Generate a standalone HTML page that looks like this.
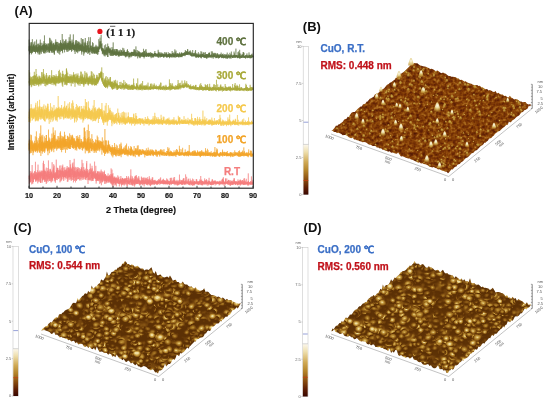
<!DOCTYPE html>
<html><head><meta charset="utf-8">
<style>
html,body{margin:0;padding:0;background:#fff;width:550px;height:405px;overflow:hidden}
svg{display:block}
text{font-family:"Liberation Sans",Arial,sans-serif}
.pl{font-size:13px;font-weight:bold;fill:#111}
.tl{font-size:7.3px;font-weight:bold;fill:#111;stroke:#111;stroke-width:0.15px}
.lab{font-size:10px;font-weight:bold;stroke-width:0.25px}
.ax{font-size:8.8px;font-weight:bold;fill:#111;stroke:#111;stroke-width:0.15px}
.cb{font-size:4px;fill:#666}
.at{font-size:4px;fill:#555}
.h0{fill:url(#bh0)}.h1{fill:url(#bh1)}.h2{fill:url(#bh2)}.h3{fill:url(#bh3)}.h4{fill:url(#bh4)}.h5{fill:url(#bh5)}.h6{fill:url(#bh6)}
.t1{font-size:10px;font-weight:bold;fill:#3b6fc6;stroke:#3b6fc6;stroke-width:0.25px}
.t2{font-size:10px;font-weight:bold;fill:#c0121a;stroke:#c0121a;stroke-width:0.25px}
</style></head>
<body>
<svg width="550" height="405" viewBox="0 0 550 405" xmlns="http://www.w3.org/2000/svg">
<defs>
<linearGradient id="cbg" x1="0" y1="0" x2="0" y2="1">
<stop offset="0" stop-color="#fcf8ee"/><stop offset="0.15" stop-color="#eedfae"/><stop offset="0.35" stop-color="#d0aa56"/><stop offset="0.52" stop-color="#b4842a"/>
<stop offset="0.7" stop-color="#8a4e10"/><stop offset="0.86" stop-color="#5e1e04"/><stop offset="1" stop-color="#380600"/>
</linearGradient>
<radialGradient id="pkg" cx="0.5" cy="0.4" r="0.6">
<stop offset="0" stop-color="#d2b454"/><stop offset="0.5" stop-color="#b89030" stop-opacity="0.75"/><stop offset="1" stop-color="#a06818" stop-opacity="0"/>
</radialGradient>
<linearGradient id="pkc" x1="0" y1="0" x2="0" y2="1">
<stop offset="0" stop-color="#f4e4b8"/><stop offset="0.6" stop-color="#dcb868" stop-opacity="0.6"/><stop offset="1" stop-color="#c09040" stop-opacity="0"/>
</linearGradient>
<radialGradient id="gm" cx="0.45" cy="0.4" r="0.55"><stop offset="0" stop-color="#e2bc66"/><stop offset="0.5" stop-color="#c89438"/><stop offset="0.85" stop-color="#a06a1c" stop-opacity="0.8"/><stop offset="1" stop-color="#8a5010" stop-opacity="0"/></radialGradient>
<radialGradient id="gl" cx="0.45" cy="0.4" r="0.55"><stop offset="0" stop-color="#f2dc9e"/><stop offset="0.5" stop-color="#d8ae52"/><stop offset="0.85" stop-color="#aa7424" stop-opacity="0.8"/><stop offset="1" stop-color="#8a5010" stop-opacity="0"/></radialGradient>
<radialGradient id="gd" cx="0.45" cy="0.4" r="0.55"><stop offset="0" stop-color="#c8963e"/><stop offset="0.5" stop-color="#a8701e"/><stop offset="0.85" stop-color="#8a5212" stop-opacity="0.8"/><stop offset="1" stop-color="#7a4008" stop-opacity="0"/></radialGradient>
<radialGradient id="gp" cx="0.45" cy="0.4" r="0.55"><stop offset="0" stop-color="#fffaee"/><stop offset="0.45" stop-color="#eedcaa"/><stop offset="0.85" stop-color="#b88a3a" stop-opacity="0.8"/><stop offset="1" stop-color="#8a5010" stop-opacity="0"/></radialGradient>
<radialGradient id="blob"><stop offset="0" stop-color="#fff" stop-opacity="0.42"/><stop offset="0.45" stop-color="#fff" stop-opacity="0.3"/><stop offset="1" stop-color="#fff" stop-opacity="0"/></radialGradient>
<radialGradient id="bh0"><stop offset="0" stop-color="rgb(89,89,89)"/><stop offset="0.55" stop-color="rgb(55,55,55)"/><stop offset="1" stop-color="rgb(22,22,22)"/></radialGradient>
<radialGradient id="bh1"><stop offset="0" stop-color="rgb(127,127,127)"/><stop offset="0.55" stop-color="rgb(78,78,78)"/><stop offset="1" stop-color="rgb(31,31,31)"/></radialGradient>
<radialGradient id="bh2"><stop offset="0" stop-color="rgb(158,158,158)"/><stop offset="0.55" stop-color="rgb(97,97,97)"/><stop offset="1" stop-color="rgb(39,39,39)"/></radialGradient>
<radialGradient id="bh3"><stop offset="0" stop-color="rgb(188,188,188)"/><stop offset="0.55" stop-color="rgb(116,116,116)"/><stop offset="1" stop-color="rgb(47,47,47)"/></radialGradient>
<radialGradient id="bh4"><stop offset="0" stop-color="rgb(216,216,216)"/><stop offset="0.55" stop-color="rgb(133,133,133)"/><stop offset="1" stop-color="rgb(54,54,54)"/></radialGradient>
<radialGradient id="bh5"><stop offset="0" stop-color="rgb(242,242,242)"/><stop offset="0.55" stop-color="rgb(150,150,150)"/><stop offset="1" stop-color="rgb(60,60,60)"/></radialGradient>
<radialGradient id="bh6"><stop offset="0" stop-color="#fff"/><stop offset="0.55" stop-color="rgb(190,190,190)"/><stop offset="1" stop-color="rgb(80,80,80)"/></radialGradient>
<radialGradient id="pk" cx="0.5" cy="0.35" r="0.75">
<stop offset="0" stop-color="#fbf8e8"/><stop offset="0.3" stop-color="#eadaa0"/><stop offset="0.65" stop-color="#c8a040" stop-opacity="0.75"/><stop offset="1" stop-color="#a87020" stop-opacity="0"/>
</radialGradient>
</defs>
<rect width="550" height="405" fill="#fff"/>
<text x="14.6" y="15.3" class="pl">(A)</text>
<g>
<g transform="translate(29,0) scale(0.056014,0.2)"><path fill="none" stroke="#5f7240" stroke-width="0.5" stroke-linejoin="bevel" vector-effect="non-scaling-stroke" d="M0,231l1,17 1,6 1,-56 1,35 1,25 1,-5 1,-8 1,9 1,-23 1,41 1,-34 1,7 1,18 1,-34 1,20 1,-12 1,8 1,6 1,-38 1,20 1,-5 1,14 1,-11 1,32 1,-25 1,27 1,-25 1,8 1,-3 1,0 1,-14 1,15 1,3 1,-1 1,4 1,-17 1,6 1,-4 1,-15 1,27 1,-39 1,34 1,28 1,-25 1,-1 1,12 1,2 1,6 1,-53 1,53 1,-23 1,-12 1,3 1,24 1,-9 1,11 1,-26 1,7 1,-11 1,-34 1,48 1,20 1,-6 1,-23 1,18 1,-15 1,8 1,9 1,-15 1,-6 1,18 1,-10 1,-15 1,25 1,-10 1,7 1,-16 1,20 1,-24 1,11 1,-18 1,36 1,-12 1,-14 1,-8 1,4 1,12 1,19 1,-47 1,27 1,18 1,-27 1,16 1,-15 1,14 1,3 1,12 1,-14 1,-10 1,15 1,-7 1,-4 1,-3 1,23 1,-53 1,40 1,9 1,-18 1,0 1,12 1,-7 1,2 1,-6 1,2 1,14 1,13 1,-40 1,34 1,-9 1,6 1,-13 1,-11 1,7 1,-9 1,-9 1,19 1,4 1,-6 1,6 1,-21 1,31 1,-28 1,16 1,8 1,-55 1,52 1,9 1,-2 1,-11 1,-10 1,14 1,-15 1,12 1,0 1,12 1,-10 1,-3 1,15 1,-18 1,-5 1,0 1,24 1,-18 1,-7 1,-16 1,11 1,16 1,3 1,13 1,-28 1,14 1,-7 1,-26 1,55 1,-42 1,-2 1,27 1,-6 1,10 1,-7 1,-4 1,-6 1,-7 1,16 1,-30 1,21 1,11 1,-23 1,24 1,-7 1,-2 1,-3 1,9 1,-12 1,2 1,28 1,-7 1,-6 1,5 1,-1 1,-33 1,47 1,-49 1,21 1,-15 1,20 1,-2 1,-2 1,-33 1,39 1,-6 1,-49 1,64 1,-20 1,-7 1,0 1,2 1,11 1,-12 1,-3 1,-3 1,23 1,-8 1,-10 1,2 1,-4 1,37 1,-22 1,-2 1,16 1,-26 1,-5 1,7 1,8 1,-5 1,-2 1,6 1,-7 1,-24 1,38 1,-12 1,0 1,0 1,8 1,-18 1,4 1,-8 1,3 1,18 1,-10 1,-5 1,-5 1,31 1,-20 1,8 1,-4 1,-10 1,16 1,-13 1,24 1,-9 1,-32 1,22 1,1 1,1 1,-14 1,-5 1,18 1,6 1,-19 1,37 1,-38 1,10 1,30 1,-43 1,-18 1,24 1,27 1,-23 1,17 1,-5 1,-24 1,22 1,-16 1,24 1,-75 1,24 1,45 1,-9 1,28 1,-6 1,-37 1,22 1,-5 1,29 1,-32 1,-1 1,-20 1,25 1,-9 1,14 1,-9 1,-4 1,28 1,-16 1,-15 1,-4 1,13 1,-11 1,-1 1,29 1,-15 1,-5 1,8 1,-8 1,8 1,21 1,-22 1,-20 1,6 1,21 1,-9 1,7 1,-25 1,15 1,6 1,5 1,-3 1,-7 1,19 1,-16 1,-24 1,9 1,15 1,3 1,-18 1,1 1,19 1,-1 1,1 1,4 1,-8 1,-10 1,25 1,-3 1,8 1,-15 1,-4 1,2 1,1 1,-26 1,20 1,-2 1,9 1,-11 1,2 1,-1 1,-20 1,29 1,-9 1,1 1,17 1,0 1,-17 1,24 1,-11 1,-10 1,-10 1,0 1,22 1,-35 1,44 1,-19 1,-6 1,24 1,-17 1,-18 1,7 1,-44 1,37 1,38 1,-22 1,-10 1,18 1,-3 1,-55 1,36 1,-12 1,35 1,-14 1,14 1,-11 1,-25 1,17 1,12 1,-12 1,14 1,-36 1,20 1,21 1,-34 1,36 1,-54 1,34 1,22 1,-21 1,19 1,-19 1,-3 1,22 1,1 1,-16 1,-25 1,49 1,-28 1,22 1,-51 1,24 1,13 1,-2 1,24 1,-44 1,14 1,10 1,2 1,-5 1,2 1,10 1,-19 1,0 1,5 1,10 1,-26 1,40 1,-27 1,-3 1,3 1,-9 1,2 1,7 1,-22 1,35 1,-14 1,1 1,9 1,-28 1,21 1,14 1,8 1,-42 1,5 1,9 1,23 1,9 1,-27 1,-16 1,20 1,8 1,1 1,-6 1,25 1,-30 1,35 1,-48 1,31 1,-4 1,-4 1,-19 1,8 1,-13 1,15 1,3 1,3 1,-22 1,6 1,-17 1,27 1,-14 1,26 1,-20 1,13 1,-11 1,4 1,-2 1,-12 1,25 1,-52 1,57 1,-45 1,23 1,12 1,5 1,-34 1,25 1,0 1,1 1,-8 1,-5 1,12 1,5 1,-3 1,-5 1,-9 1,19 1,-37 1,19 1,-20 1,13 1,18 1,16 1,-11 1,4 1,-17 1,-7 1,8 1,-1 1,31 1,-7 1,-8 1,-11 1,-15 1,12 1,-24 1,19 1,14 1,16 1,4 1,-27 1,3 1,3 1,-12 1,24 1,-10 1,-5 1,6 1,-13 1,3 1,18 1,-3 1,-10 1,-26 1,54 1,-24 1,-24 1,6 1,19 1,0 1,-3 1,11 1,-36 1,34 1,-17 1,-2 1,6 1,6 1,-3 1,-7 1,2 1,37 1,-29 1,-10 1,19 1,-4 1,-34 1,38 1,-31 1,12 1,26 1,-37 1,9 1,-4 1,-27 1,26 1,-17 1,32 1,-17 1,21 1,-20 1,-13 1,35 1,-11 1,7 1,-15 1,7 1,17 1,-35 1,16 1,-17 1,35 1,-14 1,-14 1,-8 1,21 1,1 1,-4 1,18 1,-28 1,21 1,9 1,-25 1,17 1,8 1,-84 1,58 1,-7 1,21 1,16 1,-39 1,17 1,30 1,-38 1,15 1,-3 1,-11 1,17 1,-6 1,-6 1,-2 1,-35 1,30 1,-1 1,3 1,10 1,1 1,-22 1,28 1,-26 1,-7 1,18 1,8 1,8 1,-26 1,10 1,16 1,-13 1,15 1,-6 1,-26 1,8 1,21 1,-40 1,39 1,-12 1,-9 1,38 1,-38 1,3 1,4 1,0 1,10 1,-1 1,-34 1,34 1,8 1,-2 1,-6 1,-24 1,28 1,-15 1,-7 1,13 1,7 1,-20 1,-1 1,15 1,-35 1,27 1,9 1,-41 1,54 1,-14 1,-24 1,12 1,25 1,1 1,0 1,-19 1,-8 1,19 1,-10 1,-1 1,-6 1,13 1,-15 1,-7 1,41 1,-24 1,16 1,-13 1,3 1,-3 1,24 1,-22 1,-1 1,-6 1,-4 1,21 1,-24 1,-9 1,21 1,3 1,-20 1,18 1,-4 1,-19 1,-7 1,30 1,-10 1,16 1,-26 1,30 1,-23 1,15 1,18 1,-24 1,-2 1,-3 1,-12 1,16 1,-16 1,-1 1,-3 1,31 1,-11 1,16 1,-21 1,-41 1,39 1,-3 1,3 1,-21 1,44 1,0 1,-20 1,7 1,18 1,-19 1,-25 1,16 1,24 1,-27 1,27 1,-20 1,13 1,-14 1,-56 1,23 1,13 1,33 1,-33 1,25 1,-27 1,33 1,11 1,-15 1,-4 1,7 1,2 1,5 1,-16 1,20 1,-27 1,11 1,8 1,-4 1,7 1,-4 1,-1 1,20 1,-23 1,-20 1,17 1,4 1,-9 1,0 1,2 1,-23 1,48 1,-57 1,24 1,11 1,-1 1,-1 1,14 1,-31 1,20 1,11 1,-23 1,22 1,-8 1,-20 1,8 1,22 1,-19 1,10 1,-2 1,-13 1,28 1,-6 1,-3 1,-7 1,-62 1,52 1,23 1,-36 1,37 1,-8 1,2 1,-6 1,-12 1,2 1,8 1,8 1,9 1,-11 1,3 1,-16 1,20 1,-4 1,15 1,-10 1,-11 1,-14 1,23 1,-20 1,15 1,8 1,-2 1,-23 1,1 1,26 1,-6 1,25 1,-50 1,-3 1,6 1,-16 1,24 1,10 1,0 1,-7 1,-12 1,19 1,-10 1,18 1,-16 1,-33 1,52 1,0 1,5 1,-31 1,23 1,5 1,-14 1,-39 1,35 1,8 1,-17 1,12 1,11 1,11 1,-5 1,-29 1,-9 1,40 1,-5 1,-16 1,-19 1,38 1,-24 1,-27 1,31 1,-8 1,-9 1,4 1,15 1,1 1,-19 1,46 1,-14 1,-7 1,1 1,-33 1,26 1,6 1,-5 1,2 1,3 1,12 1,-6 1,-19 1,20 1,-19 1,8 1,2 1,-23 1,16 1,-28 1,35 1,-34 1,13 1,7 1,28 1,-16 1,-11 1,15 1,-4 1,5 1,-32 1,21 1,-8 1,29 1,-8 1,-12 1,2 1,0 1,-5 1,-5 1,-4 1,29 1,-26 1,18 1,5 1,-4 1,-7 1,8 1,-23 1,4 1,21 1,-23 1,27 1,-24 1,-12 1,17 1,-2 1,20 1,-22 1,21 1,-8 1,1 1,0 1,4 1,-58 1,65 1,-34 1,11 1,0 1,18 1,-19 1,31 1,-33 1,44 1,-24 1,3 1,-6 1,6 1,-19 1,-8 1,27 1,-2 1,-13 1,-14 1,17 1,4 1,4 1,-52 1,50 1,11 1,-17 1,-4 1,-1 1,8 1,-31 1,45 1,-19 1,-42 1,49 1,-9 1,23 1,-11 1,-11 1,-8 1,14 1,-3 1,1 1,3 1,34 1,-45 1,13 1,7 1,5 1,-17 1,6 1,-7 1,28 1,-32 1,11 1,-33 1,38 1,-17 1,27 1,-25 1,5 1,-9 1,14 1,-11 1,-14 1,-1 1,20 1,16 1,0 1,-48 1,32 1,3 1,-54 1,60 1,11 1,0 1,-11 1,-22 1,9 1,-21 1,41 1,-13 1,16 1,-6 1,-11 1,10 1,-9 1,-17 1,23 1,-3 1,0 1,17 1,-30 1,-7 1,29 1,3 1,-6 1,-6 1,2 1,-1 1,-1 1,-5 1,18 1,-21 1,-9 1,16 1,-9 1,-23 1,38 1,-20 1,2 1,-28 1,29 1,6 1,1 1,-11 1,-1 1,40 1,-26 1,-3 1,11 1,-4 1,-7 1,1 1,1 1,-2 1,25 1,-23 1,9 1,0 1,-27 1,34 1,-10 1,-63 1,78 1,-6 1,-8 1,-11 1,-3 1,9 1,-3 1,16 1,-4 1,5 1,-10 1,-4 1,-1 1,0 1,1 1,6 1,-1 1,-43 1,68 1,-26 1,-9 1,5 1,14 1,-2 1,-8 1,10 1,-4 1,-22 1,-11 1,-36 1,63 1,-17 1,-2 1,11 1,6 1,0 1,-19 1,18 1,4 1,-4 1,-14 1,1 1,-2 1,23 1,-13 1,1 1,15 1,10 1,-3 1,-22 1,-2 1,5 1,5 1,2 1,-24 1,34 1,-4 1,-15 1,11 1,-13 1,7 1,17 1,-31 1,9 1,-7 1,9 1,7 1,-41 1,58 1,-30 1,18 1,-12 1,8 1,-6 1,-1 1,-3 1,3 1,-8 1,4 1,-26 1,30 1,-7 1,7 1,-6 1,21 1,-14 1,1 1,15 1,-25 1,13 1,-16 1,6 1,0 1,28 1,-27 1,16 1,-2 1,10 1,-18 1,-12 1,2 1,29 1,-9 1,9 1,-1 1,-11 1,-4 1,7 1,-21 1,11 1,3 1,9 1,-27 1,-2 1,33 1,-6 1,-11 1,-1 1,5 1,-17 1,8 1,20 1,0 1,7 1,-13 1,8 1,-28 1,0 1,-12 1,5 1,2 1,27 1,1 1,-23 1,-2 1,28 1,4 1,-28 1,16 1,13 1,-12 1,14 1,-16 1,1 1,-17 1,-8 1,12 1,0 1,22 1,-26 1,13 1,2 1,6 1,-5 1,21 1,-33 1,1 1,12 1,9 1,-27 1,8 1,8 1,-8 1,9 1,-21 1,40 1,-17 1,-3 1,-12 1,19 1,-21 1,7 1,4 1,-15 1,18 1,-3 1,10 1,-6 1,7 1,-64 1,52 1,-5 1,2 1,-8 1,5 1,-6 1,0 1,9 1,-10 1,-1 1,4 1,0 1,3 1,-34 1,30 1,-11 1,-1 1,0 1,23 1,-17 1,-3 1,-40 1,44 1,-10 1,8 1,13 1,-14 1,-11 1,16 1,2 1,-11 1,-16 1,10 1,11 1,-25 1,22 1,4 1,-8 1,-4 1,21 1,-9 1,-57 1,59 1,6 1,-8 1,-11 1,21 1,3 1,-7 1,0 1,16 1,-14 1,10 1,3 1,-13 1,12 1,0 1,-34 1,27 1,14 1,-4 1,-11 1,17 1,11 1,-27 1,11 1,12 1,-27 1,15 1,-1 1,-5 1,11 1,3 1,-8 1,-13 1,4 1,1 1,14 1,-8 1,6 1,12 1,-7 1,-14 1,6 1,-7 1,15 1,-16 1,4 1,-9 1,15 1,18 1,-23 1,0 1,-1 1,7 1,2 1,20 1,-11 1,-10 1,-33 1,44 1,-8 1,-12 1,10 1,-2 1,10 1,-6 1,-12 1,11 1,12 1,-12 1,-7 1,-1 1,28 1,-11 1,-21 1,14 1,7 1,-4 1,-13 1,4 1,-18 1,-18 1,23 1,22 1,-10 1,-10 1,27 1,-6 1,-15 1,-14 1,3 1,15 1,-11 1,12 1,9 1,9 1,-9 1,-5 1,0 1,-25 1,32 1,-12 1,0 1,-21 1,21 1,-13 1,12 1,20 1,-24 1,3 1,0 1,7 1,-13 1,2 1,-5 1,39 1,-32 1,-35 1,29 1,12 1,-4 1,-16 1,46 1,-32 1,0 1,8 1,-24 1,17 1,-10 1,5 1,2 1,-19 1,17 1,-5 1,-12 1,23 1,-5 1,16 1,-15 1,4 1,-2 1,-4 1,18 1,-11 1,-1 1,4 1,1 1,-16 1,21 1,-23 1,9 1,8 1,5 1,-19 1,20 1,-8 1,19 1,-33 1,-5 1,13 1,2 1,3 1,-4 1,10 1,-3 1,-10 1,31 1,-24 1,-13 1,14 1,4 1,-3 1,0 1,15 1,-17 1,1 1,0 1,2 1,-3 1,8 1,9 1,-9 1,0 1,-7 1,2 1,-9 1,30 1,-19 1,-6 1,9 1,-2 1,12 1,-6 1,-14 1,-19 1,17 1,11 1,-13 1,30 1,-12 1,-2 1,-22 1,24 1,-11 1,9 1,-16 1,28 1,-23 1,6 1,1 1,-13 1,-1 1,17 1,5 1,-6 1,-52 1,51 1,-5 1,16 1,-1 1,-12 1,16 1,-15 1,6 1,10 1,-6 1,-8 1,-19 1,22 1,-3 1,5 1,-12 1,14 1,-9 1,12 1,-15 1,13 1,-5 1,2 1,2 1,2 1,-14 1,-9 1,15 1,5 1,-25 1,30 1,-16 1,9 1,-1 1,-4 1,13 1,-20 1,2 1,4 1,6 1,-9 1,19 1,-11 1,-1 1,-3 1,11 1,3 1,-32 1,0 1,12 1,13 1,-2 1,-9 1,4 1,0 1,10 1,-14 1,11 1,-9 1,-5 1,-10 1,34 1,-14 1,-8 1,16 1,-29 1,26 1,-4 1,1 1,4 1,2 1,-23 1,-4 1,26 1,2 1,-11 1,2 1,-6 1,-8 1,10 1,9 1,-5 1,10 1,-14 1,9 1,-6 1,5 1,-9 1,5 1,0 1,3 1,14 1,-26 1,17 1,-13 1,7 1,-3 1,2 1,12 1,-14 1,16 1,-23 1,10 1,-18 1,8 1,12 1,-8 1,12 1,-13 1,8 1,0 1,13 1,-11 1,-8 1,-9 1,12 1,7 1,-1 1,-11 1,8 1,3 1,-7 1,3 1,-1 1,1 1,8 1,-28 1,0 1,28 1,-12 1,13 1,3 1,-16 1,-2 1,14 1,0 1,-5 1,3 1,-9 1,6 1,-6 1,9 1,-12 1,-1 1,9 1,-20 1,30 1,-25 1,11 1,-1 1,2 1,-15 1,21 1,-2 1,-1 1,2 1,6 1,-12 1,-3 1,12 1,-15 1,5 1,-4 1,4 1,-3 1,14 1,-3 1,-13 1,8 1,-7 1,-22 1,30 1,-9 1,8 1,-3 1,15 1,-14 1,-7 1,8 1,-7 1,10 1,2 1,-8 1,-5 1,4 1,12 1,-16 1,9 1,-5 1,-21 1,32 1,-19 1,24 1,-9 1,4 1,-10 1,-4 1,-10 1,14 1,9 1,-3 1,1 1,-10 1,3 1,13 1,-18 1,1 1,21 1,-7 1,2 1,-9 1,-6 1,7 1,3 1,7 1,4 1,-16 1,8 1,-10 1,2 1,1 1,-7 1,1 1,26 1,-25 1,20 1,-18 1,9 1,-14 1,25 1,-10 1,-14 1,10 1,5 1,-15 1,20 1,-12 1,2 1,-11 1,9 1,10 1,-8 1,-4 1,-4 1,3 1,12 1,-13 1,-2 1,16 1,-8 1,-20 1,32 1,-10 1,-9 1,-17 1,29 1,1 1,-7 1,6 1,-4 1,-13 1,16 1,-5 1,1 1,-3 1,9 1,-5 1,-16 1,14 1,15 1,-20 1,0 1,7 1,2 1,0 1,-6 1,2 1,0 1,7 1,-7 1,5 1,18 1,-19 1,-1 1,0 1,-8 1,0 1,2 1,18 1,-17 1,16 1,-15 1,-6 1,8 1,12 1,3 1,-14 1,0 1,-1 1,1 1,1 1,2 1,-6 1,1 1,3 1,-2 1,-4 1,14 1,-12 1,2 1,0 1,0 1,-3 1,4 1,16 1,-21 1,0 1,11 1,-16 1,0 1,4 1,-1 1,-4 1,16 1,-13 1,9 1,-4 1,8 1,-8 1,15 1,-24 1,22 1,-18 1,11 1,6 1,-4 1,-14 1,-1 1,5 1,0 1,11 1,-4 1,-13 1,14 1,-4 1,5 1,-6 1,-4 1,-2 1,10 1,-13 1,4 1,14 1,1 1,-3 1,-10 1,14 1,-21 1,2 1,9 1,5 1,-13 1,15 1,-7 1,0 1,-2 1,12 1,-14 1,-5 1,13 1,2 1,-3 1,-26 1,26 1,-26 1,17 1,12 1,-4 1,-21 1,20 1,-5 1,7 1,-2 1,5 1,-7 1,-7 1,3 1,9 1,6 1,-16 1,-7 1,27 1,-13 1,7 1,-3 1,-6 1,-1 1,-3 1,-2 1,-12 1,25 1,4 1,-12 1,6 1,4 1,-46 1,39 1,9 1,-5 1,-2 1,1 1,-14 1,21 1,-9 1,-1 1,9 1,1 1,-6 1,2 1,-7 1,0 1,7 1,2 1,-14 1,9 1,-4 1,-2 1,-18 1,15 1,1 1,8 1,1 1,3 1,-11 1,-1 1,5 1,21 1,-22 1,-4 1,-3 1,11 1,7 1,-10 1,0 1,-17 1,13 1,4 1,10 1,-17 1,6 1,3 1,8 1,-5 1,-10 1,-4 1,9 1,5 1,-21 1,23 1,-13 1,16 1,-13 1,14 1,-21 1,17 1,-4 1,14 1,-15 1,-14 1,18 1,-6 1,-2 1,14 1,-4 1,-3 1,-1 1,2 1,9 1,5 1,-19 1,-5 1,-4 1,4 1,8 1,-8 1,2 1,3 1,15 1,-13 1,3 1,-9 1,-6 1,18 1,-5 1,3 1,-5 1,8 1,-8 1,3 1,9 1,-2 1,-16 1,4 1,3 1,-3 1,3 1,6 1,-1 1,-12 1,13 1,-14 1,5 1,11 1,-19 1,3 1,6 1,-5 1,5 1,-10 1,13 1,-1 1,-6 1,-2 1,5 1,-9 1,6 1,16 1,-11 1,-6 1,15 1,-10 1,3 1,6 1,-10 1,-8 1,12 1,8 1,-6 1,0 1,-8 1,-25 1,41 1,-3 1,-8 1,8 1,-9 1,11 1,-17 1,9 1,-18 1,15 1,19 1,-22 1,14 1,-27 1,27 1,-12 1,0 1,-18 1,21 1,0 1,3 1,-8 1,9 1,4 1,-13 1,-1 1,11 1,-4 1,4 1,-11 1,3 1,6 1,-7 1,6 1,-2 1,-6 1,4 1,-4 1,-18 1,20 1,13 1,-10 1,3 1,-32 1,26 1,4 1,-11 1,2 1,2 1,14 1,-10 1,-5 1,4 1,8 1,-6 1,12 1,-26 1,14 1,4 1,4 1,-4 1,-5 1,9 1,0 1,-14 1,1 1,13 1,-1 1,-12 1,-2 1,9 1,4 1,-4 1,-5 1,7 1,-8 1,2 1,4 1,4 1,0 1,-5 1,1 1,9 1,-19 1,12 1,-10 1,14 1,-5 1,-3 1,11 1,-10 1,2 1,-7 1,9 1,-14 1,9 1,7 1,-16 1,8 1,4 1,1 1,-13 1,9 1,5 1,-8 1,-2 1,-2 1,16 1,1 1,0 1,-16 1,9 1,3 1,-4 1,-4 1,10 1,-3 1,3 1,-1 1,-7 1,5 1,-5 1,-5 1,9 1,-16 1,23 1,-4 1,-6 1,5 1,-5 1,3 1,-7 1,6 1,-7 1,2 1,20 1,-11 1,-8 1,8 1,-11 1,6 1,-4 1,-7 1,12 1,-9 1,14 1,-11 1,-3 1,10 1,0 1,6 1,-5 1,9 1,-5 1,-7 1,4 1,-3 1,11 1,-20 1,8 1,5 1,-10 1,11 1,-13 1,15 1,-5 1,-3 1,1 1,-6 1,11 1,-1 1,-10 1,8 1,-2 1,0 1,-6 1,16 1,-4 1,-9 1,4 1,10 1,-11 1,0 1,3 1,1 1,-4 1,1 1,5 1,-8 1,-2 1,4 1,-10 1,4 1,8 1,-14 1,14 1,-4 1,2 1,-8 1,-2 1,1 1,15 1,-27 1,17 1,8 1,1 1,-8 1,-6 1,5 1,3 1,-1 1,1 1,-9 1,6 1,-2 1,11 1,-10 1,-5 1,12 1,5 1,-2 1,-1 1,-1 1,-3 1,-4 1,-1 1,7 1,4 1,-1 1,-11 1,12 1,-7 1,4 1,1 1,-9 1,4 1,4 1,-8 1,2 1,5 1,-12 1,2 1,5 1,-4 1,3 1,11 1,-5 1,3 1,-10 1,9 1,-4 1,4 1,-7 1,5 1,1 1,7 1,-7 1,-7 1,-2 1,16 1,-13 1,-24 1,24 1,8 1,-13 1,3 1,17 1,-13 1,0 1,-3 1,-13 1,14 1,2 1,-7 1,3 1,6 1,10 1,-14 1,-9 1,9 1,2 1,-13 1,20 1,-7 1,1 1,-3 1,9 1,-11 1,2 1,3 1,1 1,-7 1,4 1,0 1,5 1,-6 1,0 1,13 1,-4 1,5 1,-2 1,-5 1,2 1,-14 1,2 1,5 1,6 1,-19 1,12 1,-4 1,14 1,-13 1,7 1,-1 1,-2 1,2 1,1 1,7 1,-13 1,3 1,-3 1,12 1,-3 1,-3 1,0 1,-15 1,16 1,3 1,-1 1,-4 1,5 1,-5 1,-12 1,18 1,-8 1,-5 1,10 1,-3 1,-1 1,1 1,4 1,-3 1,-6 1,0 1,10 1,-11 1,1 1,5 1,-2 1,4 1,-11 1,9 1,4 1,3 1,-8 1,3 1,1 1,8 1,-15 1,13 1,-13 1,6 1,4 1,-12 1,9 1,-11 1,12 1,-3 1,9 1,-8 1,1 1,-3 1,5 1,-21 1,6 1,11 1,3 1,0 1,-4 1,-6 1,-1 1,1 1,6 1,4 1,-6 1,8 1,-1 1,-6 1,-5 1,6 1,-2 1,0 1,6 1,-5 1,0 1,3 1,1 1,-18 1,22 1,-13 1,3 1,2 1,-3 1,5 1,-10 1,5 1,-6 1,17 1,-22 1,26 1,-16 1,14 1,-15 1,7 1,-3 1,0 1,1 1,9 1,-3 1,0 1,-9 1,6 1,3 1,-10 1,8 1,5 1,-5 1,-1 1,2 1,-7 1,10 1,4 1,-10 1,2 1,-7 1,3 1,0 1,-2 1,10 1,-7 1,1 1,-17 1,12 1,5 1,5 1,2 1,-14 1,9 1,5 1,-15 1,6 1,-5 1,8 1,1 1,-1 1,-6 1,8 1,-7 1,10 1,-6 1,-9 1,9 1,3 1,-15 1,25 1,-16 1,-6 1,15 1,-7 1,7 1,-4 1,-2 1,10 1,-11 1,-7 1,14 1,1 1,-16 1,1 1,15 1,-7 1,-3 1,1 1,3 1,-2 1,-4 1,8 1,-12 1,2 1,8 1,-11 1,10 1,0 1,2 1,0 1,-5 1,2 1,5 1,-3 1,7 1,-10 1,0 1,11 1,-7 1,-2 1,-7 1,9 1,-9 1,4 1,2 1,7 1,-29 1,25 1,-4 1,1 1,5 1,-4 1,3 1,0 1,-15 1,4 1,-4 1,0 1,10 1,1 1,6 1,6 1,-19 1,14 1,1 1,-4 1,-12 1,3 1,1 1,7 1,5 1,-22 1,12 1,3 1,2 1,-6 1,10 1,-4 1,4 1,-11 1,8 1,-9 1,10 1,-4 1,4 1,-1 1,0 1,-5 1,11 1,-17 1,15 1,-6 1,-3 1,-6 1,-23 1,28 1,-9 1,14 1,-10 1,4 1,-15 1,29 1,-10 1,2 1,-1 1,0 1,-2 1,-10 1,19 1,-5 1,-9 1,8 1,-9 1,0 1,-1 1,-17 1,17 1,1 1,6 1,-6 1,5 1,-4 1,14 1,-9 1,8 1,-9 1,6 1,-7 1,1 1,8 1,-1 1,-13 1,-5 1,13 1,-4 1,5 1,4 1,-2 1,-5 1,-9 1,16 1,-2 1,-6 1,3 1,0 1,-1 1,-6 1,8 1,-11 1,9 1,1 1,-5 1,1 1,-3 1,14 1,-9 1,10 1,-16 1,12 1,1 1,-2 1,0 1,-3 1,9 1,-15 1,-4 1,0 1,7 1,-1 1,1 1,0 1,3 1,-11 1,13 1,-9 1,6 1,3 1,6 1,-24 1,6 1,12 1,2 1,-4 1,-1 1,-8 1,2 1,8 1,-8 1,7 1,-5 1,1 1,2 1,5 1,-3 1,-2 1,2 1,6 1,-13 1,15 1,-3 1,-6 1,6 1,-5 1,-1 1,7 1,-3 1,-17 1,12 1,5 1,-13 1,7 1,-11 1,19 1,-6 1,2 1,-2 1,3 1,-18 1,19 1,-9 1,3 1,11 1,-14 1,5 1,4 1,-10 1,5 1,-1 1,2 1,4 1,-2 1,-1 1,-12 1,9 1,-5 1,4 1,0 1,4 1,-4 1,0 1,-3 1,-3 1,7 1,-9 1,5 1,-5 1,3 1,0 1,10 1,-1 1,-6 1,-3 1,8 1,-11 1,9 1,-5 1,8 1,-2 1,-5 1,2 1,-4 1,-7 1,11 1,3 1,-1 1,-6 1,-1 1,-5 1,14 1,-11 1,3 1,-1 1,-6 1,2 1,17 1,-11 1,-4 1,1 1,4 1,-1 1,-7 1,-13 1,26 1,-5 1,5 1,-20 1,6 1,5 1,5 1,2 1,0 1,-1 1,-10 1,10 1,-5 1,-1 1,0 1,5 1,3 1,-7 1,5 1,-13 1,7 1,-10 1,12 1,-11 1,14 1,-15 1,15 1,-13 1,6 1,9 1,-9 1,-1 1,7 1,0 1,-8 1,2 1,3 1,3 1,-25 1,28 1,-9 1,-1 1,5 1,-22 1,24 1,3 1,-4 1,-5 1,0 1,-5 1,5 1,1 1,6 1,-6 1,4 1,1 1,0 1,-12 1,0 1,5 1,1 1,2 1,2 1,7 1,-15 1,8 1,0 1,-11 1,9 1,1 1,2 1,-2 1,0 1,4 1,-6 1,-1 1,4 1,-5 1,-9 1,15 1,-3 1,6 1,-4 1,-5 1,12 1,-2 1,-1 1,-21 1,22 1,0 1,-3 1,-7 1,8 1,6 1,2 1,-3 1,0 1,-9 1,6 1,-10 1,2 1,5 1,-12 1,16 1,-5 1,9 1,-2 1,-4 1,-6 1,4 1,9 1,-7 1,9 1,-9 1,2 1,-1 1,-1 1,-4 1,12 1,0 1,-6 1,7 1,-5 1,-10 1,4 1,-1 1,2 1,-8 1,4 1,2 1,-20 1,26 1,5 1,-3 1,3 1,-8 1,3 1,2 1,-3 1,0 1,0 1,-2 1,4 1,-7 1,-5 1,15 1,-7 1,9 1,-4 1,1 1,0 1,-9 1,9 1,-9 1,4 1,-8 1,1 1,8 1,3 1,-5 1,1 1,8 1,-7 1,5 1,-1 1,-5 1,0 1,-9 1,12 1,1 1,-4 1,4 1,-10 1,3 1,-13 1,19 1,3 1,2 1,2 1,-8 1,-3 1,3 1,-26 1,37 1,-10 1,-6 1,6 1,-5 1,8 1,-5 1,3 1,9 1,2 1,-9 1,-4 1,5 1,0 1,-12 1,5 1,0 1,12 1,-3 1,2 1,-11 1,-8 1,12 1,3 1,6 1,-3 1,-7 1,5 1,4 1,-2 1,-5 1,6 1,-9 1,1 1,5 1,-1 1,-6 1,5 1,1 1,-12 1,14 1,-11 1,-2 1,7 1,2 1,6 1,-11 1,0 1,7 1,-20 1,29 1,-13 1,5 1,-3 1,4 1,-5 1,-1 1,0 1,3 1,2 1,-4 1,1 1,6 1,-7 1,-1 1,-3 1,9 1,0 1,0 1,3 1,-10 1,4 1,1 1,-1 1,-12 1,17 1,-8 1,5 1,0 1,-2 1,-7 1,5 1,-4 1,10 1,-9 1,1 1,10 1,-9 1,7 1,-9 1,13 1,-3 1,-9 1,-6 1,15 1,-29 1,18 1,13 1,-7 1,2 1,-4 1,14 1,-21 1,16 1,-10 1,0 1,-4 1,0 1,4 1,-1 1,-1 1,-16 1,20 1,1 1,3 1,-1 1,-4 1,0 1,4 1,1 1,-8 1,-3 1,11 1,-8 1,-4 1,12 1,-13 1,5 1,4 1,6 1,-6 1,-6 1,5 1,4 1,-16 1,15 1,-4 1,10 1,-5 1,1 1,-8 1,6 1,-2 1,7 1,-5 1,2 1,-23 1,9 1,12 1,6 1,-10 1,1 1,3 1,-16 1,20 1,-3 1,4 1,-11 1,5 1,9 1,-14 1,5 1,1 1,-1 1,6 1,-9 1,-2 1,13 1,-6 1,-5 1,4 1,-3 1,3 1,-1 1,7 1,-26 1,26 1,-4 1,-4 1,4 1,-3 1,5 1,-4 1,-8 1,7 1,-8 1,18 1,-2 1,-10 1,-3 1,12 1,-17 1,13 1,9 1,-11 1,2 1,3 1,-3 1,-6 1,4 1,13 1,-23 1,11 1,-1 1,1 1,-10 1,10 1,4 1,-16 1,8 1,3 1,-1 1,-1 1,0 1,9 1,-9 1,-1 1,3 1,-9 1,14 1,-10 1,10 1,0 1,-4 1,-8 1,14 1,-5 1,2 1,0 1,-6 1,1 1,-7 1,4 1,4 1,-1 1,-3 1,1 1,-11 1,17 1,-20 1,23 1,-23 1,23 1,-7 1,-15 1,19 1,-21 1,14 1,-3 1,6 1,4 1,-5 1,1 1,6 1,-5 1,1 1,-3 1,-3 1,-3 1,12 1,-5 1,0 1,4 1,-8 1,11 1,-8 1,-1 1,9 1,-6 1,4 1,-4 1,-3 1,1 1,-2 1,3 1,1 1,3 1,-7 1,-3 1,4 1,-21 1,25 1,5 1,-15 1,6 1,2 1,-5 1,3 1,2 1,1 1,4 1,-5 1,11 1,-5 1,-3 1,3 1,0 1,-2 1,-27 1,27 1,-5 1,1 1,2 1,-1 1,1 1,-4 1,5 1,2 1,0 1,-6 1,-13 1,17 1,-19 1,13 1,8 1,8 1,-18 1,8 1,-1 1,1 1,-12 1,9 1,2 1,0 1,-13 1,14 1,-2 1,-5 1,10 1,-13 1,9 1,-1 1,4 1,-4 1,-3 1,4 1,-4 1,-4 1,-1 1,6 1,2 1,3 1,-19 1,12 1,-13 1,17 1,2 1,4 1,-6 1,-5 1,1 1,-3 1,4 1,13 1,-4 1,-6 1,2 1,-2 1,-3 1,-1 1,-11 1,10 1,-5 1,11 1,0 1,-9 1,13 1,-2 1,0 1,-5 1,9 1,-10 1,7 1,5 1,-8 1,-3 1,0 1,9 1,-4 1,-3 1,10 1,-13 1,-7 1,11 1,-5 1,2 1,1 1,-15 1,10 1,-1 1,1 1,13 1,-12 1,1 1,8 1,-6 1,-10 1,3 1,6 1,5 1,5 1,-5 1,-3 1,-4 1,2 1,-5 1,15 1,-6 1,5 1,-7 1,13 1,-6 1,-7 1,-2 1,-3 1,2 1,6 1,-10 1,9 1,5 1,-4 1,-1 1,-4 1,11 1,-8 1,7 1,-4 1,5 1,-2 1,-9 1,6 1,-3 1,5 1,-16 1,11 1,-2 1,4 1,-8 1,8 1,-4 1,6 1,-5 1,0 1,2 1,-1 1,-10 1,14 1,-3 1,-1 1,2 1,-4 1,4 1,-8 1,2 1,5 1,-19 1,19 1,8 1,-2 1,-2 1,-7 1,-1 1,4 1,4 1,-7 1,3 1,0 1,9 1,-19 1,4 1,10 1,-2 1,-7 1,11 1,-11 1,-2 1,7 1,1 1,-1 1,4 1,-16 1,9 1,0 1,-5 1,7 1,9 1,-8 1,7 1,-10 1,5 1,0 1,-16 1,9 1,-1 1,8 1,-8 1,10 1,-4 1,-4 1,-1 1,15 1,-6 1,-4 1,8 1,-9 1,3 1,-3 1,4 1,0 1,3 1,0 1,-5 1,-2 1,2 1,3 1,-1 1,-6 1,1 1,3 1,6 1,-17 1,7 1,-8 1,17 1,-5 1,1 1,1 1,-8 1,-1 1,12 1,-4 1,4 1,-5 1,3 1,-1 1,-3 1,6 1,-6 1,-2 1,-4 1,8 1,10 1,-6 1,-12 1,1 1,-6 1,9 1,0 1,-1 1,-3 1,3 1,-5 1,6 1,7 1,-3 1,-3 1,8 1,-12 1,3 1,4 1,5 1,-9 1,14 1,-14 1,-17 1,6 1,13 1,5 1,-1 1,-7 1,4 1,-1 1,5 1,6 1,-7 1,-5 1,6 1,1 1,-9 1,8 1,-6 1,0 1,5 1,-12 1,1 1,10 1,-13 1,6 1,0 1,9 1,-8 1,8 1,-5 1,1 1,-4 1,8 1,0 1,-1 1,-5 1,2 1,-4 1,5 1,3 1,-6 1,-5 1,1 1,6 1,-1 1,-1 1,12 1,-2 1,-27 1,8 1,8 1,0 1,7 1,-4 1,-4 1,10 1,1 1,-9 1,-1 1,2 1,0 1,4 1,-8 1,-5 1,6 1,8 1,-14 1,9 1,12 1,-15 1,3 1,-8 1,6 1,3 1,-3 1,-22 1,3 1,18 1,3 1,1 1,-2 1,1 1,-1 1,5 1,-7 1,2 1,3 1,3 1,-6 1,1 1,3 1,-5 1,3 1,5 1,-8 1,9 1,-8 1,-3 1,10 1,-14 1,4 1,6 1,3 1,2 1,-8 1,7 1,-3 1,5 1,-11 1,3 1,1 1,-6 1,2 1,4 1,-4 1,0 1,-3 1,8 1,-5 1,5 1,-2 1,3 1,-3 1,-24 1,28 1,-7 1,-3 1,4 1,-3 1,11 1,-21 1,16 1,0 1,5 1,-1 1,-4 1,1 1,-2 1,-4 1,4 1,6 1,-13 1,9 1,1 1,-7 1,-1 1,6 1,3 1,-2 1,-2 1,-4 1,1 1,10 1,-5 1,-3 1,-21 1,-17 1,44 1,-7 1,5 1,-6 1,7 1,-10 1,4 1,-4 1,6 1,-1 1,-2 1,6 1,-2 1,1 1,-3 1,-3 1,-3 1,2 1,5 1,2 1,-5 1,7 1,-9 1,4 1,8 1,-3 1,5 1,-7 1,-5 1,11 1,-10 1,2 1,-3 1,2 1,4 1,-24 1,26 1,-2 1,0 1,-2 1,7 1,-9 1,3 1,1 1,-5 1,0 1,-1 1,5 1,-27 1,32 1,-6 1,2 1,-11 1,-2 1,12 1,-5 1,1 1,-4 1,15 1,-4 1,2 1,-21 1,22 1,-2 1,-22 1,17 1,-34 1,31 1,-3 1,8 1,-8 1,18 1,-10 1,-3 1,4 1,2 1,-7 1,7 1,-5 1,-1 1,6 1,-3 1,-2 1,-1 1,4 1,-18 1,18 1,-6 1,5 1,-4 1,1 1,2 1,-2 1,4 1,-1 1,2 1,-8 1,11 1,-14 1,8 1,6 1,-7 1,3 1,1 1,-6 1,4 1,2 1,1 1,0 1,-15 1,6 1,2 1,6 1,3 1,-8 1,4 1,-9 1,-5 1,5 1,8 1,-1 1,-1 1,-7 1,4 1,-1 1,-5 1,9 1,-2 1,-5 1,-16 1,23 1,6 1,-5 1,-22 1,19 1,-5 1,4 1,-2 1,8 1,-1 1,-2 1,4 1,-4 1,4 1,-23 1,26 1,-10 1,6 1,-2 1,-3 1,1 1,5 1,-4 1,-2 1,5 1,3 1,-3 1,-1 1,-1 1,1 1,0 1,0 1,2 1,-3 1,3 1,-8 1,1 1,1 1,1 1,10 1,-10 1,10 1,-16 1,4 1,8 1,-10 1,4 1,-1 1,-3 1,9 1,-2 1,4 1,-6 1,-1 1,-4 1,2 1,2 1,0 1,3 1,-4 1,-7 1,9 1,0 1,2 1,3 1,-1 1,-20 1,12 1,0 1,5 1,0 1,7 1,-2 1,-1 1,-8 1,-3 1,10 1,-3 1,4 1,-1 1,-9 1,9 1,-4 1,1 1,0 1,0 1,3 1,0 1,-1 1,-6 1,7 1,-2 1,-1 1,1 1,-7 1,4 1,5 1,3 1,-9 1,6 1,-2 1,-3 1,5 1,-25 1,21 1,-9 1,4 1,8 1,-8 1,5 1,-7 1,7 1,0 1,2 1,0 1,0 1,0 1,6 1,-15 1,10 1,2 1,-2 1,5 1,-10 1,6 1,1 1,-8 1,0 1,9 1,-5 1,-9 1,10 1,2 1,-5 1,-3 1,6 1,7 1,-1 1,-14 1,7 1,-1 1,0 1,-2 1,5 1,-14 1,14 1,-8 1,11 1,-5 1,-3 1,7 1,0 1,-8 1,-6 1,8 1,5 1,-12 1,11 1,-6 1,-12 1,15 1,-4 1,5 1,-2 1,1 1,1 1,-4 1,6 1,-3 1,-3 1,2 1,-2 1,6 1,-7 1,8"/>
<path fill="none" stroke="#a8a93a" stroke-width="0.5" stroke-linejoin="bevel" vector-effect="non-scaling-stroke" d="M0,350l1,36 1,30 1,1 1,-12 1,8 1,15 1,-7 1,-4 1,0 1,-18 1,8 1,-45 1,43 1,-1 1,-15 1,19 1,19 1,-22 1,-10 1,13 1,10 1,-7 1,-6 1,-12 1,21 1,0 1,10 1,1 1,-9 1,-26 1,-8 1,14 1,16 1,-12 1,23 1,-12 1,2 1,4 1,-5 1,-27 1,51 1,-11 1,1 1,-26 1,-12 1,4 1,5 1,21 1,0 1,7 1,7 1,-18 1,-2 1,-8 1,1 1,-10 1,19 1,-2 1,-8 1,-5 1,14 1,10 1,-14 1,-27 1,20 1,3 1,0 1,0 1,-4 1,12 1,10 1,-25 1,26 1,-20 1,0 1,-20 1,-3 1,35 1,-20 1,21 1,-8 1,2 1,12 1,-16 1,-27 1,9 1,30 1,11 1,-35 1,5 1,-8 1,-17 1,3 1,16 1,-35 1,50 1,-4 1,15 1,-27 1,2 1,8 1,6 1,-5 1,26 1,-29 1,14 1,-36 1,32 1,-8 1,0 1,-27 1,28 1,14 1,-19 1,3 1,18 1,-40 1,9 1,19 1,5 1,1 1,-10 1,-13 1,26 1,-5 1,-67 1,63 1,20 1,-30 1,-4 1,9 1,0 1,-9 1,7 1,-8 1,-23 1,49 1,-20 1,24 1,-32 1,5 1,23 1,-23 1,15 1,-4 1,-8 1,25 1,-17 1,-6 1,4 1,5 1,-21 1,8 1,-4 1,-10 1,35 1,5 1,-2 1,-37 1,28 1,-12 1,-3 1,19 1,-22 1,1 1,3 1,1 1,-3 1,22 1,-23 1,7 1,-2 1,32 1,-35 1,15 1,15 1,-34 1,4 1,-19 1,14 1,29 1,-20 1,18 1,-6 1,-6 1,3 1,-7 1,16 1,-27 1,6 1,21 1,-36 1,29 1,-30 1,19 1,-2 1,22 1,-31 1,26 1,-4 1,-10 1,4 1,8 1,-14 1,-10 1,20 1,-13 1,5 1,5 1,8 1,12 1,-17 1,-7 1,13 1,-6 1,-22 1,12 1,-7 1,14 1,14 1,-11 1,-15 1,20 1,-19 1,13 1,-16 1,-2 1,-12 1,-19 1,21 1,21 1,-10 1,-30 1,37 1,14 1,4 1,-13 1,3 1,-8 1,12 1,-9 1,16 1,-25 1,-8 1,24 1,-4 1,10 1,-2 1,-6 1,0 1,0 1,-8 1,-22 1,20 1,8 1,-31 1,27 1,-56 1,60 1,-8 1,10 1,-4 1,17 1,-46 1,29 1,3 1,-37 1,25 1,3 1,14 1,-4 1,11 1,-31 1,16 1,-1 1,-16 1,20 1,-3 1,1 1,-2 1,-4 1,-18 1,27 1,23 1,-19 1,-9 1,-7 1,11 1,3 1,-5 1,11 1,-20 1,22 1,-10 1,-8 1,3 1,7 1,5 1,-13 1,11 1,20 1,-45 1,-13 1,32 1,-12 1,12 1,-19 1,20 1,13 1,-3 1,-24 1,-28 1,50 1,10 1,-31 1,1 1,22 1,-16 1,-7 1,23 1,-41 1,21 1,19 1,-18 1,15 1,-22 1,22 1,-3 1,13 1,-21 1,-1 1,3 1,12 1,-20 1,7 1,23 1,-13 1,0 1,-14 1,15 1,-22 1,-4 1,-4 1,23 1,-1 1,-12 1,6 1,9 1,8 1,-31 1,33 1,-4 1,-18 1,3 1,10 1,-28 1,24 1,-13 1,-9 1,23 1,-32 1,32 1,3 1,9 1,-25 1,-1 1,10 1,-16 1,26 1,-16 1,11 1,-1 1,12 1,-43 1,12 1,20 1,3 1,-7 1,-9 1,16 1,-8 1,-8 1,-6 1,21 1,-16 1,17 1,10 1,-15 1,0 1,-1 1,14 1,0 1,-14 1,7 1,-12 1,-2 1,14 1,-11 1,-7 1,-7 1,28 1,-22 1,-16 1,-26 1,61 1,-33 1,32 1,-3 1,-18 1,1 1,10 1,24 1,-24 1,14 1,-1 1,-28 1,17 1,6 1,-11 1,6 1,-13 1,-4 1,5 1,18 1,-11 1,14 1,-27 1,11 1,8 1,-29 1,31 1,-14 1,2 1,4 1,-12 1,26 1,-4 1,7 1,-11 1,-12 1,17 1,-22 1,5 1,33 1,-11 1,-22 1,26 1,-44 1,34 1,-15 1,5 1,5 1,15 1,-24 1,19 1,-11 1,-20 1,-2 1,11 1,23 1,-33 1,41 1,-18 1,13 1,-13 1,-13 1,-5 1,0 1,0 1,7 1,4 1,7 1,7 1,-21 1,33 1,-43 1,20 1,30 1,-32 1,-10 1,5 1,-2 1,5 1,-25 1,15 1,8 1,22 1,-11 1,0 1,-8 1,15 1,-32 1,32 1,-22 1,4 1,1 1,17 1,-7 1,-8 1,6 1,-13 1,25 1,2 1,-3 1,-10 1,3 1,-21 1,11 1,2 1,1 1,8 1,-12 1,-3 1,22 1,-20 1,-1 1,-15 1,7 1,-5 1,23 1,-23 1,20 1,4 1,-9 1,6 1,15 1,-24 1,-11 1,13 1,-41 1,46 1,9 1,-33 1,19 1,21 1,-11 1,7 1,-7 1,-1 1,-9 1,6 1,-15 1,-38 1,54 1,11 1,-15 1,10 1,-40 1,30 1,17 1,-10 1,-24 1,19 1,-2 1,-10 1,-7 1,9 1,-1 1,19 1,-1 1,1 1,-9 1,-22 1,-15 1,42 1,-11 1,-3 1,2 1,10 1,-2 1,14 1,-9 1,-2 1,-10 1,-1 1,10 1,8 1,-4 1,-18 1,-4 1,24 1,-12 1,-1 1,-4 1,18 1,-1 1,-10 1,9 1,-20 1,13 1,-32 1,29 1,30 1,-19 1,11 1,-12 1,-4 1,0 1,-34 1,40 1,-56 1,48 1,32 1,-27 1,-18 1,24 1,-6 1,-8 1,-9 1,10 1,-3 1,5 1,4 1,-1 1,-14 1,16 1,-38 1,17 1,19 1,-4 1,5 1,-16 1,8 1,1 1,-12 1,20 1,-9 1,8 1,-16 1,-4 1,2 1,-11 1,16 1,13 1,11 1,-3 1,2 1,0 1,9 1,-21 1,8 1,-3 1,-36 1,30 1,-1 1,4 1,-10 1,-3 1,3 1,14 1,-13 1,21 1,-31 1,27 1,9 1,-52 1,31 1,-19 1,-10 1,13 1,15 1,2 1,-7 1,12 1,-3 1,17 1,-78 1,47 1,3 1,-52 1,53 1,32 1,-31 1,7 1,-19 1,-31 1,57 1,-27 1,-1 1,42 1,-19 1,-13 1,14 1,-13 1,-9 1,19 1,7 1,3 1,-32 1,9 1,-27 1,49 1,3 1,-19 1,-9 1,20 1,-12 1,10 1,7 1,-5 1,-18 1,-3 1,-6 1,29 1,4 1,-25 1,6 1,-11 1,15 1,-8 1,0 1,24 1,-6 1,-8 1,13 1,-20 1,12 1,-16 1,2 1,20 1,-25 1,-1 1,1 1,-1 1,15 1,0 1,-18 1,19 1,16 1,-28 1,-18 1,30 1,-9 1,-8 1,15 1,-2 1,16 1,-12 1,-14 1,4 1,8 1,-17 1,3 1,17 1,12 1,-32 1,1 1,10 1,5 1,-5 1,10 1,2 1,0 1,26 1,-58 1,15 1,-4 1,13 1,-6 1,5 1,3 1,-6 1,17 1,-27 1,10 1,7 1,15 1,-31 1,2 1,20 1,-5 1,-17 1,29 1,-10 1,-7 1,0 1,2 1,-2 1,8 1,0 1,-16 1,-6 1,34 1,-22 1,26 1,-18 1,-29 1,30 1,-13 1,-15 1,16 1,-15 1,22 1,4 1,7 1,-48 1,40 1,0 1,-8 1,-4 1,0 1,13 1,-11 1,6 1,-23 1,15 1,23 1,-27 1,17 1,-15 1,-9 1,-4 1,39 1,-11 1,-9 1,-10 1,15 1,12 1,-7 1,-15 1,46 1,-28 1,-35 1,33 1,1 1,3 1,-4 1,-20 1,13 1,-6 1,11 1,-2 1,8 1,-5 1,-6 1,20 1,-20 1,0 1,9 1,0 1,6 1,-44 1,27 1,18 1,-9 1,0 1,-19 1,0 1,7 1,11 1,7 1,1 1,-31 1,20 1,2 1,-6 1,0 1,-7 1,-15 1,1 1,40 1,-12 1,14 1,-25 1,-10 1,39 1,-44 1,6 1,17 1,17 1,-24 1,-2 1,7 1,-31 1,24 1,17 1,3 1,-11 1,2 1,25 1,-22 1,-8 1,16 1,2 1,-21 1,-3 1,11 1,13 1,1 1,4 1,-31 1,-10 1,34 1,-1 1,-8 1,6 1,-16 1,-3 1,10 1,6 1,2 1,-8 1,8 1,-8 1,6 1,-10 1,24 1,-32 1,15 1,19 1,6 1,-9 1,-22 1,-15 1,14 1,-2 1,9 1,-27 1,20 1,8 1,-2 1,14 1,-8 1,0 1,-12 1,7 1,-47 1,41 1,-13 1,19 1,-44 1,43 1,16 1,-23 1,6 1,-11 1,8 1,18 1,-29 1,31 1,-1 1,-9 1,-17 1,-11 1,18 1,20 1,-33 1,7 1,11 1,-28 1,43 1,-29 1,21 1,-6 1,-21 1,20 1,4 1,-18 1,-21 1,23 1,20 1,-22 1,3 1,9 1,3 1,-8 1,23 1,1 1,-31 1,33 1,-15 1,-3 1,7 1,-24 1,2 1,19 1,-20 1,45 1,-35 1,15 1,-21 1,34 1,-3 1,-37 1,17 1,1 1,16 1,-44 1,21 1,15 1,-13 1,-4 1,-9 1,20 1,-6 1,-14 1,-31 1,39 1,11 1,5 1,4 1,-8 1,-15 1,9 1,-2 1,15 1,-18 1,23 1,-16 1,8 1,-12 1,18 1,-20 1,24 1,-49 1,-8 1,46 1,-15 1,24 1,-32 1,18 1,7 1,-5 1,-10 1,2 1,3 1,-9 1,-11 1,12 1,15 1,-7 1,-39 1,33 1,10 1,-11 1,-6 1,3 1,15 1,-36 1,34 1,8 1,-15 1,3 1,-13 1,6 1,4 1,10 1,-10 1,-6 1,7 1,-8 1,32 1,-25 1,23 1,-33 1,5 1,27 1,-18 1,26 1,-14 1,6 1,-31 1,18 1,-5 1,20 1,-21 1,4 1,-8 1,-9 1,12 1,1 1,8 1,-14 1,-14 1,9 1,10 1,7 1,-8 1,12 1,-18 1,8 1,18 1,-21 1,-11 1,31 1,-14 1,-9 1,-2 1,18 1,-18 1,-15 1,34 1,-4 1,-10 1,2 1,10 1,-15 1,7 1,-15 1,1 1,30 1,-4 1,-17 1,4 1,13 1,6 1,-7 1,-10 1,7 1,10 1,2 1,-66 1,42 1,-20 1,-1 1,31 1,-9 1,13 1,2 1,9 1,-2 1,-22 1,0 1,18 1,-15 1,-43 1,46 1,-10 1,32 1,-39 1,34 1,-19 1,4 1,-28 1,25 1,4 1,-10 1,3 1,6 1,14 1,-11 1,-20 1,9 1,2 1,3 1,-9 1,4 1,25 1,-18 1,2 1,-8 1,-12 1,-20 1,35 1,16 1,-11 1,3 1,-12 1,-6 1,17 1,4 1,0 1,4 1,1 1,-2 1,0 1,-5 1,-8 1,-14 1,-16 1,49 1,-9 1,15 1,-12 1,-27 1,23 1,-11 1,8 1,-3 1,-14 1,33 1,-6 1,-22 1,9 1,-13 1,31 1,-9 1,-7 1,14 1,1 1,-4 1,5 1,-30 1,20 1,-1 1,1 1,-2 1,-20 1,4 1,27 1,-23 1,7 1,-22 1,30 1,-3 1,8 1,6 1,-23 1,1 1,7 1,-38 1,44 1,-23 1,-19 1,24 1,-5 1,16 1,-19 1,11 1,1 1,-20 1,30 1,-11 1,-16 1,13 1,20 1,-11 1,-14 1,14 1,6 1,-12 1,0 1,-13 1,19 1,-3 1,-9 1,-2 1,2 1,-1 1,13 1,-15 1,-6 1,12 1,-14 1,18 1,-10 1,8 1,-11 1,-11 1,-15 1,14 1,19 1,-16 1,12 1,-5 1,-21 1,11 1,2 1,14 1,1 1,-23 1,0 1,7 1,-12 1,20 1,5 1,-26 1,15 1,-13 1,17 1,0 1,-14 1,2 1,16 1,-17 1,12 1,-26 1,3 1,24 1,-7 1,-5 1,-7 1,12 1,-14 1,12 1,4 1,-4 1,-11 1,-9 1,21 1,-16 1,29 1,-28 1,2 1,18 1,-3 1,21 1,-18 1,-46 1,64 1,-41 1,47 1,-6 1,-10 1,6 1,-9 1,0 1,22 1,-13 1,3 1,-2 1,6 1,-14 1,15 1,1 1,13 1,-16 1,4 1,0 1,-6 1,14 1,-5 1,-45 1,37 1,10 1,3 1,2 1,3 1,-9 1,16 1,-17 1,16 1,-13 1,13 1,-9 1,-7 1,4 1,6 1,-17 1,-10 1,-1 1,28 1,-9 1,-3 1,6 1,16 1,-2 1,-26 1,30 1,-10 1,13 1,-14 1,-2 1,-20 1,33 1,-4 1,-34 1,41 1,-17 1,4 1,-17 1,8 1,-3 1,19 1,-2 1,-2 1,-38 1,53 1,-10 1,-13 1,21 1,0 1,-8 1,-28 1,12 1,13 1,-47 1,28 1,16 1,-11 1,12 1,0 1,9 1,-19 1,18 1,-30 1,-1 1,26 1,-1 1,-3 1,-7 1,9 1,-5 1,13 1,-8 1,1 1,-14 1,-6 1,16 1,19 1,-22 1,-7 1,-14 1,-13 1,26 1,-9 1,19 1,-1 1,15 1,-7 1,-5 1,-12 1,-5 1,7 1,11 1,-29 1,19 1,13 1,-6 1,-11 1,-1 1,8 1,-8 1,7 1,-5 1,-11 1,5 1,14 1,-6 1,-11 1,-10 1,32 1,1 1,-17 1,6 1,-3 1,3 1,10 1,-13 1,-1 1,4 1,-1 1,5 1,-8 1,-3 1,23 1,-45 1,37 1,12 1,-23 1,4 1,5 1,-11 1,1 1,-26 1,40 1,-18 1,15 1,-2 1,12 1,-13 1,12 1,-6 1,5 1,3 1,-23 1,19 1,-7 1,-12 1,27 1,-16 1,0 1,16 1,-27 1,28 1,-30 1,35 1,-22 1,12 1,-3 1,-11 1,14 1,-5 1,10 1,-4 1,-20 1,-7 1,41 1,-38 1,19 1,-5 1,-1 1,-2 1,25 1,-9 1,-17 1,15 1,-4 1,15 1,-17 1,-14 1,28 1,1 1,-6 1,-2 1,-22 1,1 1,11 1,4 1,-5 1,8 1,-14 1,4 1,-1 1,5 1,-12 1,30 1,-30 1,-13 1,30 1,-21 1,26 1,-1 1,1 1,-33 1,18 1,4 1,-1 1,3 1,3 1,-2 1,-4 1,14 1,1 1,-21 1,16 1,-1 1,9 1,-17 1,-6 1,9 1,1 1,-2 1,-29 1,30 1,-8 1,4 1,-14 1,19 1,-13 1,13 1,-9 1,10 1,-4 1,8 1,-15 1,11 1,8 1,-6 1,-12 1,9 1,-4 1,10 1,-15 1,6 1,-11 1,20 1,14 1,-27 1,15 1,-6 1,13 1,-42 1,23 1,4 1,3 1,4 1,-18 1,12 1,-3 1,22 1,-13 1,0 1,-5 1,13 1,-10 1,2 1,-10 1,15 1,-1 1,-15 1,2 1,9 1,-5 1,-5 1,8 1,4 1,-5 1,-3 1,6 1,-4 1,-1 1,5 1,8 1,0 1,-17 1,4 1,3 1,2 1,3 1,-7 1,1 1,3 1,-10 1,7 1,3 1,3 1,-3 1,-7 1,-5 1,3 1,-18 1,8 1,10 1,2 1,0 1,2 1,1 1,2 1,-7 1,-4 1,5 1,-3 1,17 1,0 1,-9 1,3 1,8 1,0 1,-8 1,3 1,3 1,-34 1,11 1,9 1,0 1,-1 1,3 1,4 1,-1 1,-7 1,6 1,-3 1,9 1,-4 1,-2 1,12 1,2 1,-19 1,0 1,3 1,8 1,-4 1,-2 1,-18 1,22 1,-8 1,6 1,-1 1,2 1,-14 1,13 1,1 1,7 1,-8 1,5 1,1 1,-24 1,4 1,10 1,5 1,-10 1,8 1,-1 1,3 1,-17 1,18 1,0 1,-12 1,8 1,5 1,11 1,-49 1,35 1,-6 1,9 1,-13 1,3 1,7 1,0 1,-3 1,0 1,-2 1,11 1,-6 1,-10 1,13 1,0 1,6 1,3 1,-12 1,9 1,-7 1,2 1,-7 1,3 1,-2 1,-24 1,24 1,-8 1,12 1,-18 1,17 1,-12 1,6 1,4 1,4 1,-9 1,6 1,7 1,-7 1,4 1,-4 1,8 1,-5 1,-3 1,0 1,-1 1,-14 1,8 1,-4 1,18 1,-27 1,14 1,5 1,-9 1,3 1,-5 1,19 1,3 1,-10 1,3 1,3 1,-8 1,2 1,-7 1,-5 1,8 1,12 1,-12 1,-4 1,11 1,5 1,-13 1,10 1,10 1,-16 1,3 1,-6 1,-4 1,0 1,3 1,-3 1,8 1,14 1,-15 1,3 1,4 1,-9 1,-2 1,3 1,-3 1,4 1,4 1,-5 1,-13 1,13 1,-5 1,6 1,4 1,8 1,-2 1,-16 1,10 1,-6 1,6 1,10 1,-7 1,-1 1,-6 1,-1 1,2 1,6 1,6 1,-6 1,-5 1,1 1,5 1,6 1,2 1,-18 1,-3 1,14 1,0 1,1 1,-1 1,-12 1,12 1,-12 1,14 1,-8 1,0 1,-13 1,22 1,-3 1,-1 1,-13 1,4 1,11 1,-7 1,2 1,-9 1,-4 1,18 1,-19 1,23 1,-5 1,-3 1,-5 1,2 1,12 1,-15 1,-11 1,17 1,-6 1,2 1,12 1,-23 1,17 1,-11 1,8 1,2 1,-1 1,-12 1,10 1,3 1,9 1,-17 1,-3 1,1 1,1 1,14 1,-3 1,-15 1,6 1,12 1,-53 1,48 1,-5 1,3 1,-4 1,-19 1,16 1,9 1,6 1,-10 1,4 1,-3 1,-7 1,1 1,10 1,-1 1,-11 1,-3 1,7 1,0 1,7 1,-5 1,1 1,6 1,-2 1,-6 1,10 1,-4 1,4 1,-11 1,5 1,-7 1,-1 1,1 1,7 1,3 1,-6 1,1 1,9 1,-8 1,-2 1,8 1,-8 1,6 1,-6 1,3 1,-2 1,-2 1,4 1,10 1,-6 1,-25 1,28 1,-18 1,-11 1,17 1,-2 1,4 1,2 1,-8 1,10 1,-11 1,13 1,0 1,9 1,-8 1,-6 1,-13 1,17 1,0 1,-10 1,-2 1,14 1,-2 1,-49 1,29 1,19 1,-3 1,1 1,4 1,-4 1,0 1,6 1,-16 1,13 1,0 1,5 1,-4 1,2 1,1 1,1 1,-11 1,3 1,1 1,12 1,-5 1,-3 1,0 1,-9 1,14 1,-9 1,5 1,-2 1,-7 1,12 1,-3 1,-4 1,-8 1,12 1,-17 1,6 1,-7 1,14 1,2 1,2 1,4 1,-14 1,-14 1,26 1,-8 1,3 1,4 1,4 1,-25 1,13 1,-8 1,13 1,-2 1,0 1,10 1,-16 1,-3 1,4 1,9 1,-13 1,3 1,9 1,-27 1,20 1,-2 1,9 1,-7 1,8 1,-8 1,5 1,-6 1,-6 1,-6 1,29 1,-10 1,-12 1,5 1,4 1,1 1,-4 1,10 1,-7 1,-3 1,4 1,5 1,-13 1,-27 1,41 1,-4 1,-1 1,10 1,-2 1,-16 1,-1 1,11 1,-1 1,-3 1,4 1,-7 1,8 1,-11 1,5 1,6 1,-17 1,13 1,1 1,4 1,-9 1,11 1,-15 1,13 1,-3 1,3 1,2 1,-4 1,5 1,-6 1,-1 1,5 1,2 1,-17 1,11 1,-13 1,12 1,0 1,-1 1,2 1,5 1,-2 1,-18 1,21 1,-11 1,-10 1,11 1,1 1,-5 1,14 1,-9 1,-4 1,11 1,-11 1,11 1,-11 1,9 1,-3 1,5 1,-9 1,-5 1,6 1,-6 1,16 1,-2 1,-17 1,9 1,5 1,3 1,-12 1,7 1,-7 1,5 1,6 1,-22 1,18 1,4 1,-13 1,4 1,13 1,-8 1,4 1,-1 1,4 1,-9 1,-1 1,-1 1,5 1,-6 1,1 1,1 1,1 1,-11 1,12 1,5 1,-14 1,-18 1,22 1,6 1,2 1,-1 1,-2 1,11 1,-7 1,-3 1,3 1,-2 1,-2 1,2 1,-3 1,-1 1,9 1,-15 1,6 1,-1 1,7 1,-9 1,7 1,0 1,2 1,1 1,-4 1,-4 1,3 1,-8 1,14 1,-10 1,3 1,-1 1,12 1,-12 1,1 1,8 1,-5 1,-5 1,7 1,-5 1,5 1,2 1,-17 1,6 1,-15 1,13 1,17 1,-6 1,0 1,-5 1,2 1,1 1,-25 1,22 1,-1 1,-9 1,17 1,-5 1,-6 1,9 1,-1 1,-4 1,1 1,1 1,-2 1,3 1,-5 1,8 1,-4 1,-22 1,27 1,1 1,0 1,-10 1,-1 1,4 1,-3 1,7 1,-7 1,2 1,4 1,-7 1,0 1,6 1,-14 1,14 1,0 1,-1 1,-5 1,2 1,4 1,-8 1,14 1,-7 1,1 1,-18 1,14 1,-6 1,1 1,2 1,11 1,-11 1,6 1,4 1,-7 1,4 1,-3 1,-1 1,7 1,-28 1,14 1,4 1,4 1,5 1,-7 1,-1 1,-4 1,-8 1,16 1,-3 1,0 1,0 1,-3 1,3 1,-1 1,-4 1,8 1,1 1,0 1,4 1,-8 1,7 1,-3 1,-3 1,-4 1,11 1,-13 1,11 1,-3 1,5 1,-9 1,-5 1,10 1,2 1,1 1,-4 1,-16 1,11 1,7 1,-7 1,5 1,1 1,2 1,-8 1,0 1,13 1,-7 1,3 1,-7 1,-4 1,5 1,3 1,2 1,1 1,-8 1,-4 1,0 1,3 1,3 1,1 1,6 1,-3 1,4 1,-14 1,5 1,-3 1,10 1,-6 1,3 1,2 1,-3 1,-5 1,1 1,-1 1,1 1,1 1,6 1,-13 1,21 1,-12 1,1 1,-3 1,1 1,0 1,-3 1,10 1,-11 1,6 1,-2 1,7 1,-8 1,-14 1,23 1,-11 1,-3 1,3 1,7 1,1 1,2 1,-9 1,5 1,-12 1,14 1,-14 1,20 1,-12 1,7 1,-8 1,5 1,-3 1,0 1,7 1,4 1,-13 1,3 1,-26 1,34 1,-2 1,-1 1,-30 1,27 1,-2 1,-1 1,3 1,0 1,-1 1,3 1,3 1,-4 1,-2 1,3 1,-8 1,6 1,7 1,-13 1,7 1,-2 1,4 1,1 1,-5 1,-5 1,-3 1,15 1,-9 1,3 1,4 1,4 1,-12 1,11 1,-1 1,-1 1,-6 1,1 1,3 1,-2 1,-1 1,4 1,-12 1,-3 1,4 1,7 1,-6 1,-6 1,8 1,-2 1,5 1,-7 1,12 1,-5 1,2 1,9 1,-9 1,-8 1,12 1,-5 1,-7 1,-6 1,12 1,-1 1,8 1,-10 1,6 1,0 1,-6 1,4 1,-1 1,0 1,1 1,4 1,-2 1,7 1,-10 1,-3 1,7 1,-12 1,17 1,3 1,-4 1,-4 1,-3 1,3 1,-6 1,5 1,-1 1,2 1,-8 1,7 1,-3 1,-16 1,14 1,-3 1,4 1,-10 1,9 1,10 1,2 1,-7 1,-3 1,-2 1,11 1,-8 1,4 1,-11 1,2 1,12 1,-3 1,-5 1,-6 1,9 1,1 1,2 1,-11 1,1 1,5 1,0 1,-1 1,-2 1,-2 1,5 1,-5 1,3 1,5 1,-7 1,3 1,10 1,-15 1,3 1,4 1,5 1,-2 1,2 1,-2 1,-7 1,0 1,3 1,1 1,4 1,-7 1,4 1,2 1,-11 1,3 1,4 1,-2 1,0 1,-9 1,4 1,7 1,-10 1,15 1,-9 1,-40 1,48 1,-6 1,6 1,-8 1,-1 1,5 1,3 1,-9 1,-19 1,35 1,-9 1,10 1,-11 1,0 1,2 1,4 1,-6 1,-1 1,-3 1,2 1,4 1,4 1,-5 1,-17 1,15 1,-24 1,11 1,1 1,3 1,10 1,-2 1,-16 1,17 1,1 1,0 1,4 1,-1 1,-13 1,11 1,8 1,-12 1,4 1,-4 1,-5 1,13 1,-2 1,-14 1,9 1,4 1,0 1,-9 1,9 1,-2 1,-12 1,10 1,-22 1,28 1,-6 1,7 1,-10 1,6 1,2 1,-10 1,6 1,-7 1,0 1,4 1,0 1,3 1,2 1,-2 1,-4 1,5 1,-5 1,4 1,5 1,-6 1,-9 1,-1 1,15 1,-1 1,-3 1,-1 1,3 1,0 1,-6 1,9 1,3 1,-1 1,-8 1,3 1,-4 1,0 1,6 1,-7 1,9 1,0 1,1 1,-5 1,-12 1,11 1,0 1,-2 1,1 1,9 1,-7 1,3 1,-2 1,-6 1,0 1,2 1,5 1,-19 1,10 1,5 1,1 1,-3 1,0 1,2 1,-1 1,-1 1,-5 1,7 1,4 1,-2 1,-6 1,-5 1,13 1,-4 1,7 1,-8 1,-1 1,-3 1,-4 1,4 1,12 1,-18 1,17 1,-3 1,-14 1,7 1,8 1,1 1,-3 1,-1 1,3 1,-23 1,9 1,5 1,-4 1,6 1,9 1,-12 1,-4 1,-30 1,27 1,10 1,-5 1,13 1,-5 1,7 1,-11 1,5 1,-7 1,7 1,2 1,-8 1,3 1,0 1,8 1,-8 1,-22 1,21 1,-20 1,19 1,-12 1,7 1,5 1,2 1,4 1,-3 1,-1 1,1 1,-10 1,3 1,0 1,6 1,-6 1,8 1,-7 1,3 1,5 1,6 1,-15 1,-18 1,21 1,4 1,-7 1,0 1,-5 1,8 1,-3 1,0 1,-4 1,8 1,-10 1,6 1,2 1,-1 1,2 1,6 1,1 1,-8 1,-4 1,-1 1,0 1,1 1,7 1,-1 1,-7 1,1 1,3 1,-9 1,0 1,-21 1,28 1,5 1,-1 1,-2 1,-6 1,5 1,-5 1,1 1,10 1,-8 1,-6 1,11 1,2 1,0 1,-2 1,-2 1,-13 1,15 1,-7 1,2 1,5 1,-19 1,16 1,5 1,2 1,-10 1,-1 1,13 1,-6 1,-4 1,-4 1,1 1,11 1,-11 1,3 1,-5 1,9 1,-4 1,7 1,-5 1,-2 1,-4 1,-1 1,2 1,5 1,-3 1,1 1,-29 1,32 1,3 1,-6 1,2 1,-10 1,-10 1,12 1,5 1,-6 1,-7 1,15 1,-3 1,-1 1,-2 1,6 1,-2 1,-1 1,-5 1,-1 1,10 1,-7 1,-2 1,2 1,-3 1,0 1,7 1,-10 1,13 1,-11 1,-2 1,-1 1,10 1,9 1,-5 1,-27 1,21 1,6 1,-2 1,-1 1,1 1,-15 1,19 1,3 1,-8 1,6 1,-2 1,-9 1,2 1,8 1,-4 1,5 1,-4 1,-1 1,-3 1,-5 1,-1 1,7 1,2 1,-2 1,5 1,-3 1,-2 1,1 1,0 1,2 1,2 1,-13 1,8 1,3 1,2 1,3 1,-11 1,3 1,4 1,-4 1,5 1,8 1,-3 1,0 1,-8 1,-5 1,4 1,7 1,7 1,-4 1,-3 1,-5 1,6 1,-5 1,-3 1,2 1,0 1,11 1,-10 1,8 1,-13 1,9 1,-4 1,6 1,8 1,-14 1,3 1,3 1,-2 1,-5 1,-10 1,22 1,-6 1,-4 1,3 1,-2 1,8 1,-9 1,7 1,-1 1,-7 1,8 1,2 1,4 1,-5 1,-3 1,2 1,-7 1,9 1,0 1,-9 1,-3 1,2 1,5 1,-1 1,8 1,-4 1,-3 1,5 1,-2 1,-4 1,-1 1,3 1,-9 1,14 1,2 1,-7 1,4 1,-5 1,0 1,-2 1,-7 1,16 1,-5 1,-5 1,-1 1,6 1,1 1,1 1,-6 1,-9 1,6 1,10 1,-3 1,7 1,-8 1,3 1,-3 1,-5 1,12 1,-12 1,11 1,-3 1,-10 1,7 1,2 1,-7 1,11 1,-11 1,1 1,7 1,-5 1,7 1,-7 1,1 1,10 1,-9 1,-4 1,6 1,1 1,0 1,-1 1,8 1,-11 1,4 1,-16 1,11 1,9 1,-1 1,-8 1,11 1,-22 1,11 1,-13 1,16 1,2 1,2 1,-10 1,1 1,4 1,8 1,-7 1,2 1,-2 1,3 1,-5 1,5 1,0 1,2 1,-4 1,10 1,-8 1,0 1,-2 1,-2 1,10 1,-8 1,-5 1,4 1,7 1,-9 1,12 1,-9 1,3 1,-6 1,2 1,6 1,-2 1,-6 1,-2 1,8 1,-9 1,10 1,-3 1,0 1,0 1,-3 1,3 1,4 1,-2 1,1 1,-3 1,1 1,-4 1,-1 1,13 1,-6 1,3 1,-7 1,10 1,1 1,-11 1,6 1,-12 1,6 1,2 1,2 1,2 1,-5 1,-13 1,14 1,7 1,-14 1,5 1,3 1,0 1,-22 1,17 1,7 1,-1 1,-12 1,8 1,4 1,-2 1,-1 1,-9 1,4 1,4 1,8 1,-9 1,3 1,-27 1,27 1,6 1,-7 1,1 1,5 1,-9 1,4 1,-3 1,7 1,-5 1,6 1,-23 1,15 1,9 1,0 1,-6 1,-10 1,15 1,-16 1,10 1,3 1,-2 1,2 1,3 1,-2 1,-10 1,9 1,-6 1,-1 1,6 1,-9 1,0 1,14 1,5 1,-22 1,1 1,14 1,-2 1,-9 1,14 1,-5 1,-10 1,6 1,3 1,1 1,2 1,-3 1,7 1,-11 1,1 1,7 1,-2 1,6 1,-14 1,-3 1,7 1,7 1,-9 1,-1 1,8 1,-3 1,1 1,-6 1,-3 1,14 1,-9 1,8 1,-13 1,5 1,-4 1,1 1,-1 1,9 1,-3 1,3 1,0 1,-9 1,5 1,-21 1,30 1,-4 1,-5 1,-6 1,13 1,-9 1,-14 1,10 1,15 1,-22 1,13 1,6 1,-12 1,14 1,-9 1,11 1,-6 1,-5 1,-4 1,12 1,-10 1,3 1,7 1,-9 1,7 1,2 1,-4 1,-9 1,-10 1,21 1,-4 1,-3 1,1 1,2 1,7 1,-23 1,22 1,-9 1,9 1,-15 1,12 1,-5 1,-21 1,19 1,1 1,9 1,-16 1,11 1,1 1,5 1,-6 1,-6 1,7 1,-2 1,4 1,-9 1,1 1,-1 1,-1 1,14 1,-7 1,6 1,1 1,-8 1,12 1,-11 1,2 1,-5 1,-7 1,9 1,4 1,6 1,-6 1,-8 1,-1 1,2 1,13 1,-11 1,-23 1,22 1,5 1,-9 1,12 1,1 1,-9 1,9 1,-9 1,11 1,-10 1,9 1,-7 1,-10 1,10 1,1 1,-5 1,7 1,-8 1,-1 1,7 1,2 1,-8 1,7 1,5 1,-6 1,-3 1,8 1,2 1,-8 1,2 1,-3 1,4 1,3 1,-9 1,12 1,-8 1,-2 1,4 1,-2 1,0 1,-11 1,20 1,-7 1,-2 1,2 1,-3 1,0 1,0 1,-3 1,4 1,4 1,-3 1,1 1,-11 1,0 1,12 1,0 1,-12 1,17 1,-8 1,2 1,3 1,-12 1,7 1,-10 1,11 1,6 1,-7 1,-3 1,-1 1,-19 1,23 1,-11 1,15 1,-6 1,0 1,2 1,-2 1,8 1,-13 1,-1 1,10 1,-8 1,1 1,7 1,-25 1,19 1,7 1,-6 1,-2 1,11 1,-11 1,5 1,3 1,-8 1,7 1,-6 1,4 1,0 1,5 1,-9 1,9 1,-9 1,-6 1,6 1,14 1,-30 1,20 1,-4 1,3 1,-4 1,7 1,1 1,-8 1,1 1,7 1,-5 1,4 1,-7 1,17 1,-23 1,-35 1,47 1,2 1,-8 1,4 1,1 1,-2 1,5 1,-10 1,12 1,-12 1,0 1,11 1,-5 1,-2 1,6 1,-2 1,2 1,-9 1,8 1,2 1,-3 1,-24 1,27 1,0 1,-9 1,-1 1,3 1,4 1,-3 1,-1 1,-3 1,7 1,-4 1,2 1,8 1,-9 1,13 1,-21 1,13 1,-5 1,5 1,-12 1,8 1,6 1,-1 1,0 1,0 1,-7 1,3 1,6 1,-14 1,14 1,0 1,-7 1,2 1,1 1,-5 1,-1 1,3 1,8 1,-16 1,12 1,7 1,-9 1,-1 1,-4 1,-13 1,10 1,10 1,-7 1,7 1,-6 1,4 1,3 1,-21 1,20 1,-26 1,20 1,1 1,9 1,-14 1,10 1,-14 1,9 1,-3 1,3 1,0 1,-5 1,12 1,-6 1,-7 1,15 1,-3 1,-2 1,0 1,-4 1,1 1,-10 1,12 1,0 1,0 1,-10 1,6 1,1 1,15 1,-7 1,-2 1,-6 1,5 1,-5 1,-8 1,13 1,-7 1,2 1,5 1,-3 1,-13 1,7 1,-2 1,17 1,-9 1,-3 1,6 1,-2 1,-4 1,11 1,2 1,-7 1,-7 1,8 1,-1 1,1 1,3 1,-4 1,2 1,-2 1,-5 1,-2 1,-1 1,4 1,-4 1,6 1,6 1,-8 1,4 1,-4 1,-1 1,3 1,0 1,-7 1,5 1,-1 1,4 1,-3 1,-24 1,23 1,-5 1,5 1,3 1,-5 1,6 1,6 1,-8 1,0 1,-15 1,17 1,3 1,-2 1,-3 1,10 1,-5 1,-4 1,-7 1,7 1,1 1,-6 1,6 1,3 1,5 1,-16 1,-2 1,10 1,5 1,-15 1,8 1,-9 1,9 1,-1 1,-2 1,7 1,2 1,-8 1,3 1,-3 1,7 1,4 1,-9 1,0 1,4 1,-11 1,4 1,6 1,-11 1,8 1,4 1,-9 1,6 1,-6 1,7 1,-4 1,6 1,-6 1,4 1,-9 1,8 1,-3 1,-10 1,17 1,-3 1,-5 1,11 1,-2 1,-4 1,-12 1,4 1,9 1,0 1,-5 1,2 1,-12 1,15 1,-6 1,-1 1,9 1,3 1,2 1,-14 1,0 1,2 1,5 1,3 1,-4 1,-11 1,-2 1,10 1,-8 1,3 1,11 1,-18 1,17 1,-11 1,19 1,-10 1,-4 1,2 1,0 1,-6 1,6 1,1 1,5 1,-8 1,0 1,-2 1,1 1,-1 1,6 1,1 1,-7 1,11 1,-2 1,-4 1,-2 1,1 1,-1 1,-6 1,10 1,-4 1,5 1,2 1,-6 1,1 1,2 1,-2 1,0 1,0 1,5 1,-14 1,-17 1,32 1,-7 1,2 1,0 1,1 1,1 1,-5 1,5 1,-11 1,10 1,-3 1,-5 1,10 1,0 1,-11 1,6 1,-2 1,-3 1,-1 1,3 1,6 1,-1 1,-3 1,2 1,2 1,-1 1,-4 1,9 1,-1 1,-1 1,-9 1,5 1,-4 1,-1 1,-17 1,26 1,2 1,0 1,-2 1,-11 1,10 1,-4 1,1 1,-7 1,-24 1,28 1,-2 1,3 1,0 1,5 1,-19 1,12 1,11 1,-7 1,-2 1,-3 1,-8 1,11 1,7 1,-12 1,7 1,-8 1,13 1,1 1,-9 1,-14 1,17 1,4 1,-5 1,-6 1,11 1,-6 1,9 1,1 1,-14 1,11 1,-7 1,2 1,5 1,-27 1,23 1,-6 1,12 1,1 1,1 1,-4 1,-21 1,19 1,-7 1,0 1,4 1,1 1,0 1,-15 1,13 1,-11 1,-2 1,17 1,-7 1,0 1,6 1,-1 1,-6 1,9 1,-10 1,5 1,2 1,1 1,-1 1,1 1,5 1,-10 1,8 1,-9 1,2 1,-2 1,-2 1,13 1,-6 1,3 1,-6 1,-3 1,11 1,-30 1,22 1,-1 1,2 1,7 1,2 1,-12 1,5 1,1 1,1 1,-10 1,9 1,1 1,-5 1,5 1,4 1,-7 1,2 1,3 1,-5 1,0 1,2 1,-12 1,2 1,11 1,-2 1,0 1,0 1,5 1,-1 1,-2 1,-1 1,-4 1,-2 1,8 1,-11 1,4 1,-8 1,9 1,5 1,-4 1,-3 1,0 1,1 1,10 1,-3 1,-5 1,6 1,-2 1,-2 1,-3 1,7 1,-3 1,-3 1,1 1,-2 1,-3 1,2 1,6 1,-3 1,7 1,-7 1,-3 1,2 1,2 1,-2 1,0 1,1 1,-1 1,8 1,-4 1,-3 1,0 1,-1 1,6 1,-3 1,-5 1,2 1,-3 1,7 1,-2 1,9 1,-9 1,-2 1,1 1,-5 1,5 1,-3 1,-1 1,8 1,-6 1,2 1,3 1,-8 1,4 1,5 1,-4 1,3 1,1 1,3 1,-3 1,-5 1,5 1,-8 1,6 1,-7 1,3 1,2 1,-5 1,-3 1,8 1,-3 1,-24 1,24 1,3 1,6 1,-5 1,-14 1,10 1,11 1,-5 1,-3 1,-21 1,8 1,21 1,-7 1,4 1,2 1,-17 1,13 1,-2 1,-1 1,-1 1,5 1,0 1,-3 1,3 1,-7 1,1 1,4 1,8 1,-15 1,-6 1,12 1,-2 1,4 1,-10 1,8 1,2 1,-1 1,-4 1,2 1,-1 1,-1 1,2 1,8 1,-4 1,-9 1,12 1,-8 1,7 1,-5 1,-2 1,-5 1,5 1,3 1,5 1,-5 1,2 1,-5 1,7 1,-7 1,2 1,0 1,-2 1,6 1,-3 1,-6 1,5 1,-7 1,11 1,-3 1,2 1,-2 1,1 1,-1 1,-2 1,0 1,6 1,-28 1,26 1,2 1,-13 1,-5 1,13 1,4 1,-3 1,3 1,1 1,-13 1,6 1,-1 1,3 1,1 1,0 1,-1 1,-1 1,3 1,5 1,-11 1,7 1,2 1,-6 1,4 1,-5 1,0 1,2 1,-12 1,16 1,-7 1,-8 1,12 1,0 1,0 1,-3 1,-7 1,9 1,-8 1,8 1,-1 1,5 1,-1 1,-5 1,1 1,0 1,-2 1,-3 1,9 1,0 1,-8 1,-8"/>
<path fill="none" stroke="#f5c94e" stroke-width="0.5" stroke-linejoin="bevel" vector-effect="non-scaling-stroke" d="M0,585l1,25 1,-20 1,-32 1,7 1,24 1,-15 1,20 1,-50 1,65 1,-4 1,-53 1,18 1,-5 1,4 1,22 1,-24 1,-6 1,26 1,10 1,-28 1,12 1,-28 1,39 1,21 1,-40 1,2 1,-32 1,24 1,-25 1,47 1,16 1,-6 1,-30 1,15 1,-19 1,-6 1,21 1,-4 1,-55 1,59 1,3 1,-20 1,19 1,7 1,-49 1,19 1,7 1,-11 1,22 1,-16 1,5 1,-20 1,16 1,-14 1,16 1,-9 1,-4 1,40 1,-18 1,-25 1,54 1,-17 1,-11 1,-18 1,24 1,2 1,9 1,-38 1,10 1,-24 1,44 1,-37 1,19 1,17 1,-7 1,-3 1,9 1,-37 1,30 1,20 1,-2 1,-44 1,41 1,-9 1,-23 1,-6 1,20 1,25 1,-15 1,-24 1,18 1,13 1,-16 1,-7 1,16 1,-43 1,42 1,-30 1,22 1,-28 1,27 1,-11 1,7 1,19 1,-36 1,2 1,26 1,8 1,-13 1,-9 1,20 1,-18 1,41 1,-18 1,15 1,-47 1,-33 1,44 1,-16 1,12 1,25 1,-33 1,-42 1,84 1,-20 1,3 1,-8 1,-10 1,4 1,10 1,-14 1,11 1,-9 1,6 1,28 1,-16 1,-32 1,19 1,33 1,0 1,-50 1,27 1,-7 1,-39 1,44 1,28 1,-45 1,7 1,21 1,-24 1,-48 1,-11 1,43 1,6 1,-4 1,23 1,12 1,14 1,-40 1,17 1,0 1,-34 1,28 1,6 1,-20 1,49 1,-31 1,-3 1,0 1,1 1,8 1,18 1,-43 1,17 1,-40 1,11 1,31 1,-37 1,40 1,16 1,-45 1,12 1,12 1,-9 1,7 1,-10 1,-29 1,45 1,-78 1,36 1,26 1,12 1,11 1,-23 1,21 1,4 1,-24 1,22 1,-15 1,-15 1,17 1,23 1,-15 1,-7 1,14 1,-2 1,-9 1,-33 1,-9 1,12 1,54 1,-16 1,-37 1,38 1,-36 1,26 1,12 1,-17 1,15 1,1 1,-42 1,26 1,9 1,-16 1,-14 1,46 1,-59 1,26 1,-6 1,14 1,20 1,-53 1,42 1,-26 1,15 1,3 1,1 1,-16 1,-8 1,35 1,12 1,-14 1,-23 1,14 1,-9 1,-14 1,6 1,8 1,13 1,-23 1,37 1,-18 1,-40 1,56 1,-13 1,-1 1,3 1,0 1,7 1,18 1,-20 1,16 1,-10 1,-21 1,3 1,-6 1,-41 1,43 1,24 1,-27 1,7 1,12 1,-7 1,-19 1,-4 1,5 1,-1 1,50 1,-51 1,-6 1,58 1,-62 1,6 1,29 1,-8 1,5 1,20 1,12 1,-34 1,3 1,-11 1,-4 1,2 1,10 1,-11 1,-14 1,-18 1,-3 1,36 1,1 1,-15 1,4 1,17 1,-22 1,35 1,-24 1,7 1,22 1,-5 1,-44 1,33 1,18 1,-37 1,8 1,29 1,-42 1,48 1,-49 1,10 1,2 1,2 1,20 1,-6 1,-43 1,23 1,-13 1,16 1,28 1,-53 1,58 1,-26 1,-13 1,29 1,-1 1,-63 1,42 1,-40 1,36 1,-24 1,22 1,35 1,-28 1,14 1,7 1,-10 1,-11 1,-1 1,0 1,14 1,-11 1,4 1,31 1,-20 1,-31 1,19 1,0 1,-3 1,-5 1,7 1,54 1,0 1,-21 1,-43 1,17 1,15 1,-23 1,16 1,8 1,7 1,-18 1,-17 1,6 1,-2 1,8 1,-4 1,9 1,-2 1,-9 1,27 1,-29 1,15 1,-2 1,-17 1,-44 1,57 1,-13 1,-12 1,63 1,-52 1,5 1,1 1,4 1,14 1,-1 1,-22 1,-2 1,22 1,-14 1,21 1,-14 1,11 1,-31 1,45 1,-31 1,-13 1,2 1,2 1,17 1,-41 1,21 1,-2 1,37 1,-36 1,19 1,2 1,-7 1,-6 1,12 1,-25 1,0 1,-8 1,16 1,0 1,51 1,-52 1,34 1,1 1,-17 1,-7 1,4 1,-11 1,12 1,-3 1,-5 1,2 1,19 1,-13 1,-3 1,33 1,-30 1,10 1,-24 1,-3 1,24 1,8 1,-62 1,57 1,2 1,-12 1,10 1,-27 1,23 1,-24 1,13 1,-2 1,8 1,-24 1,26 1,-8 1,-11 1,5 1,17 1,-19 1,19 1,-18 1,-7 1,8 1,34 1,-2 1,-21 1,0 1,4 1,-29 1,55 1,-47 1,-4 1,17 1,-13 1,20 1,6 1,-16 1,8 1,-12 1,-18 1,7 1,52 1,-34 1,-31 1,15 1,5 1,25 1,-35 1,46 1,7 1,-20 1,-18 1,28 1,-26 1,-7 1,-13 1,39 1,-27 1,19 1,33 1,-59 1,13 1,-8 1,-2 1,29 1,-37 1,30 1,-3 1,15 1,-45 1,9 1,35 1,-45 1,32 1,15 1,-42 1,-65 1,103 1,-34 1,17 1,15 1,-43 1,30 1,0 1,-10 1,24 1,-28 1,15 1,4 1,-26 1,6 1,-19 1,25 1,10 1,4 1,-13 1,2 1,0 1,23 1,-37 1,40 1,-11 1,-32 1,33 1,2 1,-18 1,35 1,-41 1,-17 1,33 1,5 1,-11 1,13 1,-20 1,18 1,-10 1,2 1,-16 1,14 1,-23 1,2 1,20 1,16 1,-41 1,31 1,23 1,-18 1,1 1,-12 1,-28 1,24 1,8 1,-19 1,20 1,-14 1,25 1,-12 1,-45 1,50 1,-9 1,9 1,-24 1,5 1,12 1,3 1,-24 1,37 1,-18 1,13 1,-19 1,1 1,12 1,-30 1,15 1,16 1,7 1,-16 1,11 1,-20 1,19 1,-20 1,19 1,-22 1,20 1,12 1,-14 1,-27 1,49 1,-34 1,-24 1,46 1,-22 1,21 1,-7 1,26 1,-5 1,-52 1,34 1,-24 1,16 1,-2 1,0 1,-16 1,7 1,25 1,0 1,11 1,-27 1,-11 1,15 1,-40 1,34 1,-15 1,-42 1,41 1,1 1,23 1,-31 1,11 1,17 1,-6 1,24 1,-18 1,21 1,-9 1,-30 1,-4 1,45 1,-46 1,6 1,-14 1,28 1,16 1,3 1,-44 1,5 1,25 1,-6 1,-15 1,21 1,16 1,-28 1,10 1,-3 1,-36 1,45 1,-34 1,3 1,-14 1,39 1,12 1,-6 1,19 1,-24 1,-16 1,20 1,-2 1,0 1,14 1,-31 1,1 1,12 1,-11 1,0 1,33 1,1 1,-28 1,-3 1,8 1,-23 1,47 1,-20 1,-53 1,41 1,13 1,-6 1,28 1,-42 1,36 1,-19 1,-7 1,-21 1,25 1,-4 1,16 1,-17 1,-2 1,24 1,-11 1,-11 1,11 1,5 1,-11 1,-22 1,49 1,-25 1,-34 1,48 1,7 1,-4 1,-74 1,25 1,18 1,14 1,0 1,-1 1,-20 1,10 1,5 1,20 1,-20 1,-20 1,27 1,-16 1,29 1,-11 1,3 1,-5 1,-12 1,-1 1,7 1,19 1,17 1,-15 1,-32 1,13 1,8 1,-5 1,1 1,-16 1,-9 1,12 1,8 1,6 1,-22 1,-31 1,22 1,49 1,-29 1,-8 1,22 1,-5 1,-16 1,43 1,-40 1,20 1,-16 1,22 1,0 1,-23 1,-10 1,39 1,-23 1,19 1,-81 1,56 1,21 1,-17 1,32 1,-25 1,2 1,-58 1,75 1,-39 1,22 1,-3 1,-2 1,-13 1,-23 1,28 1,27 1,-17 1,-5 1,3 1,17 1,-16 1,-3 1,13 1,9 1,-11 1,-3 1,-29 1,1 1,26 1,-18 1,8 1,13 1,7 1,33 1,-59 1,18 1,34 1,-49 1,21 1,-26 1,36 1,-30 1,21 1,3 1,-20 1,-15 1,9 1,16 1,6 1,4 1,-27 1,36 1,-14 1,-8 1,-9 1,-6 1,-19 1,4 1,8 1,46 1,-33 1,-9 1,29 1,-27 1,49 1,9 1,-35 1,-56 1,72 1,-19 1,6 1,-4 1,-15 1,21 1,2 1,-8 1,-9 1,-1 1,17 1,5 1,-20 1,-15 1,-8 1,12 1,18 1,28 1,-25 1,-49 1,29 1,15 1,-28 1,-4 1,20 1,3 1,2 1,9 1,-15 1,7 1,-11 1,30 1,-47 1,38 1,-37 1,6 1,23 1,2 1,4 1,-18 1,14 1,-13 1,15 1,18 1,-54 1,29 1,-8 1,-13 1,20 1,3 1,-36 1,2 1,35 1,-20 1,43 1,-28 1,25 1,-25 1,-12 1,23 1,-10 1,-30 1,-3 1,45 1,-8 1,5 1,4 1,20 1,-27 1,-1 1,17 1,3 1,-13 1,-10 1,-3 1,-2 1,-1 1,24 1,-21 1,17 1,-22 1,28 1,-16 1,23 1,-13 1,-3 1,-16 1,2 1,3 1,-21 1,15 1,20 1,-50 1,30 1,37 1,-25 1,-27 1,23 1,5 1,-7 1,10 1,-19 1,12 1,0 1,-24 1,18 1,-9 1,-3 1,12 1,3 1,2 1,-16 1,42 1,-53 1,72 1,-45 1,24 1,-30 1,17 1,-5 1,-8 1,-14 1,12 1,-15 1,46 1,-38 1,43 1,-31 1,-25 1,59 1,-13 1,-24 1,-3 1,-34 1,60 1,-38 1,13 1,-13 1,34 1,-23 1,2 1,-4 1,27 1,-39 1,20 1,12 1,3 1,2 1,-25 1,14 1,4 1,7 1,11 1,-9 1,-32 1,21 1,-20 1,39 1,-100 1,76 1,5 1,-19 1,27 1,1 1,-8 1,-3 1,-42 1,35 1,14 1,-4 1,-44 1,50 1,5 1,-37 1,7 1,15 1,-62 1,44 1,-5 1,41 1,-19 1,-11 1,-8 1,27 1,-68 1,54 1,3 1,-4 1,12 1,11 1,-37 1,5 1,22 1,-20 1,13 1,17 1,-8 1,9 1,2 1,-1 1,-38 1,45 1,-33 1,0 1,19 1,-22 1,14 1,-9 1,24 1,-7 1,8 1,-25 1,-59 1,85 1,-11 1,-20 1,-4 1,-22 1,57 1,-37 1,22 1,0 1,-12 1,5 1,-4 1,20 1,9 1,-1 1,-47 1,7 1,12 1,13 1,5 1,-43 1,34 1,11 1,-12 1,-3 1,-25 1,50 1,-15 1,-13 1,-2 1,20 1,7 1,-22 1,-17 1,28 1,-19 1,9 1,-2 1,-13 1,37 1,-39 1,40 1,-34 1,10 1,3 1,7 1,-21 1,42 1,-29 1,27 1,-11 1,-13 1,-24 1,31 1,0 1,-31 1,18 1,17 1,6 1,-18 1,-1 1,-10 1,-6 1,32 1,-41 1,23 1,23 1,-6 1,-38 1,-9 1,35 1,-9 1,-5 1,-5 1,16 1,8 1,-23 1,48 1,-42 1,12 1,-8 1,1 1,-8 1,3 1,7 1,-44 1,46 1,2 1,1 1,-1 1,29 1,-28 1,-2 1,-9 1,30 1,-7 1,-27 1,-1 1,0 1,30 1,-11 1,7 1,-87 1,76 1,1 1,15 1,-27 1,-25 1,32 1,20 1,11 1,-57 1,38 1,5 1,-9 1,-10 1,14 1,-8 1,23 1,-54 1,59 1,-27 1,-8 1,24 1,-15 1,12 1,-4 1,-49 1,37 1,32 1,-44 1,22 1,11 1,-7 1,8 1,-39 1,32 1,5 1,-40 1,31 1,-13 1,-3 1,21 1,-7 1,14 1,-13 1,-31 1,17 1,13 1,6 1,-19 1,16 1,-17 1,20 1,-30 1,25 1,-41 1,36 1,2 1,-14 1,3 1,18 1,-19 1,-6 1,-15 1,38 1,-36 1,-1 1,28 1,-12 1,-19 1,35 1,-10 1,24 1,-18 1,-13 1,-2 1,14 1,39 1,-34 1,-19 1,5 1,1 1,-16 1,-9 1,40 1,-7 1,-10 1,15 1,-44 1,56 1,-22 1,-30 1,14 1,18 1,-11 1,18 1,-32 1,47 1,-26 1,18 1,-22 1,0 1,-1 1,13 1,-5 1,-22 1,4 1,15 1,-23 1,22 1,-23 1,29 1,-6 1,1 1,-11 1,19 1,-19 1,24 1,-35 1,20 1,-10 1,27 1,-12 1,2 1,-17 1,9 1,-13 1,3 1,31 1,-34 1,21 1,9 1,-3 1,14 1,-45 1,38 1,10 1,-54 1,31 1,-20 1,-39 1,72 1,-21 1,16 1,-10 1,-14 1,10 1,8 1,23 1,-19 1,5 1,-26 1,54 1,-27 1,7 1,9 1,-10 1,-25 1,7 1,32 1,-53 1,46 1,6 1,-24 1,1 1,15 1,-1 1,-4 1,-2 1,-6 1,24 1,17 1,-32 1,-12 1,35 1,-30 1,22 1,-36 1,22 1,-42 1,18 1,1 1,16 1,12 1,6 1,-22 1,-18 1,-9 1,36 1,-8 1,-6 1,24 1,-2 1,11 1,-1 1,1 1,-29 1,-1 1,-3 1,-50 1,57 1,-17 1,19 1,8 1,16 1,-25 1,0 1,-1 1,23 1,-41 1,33 1,-27 1,14 1,18 1,-18 1,4 1,-76 1,42 1,54 1,-22 1,6 1,-19 1,15 1,2 1,5 1,-19 1,1 1,17 1,-7 1,4 1,-8 1,11 1,-8 1,-24 1,15 1,20 1,28 1,-45 1,-16 1,35 1,3 1,-22 1,-7 1,13 1,21 1,-44 1,37 1,-11 1,-1 1,-2 1,11 1,4 1,-32 1,14 1,-22 1,-38 1,75 1,-1 1,-12 1,-26 1,13 1,6 1,11 1,-5 1,-1 1,10 1,-11 1,-2 1,-23 1,28 1,-9 1,-5 1,6 1,6 1,-38 1,32 1,-3 1,-10 1,31 1,-18 1,-25 1,45 1,-9 1,-52 1,54 1,-1 1,-5 1,11 1,-18 1,15 1,-45 1,40 1,-4 1,4 1,-3 1,-11 1,17 1,-7 1,8 1,-21 1,28 1,-26 1,0 1,9 1,15 1,-6 1,-2 1,6 1,-12 1,-21 1,37 1,-8 1,-15 1,36 1,-57 1,18 1,10 1,46 1,-32 1,-16 1,-8 1,3 1,17 1,12 1,-2 1,-6 1,2 1,-2 1,-3 1,10 1,-13 1,11 1,-37 1,8 1,26 1,-7 1,-33 1,56 1,5 1,-26 1,3 1,-13 1,-12 1,19 1,-8 1,10 1,-3 1,-2 1,5 1,18 1,-31 1,14 1,14 1,-9 1,-4 1,-4 1,-8 1,3 1,19 1,-15 1,22 1,-4 1,-6 1,6 1,-36 1,46 1,-26 1,13 1,-6 1,-1 1,-8 1,0 1,-1 1,21 1,-11 1,6 1,-11 1,3 1,1 1,-29 1,27 1,-14 1,-1 1,22 1,-23 1,-11 1,22 1,22 1,-23 1,4 1,0 1,5 1,-17 1,13 1,0 1,20 1,-17 1,-7 1,-26 1,19 1,-20 1,17 1,9 1,6 1,-10 1,6 1,2 1,4 1,22 1,-29 1,10 1,-5 1,-9 1,4 1,6 1,0 1,2 1,-2 1,8 1,-13 1,-4 1,10 1,7 1,-64 1,60 1,-13 1,7 1,0 1,3 1,4 1,2 1,-10 1,6 1,2 1,-3 1,-12 1,23 1,-48 1,32 1,17 1,-23 1,-26 1,26 1,-10 1,20 1,-6 1,-18 1,34 1,4 1,-11 1,2 1,4 1,-6 1,-11 1,14 1,-4 1,22 1,-29 1,17 1,1 1,-18 1,5 1,16 1,2 1,-13 1,-1 1,-15 1,24 1,-5 1,-22 1,0 1,6 1,4 1,-4 1,-3 1,2 1,12 1,3 1,-13 1,13 1,-17 1,-23 1,36 1,-7 1,-2 1,5 1,11 1,3 1,-11 1,-1 1,13 1,-9 1,-7 1,-3 1,2 1,1 1,1 1,-21 1,19 1,27 1,-22 1,-9 1,15 1,-47 1,30 1,7 1,-8 1,22 1,-9 1,8 1,-16 1,1 1,4 1,10 1,-10 1,13 1,-19 1,-4 1,12 1,-22 1,34 1,-11 1,-6 1,13 1,-10 1,11 1,-52 1,45 1,8 1,-24 1,33 1,-23 1,-1 1,3 1,12 1,-1 1,-20 1,-1 1,20 1,-26 1,23 1,-1 1,-43 1,41 1,-9 1,20 1,-12 1,12 1,8 1,-10 1,4 1,-21 1,-2 1,17 1,-17 1,19 1,-11 1,20 1,-15 1,0 1,18 1,-11 1,-2 1,3 1,-16 1,-6 1,28 1,-22 1,5 1,-40 1,47 1,-23 1,16 1,3 1,7 1,-5 1,-7 1,-9 1,5 1,13 1,4 1,-10 1,11 1,-10 1,-3 1,5 1,-4 1,0 1,-1 1,17 1,-19 1,4 1,11 1,-17 1,5 1,8 1,-11 1,4 1,-5 1,-5 1,3 1,-9 1,22 1,-8 1,-3 1,-16 1,15 1,1 1,-16 1,27 1,-48 1,32 1,6 1,1 1,-21 1,20 1,12 1,-14 1,11 1,-10 1,-6 1,17 1,-3 1,-5 1,6 1,-8 1,-5 1,18 1,-9 1,-18 1,19 1,-4 1,6 1,-3 1,11 1,-10 1,-17 1,33 1,-13 1,1 1,9 1,-19 1,5 1,-8 1,20 1,-3 1,1 1,-24 1,-3 1,21 1,-21 1,24 1,-6 1,0 1,-12 1,22 1,-12 1,-2 1,3 1,-5 1,-6 1,7 1,-13 1,13 1,-1 1,7 1,7 1,-8 1,-13 1,35 1,-42 1,25 1,1 1,-9 1,-2 1,-4 1,3 1,4 1,13 1,-17 1,6 1,13 1,-18 1,12 1,-8 1,11 1,-20 1,4 1,19 1,-15 1,2 1,3 1,3 1,-21 1,3 1,-7 1,18 1,-18 1,25 1,-17 1,2 1,12 1,11 1,-11 1,-7 1,16 1,-45 1,28 1,-4 1,-28 1,43 1,-14 1,10 1,-11 1,13 1,-18 1,15 1,5 1,-20 1,10 1,-3 1,6 1,8 1,-12 1,-6 1,35 1,-29 1,4 1,4 1,7 1,-16 1,9 1,-2 1,6 1,-13 1,1 1,-3 1,15 1,-7 1,13 1,-20 1,24 1,-24 1,5 1,7 1,-45 1,47 1,6 1,-40 1,17 1,11 1,-2 1,5 1,2 1,-20 1,21 1,-2 1,-10 1,10 1,3 1,-33 1,21 1,2 1,6 1,11 1,-21 1,-1 1,4 1,9 1,2 1,9 1,-25 1,4 1,5 1,9 1,-17 1,10 1,-1 1,-7 1,-5 1,17 1,2 1,-12 1,12 1,-1 1,-3 1,-10 1,-2 1,3 1,2 1,14 1,-1 1,-3 1,-3 1,7 1,-7 1,4 1,-17 1,-5 1,15 1,-2 1,-5 1,-5 1,7 1,11 1,8 1,-17 1,-8 1,8 1,-14 1,14 1,-2 1,1 1,-1 1,0 1,12 1,-9 1,-13 1,22 1,0 1,3 1,-8 1,-15 1,20 1,-21 1,14 1,5 1,3 1,10 1,-14 1,2 1,-17 1,8 1,-2 1,-3 1,-6 1,25 1,1 1,-9 1,-6 1,2 1,8 1,-6 1,-10 1,8 1,-5 1,7 1,-1 1,6 1,-20 1,11 1,5 1,-3 1,-2 1,10 1,-4 1,-1 1,-7 1,0 1,-3 1,19 1,1 1,-3 1,-11 1,-12 1,25 1,-7 1,-4 1,-2 1,10 1,-12 1,4 1,-14 1,17 1,-7 1,8 1,4 1,4 1,-13 1,4 1,5 1,-14 1,5 1,-2 1,-3 1,17 1,-13 1,1 1,6 1,-4 1,-5 1,25 1,-11 1,-11 1,7 1,-17 1,2 1,18 1,-1 1,-4 1,-3 1,4 1,-5 1,7 1,2 1,-11 1,10 1,-6 1,-1 1,-2 1,7 1,-6 1,4 1,-2 1,-24 1,14 1,18 1,-11 1,8 1,-7 1,7 1,-6 1,4 1,0 1,4 1,-19 1,24 1,-24 1,19 1,-16 1,6 1,0 1,-1 1,13 1,-9 1,8 1,-7 1,3 1,-8 1,6 1,-3 1,-13 1,19 1,2 1,-22 1,17 1,2 1,6 1,-13 1,12 1,-4 1,7 1,-12 1,-7 1,10 1,-2 1,-28 1,21 1,9 1,-2 1,0 1,7 1,-10 1,-12 1,5 1,10 1,1 1,-3 1,-7 1,2 1,-11 1,9 1,13 1,0 1,-8 1,9 1,0 1,2 1,-3 1,14 1,-22 1,5 1,-1 1,-15 1,6 1,9 1,13 1,-8 1,-5 1,0 1,-3 1,-1 1,-1 1,16 1,-12 1,2 1,-11 1,0 1,4 1,8 1,1 1,-7 1,-7 1,11 1,-9 1,3 1,7 1,8 1,-13 1,-3 1,12 1,-5 1,9 1,-12 1,12 1,-16 1,2 1,9 1,-3 1,0 1,8 1,-23 1,5 1,8 1,-7 1,7 1,-6 1,13 1,-15 1,12 1,-8 1,6 1,7 1,-13 1,-1 1,5 1,-9 1,24 1,-18 1,3 1,-6 1,-4 1,16 1,-7 1,-3 1,16 1,-9 1,4 1,-23 1,29 1,-14 1,3 1,-1 1,-5 1,-24 1,33 1,-8 1,9 1,-1 1,-13 1,11 1,-11 1,10 1,-1 1,10 1,-7 1,2 1,4 1,-12 1,2 1,10 1,-27 1,4 1,13 1,10 1,5 1,-23 1,8 1,-12 1,19 1,-9 1,4 1,-4 1,2 1,-45 1,51 1,-8 1,12 1,-39 1,40 1,-5 1,-6 1,-4 1,-4 1,6 1,6 1,3 1,-3 1,0 1,-12 1,3 1,5 1,1 1,2 1,1 1,-1 1,-1 1,7 1,-3 1,-11 1,-7 1,18 1,-18 1,-10 1,16 1,-6 1,11 1,3 1,3 1,-8 1,10 1,-11 1,-7 1,4 1,4 1,12 1,-10 1,6 1,7 1,-20 1,-6 1,13 1,4 1,3 1,-13 1,10 1,-8 1,8 1,-12 1,4 1,11 1,-6 1,2 1,-25 1,34 1,-13 1,-3 1,8 1,5 1,-10 1,2 1,-8 1,6 1,8 1,-21 1,30 1,-6 1,-16 1,7 1,5 1,-3 1,4 1,-5 1,-15 1,9 1,10 1,-3 1,-12 1,20 1,-6 1,-5 1,0 1,11 1,-4 1,-14 1,0 1,15 1,-12 1,13 1,-9 1,14 1,-13 1,0 1,-2 1,2 1,-2 1,5 1,0 1,-10 1,6 1,7 1,-20 1,21 1,0 1,-9 1,3 1,-36 1,27 1,9 1,7 1,-8 1,-1 1,2 1,-2 1,-2 1,-15 1,17 1,12 1,-6 1,-10 1,18 1,-13 1,0 1,2 1,7 1,-12 1,16 1,-3 1,-19 1,11 1,5 1,8 1,-9 1,-9 1,-5 1,-1 1,22 1,-21 1,12 1,-1 1,4 1,-8 1,-3 1,1 1,-23 1,24 1,-4 1,14 1,-3 1,-21 1,6 1,17 1,-14 1,-3 1,-1 1,5 1,5 1,6 1,-30 1,26 1,-4 1,6 1,2 1,0 1,4 1,-7 1,-1 1,-6 1,12 1,-8 1,7 1,-7 1,6 1,-7 1,-4 1,5 1,-2 1,2 1,0 1,10 1,-10 1,1 1,1 1,4 1,-10 1,9 1,-4 1,13 1,-13 1,0 1,-7 1,13 1,-9 1,-2 1,-3 1,-2 1,13 1,-18 1,10 1,14 1,-11 1,0 1,6 1,11 1,-8 1,2 1,-20 1,5 1,7 1,-3 1,2 1,-1 1,-5 1,11 1,-12 1,10 1,-5 1,-8 1,10 1,4 1,-3 1,9 1,-27 1,13 1,13 1,-13 1,-10 1,13 1,4 1,-2 1,-1 1,-8 1,20 1,-1 1,-15 1,-11 1,17 1,-3 1,8 1,-10 1,3 1,2 1,4 1,-7 1,7 1,11 1,-17 1,-21 1,28 1,-5 1,4 1,-11 1,10 1,-5 1,-9 1,18 1,-10 1,14 1,-9 1,-14 1,10 1,-1 1,2 1,4 1,-1 1,3 1,-9 1,9 1,-3 1,-7 1,9 1,8 1,-14 1,12 1,-11 1,8 1,-2 1,-13 1,4 1,11 1,-11 1,-1 1,-8 1,23 1,-12 1,4 1,-10 1,11 1,4 1,1 1,-6 1,-4 1,0 1,-2 1,-5 1,-1 1,10 1,9 1,-7 1,2 1,-5 1,-5 1,15 1,-13 1,14 1,-13 1,-12 1,18 1,-8 1,16 1,-11 1,-2 1,6 1,4 1,-18 1,14 1,-7 1,5 1,-4 1,-2 1,4 1,3 1,-7 1,3 1,-3 1,-1 1,-8 1,7 1,14 1,-3 1,7 1,-16 1,8 1,-4 1,4 1,-29 1,33 1,1 1,-22 1,21 1,4 1,-19 1,10 1,-8 1,5 1,5 1,-12 1,6 1,3 1,10 1,-17 1,0 1,10 1,-1 1,-2 1,6 1,-8 1,-6 1,-1 1,11 1,-2 1,-6 1,5 1,3 1,0 1,-12 1,3 1,-3 1,10 1,6 1,-7 1,-3 1,-2 1,3 1,8 1,-20 1,18 1,-7 1,-3 1,11 1,-4 1,-2 1,12 1,-13 1,3 1,-10 1,14 1,-8 1,0 1,-3 1,16 1,-9 1,12 1,-9 1,-5 1,-4 1,3 1,11 1,-6 1,-5 1,1 1,1 1,5 1,-8 1,8 1,-3 1,-3 1,8 1,-7 1,5 1,-6 1,4 1,-9 1,-5 1,-22 1,33 1,-11 1,7 1,4 1,-24 1,26 1,-13 1,10 1,6 1,-4 1,4 1,-11 1,4 1,-1 1,3 1,-7 1,8 1,1 1,7 1,2 1,-34 1,20 1,-14 1,-10 1,29 1,8 1,-33 1,25 1,1 1,-1 1,-2 1,-3 1,2 1,-4 1,-4 1,14 1,-9 1,-3 1,10 1,-6 1,-5 1,1 1,8 1,-5 1,-3 1,5 1,10 1,-5 1,-6 1,1 1,3 1,-5 1,1 1,8 1,-9 1,0 1,-3 1,-5 1,7 1,0 1,-10 1,10 1,11 1,-6 1,-1 1,-14 1,21 1,-2 1,-13 1,15 1,-10 1,5 1,2 1,-12 1,3 1,14 1,-6 1,-2 1,6 1,-8 1,-6 1,16 1,-5 1,-11 1,15 1,-13 1,0 1,11 1,-12 1,7 1,5 1,-6 1,5 1,-14 1,14 1,2 1,-1 1,-16 1,6 1,1 1,-2 1,-25 1,27 1,7 1,0 1,-14 1,15 1,-14 1,10 1,-1 1,-8 1,3 1,11 1,2 1,-11 1,4 1,-3 1,-2 1,-3 1,13 1,3 1,-13 1,12 1,-15 1,-1 1,16 1,-1 1,-10 1,7 1,-8 1,8 1,-17 1,13 1,2 1,-1 1,-18 1,19 1,-5 1,8 1,-1 1,-2 1,6 1,-8 1,6 1,-8 1,3 1,6 1,0 1,-2 1,3 1,-8 1,-3 1,3 1,3 1,2 1,-5 1,-11 1,12 1,-10 1,7 1,9 1,-3 1,-2 1,0 1,-5 1,2 1,3 1,4 1,-12 1,12 1,-1 1,-27 1,28 1,-8 1,4 1,5 1,-5 1,-2 1,7 1,-4 1,1 1,4 1,-7 1,-7 1,8 1,0 1,-3 1,16 1,-6 1,-4 1,-11 1,4 1,-11 1,13 1,-6 1,4 1,7 1,-16 1,15 1,-7 1,0 1,7 1,-4 1,0 1,2 1,-9 1,-8 1,20 1,0 1,3 1,-3 1,-14 1,6 1,-8 1,3 1,9 1,0 1,0 1,-13 1,12 1,-1 1,0 1,5 1,-7 1,9 1,5 1,-7 1,-6 1,7 1,2 1,-7 1,4 1,0 1,-2 1,-5 1,11 1,-50 1,52 1,-7 1,-5 1,6 1,-2 1,3 1,0 1,-1 1,-25 1,20 1,5 1,8 1,-21 1,12 1,-5 1,10 1,-2 1,-5 1,-8 1,19 1,-6 1,-2 1,-1 1,-6 1,3 1,7 1,-13 1,9 1,-5 1,3 1,-5 1,10 1,7 1,-20 1,3 1,11 1,-7 1,4 1,5 1,-13 1,6 1,17 1,-13 1,6 1,-6 1,-6 1,4 1,-6 1,-3 1,2 1,8 1,-4 1,-3 1,8 1,-7 1,12 1,-5 1,-26 1,27 1,-5 1,2 1,7 1,-5 1,-27 1,23 1,-6 1,-1 1,12 1,2 1,-3 1,-26 1,25 1,-11 1,5 1,16 1,-16 1,-14 1,20 1,5 1,-13 1,-3 1,11 1,-4 1,-6 1,9 1,3 1,-4 1,0 1,7 1,0 1,-9 1,-1 1,6 1,-8 1,4 1,-2 1,5 1,-11 1,-3 1,21 1,-18 1,16 1,-3 1,10 1,-44 1,28 1,11 1,-15 1,8 1,-8 1,6 1,-5 1,-4 1,6 1,-17 1,19 1,-3 1,0 1,-1 1,6 1,-9 1,9 1,7 1,-11 1,7 1,-14 1,15 1,1 1,-8 1,-4 1,2 1,2 1,2 1,-1 1,3 1,-9 1,18 1,-14 1,-10 1,15 1,-1 1,-18 1,12 1,-23 1,27 1,0 1,5 1,7 1,-18 1,-6 1,13 1,9 1,1 1,-12 1,2 1,-1 1,-1 1,9 1,-10 1,-15 1,13 1,7 1,-1 1,-4 1,6 1,-2 1,1 1,-6 1,3 1,-3 1,1 1,-5 1,13 1,-7 1,9 1,-2 1,-8 1,-5 1,7 1,-6 1,4 1,16 1,-14 1,7 1,3 1,-7 1,-2 1,-18 1,25 1,-2 1,-1 1,-11 1,6 1,-2 1,0 1,-2 1,7 1,-19 1,25 1,-16 1,9 1,-62 1,59 1,2 1,-4 1,1 1,3 1,-3 1,4 1,6 1,-19 1,1 1,1 1,8 1,-14 1,18 1,2 1,-7 1,9 1,1 1,-9 1,4 1,-11 1,23 1,-21 1,16 1,-6 1,-7 1,6 1,3 1,-17 1,13 1,-2 1,-5 1,3 1,-28 1,29 1,-15 1,19 1,-2 1,7 1,-12 1,18 1,-25 1,19 1,1 1,-8 1,-2 1,3 1,-16 1,15 1,-3 1,12 1,-6 1,-9 1,10 1,-3 1,4 1,-5 1,7 1,-2 1,-5 1,0 1,0 1,-1 1,5 1,-4 1,-6 1,3 1,-20 1,26 1,-2 1,3 1,-6 1,-1 1,7 1,-8 1,-5 1,3 1,5 1,9 1,-4 1,-9 1,8 1,-3 1,4 1,-1 1,1 1,2 1,-11 1,8 1,-3 1,-1 1,-3 1,2 1,-3 1,-4 1,13 1,-5 1,1 1,-11 1,16 1,-9 1,0 1,-3 1,18 1,-19 1,12 1,-16 1,7 1,-7 1,11 1,11 1,-28 1,11 1,11 1,-6 1,4 1,-7 1,13 1,-21 1,13 1,1 1,-2 1,-1 1,-7 1,2 1,-3 1,9 1,0 1,1 1,-2 1,-11 1,4 1,15 1,-22 1,16 1,4 1,0 1,3 1,1 1,-18 1,8 1,8 1,-13 1,10 1,-5 1,10 1,-5 1,-3 1,-1 1,9 1,-7 1,-7 1,1 1,12 1,-8 1,-2 1,7 1,-2 1,-28 1,41 1,-15 1,-15 1,1 1,16 1,1 1,-7 1,16 1,-17 1,7 1,3 1,-3 1,-3 1,6 1,-2 1,-13 1,21 1,-22 1,10 1,7 1,-14 1,9 1,-8 1,10 1,-3 1,-3 1,6 1,7 1,-12 1,3 1,-3 1,7 1,6 1,-14 1,2 1,4 1,-10 1,6 1,3 1,-7 1,10 1,-4 1,8 1,-6 1,0 1,-27 1,27 1,0 1,6 1,-6 1,-9 1,11 1,-1 1,-3 1,-5 1,8 1,-2 1,-4 1,3 1,5 1,-2 1,-8 1,9 1,3 1,-7 1,-7 1,8 1,-13 1,5 1,8 1,-2 1,4 1,-5 1,6 1,-5 1,10 1,-14 1,0 1,11 1,-17 1,17 1,4 1,-6 1,-15 1,10 1,-1 1,3 1,-4 1,1 1,-11 1,5 1,8 1,-4 1,-5 1,11 1,3 1,-2 1,-18 1,15 1,-1 1,3 1,-9 1,1 1,5 1,-3 1,0 1,-5 1,-2 1,16 1,-5 1,-2 1,4 1,-7 1,-1 1,1 1,15 1,-1 1,-4 1,-6 1,0 1,7 1,-7 1,2 1,8 1,-12 1,-1 1,-15 1,9 1,3 1,11 1,-24 1,17 1,4 1,-4 1,-12 1,18 1,-9 1,2 1,2 1,-4 1,-5 1,16 1,-8 1,3 1,-41 1,37 1,-8 1,7 1,10 1,-12 1,8 1,1 1,2 1,-4 1,13 1,-11 1,-28 1,22 1,10 1,-3 1,-3 1,-1 1,-10 1,14 1,-5 1,11 1,-11 1,4 1,2 1,-6 1,17 1,-15 1,5 1,-5 1,-1 1,-3 1,7 1,-3 1,4 1,1 1,2 1,-8 1,-2 1,-6 1,18 1,-11 1,5 1,-7 1,7 1,3 1,-4 1,-1 1,-4 1,-14 1,17 1,-8 1,10 1,-8 1,-3 1,23 1,-8 1,-10 1,1 1,-11 1,16 1,11 1,-8 1,-4 1,-3 1,8 1,-11 1,-2 1,8 1,-1 1,-2 1,-3 1,10 1,-4 1,5 1,-9 1,-3 1,7 1,-1 1,1 1,10 1,-11 1,-2 1,2 1,-8 1,13 1,-4 1,6 1,-11 1,-1 1,8 1,1 1,-7 1,2 1,-11 1,11 1,6 1,0 1,-6 1,-5 1,4 1,8 1,-6 1,5 1,4 1,-3 1,-9 1,7 1,-1 1,1 1,-5 1,-5 1,14 1,-6 1,-2 1,0 1,16 1,-18 1,8 1,-6 1,-9 1,12 1,3 1,-6 1,7 1,-4 1,2 1,-15 1,9 1,5 1,-7 1,7 1,-5 1,-3 1,3 1,3 1,2 1,6 1,-14 1,0 1,2 1,4 1,-30 1,36 1,-7 1,-17 1,20 1,-4 1,-6 1,4 1,14 1,-17 1,6 1,8 1,-15 1,6 1,-1 1,5 1,-8 1,3 1,4 1,4 1,-12 1,-2 1,-10 1,20 1,-22 1,22 1,6 1,-11 1,-1 1,7 1,-1 1,1 1,-46 1,43 1,-4 1,-12 1,16 1,0 1,4 1,-8 1,-1 1,5 1,-2 1,-6 1,17 1,-4 1,-12 1,-2 1,5 1,5 1,-5 1,4 1,8 1,7 1,-15 1,-6 1,-3 1,13 1,3 1,-7 1,-5 1,4 1,2 1,-2 1,-1 1,-2 1,3 1,0 1,3 1,3 1,-2 1,3 1,-3 1,-8 1,-3 1,14 1,-1 1,-8 1,-6 1,9 1,2 1,0 1,-8 1,15 1,-8 1,-7 1,9 1,1 1,-1 1,-14 1,10 1,-5 1,-2 1,6 1,-15 1,14 1,-7 1,13 1,1 1,-3 1,3 1,-1 1,-5 1,-5 1,2 1,2 1,-11 1,-3 1,23 1,-13 1,-4 1,17 1,-6 1,-3 1,7 1,-8 1,8 1,-13 1,9 1,0 1,3 1,6 1,-18 1,7 1,-2 1,7 1,7 1,-9 1,-2 1,7 1,-3 1,2 1,-3 1,-24 1,24 1,0 1,-3 1,-13 1,6 1,-10 1,18 1,-4 1,2 1,10 1,-6 1,-5 1,-5 1,15 1,2 1,-13 1,10 1,-7 1,6 1,-6 1,0 1,-1 1,-3 1,9 1,-9 1,4 1,4 1,-4 1,3 1,-6 1,8 1,-4 1,-3 1,7 1,-1 1,0 1,-44 1,50 1,-9 1,-2 1,9 1,-9 1,-4 1,2 1,0 1,7 1,-6 1,14 1,-10 1,-2 1,-7 1,-9 1,0 1,12 1,-1 1,9 1,-1 1,-1 1,2 1,-5 1,3 1,11 1,-13 1,-1 1,-1 1,4 1,3 1,-1 1,-3 1,2 1,-1 1,-6 1,5 1,-7 1,3 1,6 1,-4 1,-1 1,4 1,-2 1,-2 1,5 1,0 1,4 1,-4 1,3 1,-1 1,-13 1,11 1,-2 1,6 1,-4 1,-1 1,-2 1,5 1,-1 1,-6 1,8 1,-9 1,7 1,-6 1,4 1,3 1,0 1,2 1,1 1,-14 1,8 1,3 1,-3 1,-7 1,2 1,6 1,-8 1,1 1,6 1,3 1,-1 1,-12 1,-4 1,7 1,16 1,-14 1,-4 1,13 1,-20 1,-4 1,17 1,7 1,-10 1,7 1,0 1,-1 1,4 1,-12 1,16 1,-1 1,-12 1,-1 1,11 1,4 1,-8 1,0 1,-5 1,1 1,0 1,5 1,-7 1,6 1,-25 1,25 1,-4 1,1 1,1 1,-2 1,-3 1,6 1,-5 1,12 1,2 1,-7 1,-1 1,-2 1,-2 1,4 1,-2 1,-4 1,8 1,-3 1,6 1,-3 1,-7 1,6 1,-6 1,-1 1,10 1,0 1,-12 1,11 1,-7 1,-11 1,9 1,12 1,2 1,-11 1,-1 1,-3 1,3 1,-2 1,5 1,4 1,-6 1,8 1,-13 1,12 1,-8 1,6 1,-4 1,1 1,-5 1,1 1,8 1,-1 1,-5 1,8 1,-3 1,-8 1,-3 1,3 1,8 1,-7 1,11 1,-4 1,4 1,-2 1,-5 1,2 1,-1 1,-13 1,6 1,9 1,-11 1,12 1,2 1,-3 1,-5 1,9 1,-13 1,7 1,-8 1,6 1,0 1,1 1,-3 1,-25 1,-2 1,34 1,-8 1,6 1,-6 1,14 1,-16 1,11 1,-2 1,1 1,-4 1,-10 1,2 1,5 1,7 1,-9 1,2 1,5 1,1 1,-4 1,-4 1,-3 1,9 1,-6 1,8 1,-2 1,-2 1,6 1,-7 1,5 1,-6 1,7 1,-6 1,1 1,-5 1,8 1,-4 1,6 1,-7 1,1 1,2 1,-2 1,5 1,-1 1,-5 1,5 1,-1 1,4 1,-7 1,2 1,-2 1,3 1,-12 1,9 1,-3 1,6 1,1 1,3 1,-6 1,-13 1,17 1,-8 1,-1 1,4 1,-3 1,7 1,1 1,-5 1,3 1,-5 1,1 1,2 1,-5 1,7 1,-3 1,0 1,-5 1,1 1,2 1,9"/>
<path fill="none" stroke="#f2a52b" stroke-width="0.5" stroke-linejoin="bevel" vector-effect="non-scaling-stroke" d="M0,755l1,-38 1,31 1,-30 1,-15 1,9 1,14 1,-29 1,3 1,33 1,-21 1,4 1,12 1,21 1,-25 1,45 1,-32 1,-5 1,12 1,-9 1,-15 1,0 1,20 1,22 1,-21 1,4 1,-44 1,3 1,32 1,29 1,-3 1,-27 1,-62 1,63 1,-11 1,12 1,-28 1,5 1,32 1,-13 1,21 1,-36 1,-7 1,29 1,-64 1,70 1,2 1,16 1,-28 1,10 1,1 1,-43 1,37 1,-28 1,28 1,-9 1,9 1,-38 1,43 1,-5 1,11 1,-27 1,3 1,28 1,-23 1,-4 1,1 1,22 1,-41 1,20 1,-9 1,54 1,-23 1,-16 1,2 1,-7 1,-3 1,-2 1,37 1,-33 1,0 1,10 1,18 1,-16 1,-25 1,19 1,-1 1,-22 1,10 1,17 1,-13 1,26 1,-13 1,-21 1,14 1,-13 1,4 1,23 1,-14 1,-30 1,10 1,31 1,-28 1,13 1,23 1,-21 1,-1 1,-2 1,23 1,-33 1,-4 1,22 1,24 1,-79 1,74 1,-1 1,-38 1,19 1,-2 1,2 1,8 1,14 1,-11 1,7 1,-29 1,24 1,-30 1,11 1,-14 1,39 1,-26 1,19 1,-91 1,82 1,10 1,-12 1,2 1,-52 1,48 1,-5 1,-8 1,30 1,-16 1,1 1,4 1,-25 1,-6 1,4 1,50 1,-33 1,16 1,-45 1,6 1,29 1,-11 1,27 1,-23 1,4 1,19 1,8 1,-20 1,-13 1,3 1,23 1,-36 1,1 1,1 1,31 1,-9 1,-22 1,3 1,11 1,-8 1,-9 1,4 1,-30 1,14 1,22 1,1 1,-6 1,13 1,6 1,-39 1,34 1,-10 1,-9 1,28 1,-8 1,1 1,-37 1,61 1,-21 1,-59 1,82 1,-44 1,37 1,-90 1,56 1,-2 1,-5 1,2 1,21 1,-8 1,-25 1,-1 1,3 1,-23 1,10 1,34 1,23 1,-125 1,141 1,12 1,-30 1,-8 1,-21 1,29 1,-21 1,-1 1,-19 1,46 1,-9 1,-69 1,53 1,-19 1,36 1,-30 1,14 1,10 1,-12 1,-17 1,13 1,-15 1,45 1,-29 1,-23 1,-20 1,85 1,-26 1,-39 1,44 1,-10 1,-14 1,2 1,33 1,-54 1,-30 1,57 1,-5 1,12 1,-2 1,-3 1,-15 1,17 1,-13 1,36 1,-45 1,7 1,3 1,-8 1,23 1,-2 1,-13 1,33 1,-34 1,16 1,-6 1,3 1,-25 1,1 1,33 1,-40 1,45 1,6 1,-73 1,54 1,-2 1,21 1,10 1,-21 1,1 1,6 1,-36 1,14 1,16 1,-22 1,35 1,-43 1,12 1,5 1,-7 1,-13 1,12 1,12 1,-19 1,22 1,-23 1,-5 1,-21 1,17 1,13 1,-16 1,17 1,20 1,-22 1,23 1,-3 1,-11 1,-53 1,67 1,-37 1,5 1,-35 1,57 1,-14 1,1 1,12 1,-10 1,3 1,3 1,-14 1,18 1,-21 1,27 1,-32 1,28 1,-13 1,33 1,-45 1,41 1,-26 1,-19 1,48 1,-6 1,11 1,-34 1,22 1,10 1,-21 1,42 1,-48 1,20 1,-30 1,3 1,6 1,-7 1,17 1,0 1,-89 1,87 1,-20 1,-12 1,17 1,23 1,-3 1,-39 1,20 1,1 1,29 1,-26 1,-9 1,12 1,-40 1,41 1,14 1,-17 1,-28 1,68 1,-53 1,12 1,0 1,15 1,-15 1,0 1,12 1,-28 1,30 1,-28 1,23 1,10 1,-9 1,5 1,-19 1,-7 1,29 1,-19 1,-13 1,7 1,-3 1,23 1,-2 1,14 1,-42 1,19 1,-2 1,-32 1,29 1,14 1,-33 1,3 1,52 1,-54 1,46 1,-19 1,2 1,-16 1,-7 1,30 1,16 1,-88 1,77 1,-19 1,12 1,-16 1,-8 1,-22 1,6 1,-7 1,30 1,-15 1,-7 1,13 1,19 1,8 1,2 1,-16 1,11 1,-31 1,44 1,-23 1,-15 1,-74 1,69 1,12 1,18 1,-24 1,26 1,-12 1,-41 1,20 1,3 1,-45 1,89 1,9 1,-34 1,0 1,-16 1,1 1,-30 1,33 1,9 1,13 1,-10 1,-52 1,53 1,-11 1,11 1,16 1,-68 1,50 1,12 1,-40 1,46 1,-20 1,3 1,-17 1,20 1,4 1,-82 1,61 1,-4 1,17 1,2 1,9 1,-9 1,-12 1,7 1,-14 1,29 1,-31 1,2 1,15 1,-31 1,37 1,14 1,-11 1,1 1,-28 1,17 1,-1 1,-17 1,10 1,22 1,16 1,-36 1,12 1,1 1,-13 1,-15 1,14 1,2 1,5 1,-27 1,8 1,-4 1,28 1,4 1,-30 1,25 1,-21 1,40 1,-22 1,13 1,-36 1,36 1,-12 1,-45 1,9 1,46 1,-1 1,-17 1,20 1,1 1,2 1,-33 1,27 1,-9 1,-13 1,13 1,-11 1,27 1,-20 1,8 1,4 1,-52 1,53 1,-30 1,40 1,-55 1,52 1,-16 1,-8 1,-16 1,24 1,-6 1,-5 1,0 1,-3 1,0 1,13 1,11 1,-18 1,4 1,-15 1,31 1,-73 1,36 1,7 1,12 1,21 1,-47 1,43 1,-79 1,51 1,2 1,39 1,-39 1,-1 1,-2 1,-6 1,33 1,2 1,-31 1,44 1,-12 1,-59 1,21 1,16 1,0 1,8 1,-8 1,17 1,29 1,-53 1,4 1,29 1,9 1,-59 1,21 1,-17 1,32 1,-4 1,-15 1,17 1,15 1,-59 1,14 1,13 1,12 1,7 1,-3 1,26 1,-28 1,-13 1,-1 1,-21 1,31 1,11 1,-27 1,33 1,-36 1,10 1,-10 1,49 1,-22 1,-1 1,-10 1,-12 1,4 1,-14 1,-6 1,54 1,-55 1,43 1,1 1,-32 1,-18 1,49 1,0 1,-28 1,34 1,-3 1,-22 1,22 1,-73 1,88 1,-15 1,-7 1,-1 1,-16 1,5 1,22 1,-45 1,-16 1,59 1,-23 1,-16 1,34 1,-13 1,12 1,-2 1,-27 1,66 1,-56 1,-13 1,37 1,-1 1,-9 1,3 1,7 1,-4 1,-20 1,16 1,4 1,0 1,-7 1,-16 1,24 1,4 1,-29 1,-9 1,32 1,19 1,-17 1,-15 1,2 1,4 1,-4 1,14 1,-4 1,-17 1,41 1,-13 1,-43 1,25 1,1 1,-41 1,12 1,47 1,-18 1,8 1,-4 1,-2 1,-9 1,-33 1,12 1,16 1,26 1,0 1,8 1,-24 1,-11 1,-20 1,50 1,-8 1,-1 1,-15 1,27 1,-48 1,8 1,30 1,-9 1,22 1,-16 1,-18 1,-1 1,-23 1,55 1,-17 1,8 1,-30 1,3 1,25 1,-17 1,8 1,25 1,-78 1,60 1,-12 1,-8 1,17 1,1 1,20 1,-12 1,-38 1,22 1,-9 1,37 1,-25 1,-19 1,15 1,12 1,7 1,-11 1,-7 1,-16 1,14 1,3 1,-43 1,48 1,-21 1,34 1,-27 1,-27 1,19 1,13 1,11 1,-2 1,-16 1,14 1,-33 1,28 1,10 1,-6 1,-11 1,-5 1,18 1,-6 1,-28 1,13 1,11 1,-34 1,37 1,23 1,-39 1,40 1,-65 1,48 1,-11 1,5 1,-25 1,50 1,-31 1,6 1,-33 1,35 1,-9 1,22 1,-6 1,-13 1,-15 1,44 1,-27 1,3 1,19 1,8 1,-51 1,9 1,12 1,-5 1,23 1,-6 1,5 1,-39 1,36 1,1 1,-5 1,-11 1,28 1,-24 1,-20 1,-5 1,32 1,-8 1,-1 1,-14 1,25 1,12 1,-10 1,-22 1,14 1,5 1,-18 1,-4 1,1 1,47 1,-7 1,-24 1,5 1,15 1,-1 1,-5 1,-26 1,0 1,13 1,14 1,-3 1,-12 1,-11 1,39 1,-40 1,16 1,1 1,5 1,15 1,-53 1,-12 1,50 1,9 1,-2 1,-4 1,-12 1,-2 1,34 1,-43 1,-14 1,22 1,3 1,-15 1,-2 1,5 1,-15 1,8 1,-13 1,43 1,-35 1,13 1,26 1,-8 1,-50 1,53 1,-15 1,11 1,-27 1,31 1,-10 1,-10 1,-9 1,-5 1,0 1,22 1,0 1,-14 1,33 1,-7 1,-34 1,45 1,-34 1,-12 1,-10 1,52 1,-43 1,17 1,15 1,-2 1,20 1,-20 1,7 1,-2 1,-1 1,0 1,-7 1,-9 1,34 1,-21 1,2 1,-53 1,55 1,-15 1,15 1,-9 1,22 1,-49 1,52 1,-18 1,-20 1,25 1,-14 1,11 1,-10 1,6 1,-3 1,-5 1,-3 1,19 1,3 1,-21 1,3 1,7 1,3 1,0 1,-4 1,8 1,-18 1,19 1,-39 1,19 1,4 1,-3 1,25 1,-36 1,16 1,2 1,10 1,-23 1,-3 1,8 1,8 1,7 1,21 1,-9 1,-5 1,-7 1,9 1,-5 1,-20 1,7 1,33 1,-33 1,-5 1,-5 1,3 1,8 1,8 1,-5 1,-7 1,0 1,-2 1,-7 1,22 1,13 1,-30 1,22 1,3 1,-30 1,33 1,-2 1,-13 1,-12 1,22 1,-3 1,-17 1,-27 1,2 1,-52 1,86 1,-39 1,33 1,-8 1,15 1,5 1,4 1,-97 1,100 1,-3 1,-54 1,45 1,-13 1,15 1,-22 1,5 1,35 1,-31 1,-58 1,98 1,12 1,-58 1,11 1,-29 1,11 1,41 1,-23 1,0 1,0 1,24 1,-38 1,8 1,8 1,-7 1,16 1,19 1,-32 1,11 1,20 1,-21 1,-17 1,27 1,1 1,13 1,-26 1,18 1,3 1,-50 1,28 1,31 1,-42 1,33 1,-24 1,-19 1,-54 1,65 1,-9 1,48 1,-63 1,50 1,-19 1,20 1,-38 1,27 1,-19 1,26 1,11 1,-14 1,-8 1,13 1,-4 1,-19 1,-23 1,26 1,-97 1,91 1,52 1,-31 1,-17 1,15 1,20 1,-26 1,-42 1,16 1,48 1,1 1,-2 1,-11 1,-5 1,2 1,-79 1,79 1,3 1,-24 1,48 1,-22 1,5 1,-25 1,11 1,-6 1,-11 1,8 1,44 1,-70 1,47 1,-8 1,-1 1,-15 1,21 1,-20 1,19 1,-27 1,9 1,6 1,13 1,-24 1,-23 1,46 1,5 1,-10 1,-32 1,29 1,-17 1,25 1,-14 1,10 1,21 1,-12 1,-7 1,-8 1,-5 1,-10 1,20 1,21 1,-16 1,-19 1,28 1,-76 1,49 1,27 1,-5 1,15 1,-41 1,22 1,-2 1,-5 1,-23 1,-3 1,-10 1,23 1,17 1,-16 1,26 1,-8 1,-8 1,4 1,-10 1,26 1,-9 1,-6 1,-2 1,0 1,3 1,-8 1,-14 1,-9 1,8 1,27 1,-17 1,-4 1,36 1,-18 1,-6 1,2 1,16 1,-25 1,20 1,22 1,-20 1,-2 1,-29 1,7 1,-5 1,13 1,19 1,-34 1,23 1,17 1,-6 1,-1 1,-38 1,14 1,14 1,16 1,-25 1,34 1,-41 1,8 1,25 1,-38 1,31 1,-2 1,0 1,-8 1,-40 1,22 1,14 1,-4 1,-14 1,3 1,29 1,-18 1,-4 1,9 1,-34 1,45 1,4 1,15 1,-32 1,18 1,-21 1,-3 1,-5 1,18 1,-18 1,17 1,-19 1,3 1,25 1,-29 1,13 1,23 1,-16 1,-60 1,51 1,-23 1,42 1,-16 1,-28 1,30 1,-12 1,13 1,-35 1,53 1,-5 1,-62 1,51 1,-3 1,-22 1,-3 1,11 1,0 1,5 1,12 1,-18 1,2 1,-2 1,-12 1,22 1,23 1,-10 1,-31 1,20 1,-16 1,25 1,-39 1,43 1,-40 1,30 1,10 1,-17 1,19 1,-24 1,25 1,-30 1,7 1,8 1,25 1,-43 1,-2 1,28 1,-15 1,-12 1,7 1,15 1,-23 1,-2 1,19 1,2 1,-16 1,6 1,18 1,-35 1,6 1,3 1,23 1,12 1,-18 1,-2 1,5 1,-27 1,7 1,23 1,1 1,2 1,-1 1,-6 1,-23 1,29 1,-3 1,-24 1,-1 1,27 1,5 1,-20 1,6 1,45 1,-44 1,3 1,17 1,-41 1,32 1,7 1,3 1,-63 1,32 1,24 1,-9 1,-24 1,34 1,-16 1,16 1,-24 1,21 1,9 1,-18 1,24 1,-7 1,-16 1,-3 1,17 1,-23 1,27 1,-2 1,7 1,7 1,-15 1,-21 1,32 1,-56 1,16 1,30 1,-10 1,0 1,25 1,-16 1,4 1,-9 1,-3 1,-1 1,10 1,-5 1,1 1,-13 1,48 1,-20 1,-23 1,-9 1,29 1,-10 1,-102 1,108 1,-16 1,32 1,-22 1,-15 1,-6 1,43 1,-36 1,10 1,7 1,-14 1,-33 1,2 1,46 1,-3 1,-16 1,-31 1,66 1,-6 1,-18 1,9 1,-5 1,7 1,8 1,-20 1,13 1,-5 1,3 1,-5 1,-11 1,4 1,-38 1,1 1,40 1,15 1,1 1,-11 1,-26 1,6 1,0 1,21 1,7 1,-9 1,-13 1,1 1,32 1,-14 1,-11 1,17 1,-10 1,-22 1,23 1,0 1,13 1,-39 1,32 1,-1 1,-5 1,-4 1,0 1,-3 1,3 1,-45 1,42 1,-8 1,-29 1,33 1,0 1,-3 1,-12 1,22 1,20 1,-13 1,-18 1,-12 1,7 1,8 1,4 1,-12 1,0 1,19 1,-11 1,16 1,-25 1,-8 1,3 1,7 1,2 1,19 1,-13 1,14 1,-20 1,13 1,5 1,6 1,-2 1,-13 1,1 1,15 1,-3 1,5 1,-28 1,-1 1,20 1,-14 1,8 1,7 1,-5 1,6 1,18 1,-32 1,14 1,-9 1,4 1,-8 1,18 1,-9 1,24 1,-8 1,-29 1,25 1,-10 1,0 1,17 1,12 1,-45 1,8 1,2 1,16 1,-13 1,17 1,-41 1,20 1,21 1,4 1,-27 1,-3 1,11 1,0 1,-15 1,12 1,39 1,-19 1,-20 1,2 1,-1 1,14 1,14 1,-5 1,-11 1,-9 1,18 1,-2 1,-21 1,-11 1,19 1,6 1,-5 1,-5 1,-4 1,28 1,-19 1,-10 1,-8 1,24 1,-17 1,29 1,-34 1,7 1,-8 1,20 1,-44 1,25 1,23 1,6 1,-19 1,15 1,2 1,-31 1,29 1,10 1,-16 1,-24 1,20 1,-6 1,12 1,10 1,-9 1,1 1,18 1,-34 1,27 1,-27 1,6 1,15 1,6 1,-2 1,-2 1,-7 1,6 1,3 1,-13 1,-36 1,27 1,32 1,-23 1,-2 1,-6 1,11 1,-9 1,17 1,-5 1,-26 1,13 1,6 1,-5 1,4 1,6 1,-8 1,-8 1,14 1,-33 1,23 1,1 1,26 1,-18 1,-10 1,5 1,-4 1,1 1,1 1,12 1,-8 1,-6 1,20 1,-10 1,-2 1,2 1,-4 1,9 1,-15 1,0 1,11 1,-16 1,-6 1,16 1,24 1,-21 1,4 1,-16 1,7 1,27 1,-20 1,1 1,-10 1,17 1,-10 1,9 1,1 1,-47 1,30 1,7 1,1 1,-11 1,9 1,-14 1,33 1,-9 1,-21 1,31 1,-30 1,-6 1,5 1,27 1,-12 1,-7 1,-5 1,20 1,-16 1,10 1,-3 1,-1 1,8 1,-35 1,-12 1,39 1,-12 1,-35 1,52 1,21 1,-29 1,14 1,-17 1,12 1,6 1,-41 1,32 1,-5 1,7 1,-21 1,26 1,-9 1,-3 1,1 1,2 1,6 1,5 1,-19 1,18 1,-7 1,-11 1,4 1,-6 1,-2 1,9 1,6 1,-5 1,-12 1,19 1,0 1,0 1,-1 1,-21 1,20 1,-20 1,27 1,-16 1,-7 1,0 1,19 1,-14 1,6 1,-6 1,-5 1,4 1,12 1,-4 1,-6 1,6 1,-23 1,14 1,6 1,-18 1,20 1,-4 1,-2 1,9 1,5 1,-16 1,23 1,-19 1,11 1,-10 1,15 1,-14 1,4 1,8 1,4 1,-8 1,4 1,-20 1,-19 1,26 1,8 1,2 1,7 1,-11 1,5 1,-1 1,-11 1,-11 1,17 1,-18 1,30 1,-48 1,44 1,-10 1,-7 1,14 1,-8 1,-7 1,9 1,-9 1,3 1,14 1,-16 1,-34 1,44 1,11 1,-18 1,15 1,-8 1,-19 1,26 1,9 1,-20 1,2 1,-4 1,8 1,-1 1,3 1,2 1,-5 1,-13 1,22 1,-12 1,-11 1,20 1,1 1,-20 1,9 1,23 1,-31 1,7 1,2 1,16 1,-16 1,-1 1,4 1,-6 1,15 1,-40 1,36 1,2 1,-12 1,2 1,10 1,-10 1,1 1,-8 1,7 1,0 1,4 1,1 1,-6 1,10 1,-5 1,3 1,-3 1,-5 1,6 1,-3 1,-2 1,-9 1,-9 1,33 1,-8 1,8 1,-12 1,6 1,-9 1,-16 1,30 1,-5 1,8 1,-8 1,7 1,-30 1,12 1,-10 1,21 1,-39 1,16 1,32 1,-29 1,20 1,-1 1,0 1,-11 1,10 1,-29 1,20 1,-23 1,38 1,-10 1,-22 1,28 1,2 1,-13 1,19 1,-10 1,-2 1,-15 1,11 1,-15 1,21 1,-1 1,-4 1,-8 1,1 1,2 1,6 1,-1 1,6 1,0 1,5 1,-15 1,6 1,-15 1,10 1,2 1,16 1,-11 1,-8 1,8 1,16 1,-13 1,-2 1,11 1,-23 1,12 1,-12 1,22 1,-6 1,-5 1,9 1,-12 1,-7 1,2 1,14 1,0 1,-42 1,51 1,-7 1,0 1,-3 1,-3 1,-1 1,-7 1,3 1,-8 1,11 1,4 1,-9 1,-8 1,14 1,-3 1,-4 1,4 1,-2 1,-10 1,22 1,12 1,-20 1,-7 1,-14 1,18 1,-23 1,31 1,-21 1,18 1,-6 1,9 1,-10 1,-3 1,2 1,-2 1,4 1,-5 1,6 1,-2 1,1 1,-3 1,4 1,10 1,-25 1,17 1,8 1,-5 1,-15 1,-12 1,13 1,0 1,20 1,-13 1,-15 1,19 1,-9 1,-28 1,41 1,-3 1,2 1,4 1,-17 1,1 1,16 1,-6 1,-1 1,-1 1,4 1,3 1,-15 1,11 1,-36 1,-4 1,43 1,11 1,-19 1,1 1,-11 1,9 1,-2 1,11 1,5 1,-9 1,2 1,-9 1,20 1,-17 1,9 1,13 1,-38 1,19 1,-3 1,-10 1,24 1,-12 1,-7 1,-9 1,21 1,6 1,-8 1,-9 1,-1 1,1 1,18 1,-10 1,-17 1,2 1,6 1,3 1,9 1,1 1,-12 1,-9 1,18 1,4 1,-7 1,-4 1,-5 1,-6 1,16 1,-6 1,-12 1,27 1,-2 1,2 1,-12 1,5 1,-12 1,10 1,0 1,5 1,-14 1,14 1,4 1,-9 1,5 1,4 1,-5 1,-8 1,-6 1,-1 1,9 1,-6 1,-2 1,9 1,-7 1,1 1,-5 1,4 1,9 1,-3 1,-18 1,20 1,-11 1,15 1,-12 1,-2 1,5 1,6 1,2 1,-10 1,2 1,-11 1,17 1,-7 1,9 1,-3 1,-7 1,9 1,-4 1,-12 1,5 1,15 1,-4 1,-8 1,11 1,-13 1,15 1,-15 1,-2 1,5 1,6 1,3 1,4 1,-16 1,1 1,2 1,8 1,-4 1,23 1,-12 1,-7 1,-15 1,13 1,-5 1,7 1,-5 1,1 1,-13 1,10 1,13 1,-9 1,4 1,-2 1,-6 1,15 1,-19 1,17 1,-9 1,0 1,-7 1,17 1,-12 1,1 1,3 1,10 1,-14 1,-10 1,-11 1,15 1,6 1,-3 1,-1 1,9 1,12 1,-9 1,-2 1,-8 1,7 1,0 1,-3 1,2 1,-16 1,21 1,-13 1,19 1,-11 1,-15 1,19 1,-8 1,-1 1,6 1,6 1,-18 1,9 1,15 1,-17 1,-1 1,-9 1,-3 1,-12 1,3 1,18 1,18 1,-4 1,-1 1,-18 1,-4 1,22 1,-4 1,3 1,-1 1,2 1,3 1,0 1,-11 1,9 1,-14 1,7 1,-9 1,15 1,-5 1,-4 1,-1 1,5 1,10 1,0 1,-23 1,13 1,6 1,0 1,-19 1,-6 1,17 1,11 1,-11 1,-5 1,-1 1,14 1,5 1,-30 1,17 1,12 1,-12 1,1 1,6 1,3 1,-1 1,-1 1,-7 1,3 1,0 1,-13 1,9 1,0 1,4 1,-9 1,4 1,-7 1,2 1,11 1,-22 1,19 1,-10 1,7 1,-9 1,13 1,-3 1,3 1,-9 1,19 1,-6 1,4 1,-22 1,-1 1,-5 1,26 1,-9 1,0 1,-4 1,8 1,-9 1,-10 1,18 1,1 1,-5 1,10 1,0 1,-10 1,-5 1,18 1,-20 1,14 1,-16 1,26 1,-10 1,-10 1,4 1,5 1,-18 1,3 1,14 1,-4 1,4 1,-2 1,-2 1,7 1,2 1,-11 1,6 1,-4 1,-2 1,6 1,-8 1,7 1,-9 1,11 1,-2 1,4 1,-5 1,-8 1,9 1,5 1,-4 1,6 1,-15 1,5 1,-4 1,5 1,7 1,-10 1,3 1,-6 1,8 1,-10 1,0 1,-11 1,23 1,-19 1,17 1,12 1,-19 1,6 1,-17 1,17 1,-9 1,8 1,9 1,-6 1,3 1,-12 1,1 1,-1 1,5 1,19 1,-20 1,0 1,0 1,0 1,5 1,-5 1,-1 1,4 1,-7 1,1 1,6 1,5 1,10 1,-23 1,11 1,2 1,0 1,3 1,-14 1,-5 1,13 1,1 1,-8 1,7 1,-15 1,11 1,-6 1,3 1,8 1,-4 1,4 1,-1 1,3 1,-10 1,1 1,10 1,-1 1,-10 1,-6 1,13 1,0 1,0 1,-12 1,10 1,5 1,-5 1,-3 1,6 1,-10 1,18 1,-9 1,-9 1,23 1,-13 1,-8 1,-7 1,-4 1,17 1,-2 1,-2 1,-1 1,-3 1,1 1,-1 1,10 1,-6 1,4 1,-22 1,20 1,-15 1,17 1,1 1,-15 1,21 1,-9 1,0 1,-1 1,3 1,8 1,-4 1,2 1,-26 1,5 1,18 1,-5 1,7 1,-7 1,7 1,-9 1,3 1,-2 1,12 1,-4 1,-6 1,1 1,-10 1,20 1,-19 1,10 1,-6 1,9 1,3 1,-11 1,-3 1,3 1,-15 1,10 1,10 1,5 1,-10 1,4 1,-10 1,8 1,-4 1,5 1,-4 1,3 1,13 1,-10 1,1 1,-2 1,-2 1,-3 1,5 1,-5 1,9 1,-10 1,-16 1,23 1,-3 1,-2 1,4 1,1 1,-4 1,7 1,7 1,-5 1,-4 1,-5 1,0 1,-5 1,5 1,0 1,2 1,2 1,-1 1,10 1,-8 1,7 1,-12 1,-3 1,5 1,7 1,-4 1,-5 1,0 1,4 1,7 1,-6 1,-7 1,4 1,0 1,4 1,-1 1,-3 1,2 1,3 1,-4 1,-1 1,13 1,-8 1,-5 1,6 1,-8 1,11 1,3 1,-10 1,9 1,1 1,-23 1,6 1,-7 1,8 1,6 1,-3 1,-10 1,16 1,-4 1,-9 1,14 1,-7 1,-2 1,6 1,-1 1,-33 1,31 1,3 1,-1 1,0 1,-3 1,7 1,5 1,-1 1,-10 1,6 1,-27 1,16 1,3 1,5 1,4 1,-7 1,1 1,-10 1,11 1,-4 1,3 1,1 1,-30 1,42 1,-16 1,16 1,-10 1,-11 1,9 1,-1 1,0 1,-4 1,11 1,-14 1,1 1,3 1,2 1,5 1,-7 1,-3 1,17 1,-6 1,-8 1,6 1,5 1,-23 1,13 1,1 1,4 1,-7 1,8 1,-7 1,7 1,-13 1,22 1,-16 1,-4 1,-4 1,13 1,-5 1,2 1,-8 1,6 1,13 1,-21 1,10 1,2 1,10 1,-16 1,13 1,1 1,-8 1,1 1,7 1,-14 1,5 1,4 1,-9 1,8 1,-4 1,5 1,-4 1,0 1,11 1,-13 1,0 1,8 1,-13 1,6 1,14 1,-11 1,-3 1,-2 1,1 1,2 1,4 1,7 1,-8 1,-4 1,-3 1,6 1,-3 1,8 1,-4 1,-10 1,12 1,-2 1,-2 1,12 1,-15 1,8 1,-22 1,2 1,14 1,8 1,-11 1,0 1,2 1,1 1,-7 1,14 1,-6 1,-6 1,6 1,8 1,-2 1,-3 1,0 1,5 1,-15 1,17 1,-14 1,-4 1,7 1,8 1,-13 1,7 1,2 1,-3 1,-17 1,16 1,5 1,-1 1,-6 1,5 1,14 1,-11 1,-8 1,1 1,3 1,5 1,-16 1,8 1,2 1,3 1,-27 1,31 1,-14 1,4 1,9 1,-7 1,5 1,-6 1,-1 1,2 1,-6 1,9 1,-23 1,19 1,0 1,2 1,-18 1,11 1,5 1,-1 1,2 1,-9 1,6 1,-2 1,13 1,-3 1,-5 1,-7 1,7 1,6 1,-6 1,1 1,-9 1,11 1,-6 1,7 1,-5 1,2 1,8 1,-13 1,4 1,-6 1,7 1,1 1,-5 1,-2 1,16 1,-11 1,-11 1,16 1,1 1,-5 1,-40 1,47 1,2 1,-12 1,8 1,-4 1,9 1,-1 1,-13 1,1 1,4 1,-25 1,28 1,-5 1,-4 1,11 1,-2 1,-8 1,7 1,-9 1,9 1,-9 1,3 1,2 1,6 1,4 1,-14 1,11 1,-3 1,6 1,-5 1,-8 1,5 1,-9 1,14 1,0 1,1 1,-4 1,0 1,-7 1,7 1,-9 1,10 1,-2 1,-24 1,13 1,11 1,-9 1,13 1,-5 1,-3 1,4 1,0 1,-1 1,-6 1,4 1,-5 1,-5 1,-19 1,37 1,1 1,-3 1,-5 1,-4 1,7 1,3 1,-5 1,-4 1,-5 1,13 1,1 1,-5 1,-5 1,14 1,-3 1,1 1,0 1,-5 1,-7 1,3 1,3 1,5 1,-8 1,8 1,-9 1,7 1,-2 1,3 1,-13 1,7 1,-2 1,-1 1,15 1,-10 1,5 1,-12 1,3 1,2 1,3 1,1 1,5 1,-10 1,-8 1,10 1,-23 1,24 1,-3 1,9 1,-12 1,7 1,-7 1,10 1,-8 1,-5 1,9 1,-9 1,10 1,1 1,-3 1,-8 1,16 1,-18 1,7 1,-6 1,6 1,3 1,-9 1,9 1,0 1,2 1,9 1,-12 1,-6 1,8 1,0 1,4 1,-5 1,-4 1,12 1,-10 1,-12 1,14 1,1 1,1 1,2 1,-4 1,-2 1,9 1,-19 1,17 1,1 1,-12 1,2 1,-12 1,25 1,-15 1,4 1,3 1,-8 1,14 1,-16 1,10 1,-6 1,8 1,-3 1,12 1,-10 1,3 1,-9 1,6 1,-18 1,17 1,7 1,-8 1,-12 1,7 1,-40 1,27 1,23 1,-4 1,-1 1,2 1,-11 1,13 1,-6 1,6 1,-3 1,-3 1,0 1,-1 1,5 1,-1 1,4 1,-6 1,-1 1,10 1,-4 1,0 1,-6 1,2 1,1 1,-5 1,-3 1,8 1,-1 1,-11 1,12 1,9 1,-7 1,0 1,0 1,3 1,-4 1,3 1,-2 1,-1 1,2 1,-8 1,-3 1,7 1,1 1,-2 1,2 1,2 1,2 1,-1 1,-7 1,-8 1,19 1,-15 1,7 1,9 1,-5 1,-2 1,1 1,-10 1,-5 1,16 1,-9 1,-10 1,8 1,-4 1,11 1,-3 1,9 1,0 1,3 1,-3 1,-1 1,4 1,-14 1,4 1,5 1,-7 1,5 1,-2 1,3 1,-16 1,-1 1,18 1,-18 1,-4 1,13 1,13 1,-14 1,15 1,-9 1,5 1,-14 1,9 1,-9 1,18 1,-6 1,-6 1,-7 1,7 1,6 1,-5 1,-13 1,14 1,-17 1,23 1,-2 1,-1 1,2 1,-5 1,7 1,-1 1,-16 1,8 1,13 1,-14 1,-2 1,-4 1,11 1,-4 1,13 1,-16 1,5 1,4 1,-5 1,3 1,3 1,-5 1,3 1,-3 1,4 1,4 1,-8 1,10 1,-5 1,4 1,-9 1,1 1,-8 1,9 1,0 1,-2 1,-5 1,15 1,-4 1,-3 1,-4 1,-16 1,17 1,-11 1,15 1,5 1,-13 1,1 1,-1 1,-2 1,9 1,-6 1,5 1,1 1,1 1,0 1,-7 1,4 1,3 1,1 1,-11 1,11 1,5 1,-10 1,-3 1,1 1,-7 1,11 1,-8 1,-6 1,19 1,1 1,3 1,-15 1,-1 1,4 1,-5 1,15 1,-20 1,7 1,11 1,-15 1,7 1,11 1,-7 1,-1 1,-9 1,9 1,-4 1,0 1,9 1,10 1,-21 1,18 1,-20 1,-1 1,-5 1,19 1,-10 1,15 1,-3 1,-11 1,4 1,6 1,-21 1,16 1,-3 1,-6 1,8 1,-8 1,8 1,8 1,-12 1,11 1,-7 1,-8 1,-13 1,19 1,6 1,-18 1,22 1,-8 1,5 1,-1 1,-6 1,3 1,0 1,-7 1,3 1,10 1,-9 1,-2 1,6 1,-15 1,3 1,14 1,-14 1,5 1,12 1,-3 1,-3 1,-9 1,7 1,-3 1,8 1,-4 1,-10 1,6 1,9 1,2 1,-14 1,12 1,-8 1,5 1,-6 1,14 1,-4 1,-7 1,-12 1,18 1,-7 1,-7 1,12 1,-3 1,-3 1,5 1,4 1,-9 1,1 1,-5 1,6 1,-3 1,4 1,3 1,3 1,-8 1,-1 1,8 1,-6 1,1 1,-5 1,6 1,-3 1,-3 1,-25 1,40 1,-6 1,2 1,-15 1,-9 1,23 1,-11 1,-3 1,10 1,2 1,-7 1,9 1,4 1,-13 1,-13 1,15 1,-5 1,1 1,3 1,4 1,4 1,-5 1,5 1,3 1,-2 1,-6 1,-2 1,0 1,-1 1,10 1,-9 1,-8 1,14 1,-11 1,-20 1,26 1,10 1,-15 1,5 1,-4 1,13 1,-10 1,-3 1,12 1,-10 1,-17 1,13 1,16 1,-1 1,-2 1,-8 1,8 1,-1 1,-12 1,8 1,-3 1,-2 1,10 1,-6 1,5 1,-8 1,-6 1,7 1,-3 1,-4 1,5 1,-4 1,3 1,9 1,4 1,-1 1,-11 1,5 1,-6 1,7 1,-10 1,13 1,-8 1,2 1,8 1,-3 1,-6 1,13 1,-13 1,5 1,-2 1,1 1,4 1,-14 1,6 1,6 1,-4 1,5 1,-13 1,10 1,-8 1,17 1,-5 1,-1 1,-9 1,-5 1,-6 1,13 1,7 1,-2 1,4 1,-8 1,-3 1,2 1,-1 1,1 1,3 1,-2 1,3 1,-5 1,9 1,-2 1,-2 1,0 1,-6 1,6 1,5 1,3 1,-14 1,4 1,-3 1,2 1,14 1,-8 1,-12 1,4 1,0 1,-1 1,1 1,12 1,-8 1,-2 1,-8 1,15 1,3 1,-5 1,0 1,-5 1,1 1,-4 1,2 1,10 1,-4 1,3 1,-4 1,-15 1,4 1,14 1,-2 1,-14 1,5 1,19 1,-20 1,8 1,-12 1,4 1,14 1,-9 1,8 1,-6 1,-2 1,12 1,-47 1,36 1,-7 1,4 1,-2 1,10 1,-4 1,4 1,4 1,-12 1,3 1,-10 1,22 1,-11 1,5 1,-2 1,7 1,-11 1,10 1,-2 1,-7 1,0 1,0 1,-9 1,8 1,-1 1,2 1,6 1,-4 1,-1 1,-2 1,-20 1,31 1,-40 1,24 1,-2 1,6 1,5 1,-12 1,7 1,-2 1,-8 1,5 1,8 1,-7 1,2 1,-21 1,1 1,24 1,5 1,-9 1,2 1,6 1,-5 1,0 1,-2 1,10 1,-8 1,-2 1,1 1,6 1,-9 1,2 1,5 1,-2 1,4 1,0 1,-2 1,4 1,-3 1,-2 1,1 1,5 1,-8 1,6 1,-6 1,14 1,-14 1,4 1,-1 1,-4 1,1 1,-5 1,15 1,-5 1,1 1,0 1,7 1,-19 1,-2 1,12 1,1 1,-4 1,-1 1,-2 1,0 1,8 1,-3 1,-11 1,11 1,0 1,-13 1,7 1,4 1,0 1,5 1,-8 1,-9 1,9 1,11 1,-9 1,2 1,0 1,-9 1,7 1,-3 1,6 1,1 1,-3 1,-2 1,1 1,3 1,-3 1,6 1,-6 1,7 1,-5 1,3 1,-6 1,4 1,-11 1,9 1,-4 1,5 1,6 1,-7 1,-24 1,25 1,-15 1,25 1,-13 1,3 1,-14 1,11 1,-1 1,4 1,1 1,-11 1,6 1,-1 1,5 1,2 1,-14 1,8 1,4 1,-2 1,3 1,-1 1,-3 1,4 1,3 1,-5 1,7 1,-7 1,4 1,-3 1,6 1,-3 1,-5 1,3 1,6 1,-21 1,16 1,-8 1,-7 1,1 1,17 1,-8 1,-4 1,4 1,7 1,-5 1,-2 1,2 1,0 1,-2 1,7 1,-2 1,-13 1,6 1,4 1,-3 1,5 1,-4 1,7 1,-10 1,1 1,5 1,-10 1,11 1,-2 1,2 1,-6 1,11 1,-19 1,17 1,-4 1,-11 1,11 1,8 1,-13 1,4 1,-3 1,6 1,6 1,-7 1,7 1,-5 1,-6 1,5 1,-4 1,5 1,-21 1,13 1,11 1,-11 1,-3 1,14 1,-12 1,6 1,1 1,6 1,-8 1,-1 1,-2 1,-4 1,10 1,1 1,2 1,-9 1,3 1,5 1,1 1,-8 1,2 1,1 1,4 1,-10 1,6 1,-3 1,12 1,-12 1,3 1,-2 1,0 1,3 1,1 1,-5 1,0 1,-2 1,8 1,-4 1,0 1,5 1,-3 1,4 1,-2 1,-8 1,12 1,-5 1,-5 1,-7 1,16 1,-17 1,14 1,-6 1,3 1,-11 1,11 1,0 1,13 1,-13 1,-1 1,0 1,-9 1,13 1,-10 1,8 1,-8 1,3 1,-7 1,6 1,14 1,-5 1,2 1,-9 1,-5 1,6 1,-2 1,7 1,-2 1,-6 1,3 1,-4 1,0 1,7 1,2 1,-14 1,12 1,0 1,9 1,-15 1,6 1,-1 1,1 1,3 1,-6 1,5 1,-7 1,4 1,10 1,-10 1,2 1,-5 1,4 1,10 1,-8 1,-9 1,9 1,-1 1,-5 1,4 1,-2 1,-1 1,5 1,-2 1,3 1,1 1,-11 1,-7 1,8 1,4 1,-3 1,5 1,-1 1,-1 1,3 1,-6 1,5 1,7 1,-13 1,9 1,-6 1,-2 1,-17 1,18 1,9 1,-5 1,-3 1,4 1,-3 1,4 1,-9 1,10 1,-16 1,6 1,-2 1,0 1,7 1,3 1,-4 1,-1 1,6 1,-15 1,18 1,-9 1,0 1,5 1,-6 1,2 1,-4 1,5 1,-3 1,0 1,1 1,1 1,4 1,-3 1,-7 1,6 1,-2 1,2 1,-10 1,10 1,3 1,2 1,5 1,-7 1,-4 1,3 1,-11 1,0 1,12 1,1 1,-10 1,1 1,11 1,-8 1,9 1,-10 1,1 1,8 1,-9 1,4 1,6 1,3 1,-5 1,-9 1,11 1,-11 1,5 1,-2 1,10 1,-25 1,21 1,7 1,-9 1,-4 1,13 1,-7 1,3 1,-5 1,-4 1,-10 1,19 1,-8 1,2 1,2 1,-1 1,-3 1,-19 1,17 1,-10 1,6 1,6 1,2 1,12 1,-10 1,-1 1,2 1,-4 1,-3 1,14 1,-17 1,2 1,11 1,-10 1,11 1,-3 1,-15 1,17 1,-5 1,-2 1,-3 1,-6 1,1 1,13 1,-2 1,3 1,-6 1,1 1,7 1,-1 1,-2 1,4 1,-6 1,3 1,-17 1,4 1,9 1,-4 1,10 1,-21 1,14 1,7 1,-18 1,1 1,4 1,12 1,-11 1,3 1,-1 1,-17 1,20 1,3 1,1 1,0 1,-12 1,5 1,7 1,0 1,-4 1,-5 1,2 1,-11 1,20 1,-12 1,14 1,-13 1,5 1,-5 1,-1 1,6 1,1 1,-4 1,3 1,-36 1,33 1,4 1,1 1,7 1,-8 1,-5 1,3 1,3 1,-5 1,4 1,-2 1,-16 1,23 1,-10 1,4 1,3 1,-15 1,14 1,-1 1,-2 1,1 1,7 1,-1 1,-10 1,3 1,2 1,-3 1,1 1,5 1,-3 1,-4 1,-1 1,3 1,-4 1,11 1,-1 1,-12 1,12 1,-6 1,1 1,-5 1,7 1,2 1,-13 1,9 1,5 1,-4 1,1 1,-8 1,1 1,4 1,0 1,-11 1,6 1,12 1,-8 1,5 1,-10 1,14 1,-11 1,11 1,-8 1,11 1,-13 1,7 1,-2 1,0 1,1 1,-6 1,-5 1,13 1,-5 1,1 1,2 1,2 1,-3 1,0 1,-4 1,-11 1,26 1,-13 1,1 1,-5 1,3 1,3 1,-1 1,-27 1,24 1,10 1,-7 1,0 1,-5 1,-1 1,7 1,-5 1,-1 1,2 1,0 1,1 1,-1 1,4 1,-3 1,0 1,1 1,-1 1,0 1,-4 1,8 1,-10 1,10 1,-3 1,-3 1,-2 1,6 1,-10 1,-10 1,1 1,18 1,1 1,-2 1,11 1,-9 1,-10 1,6 1,7 1,-25 1,25 1,-9 1,2 1,-4 1,15 1,-11 1,2 1,-17 1,6 1,13 1,-3 1,10 1,-8 1,2 1,6 1,2 1,-9 1,0 1,-4 1,15 1,-5 1,0 1,-7 1,1 1,-3 1,4 1,-2 1,1 1,-1 1,-2 1,8 1,-7 1,0 1,0 1,-1 1,-7 1,13 1,-3"/>
<path fill="none" stroke="#f47d7d" stroke-width="0.5" stroke-linejoin="bevel" vector-effect="non-scaling-stroke" d="M0,896l1,0 1,-18 1,9 1,0 1,1 1,31 1,-36 1,0 1,-2 1,21 1,-21 1,5 1,-7 1,19 1,-25 1,40 1,-26 1,14 1,-9 1,20 1,-30 1,-27 1,38 1,7 1,-13 1,13 1,10 1,-43 1,40 1,-3 1,-24 1,6 1,-6 1,19 1,-21 1,18 1,11 1,-45 1,31 1,-7 1,-6 1,-5 1,10 1,-20 1,13 1,1 1,-3 1,-9 1,55 1,-14 1,-2 1,-29 1,-20 1,25 1,-2 1,-55 1,53 1,14 1,25 1,-26 1,-7 1,-8 1,-1 1,17 1,-5 1,-18 1,10 1,12 1,27 1,-29 1,7 1,-18 1,15 1,-25 1,42 1,-29 1,15 1,-5 1,19 1,-21 1,9 1,-32 1,7 1,-1 1,1 1,2 1,9 1,1 1,2 1,-14 1,-1 1,-5 1,-6 1,23 1,11 1,-6 1,-16 1,12 1,-30 1,41 1,-10 1,3 1,-2 1,7 1,-12 1,2 1,-9 1,7 1,8 1,9 1,-19 1,-15 1,-7 1,23 1,-72 1,85 1,15 1,-35 1,30 1,-1 1,-33 1,9 1,17 1,-23 1,-3 1,27 1,-20 1,-1 1,19 1,-21 1,14 1,19 1,-2 1,-44 1,39 1,-14 1,5 1,7 1,-15 1,7 1,-5 1,8 1,-29 1,30 1,-5 1,-20 1,-4 1,1 1,8 1,-23 1,32 1,-8 1,6 1,21 1,-32 1,3 1,44 1,-44 1,19 1,6 1,-75 1,59 1,21 1,-16 1,7 1,-10 1,25 1,-37 1,-13 1,13 1,11 1,-11 1,15 1,-12 1,17 1,-27 1,2 1,14 1,-15 1,7 1,3 1,-2 1,-16 1,37 1,7 1,-15 1,-13 1,-5 1,0 1,-7 1,31 1,16 1,-26 1,5 1,-36 1,31 1,-11 1,13 1,-13 1,1 1,-1 1,3 1,38 1,-19 1,-31 1,18 1,-2 1,34 1,-55 1,35 1,3 1,19 1,-7 1,-27 1,-20 1,8 1,5 1,7 1,-7 1,-10 1,29 1,-8 1,-7 1,-2 1,-6 1,-1 1,-15 1,25 1,-4 1,6 1,-3 1,10 1,-36 1,26 1,-21 1,33 1,23 1,-26 1,2 1,12 1,-1 1,-29 1,1 1,6 1,24 1,-36 1,9 1,-2 1,-18 1,31 1,-8 1,23 1,-87 1,69 1,3 1,7 1,-28 1,23 1,-84 1,57 1,33 1,-11 1,-17 1,-13 1,40 1,-34 1,35 1,-1 1,6 1,-50 1,-29 1,72 1,-38 1,44 1,-10 1,-6 1,-1 1,-23 1,21 1,0 1,8 1,23 1,-62 1,42 1,18 1,-37 1,-12 1,11 1,-6 1,-8 1,34 1,13 1,-13 1,-17 1,-1 1,-15 1,13 1,9 1,-6 1,22 1,-4 1,-7 1,-19 1,9 1,18 1,16 1,-34 1,46 1,-82 1,38 1,10 1,-14 1,10 1,1 1,-14 1,8 1,13 1,10 1,14 1,-30 1,-24 1,15 1,-18 1,26 1,-12 1,15 1,-9 1,4 1,-6 1,29 1,-50 1,10 1,34 1,-8 1,-5 1,2 1,-12 1,-35 1,53 1,-1 1,3 1,-43 1,39 1,-1 1,18 1,-27 1,-79 1,63 1,13 1,-18 1,31 1,-21 1,13 1,2 1,-17 1,18 1,12 1,-26 1,3 1,-4 1,18 1,1 1,-20 1,4 1,18 1,-12 1,25 1,-26 1,-9 1,-9 1,8 1,-16 1,30 1,21 1,-48 1,-5 1,-6 1,31 1,-32 1,32 1,18 1,-25 1,6 1,-7 1,21 1,17 1,-42 1,-13 1,12 1,23 1,0 1,-19 1,9 1,37 1,-3 1,-44 1,14 1,-6 1,-3 1,-8 1,25 1,7 1,3 1,-40 1,50 1,-42 1,-7 1,38 1,-3 1,-14 1,14 1,-3 1,-80 1,53 1,11 1,5 1,15 1,7 1,-24 1,-7 1,-3 1,26 1,-23 1,35 1,-23 1,-6 1,13 1,-10 1,-32 1,34 1,4 1,-13 1,4 1,3 1,-27 1,16 1,-31 1,25 1,25 1,0 1,-67 1,51 1,15 1,-12 1,13 1,0 1,-31 1,27 1,-17 1,-39 1,60 1,-20 1,10 1,7 1,10 1,-19 1,-10 1,4 1,26 1,-21 1,31 1,-3 1,-33 1,37 1,-36 1,3 1,5 1,-15 1,11 1,14 1,25 1,-21 1,-22 1,13 1,13 1,-28 1,-2 1,11 1,-16 1,18 1,-9 1,26 1,-21 1,-16 1,29 1,-14 1,-77 1,85 1,-29 1,-2 1,8 1,34 1,5 1,-28 1,12 1,-32 1,39 1,-15 1,10 1,-13 1,4 1,-38 1,45 1,-15 1,-7 1,40 1,-61 1,51 1,-10 1,-1 1,9 1,-20 1,-22 1,19 1,3 1,-29 1,42 1,0 1,-25 1,-6 1,24 1,-1 1,0 1,11 1,-8 1,17 1,-17 1,17 1,1 1,-44 1,27 1,3 1,2 1,-1 1,11 1,-5 1,-17 1,18 1,-17 1,9 1,-14 1,-12 1,3 1,16 1,13 1,-22 1,-37 1,33 1,2 1,-15 1,21 1,14 1,29 1,-42 1,9 1,-17 1,12 1,-10 1,-10 1,34 1,-32 1,26 1,-15 1,8 1,7 1,-34 1,59 1,-53 1,3 1,-30 1,12 1,22 1,7 1,1 1,4 1,-4 1,0 1,-1 1,35 1,-20 1,-26 1,12 1,17 1,8 1,-41 1,18 1,-32 1,24 1,35 1,-15 1,-16 1,-12 1,16 1,1 1,3 1,7 1,-9 1,-42 1,30 1,-8 1,1 1,30 1,-61 1,56 1,-3 1,-2 1,-3 1,-12 1,15 1,11 1,-29 1,37 1,-31 1,24 1,-18 1,30 1,-1 1,1 1,7 1,-36 1,-31 1,10 1,5 1,33 1,0 1,-30 1,26 1,-19 1,-1 1,12 1,-25 1,34 1,-3 1,-13 1,19 1,-8 1,7 1,-16 1,6 1,-39 1,26 1,10 1,17 1,9 1,-14 1,-17 1,5 1,-13 1,-11 1,39 1,-36 1,33 1,-20 1,6 1,19 1,-29 1,22 1,-23 1,13 1,-1 1,4 1,-22 1,5 1,20 1,-17 1,20 1,-1 1,-9 1,-6 1,-18 1,14 1,18 1,-6 1,19 1,-22 1,-31 1,38 1,-23 1,40 1,-38 1,-26 1,37 1,0 1,5 1,37 1,-40 1,-5 1,-2 1,-2 1,10 1,19 1,-13 1,2 1,-25 1,17 1,38 1,-58 1,-11 1,29 1,-15 1,-3 1,-12 1,33 1,-1 1,-4 1,18 1,3 1,-50 1,47 1,-36 1,28 1,-22 1,15 1,24 1,-24 1,31 1,-10 1,-7 1,-31 1,20 1,6 1,7 1,-15 1,-22 1,36 1,-38 1,12 1,-19 1,32 1,12 1,2 1,-85 1,30 1,44 1,-39 1,50 1,-8 1,21 1,-44 1,25 1,-4 1,-53 1,53 1,-30 1,11 1,24 1,-11 1,18 1,-21 1,28 1,-15 1,-2 1,11 1,17 1,-33 1,3 1,-3 1,5 1,-33 1,53 1,2 1,-4 1,-57 1,10 1,9 1,17 1,-9 1,-17 1,15 1,-16 1,4 1,24 1,-16 1,-42 1,41 1,2 1,19 1,6 1,-2 1,-19 1,-36 1,72 1,-26 1,-11 1,-16 1,-35 1,84 1,3 1,-15 1,-49 1,42 1,6 1,-6 1,35 1,-60 1,13 1,15 1,-6 1,16 1,-16 1,-10 1,-7 1,13 1,-4 1,20 1,-7 1,-85 1,95 1,-48 1,13 1,51 1,-45 1,15 1,7 1,-27 1,16 1,6 1,-13 1,15 1,6 1,-7 1,-44 1,34 1,11 1,19 1,-13 1,-4 1,-25 1,28 1,28 1,-38 1,-6 1,8 1,8 1,-17 1,9 1,-39 1,32 1,-7 1,4 1,-8 1,42 1,-25 1,11 1,-35 1,20 1,-3 1,37 1,-38 1,1 1,15 1,-10 1,-6 1,-19 1,-10 1,34 1,2 1,0 1,22 1,-26 1,4 1,-8 1,-20 1,9 1,7 1,8 1,27 1,-42 1,15 1,-25 1,39 1,-18 1,-31 1,42 1,-1 1,4 1,-3 1,-16 1,9 1,-12 1,12 1,9 1,1 1,-20 1,36 1,-34 1,-23 1,55 1,-6 1,6 1,-22 1,-3 1,-7 1,22 1,3 1,-1 1,1 1,-24 1,14 1,-9 1,5 1,29 1,-61 1,40 1,-12 1,5 1,0 1,-3 1,5 1,-4 1,-20 1,32 1,-1 1,-27 1,26 1,-8 1,6 1,-6 1,-16 1,22 1,-34 1,51 1,-36 1,1 1,22 1,-11 1,13 1,17 1,-18 1,-14 1,-13 1,14 1,-15 1,20 1,-42 1,19 1,-12 1,16 1,26 1,2 1,-44 1,51 1,-26 1,10 1,4 1,-82 1,76 1,8 1,-19 1,13 1,11 1,-16 1,-2 1,-4 1,-11 1,14 1,-16 1,20 1,-10 1,16 1,21 1,-22 1,-62 1,66 1,-8 1,-13 1,22 1,9 1,-8 1,-9 1,-16 1,10 1,14 1,-5 1,8 1,-20 1,-31 1,42 1,-7 1,1 1,26 1,-9 1,-21 1,-16 1,12 1,-8 1,-4 1,16 1,7 1,-11 1,12 1,9 1,-25 1,9 1,-9 1,-10 1,33 1,4 1,-3 1,-9 1,-14 1,34 1,-51 1,34 1,-22 1,-1 1,35 1,9 1,-31 1,-1 1,10 1,-7 1,29 1,-41 1,1 1,21 1,-17 1,2 1,2 1,5 1,19 1,-33 1,30 1,-28 1,-1 1,22 1,-63 1,62 1,9 1,-22 1,-61 1,73 1,-18 1,12 1,29 1,-47 1,3 1,30 1,-9 1,-7 1,8 1,-10 1,-12 1,20 1,8 1,-40 1,5 1,28 1,-12 1,20 1,-10 1,-6 1,5 1,45 1,-45 1,-14 1,-10 1,34 1,14 1,-21 1,0 1,-12 1,14 1,-8 1,10 1,0 1,-3 1,21 1,-32 1,4 1,-8 1,9 1,5 1,24 1,-43 1,14 1,5 1,-15 1,11 1,-28 1,40 1,1 1,1 1,13 1,-14 1,8 1,-7 1,-8 1,3 1,-25 1,13 1,-14 1,-39 1,49 1,-9 1,9 1,-3 1,-4 1,15 1,19 1,3 1,3 1,-3 1,-56 1,62 1,-57 1,9 1,9 1,6 1,-5 1,28 1,-19 1,32 1,-4 1,-50 1,18 1,20 1,-19 1,-18 1,24 1,-5 1,-3 1,18 1,-8 1,-50 1,3 1,43 1,1 1,-34 1,38 1,-20 1,20 1,-8 1,22 1,-33 1,40 1,-21 1,25 1,-22 1,-2 1,-17 1,41 1,-5 1,-16 1,-8 1,-2 1,2 1,7 1,-16 1,5 1,0 1,2 1,-17 1,38 1,-6 1,-2 1,-1 1,-25 1,19 1,-26 1,33 1,-19 1,-6 1,8 1,0 1,18 1,4 1,-11 1,-17 1,-2 1,-54 1,46 1,36 1,-19 1,4 1,7 1,-6 1,12 1,-13 1,1 1,2 1,4 1,-1 1,14 1,-17 1,17 1,-13 1,-16 1,-12 1,41 1,-26 1,10 1,-50 1,56 1,-21 1,41 1,-33 1,20 1,26 1,-16 1,-9 1,-27 1,0 1,40 1,-29 1,6 1,-8 1,-5 1,13 1,6 1,-2 1,6 1,-2 1,-5 1,16 1,-32 1,13 1,6 1,6 1,-27 1,32 1,-36 1,-5 1,42 1,-46 1,24 1,25 1,-8 1,-11 1,-4 1,9 1,-30 1,45 1,-28 1,-3 1,24 1,-5 1,-5 1,2 1,-5 1,-21 1,-7 1,40 1,-4 1,-9 1,22 1,-29 1,-5 1,23 1,-23 1,-1 1,12 1,-8 1,13 1,10 1,-23 1,-17 1,37 1,-18 1,12 1,13 1,-27 1,19 1,26 1,-38 1,-17 1,9 1,5 1,14 1,1 1,-12 1,-25 1,23 1,35 1,-48 1,24 1,3 1,5 1,-8 1,12 1,4 1,-11 1,1 1,-12 1,-8 1,-2 1,-16 1,-11 1,51 1,-36 1,24 1,-10 1,49 1,-34 1,-11 1,21 1,-4 1,-22 1,11 1,12 1,-43 1,13 1,17 1,24 1,-41 1,14 1,-2 1,21 1,-8 1,-6 1,-13 1,-12 1,34 1,15 1,-28 1,-7 1,28 1,-38 1,-9 1,40 1,-1 1,10 1,-25 1,-11 1,15 1,12 1,-8 1,2 1,-5 1,4 1,-12 1,20 1,-2 1,-1 1,-16 1,7 1,4 1,-30 1,29 1,-9 1,-20 1,44 1,-29 1,13 1,-4 1,-21 1,-11 1,66 1,-35 1,-8 1,25 1,-13 1,17 1,-32 1,3 1,17 1,-4 1,4 1,11 1,-7 1,-10 1,8 1,-8 1,-16 1,34 1,-34 1,6 1,19 1,8 1,-8 1,-16 1,40 1,-42 1,35 1,-35 1,17 1,5 1,-3 1,-9 1,12 1,-3 1,-18 1,33 1,-17 1,1 1,-15 1,19 1,11 1,-12 1,-3 1,-10 1,3 1,11 1,-16 1,23 1,-1 1,-28 1,24 1,-2 1,-16 1,-1 1,12 1,-8 1,-1 1,-1 1,17 1,-4 1,6 1,11 1,-15 1,-10 1,-23 1,39 1,-8 1,-2 1,9 1,-19 1,2 1,-6 1,21 1,-19 1,10 1,5 1,-15 1,-4 1,30 1,-21 1,19 1,-7 1,13 1,-10 1,-21 1,16 1,2 1,-16 1,5 1,12 1,-28 1,24 1,-19 1,27 1,1 1,-25 1,3 1,6 1,3 1,-7 1,20 1,-9 1,-17 1,19 1,-11 1,9 1,13 1,-24 1,6 1,1 1,4 1,17 1,0 1,-45 1,49 1,-4 1,-23 1,14 1,-64 1,64 1,-32 1,39 1,-34 1,0 1,24 1,10 1,-14 1,12 1,5 1,-11 1,15 1,-4 1,-24 1,-2 1,-42 1,53 1,21 1,3 1,-55 1,58 1,-51 1,7 1,5 1,-8 1,10 1,19 1,-4 1,-8 1,9 1,-12 1,-29 1,34 1,37 1,-50 1,14 1,-10 1,33 1,-34 1,15 1,11 1,-24 1,8 1,18 1,-27 1,24 1,1 1,-2 1,-6 1,-1 1,-18 1,7 1,-15 1,3 1,17 1,11 1,-27 1,29 1,-14 1,-11 1,18 1,2 1,-9 1,0 1,27 1,-31 1,-6 1,10 1,9 1,-6 1,12 1,-7 1,1 1,-14 1,24 1,-29 1,31 1,-31 1,4 1,7 1,23 1,-27 1,20 1,-13 1,-20 1,30 1,-12 1,-3 1,17 1,-6 1,-1 1,-2 1,25 1,-40 1,10 1,-3 1,1 1,-12 1,14 1,-2 1,3 1,-6 1,-5 1,15 1,-9 1,11 1,-3 1,11 1,-14 1,10 1,-9 1,9 1,-1 1,2 1,-20 1,11 1,-10 1,16 1,-34 1,27 1,-12 1,14 1,7 1,-5 1,5 1,6 1,-6 1,5 1,-26 1,5 1,-9 1,21 1,9 1,-1 1,-6 1,-13 1,6 1,-21 1,13 1,11 1,-5 1,5 1,11 1,-13 1,1 1,-3 1,29 1,-27 1,6 1,-4 1,12 1,-11 1,-4 1,12 1,3 1,-2 1,-2 1,-13 1,-7 1,7 1,-7 1,16 1,-5 1,-3 1,5 1,3 1,0 1,-18 1,9 1,15 1,-18 1,13 1,-13 1,-19 1,39 1,-14 1,11 1,-13 1,6 1,16 1,-11 1,-5 1,3 1,-14 1,19 1,7 1,9 1,-32 1,4 1,0 1,1 1,-10 1,9 1,10 1,-13 1,23 1,-36 1,11 1,9 1,-3 1,-15 1,31 1,-32 1,27 1,-14 1,-3 1,-4 1,21 1,3 1,-3 1,-4 1,-2 1,-10 1,23 1,-28 1,8 1,6 1,3 1,-4 1,7 1,-4 1,-5 1,-5 1,-5 1,13 1,11 1,-4 1,-25 1,18 1,-8 1,8 1,-13 1,31 1,-30 1,1 1,21 1,3 1,-18 1,-13 1,24 1,-18 1,8 1,-4 1,-4 1,11 1,-7 1,12 1,-9 1,7 1,0 1,-14 1,8 1,5 1,-1 1,-7 1,-10 1,16 1,-4 1,15 1,-5 1,-10 1,-14 1,22 1,11 1,-14 1,-5 1,-8 1,4 1,12 1,-17 1,-6 1,9 1,11 1,-10 1,-20 1,29 1,-5 1,10 1,15 1,-15 1,5 1,-6 1,-12 1,3 1,-2 1,12 1,-5 1,-1 1,4 1,-7 1,10 1,-15 1,32 1,-14 1,-3 1,0 1,1 1,1 1,-28 1,21 1,5 1,-6 1,2 1,-23 1,32 1,-6 1,-20 1,-13 1,28 1,12 1,-19 1,9 1,1 1,7 1,-8 1,6 1,-7 1,-3 1,3 1,1 1,-3 1,5 1,-8 1,18 1,-13 1,-5 1,9 1,-11 1,1 1,4 1,1 1,1 1,-6 1,20 1,-30 1,12 1,12 1,-30 1,17 1,-6 1,9 1,-5 1,6 1,1 1,-13 1,12 1,0 1,3 1,-16 1,11 1,-5 1,-55 1,78 1,-47 1,10 1,16 1,-5 1,9 1,-9 1,8 1,10 1,-7 1,10 1,-20 1,8 1,16 1,-26 1,7 1,14 1,-15 1,-1 1,4 1,-9 1,13 1,-19 1,35 1,-14 1,-15 1,14 1,-30 1,19 1,25 1,-32 1,14 1,4 1,-10 1,1 1,11 1,11 1,-15 1,9 1,10 1,-18 1,-4 1,11 1,-15 1,4 1,-2 1,2 1,7 1,-22 1,4 1,17 1,-2 1,9 1,-19 1,17 1,-3 1,-5 1,-8 1,3 1,2 1,2 1,-12 1,13 1,-11 1,25 1,-9 1,18 1,-50 1,16 1,19 1,-12 1,13 1,7 1,-30 1,14 1,-11 1,12 1,4 1,3 1,-3 1,-36 1,27 1,3 1,7 1,-3 1,-34 1,22 1,8 1,13 1,-11 1,-6 1,8 1,-28 1,27 1,8 1,-20 1,10 1,3 1,0 1,0 1,-37 1,36 1,6 1,-14 1,6 1,4 1,3 1,2 1,0 1,-22 1,16 1,6 1,-11 1,-5 1,16 1,-18 1,6 1,5 1,-3 1,-8 1,-13 1,31 1,-9 1,-4 1,-5 1,-1 1,-2 1,13 1,-17 1,4 1,11 1,5 1,7 1,-7 1,-16 1,11 1,-11 1,12 1,2 1,-12 1,-20 1,31 1,1 1,-24 1,30 1,-21 1,11 1,11 1,-6 1,-6 1,-1 1,0 1,7 1,10 1,3 1,-26 1,11 1,-3 1,-3 1,15 1,-15 1,9 1,-2 1,-6 1,21 1,-14 1,9 1,-13 1,-2 1,-1 1,-3 1,18 1,-5 1,1 1,-8 1,7 1,-4 1,3 1,-11 1,10 1,-12 1,17 1,2 1,-8 1,5 1,3 1,-4 1,-34 1,23 1,-3 1,6 1,-1 1,13 1,-6 1,-9 1,5 1,7 1,-31 1,27 1,-2 1,2 1,-11 1,11 1,-24 1,21 1,-11 1,6 1,-2 1,8 1,14 1,-18 1,-2 1,7 1,-14 1,8 1,16 1,-23 1,7 1,-3 1,0 1,3 1,10 1,-4 1,4 1,-5 1,-21 1,12 1,5 1,9 1,4 1,-16 1,8 1,2 1,-29 1,34 1,-7 1,8 1,11 1,-25 1,-16 1,8 1,20 1,-6 1,5 1,-14 1,1 1,12 1,0 1,-11 1,5 1,-7 1,3 1,-7 1,22 1,-7 1,0 1,-2 1,4 1,-2 1,-14 1,-1 1,8 1,1 1,8 1,-24 1,25 1,-6 1,0 1,-24 1,19 1,1 1,7 1,-1 1,-6 1,-18 1,29 1,-10 1,7 1,6 1,3 1,-15 1,8 1,0 1,-20 1,7 1,13 1,-2 1,-6 1,-2 1,2 1,-8 1,-6 1,28 1,-27 1,24 1,-15 1,8 1,2 1,-1 1,-9 1,-20 1,35 1,-12 1,18 1,-9 1,-5 1,4 1,-3 1,2 1,-10 1,7 1,-4 1,12 1,-8 1,-7 1,-8 1,20 1,-21 1,14 1,4 1,-12 1,8 1,0 1,10 1,-16 1,11 1,3 1,-12 1,-7 1,-19 1,28 1,2 1,-12 1,9 1,1 1,7 1,8 1,-32 1,20 1,0 1,-7 1,20 1,-15 1,7 1,12 1,-27 1,13 1,-15 1,15 1,3 1,-5 1,-2 1,20 1,-13 1,-5 1,-6 1,-1 1,1 1,2 1,1 1,2 1,-6 1,-12 1,23 1,6 1,-19 1,-2 1,9 1,3 1,5 1,-11 1,15 1,-10 1,1 1,-2 1,10 1,-7 1,2 1,-3 1,-8 1,9 1,-3 1,-25 1,29 1,-20 1,23 1,-3 1,5 1,-15 1,7 1,-26 1,36 1,-12 1,7 1,-1 1,-7 1,-3 1,1 1,-5 1,8 1,0 1,1 1,0 1,-9 1,11 1,2 1,7 1,-12 1,3 1,2 1,4 1,-18 1,14 1,-12 1,3 1,6 1,2 1,-6 1,-7 1,0 1,23 1,-3 1,-19 1,9 1,-1 1,4 1,-4 1,9 1,-5 1,0 1,0 1,-16 1,1 1,12 1,6 1,2 1,-8 1,0 1,0 1,1 1,5 1,-11 1,1 1,7 1,-3 1,-10 1,17 1,-4 1,-6 1,2 1,-5 1,8 1,-7 1,3 1,15 1,-15 1,-3 1,3 1,-1 1,5 1,-4 1,7 1,1 1,-8 1,10 1,-12 1,9 1,0 1,3 1,-13 1,5 1,2 1,-5 1,15 1,-16 1,-2 1,16 1,-21 1,10 1,7 1,-10 1,2 1,2 1,6 1,0 1,-9 1,-4 1,1 1,11 1,-9 1,3 1,5 1,5 1,-1 1,-3 1,-7 1,-9 1,-3 1,19 1,-7 1,-15 1,21 1,-2 1,-4 1,1 1,-5 1,3 1,4 1,-5 1,-6 1,5 1,5 1,-12 1,16 1,-10 1,10 1,8 1,-7 1,-3 1,-7 1,2 1,1 1,-18 1,10 1,15 1,-6 1,0 1,-1 1,4 1,-3 1,6 1,-30 1,20 1,5 1,2 1,5 1,-13 1,14 1,-7 1,6 1,-8 1,3 1,-11 1,5 1,3 1,-3 1,3 1,3 1,2 1,-9 1,8 1,-2 1,-1 1,-1 1,-5 1,9 1,-13 1,3 1,9 1,0 1,-12 1,12 1,-4 1,9 1,-11 1,2 1,-8 1,8 1,9 1,0 1,-22 1,16 1,4 1,-4 1,1 1,1 1,-1 1,-14 1,2 1,20 1,-7 1,0 1,4 1,-25 1,18 1,7 1,-5 1,4 1,-11 1,-1 1,12 1,-8 1,11 1,-3 1,-13 1,7 1,4 1,2 1,-17 1,11 1,9 1,-16 1,3 1,7 1,3 1,-4 1,-4 1,-10 1,10 1,6 1,-9 1,5 1,8 1,-16 1,14 1,-4 1,-7 1,10 1,-13 1,7 1,-6 1,14 1,-4 1,-4 1,12 1,-14 1,7 1,-3 1,3 1,-3 1,5 1,-10 1,6 1,-2 1,-3 1,6 1,2 1,-7 1,8 1,-26 1,15 1,9 1,3 1,-6 1,-5 1,3 1,1 1,-12 1,23 1,-18 1,16 1,-5 1,-19 1,16 1,3 1,-5 1,6 1,1 1,-4 1,2 1,1 1,-3 1,-15 1,19 1,-9 1,13 1,-11 1,-4 1,-2 1,10 1,3 1,-1 1,-5 1,-7 1,14 1,-1 1,0 1,0 1,-7 1,10 1,-5 1,0 1,-7 1,7 1,1 1,0 1,-10 1,14 1,-12 1,2 1,14 1,-19 1,9 1,0 1,6 1,5 1,-17 1,3 1,3 1,-4 1,10 1,-1 1,-30 1,19 1,10 1,-5 1,-3 1,-10 1,12 1,-9 1,6 1,5 1,4 1,-30 1,24 1,4 1,-1 1,6 1,-10 1,3 1,-7 1,3 1,1 1,3 1,0 1,8 1,-7 1,3 1,-2 1,-28 1,13 1,18 1,-2 1,-4 1,0 1,-8 1,5 1,-9 1,16 1,-6 1,-2 1,7 1,-1 1,1 1,2 1,-11 1,0 1,9 1,-8 1,4 1,6 1,-2 1,-13 1,14 1,-1 1,-3 1,-2 1,-11 1,17 1,-11 1,2 1,-16 1,-5 1,6 1,12 1,14 1,1 1,-7 1,-9 1,10 1,6 1,-20 1,13 1,0 1,-16 1,15 1,-4 1,7 1,-10 1,5 1,-26 1,33 1,0 1,0 1,-11 1,6 1,13 1,-19 1,13 1,-2 1,-1 1,-15 1,13 1,1 1,6 1,-14 1,6 1,5 1,0 1,2 1,-3 1,-10 1,1 1,9 1,-3 1,-2 1,1 1,-4 1,4 1,-1 1,0 1,-5 1,-1 1,9 1,-2 1,3 1,-2 1,-8 1,-3 1,4 1,18 1,-12 1,-3 1,-12 1,15 1,10 1,-13 1,8 1,-9 1,-3 1,6 1,15 1,-9 1,-8 1,1 1,-1 1,2 1,12 1,-7 1,-14 1,9 1,3 1,-7 1,3 1,9 1,-10 1,3 1,2 1,6 1,-3 1,7 1,-15 1,3 1,3 1,-2 1,-11 1,9 1,1 1,-1 1,-12 1,5 1,11 1,4 1,-11 1,7 1,-7 1,2 1,-39 1,36 1,14 1,-8 1,-4 1,5 1,-4 1,6 1,-4 1,3 1,-19 1,18 1,0 1,3 1,2 1,-9 1,7 1,-8 1,3 1,5 1,-6 1,2 1,0 1,1 1,-5 1,8 1,-11 1,-6 1,19 1,-7 1,-3 1,-9 1,18 1,-15 1,4 1,4 1,11 1,-22 1,12 1,6 1,-13 1,14 1,-17 1,10 1,0 1,2 1,-7 1,-1 1,-2 1,11 1,7 1,-19 1,-1 1,9 1,12 1,-26 1,17 1,4 1,-12 1,7 1,-4 1,-6 1,0 1,15 1,-6 1,5 1,-4 1,-8 1,6 1,-20 1,15 1,0 1,-16 1,20 1,-1 1,5 1,-6 1,8 1,-1 1,0 1,-1 1,9 1,-34 1,18 1,5 1,-8 1,15 1,-8 1,6 1,-3 1,7 1,-15 1,2 1,7 1,-4 1,-1 1,-8 1,6 1,7 1,-9 1,0 1,2 1,9 1,-6 1,5 1,-4 1,2 1,7 1,-11 1,-4 1,-36 1,45 1,-10 1,6 1,-12 1,16 1,-4 1,-5 1,11 1,3 1,-2 1,-8 1,0 1,3 1,-5 1,1 1,5 1,-1 1,-31 1,7 1,20 1,5 1,-8 1,3 1,-2 1,5 1,-4 1,12 1,-5 1,-1 1,-1 1,-7 1,10 1,-4 1,-2 1,0 1,-1 1,5 1,1 1,-7 1,-7 1,10 1,-2 1,9 1,-9 1,-14 1,20 1,-8 1,-1 1,-2 1,-13 1,20 1,-1 1,-1 1,12 1,-10 1,2 1,0 1,2 1,5 1,-7 1,9 1,-19 1,11 1,1 1,-10 1,15 1,-2 1,-2 1,-7 1,0 1,1 1,13 1,-10 1,2 1,0 1,-2 1,-5 1,1 1,16 1,-15 1,-19 1,21 1,2 1,1 1,-10 1,5 1,-5 1,-3 1,8 1,-4 1,5 1,9 1,-12 1,2 1,0 1,-10 1,8 1,9 1,-5 1,7 1,-5 1,2 1,3 1,-7 1,-6 1,11 1,-1 1,-1 1,9 1,-15 1,14 1,-15 1,-8 1,15 1,2 1,-2 1,3 1,-6 1,2 1,-9 1,12 1,-7 1,-6 1,-13 1,7 1,30 1,-15 1,3 1,-8 1,6 1,-6 1,7 1,5 1,-5 1,6 1,-11 1,4 1,1 1,7 1,-15 1,4 1,2 1,3 1,-21 1,25 1,-9 1,6 1,-6 1,-5 1,20 1,-15 1,8 1,-13 1,17 1,-5 1,-11 1,12 1,-14 1,10 1,-5 1,5 1,-2 1,-10 1,8 1,4 1,-6 1,12 1,-3 1,-5 1,4 1,-11 1,9 1,-7 1,6 1,-4 1,0 1,3 1,4 1,-4 1,-2 1,-5 1,2 1,4 1,-3 1,7 1,0 1,-2 1,2 1,-1 1,-21 1,14 1,-3 1,9 1,-2 1,-1 1,2 1,-18 1,-2 1,24 1,-16 1,10 1,10 1,-13 1,2 1,3 1,5 1,-3 1,-2 1,-7 1,-1 1,15 1,-12 1,8 1,-4 1,4 1,0 1,0 1,-11 1,8 1,0 1,3 1,-5 1,8 1,-5 1,-4 1,-3 1,15 1,-17 1,11 1,7 1,-13 1,8 1,-3 1,3 1,-10 1,4 1,-3 1,5 1,5 1,-6 1,-8 1,11 1,2 1,-15 1,10 1,0 1,-9 1,10 1,6 1,-9 1,3 1,1 1,-20 1,18 1,-7 1,9 1,7 1,-5 1,-2 1,-1 1,-4 1,3 1,-13 1,16 1,2 1,2 1,-9 1,1 1,-17 1,-17 1,29 1,0 1,5 1,-7 1,-8 1,24 1,-5 1,-4 1,-3 1,2 1,-5 1,7 1,-4 1,15 1,-7 1,-14 1,11 1,-18 1,21 1,-6 1,12 1,-18 1,9 1,-6 1,1 1,6 1,4 1,-16 1,5 1,7 1,-11 1,6 1,15 1,-6 1,-14 1,16 1,-13 1,5 1,-9 1,9 1,-1 1,10 1,-9 1,-4 1,1 1,5 1,-2 1,-4 1,8 1,-9 1,7 1,-1 1,4 1,-11 1,1 1,4 1,3 1,-8 1,-5 1,8 1,7 1,2 1,-10 1,7 1,0 1,0 1,5 1,-8 1,-3 1,-20 1,23 1,-2 1,-5 1,9 1,-1 1,-3 1,5 1,-3 1,-15 1,4 1,8 1,8 1,-17 1,13 1,-2 1,-6 1,-1 1,6 1,8 1,-6 1,3 1,-5 1,-8 1,19 1,-14 1,4 1,-1 1,-10 1,14 1,-7 1,11 1,-26 1,18 1,-1 1,-4 1,-2 1,8 1,4 1,-3 1,3 1,-18 1,3 1,9 1,-1 1,2 1,4 1,11 1,-19 1,-1 1,8 1,2 1,-3 1,4 1,-8 1,5 1,-4 1,8 1,0 1,-10 1,4 1,2 1,-2 1,-1 1,-1 1,15 1,-18 1,8 1,3 1,-5 1,-12 1,17 1,-14 1,7 1,10 1,0 1,-5 1,-1 1,-11 1,-17 1,15 1,16 1,0 1,2 1,-7 1,-10 1,10 1,-2 1,0 1,-4 1,5 1,3 1,-6 1,8 1,-11 1,3 1,6 1,-2 1,5 1,-12 1,16 1,-9 1,6 1,-2 1,6 1,-11 1,1 1,6 1,2 1,-7 1,-5 1,5 1,-6 1,3 1,3 1,-4 1,9 1,-5 1,9 1,-9 1,9 1,2 1,-14 1,-9 1,21 1,-2 1,-7 1,1 1,-6 1,6 1,3 1,-1 1,-3 1,-5 1,3 1,0 1,-19 1,14 1,-10 1,26 1,-4 1,-2 1,-5 1,-5 1,8 1,7 1,-2 1,-19 1,11 1,7 1,-2 1,-4 1,-5 1,3 1,-3 1,1 1,11 1,0 1,-3 1,3 1,-8 1,2 1,-10 1,16 1,-18 1,13 1,-2 1,-1 1,3 1,-7 1,-3 1,7 1,6 1,-2 1,-8 1,-7 1,7 1,-1 1,0 1,3 1,-4 1,8 1,-3 1,0 1,5 1,0 1,-10 1,-1 1,20 1,-4 1,-16 1,-5 1,14 1,3 1,-4 1,-4 1,5 1,-3 1,3 1,-11 1,5 1,7 1,-2 1,-4 1,5 1,-4 1,10 1,-3 1,-6 1,-3 1,2 1,-1 1,6 1,-6 1,11 1,-6 1,-1 1,-2 1,-1 1,-4 1,6 1,-7 1,10 1,1 1,-8 1,4 1,-3 1,8 1,-2 1,0 1,-8 1,-2 1,10 1,-2 1,3 1,-4 1,1 1,5 1,-2 1,-7 1,9 1,1 1,-13 1,1 1,4 1,1 1,4 1,-4 1,-3 1,1 1,6 1,-1 1,-1 1,-1 1,-8 1,12 1,-1 1,0 1,-6 1,15 1,-7 1,-1 1,-8 1,2 1,6 1,-2 1,7 1,-3 1,-17 1,9 1,-1 1,1 1,-2 1,-1 1,-3 1,-2 1,8 1,8 1,-8 1,1 1,-3 1,5 1,-3 1,7 1,-5 1,1 1,1 1,-10 1,10 1,-1 1,7 1,-13 1,6 1,1 1,-7 1,5 1,6 1,-20 1,14 1,-2 1,-2 1,2 1,3 1,1 1,-3 1,1 1,0 1,3 1,-5 1,1 1,2 1,-7 1,7 1,2 1,-22 1,11 1,11 1,-22 1,9 1,16 1,-22 1,12 1,0 1,3 1,-2 1,8 1,-28 1,32 1,-2 1,-12 1,-1 1,-2 1,8 1,1 1,-30 1,35 1,-20 1,15 1,0 1,-12 1,4 1,6 1,5 1,-5 1,-2 1,6 1,-5 1,-2 1,4 1,15 1,-14 1,4 1,-9 1,6 1,-2 1,6 1,-9 1,-4 1,-1 1,11 1,-5 1,6 1,-2 1,1 1,0 1,-2 1,-3 1,1 1,6 1,-3 1,-1 1,5 1,-29 1,29 1,2 1,-29 1,20 1,1 1,-1 1,1 1,-2 1,0 1,-4 1,0 1,6 1,1 1,-7 1,8 1,0 1,0 1,-5 1,6 1,-2 1,-3 1,-9 1,-12 1,8 1,13 1,1 1,6 1,-8 1,-4 1,5 1,5 1,-7 1,6 1,0 1,3 1,-13 1,8 1,-9 1,10 1,4 1,-6 1,4 1,6 1,-18 1,12 1,3 1,-6 1,-1 1,-13 1,9 1,0 1,7 1,-8 1,0 1,-5 1,-4 1,15 1,-2 1,-14 1,26 1,-25 1,17 1,3 1,-2 1,3 1,0 1,2 1,-6 1,0 1,-5 1,0 1,-6 1,9 1,7 1,1 1,-3 1,-3 1,3 1,1 1,-6 1,-3 1,7 1,-15 1,26 1,-15 1,2 1,-3 1,3 1,0 1,-2 1,2 1,10 1,-16 1,8 1,-2 1,-16 1,9 1,13 1,-2 1,3 1,-7 1,-4 1,3 1,-7 1,5 1,3 1,-12 1,4 1,-2 1,9 1,-5 1,6 1,5 1,2 1,-11 1,9 1,0 1,-3 1,1 1,3 1,-12 1,-4 1,15 1,-13 1,8 1,-9 1,3 1,3 1,2 1,9 1,-7 1,-16 1,16 1,1 1,-9 1,6 1,-2 1,10 1,-6 1,-6 1,4 1,-4 1,-2 1,1 1,0 1,0 1,5 1,-17 1,17 1,4 1,-8 1,8 1,-7 1,-22 1,30 1,-3 1,-26 1,18 1,-2 1,7 1,-1 1,-9 1,10 1,-3 1,1 1,7 1,-8 1,-2 1,3 1,4 1,6 1,-11 1,0 1,-3 1,7 1,3 1,-8 1,12 1,-8 1,2 1,5 1,0 1,-17 1,8 1,12 1,-15 1,8 1,-13 1,2 1,7 1,0 1,-3 1,5 1,-5 1,2 1,3 1,-3 1,2 1,4 1,-3 1,5 1,-6 1,1 1,-9 1,11 1,-9 1,8 1,-1 1,-3 1,8 1,0 1,-4 1,-3 1,3 1,9 1,-15 1,0 1,5 1,8 1,-7 1,-3 1,12 1,-29 1,14 1,2 1,-9 1,11 1,-1 1,3 1,-7 1,4 1,-9 1,7 1,3 1,-10 1,11 1,-2 1,11 1,-10 1,1 1,5 1,-8 1,3 1,4 1,-9 1,9 1,-2 1,-5 1,3 1,-1 1,3 1,-8 1,8 1,-14 1,15 1,-20 1,15 1,-2 1,12 1,-9 1,4 1,-12 1,21 1,-22 1,13 1,-21 1,23 1,-7 1,-12 1,19 1,-3 1,2 1,0 1,3 1,-9 1,6 1,-6 1,1 1,-3 1,-1 1,3 1,-10 1,12 1,-4 1,8 1,1 1,-4 1,4 1,-13 1,10 1,-12 1,6 1,2 1,-1 1,3 1,-16 1,8 1,15 1,-9 1,-2 1,1 1,0 1,-4 1,2 1,-11 1,21 1,-9 1,5 1,3 1,-12 1,10 1,-5 1,5 1,-3 1,0 1,1 1,1 1,-7 1,13 1,-3 1,5 1,-10 1,5 1,-4 1,-12 1,15 1,-26 1,18 1,6 1,-6 1,7 1,4 1,-7 1,8 1,-18 1,17 1,-8 1,8 1,-5 1,-3 1,-23 1,24 1,-2 1,8 1,-8 1,6 1,0 1,3 1,-5 1,-5 1,-3 1,9 1,-5 1,-10 1,20 1,0 1,-2 1,0 1,1 1,-13 1,10 1,-7 1,8 1,-3 1,0 1,1 1,-4 1,4 1,5 1,-5 1,1 1,-25 1,19 1,-2 1,10 1,-5 1,5 1,-8 1,3 1,4 1,-3 1,-1 1,-3 1,5 1,1 1,1 1,-11 1,10 1,0 1,4 1,-12 1,0 1,1 1,6 1,5 1,5 1,-13 1,6 1,-4 1,-10 1,13 1,-8 1,7 1,6 1,-14 1,6 1,-50 1,52 1,3 1,-1 1,-16 1,10 1,-2 1,15 1,-12 1,0 1,5 1,2 1,-4 1,-3 1,-1 1,5 1,2 1,-5 1,-4 1,-1 1,0 1,3 1,-2 1,5 1,-2 1,3 1,0 1,2 1,-9 1,-2 1,9 1,-1 1,4 1,0 1,-10 1,7 1,-6 1,11 1,-7 1,-2 1,3 1,0 1,1 1,-12 1,4 1,-6 1,12 1,0 1,-5 1,13 1,-8 1,-1 1,-6 1,5 1,-4 1,-1 1,-28 1,39 1,2 1,-6 1,3 1,-8 1,3 1,2 1,-3 1,2 1,-1 1,-2 1,5 1,-5 1,11 1,-2 1,-4 1,3 1,-4 1,3 1,-12 1,5 1,6 1,4 1,-3 1,1 1,-2 1,-20 1,15"/></g>
</g>
<rect x="29.2" y="23.4" width="224.1" height="164.8" fill="none" stroke="#262626" stroke-width="1.15"/>
<line x1="29.00" y1="188" x2="29.00" y2="185.8" stroke="#333" stroke-width="0.9"/><line x1="43.00" y1="188" x2="43.00" y2="186.5" stroke="#333" stroke-width="0.9"/><line x1="57.00" y1="188" x2="57.00" y2="185.8" stroke="#333" stroke-width="0.9"/><line x1="71.00" y1="188" x2="71.00" y2="186.5" stroke="#333" stroke-width="0.9"/><line x1="85.00" y1="188" x2="85.00" y2="185.8" stroke="#333" stroke-width="0.9"/><line x1="99.00" y1="188" x2="99.00" y2="186.5" stroke="#333" stroke-width="0.9"/><line x1="113.00" y1="188" x2="113.00" y2="185.8" stroke="#333" stroke-width="0.9"/><line x1="127.00" y1="188" x2="127.00" y2="186.5" stroke="#333" stroke-width="0.9"/><line x1="141.00" y1="188" x2="141.00" y2="185.8" stroke="#333" stroke-width="0.9"/><line x1="155.00" y1="188" x2="155.00" y2="186.5" stroke="#333" stroke-width="0.9"/><line x1="169.00" y1="188" x2="169.00" y2="185.8" stroke="#333" stroke-width="0.9"/><line x1="183.00" y1="188" x2="183.00" y2="186.5" stroke="#333" stroke-width="0.9"/><line x1="197.00" y1="188" x2="197.00" y2="185.8" stroke="#333" stroke-width="0.9"/><line x1="211.00" y1="188" x2="211.00" y2="186.5" stroke="#333" stroke-width="0.9"/><line x1="225.00" y1="188" x2="225.00" y2="185.8" stroke="#333" stroke-width="0.9"/><line x1="239.00" y1="188" x2="239.00" y2="186.5" stroke="#333" stroke-width="0.9"/><line x1="253.00" y1="188" x2="253.00" y2="185.8" stroke="#333" stroke-width="0.9"/>
<text x="29.00" y="198" text-anchor="middle" class="tl">10</text><text x="57.00" y="198" text-anchor="middle" class="tl">20</text><text x="85.00" y="198" text-anchor="middle" class="tl">30</text><text x="113.00" y="198" text-anchor="middle" class="tl">40</text><text x="141.00" y="198" text-anchor="middle" class="tl">50</text><text x="169.00" y="198" text-anchor="middle" class="tl">60</text><text x="197.00" y="198" text-anchor="middle" class="tl">70</text><text x="225.00" y="198" text-anchor="middle" class="tl">80</text><text x="253.00" y="198" text-anchor="middle" class="tl">90</text>
<text x="141" y="212.6" text-anchor="middle" class="ax" style="font-size:9.1px">2 Theta (degree)</text>
<text transform="translate(14,112) rotate(-90)" text-anchor="middle" class="ax">Intensity (arb.unit)</text>
<circle cx="99.9" cy="31.4" r="2.6" fill="#e8141c"/>
<text x="106.3" y="36" style="font-family:'Liberation Serif',serif;font-size:10.8px;font-weight:bold;fill:#111;stroke:#111;stroke-width:0.2">(1 1 1)</text>
<line x1="110" y1="26.3" x2="115.3" y2="26.3" stroke="#222" stroke-width="0.7"/>
<text x="246" y="44.8" text-anchor="end" class="lab" fill="#5f7240" stroke="#5f7240">400 ℃</text>
<text x="246" y="78.5" text-anchor="end" class="lab" fill="#a8a93a" stroke="#a8a93a">300 ℃</text>
<text x="246" y="112.3" text-anchor="end" class="lab" fill="#f5c94e" stroke="#f5c94e">200 ℃</text>
<text x="246" y="143.3" text-anchor="end" class="lab" fill="#f2a52b" stroke="#f2a52b">100 ℃</text>
<text x="240" y="174.6" text-anchor="end" class="lab" fill="#f47d7d" stroke="#f47d7d">R.T</text>
<!-- AFM -->
<clipPath id="clipB"><polygon points="331.3,130.8 332.5,130.3 333.6,129.1 334.8,127.5 336.0,125.4 337.2,126.0 338.3,124.6 339.5,124.2 340.7,123.3 341.8,122.5 343.0,121.5 344.2,119.6 345.4,119.0 346.5,118.7 347.7,116.7 348.9,117.0 350.0,115.1 351.2,112.9 352.4,112.3 353.6,112.1 354.7,112.0 355.9,110.7 357.1,109.4 358.3,108.3 359.4,107.4 360.6,106.4 361.8,106.5 362.9,104.4 364.1,104.0 365.3,103.7 366.5,101.8 367.6,101.4 368.8,100.0 370.0,98.5 371.1,98.3 372.3,97.4 373.5,97.0 374.7,94.8 375.8,93.9 377.0,93.8 378.2,92.9 379.3,92.1 380.5,91.0 381.7,89.9 382.9,89.1 384.0,88.4 385.2,86.9 386.4,85.6 387.5,84.5 388.7,84.0 389.9,82.7 391.1,82.2 392.2,81.4 393.4,80.4 394.6,79.7 395.8,77.8 396.9,77.7 398.1,76.3 399.3,75.3 400.4,73.8 401.6,73.5 402.8,72.6 404.0,71.8 405.1,70.7 406.3,69.4 407.5,68.2 408.6,67.2 409.8,66.0 411.0,64.7 412.2,65.1 413.3,63.7 414.5,63.1 415.9,63.3 417.3,63.2 418.8,64.6 420.2,65.4 421.6,65.8 423.0,66.3 424.5,66.6 425.9,66.8 427.3,67.4 428.7,68.1 430.2,68.9 431.6,68.7 433.0,69.3 434.4,70.2 435.8,71.3 437.3,70.4 438.7,71.3 440.1,72.5 441.5,73.3 443.0,72.5 444.4,73.2 445.8,73.8 447.2,74.9 448.7,75.9 450.1,75.9 451.5,76.8 452.9,76.7 454.3,76.9 455.8,77.3 457.2,78.2 458.6,78.5 460.0,80.0 461.5,79.8 462.9,80.4 464.3,81.6 465.7,81.2 467.2,82.5 468.6,83.0 470.0,83.5 471.4,83.8 472.9,84.7 474.3,85.0 475.7,85.2 477.1,85.0 478.5,85.9 480.0,85.8 481.4,87.4 482.8,87.5 484.2,88.5 485.7,89.3 487.1,89.0 488.5,90.4 489.9,90.0 491.4,90.8 492.8,91.7 494.2,91.9 495.6,90.9 497.0,93.5 498.5,92.7 499.9,94.1 501.3,94.6 502.7,94.4 504.2,96.0 505.6,95.8 507.0,97.0 508.4,97.6 509.9,95.7 511.3,97.6 512.7,98.3 514.1,99.4 515.5,98.9 517.0,99.5 518.4,99.9 519.8,101.5 521.2,101.6 522.7,102.3 524.1,102.1 525.5,102.0 526.9,103.7 528.4,104.6 529.8,104.2 531.2,104.8 530.0,106.4 528.9,105.5 527.7,108.5 526.5,109.3 525.3,110.1 524.2,110.3 523.0,112.0 521.8,112.3 520.7,113.2 519.5,115.0 518.3,116.0 517.1,116.5 516.0,117.5 514.8,118.8 513.6,119.7 512.5,120.3 511.3,121.7 510.1,122.4 508.9,121.5 507.8,124.8 506.6,124.7 505.4,125.8 504.2,127.1 503.1,127.8 501.9,128.7 500.7,130.1 499.6,131.0 498.4,131.2 497.2,132.3 496.0,133.1 494.9,134.0 493.7,135.7 492.5,136.4 491.4,138.1 490.2,138.3 489.0,138.8 487.8,140.7 486.7,141.4 485.5,142.7 484.3,142.7 483.2,144.6 482.0,145.6 480.8,146.1 479.6,147.3 478.5,148.6 477.3,149.7 476.1,150.4 475.0,150.7 473.8,152.6 472.6,153.0 471.4,153.6 470.3,154.8 469.1,155.9 467.9,157.2 466.7,157.8 465.6,158.2 464.4,159.5 463.2,161.0 462.1,161.7 460.9,162.4 459.7,163.9 458.5,164.3 457.4,164.8 456.2,166.7 455.0,166.7 453.9,167.9 452.7,169.4 451.5,169.2 450.3,170.8 449.2,172.3 448.0,173.3 446.6,171.8 445.2,171.7 443.7,171.0 442.3,170.7 440.9,169.9 439.5,169.3 438.0,169.5 436.6,168.3 435.2,168.1 433.8,167.1 432.3,167.6 430.9,167.0 429.5,166.7 428.1,165.4 426.7,164.7 425.2,164.3 423.8,164.0 422.4,163.3 421.0,163.4 419.5,162.3 418.1,162.7 416.7,161.8 415.3,161.3 413.8,160.5 412.4,159.7 411.0,159.5 409.6,158.5 408.2,158.6 406.7,158.1 405.3,157.5 403.9,156.7 402.5,156.3 401.0,156.4 399.6,154.8 398.2,152.5 396.8,153.7 395.3,153.5 393.9,153.0 392.5,152.4 391.1,152.7 389.6,151.2 388.2,151.7 386.8,151.0 385.4,150.4 384.0,150.0 382.5,149.8 381.1,148.2 379.7,148.6 378.3,147.5 376.8,147.5 375.4,146.0 374.0,146.0 372.6,145.9 371.1,145.0 369.7,144.7 368.3,144.2 366.9,142.9 365.5,142.3 364.0,142.0 362.6,142.2 361.2,141.5 359.8,141.3 358.3,140.6 356.9,140.2 355.5,139.5 354.1,139.4 352.6,137.6 351.2,138.2 349.8,137.8 348.4,136.9 347.0,135.6 345.5,135.1 344.1,135.0 342.7,135.3 341.3,134.1 339.8,133.3 338.4,132.7 337.0,133.0 335.6,131.9 334.1,131.9 332.7,131.0"/></clipPath>
<filter id="fB" x="0" y="0" width="1" height="1" color-interpolation-filters="sRGB">
<feTurbulence type="fractalNoise" baseFrequency="0.3" numOctaves="2" seed="5" result="t"/>
<feColorMatrix in="t" type="matrix" values="0 0 0 0 0  0 0 0 0 0  0 0 0 0 0  1.4 0 0 0 -0.2" result="h"/>
<feDiffuseLighting in="h" surfaceScale="1.5" diffuseConstant="1" lighting-color="#fff" result="lit"><feDistantLight azimuth="250" elevation="45"/></feDiffuseLighting>
<feColorMatrix in="t" type="matrix" values="1.4 0 0 0 -0.2  1.4 0 0 0 -0.2  1.4 0 0 0 -0.2  0 0 0 0 1" result="g"/>
<feComposite in="g" in2="lit" operator="arithmetic" k1="0" k2="0.6" k3="0.25" k4="-0.12" result="val"/>
<feComponentTransfer in="val"><feFuncR type="table" tableValues="0.30 0.39 0.48 0.57 0.67 0.80"/><feFuncG type="table" tableValues="0.09 0.14 0.21 0.30 0.43 0.60"/><feFuncB type="table" tableValues="0.02 0.02 0.02 0.05 0.13 0.3"/><feFuncA type="table" tableValues="1 1"/></feComponentTransfer>
</filter>
<g clip-path="url(#clipB)"><rect x="327.3" y="53.5" width="207.9" height="124.5" filter="url(#fB)"/>

<path d="M465.3,100.8 C466.0,99.8 466.3,98.6 466.8,98.6 C467.3,98.6 467.6,99.8 468.2,100.8Z" fill="url(#pkg)" opacity="0.9"/>
<path d="M395.7,146.0 C396.5,144.7 396.8,143.1 397.5,143.1 C398.1,143.1 398.5,144.7 399.3,146.0Z" fill="url(#pkg)" opacity="0.9"/>
<path d="M504.9,97.2 C505.7,96.0 506.1,94.4 506.7,94.4 C507.3,94.4 507.7,96.0 508.5,97.2Z" fill="url(#pkg)" opacity="0.9"/>
<path d="M412.5,104.7 C413.2,103.5 413.6,102.1 414.1,102.1 C414.7,102.1 415.0,103.5 415.8,104.7Z" fill="url(#pkg)" opacity="0.9"/>
<path d="M386.4,100.8 C387.4,99.2 387.8,97.3 388.6,97.3 C389.4,97.3 389.8,99.2 390.8,100.8Z" fill="url(#pkg)" opacity="0.9"/>
<path d="M515.0,102.9 C515.8,101.7 516.1,100.3 516.7,100.3 C517.2,100.3 517.6,101.7 518.3,102.9Z" fill="url(#pkg)" opacity="0.9"/>
<path d="M368.2,134.7 C368.9,133.4 369.3,131.9 369.9,131.9 C370.5,131.9 370.8,133.4 371.6,134.7Z" fill="url(#pkg)" opacity="0.9"/>
<path d="M442.7,149.8 C443.8,148.2 444.2,146.3 445.0,146.3 C445.8,146.3 446.3,148.2 447.3,149.8Z" fill="url(#pkg)" opacity="0.9"/>
<path d="M429.1,148.1 C430.0,146.7 430.4,145.0 431.1,145.0 C431.8,145.0 432.2,146.7 433.1,148.1Z" fill="url(#pkg)" opacity="0.9"/>
<path d="M503.2,102.9 C503.8,101.9 504.1,100.8 504.6,100.8 C505.0,100.8 505.3,101.9 505.9,102.9Z" fill="url(#pkg)" opacity="0.9"/>
<path d="M490.3,113.7 C491.0,112.6 491.3,111.4 491.8,111.4 C492.3,111.4 492.6,112.6 493.2,113.7Z" fill="url(#pkg)" opacity="0.9"/>
<path d="M443.7,78.9 C444.4,77.8 444.7,76.4 445.3,76.4 C445.9,76.4 446.2,77.8 446.9,78.9Z" fill="url(#pkg)" opacity="0.9"/>
<path d="M423.6,94.8 C424.2,93.9 424.5,92.7 424.9,92.7 C425.4,92.7 425.7,93.9 426.2,94.8Z" fill="url(#pkg)" opacity="0.9"/>
<path d="M415.6,127.7 C416.5,126.4 416.8,124.7 417.5,124.7 C418.1,124.7 418.5,126.4 419.3,127.7Z" fill="url(#pkg)" opacity="0.9"/>
<path d="M453.2,113.6 C454.0,112.4 454.4,110.9 455.0,110.9 C455.6,110.9 455.9,112.4 456.7,113.6Z" fill="url(#pkg)" opacity="0.9"/>
<path d="M502.0,112.4 C503.0,110.7 503.5,108.6 504.3,108.6 C505.2,108.6 505.6,110.7 506.7,112.4Z" fill="url(#pkg)" opacity="0.9"/>
<path d="M442.4,100.8 C443.1,99.6 443.5,98.1 444.1,98.1 C444.7,98.1 445.0,99.6 445.8,100.8Z" fill="url(#pkg)" opacity="0.9"/>
<path d="M415.7,99.0 C416.8,97.3 417.2,95.2 418.1,95.2 C418.9,95.2 419.4,97.3 420.5,99.0Z" fill="url(#pkg)" opacity="0.9"/>
<path d="M447.4,146.3 C448.1,145.3 448.4,144.0 448.9,144.0 C449.4,144.0 449.7,145.3 450.3,146.3Z" fill="url(#pkg)" opacity="0.9"/>
<path d="M477.7,116.3 C478.8,114.7 479.2,112.7 480.0,112.7 C480.8,112.7 481.3,114.7 482.3,116.3Z" fill="url(#pkg)" opacity="0.9"/>
<path d="M418.4,79.1 C419.1,77.9 419.5,76.4 420.1,76.4 C420.7,76.4 421.0,77.9 421.8,79.1Z" fill="url(#pkg)" opacity="0.9"/>
<path d="M389.3,119.8 C390.4,118.0 390.9,115.9 391.8,115.9 C392.6,115.9 393.1,118.0 394.2,119.8Z" fill="url(#pkg)" opacity="0.9"/>
<path d="M448.3,166.4 C449.0,165.3 449.3,164.0 449.8,164.0 C450.4,164.0 450.7,165.3 451.4,166.4Z" fill="url(#pkg)" opacity="0.9"/>
<path d="M417.0,159.7 C417.6,158.8 417.8,157.8 418.2,157.8 C418.6,157.8 418.9,158.8 419.4,159.7Z" fill="url(#pkg)" opacity="0.9"/>
<path d="M407.2,74.4 C407.9,73.2 408.2,71.9 408.8,71.9 C409.3,71.9 409.7,73.2 410.4,74.4Z" fill="url(#pkg)" opacity="0.9"/>
<path d="M432.9,91.1 C433.6,90.0 434.0,88.6 434.5,88.6 C435.1,88.6 435.4,90.0 436.1,91.1Z" fill="url(#pkg)" opacity="0.9"/>
<path d="M446.7,137.8 C447.4,136.7 447.7,135.3 448.2,135.3 C448.7,135.3 449.0,136.7 449.7,137.8Z" fill="url(#pkg)" opacity="0.9"/>
<path d="M389.2,136.5 C389.8,135.6 390.0,134.6 390.5,134.6 C390.9,134.6 391.2,135.6 391.7,136.5Z" fill="url(#pkg)" opacity="0.9"/>
<path d="M503.5,109.5 C504.3,108.2 504.6,106.7 505.2,106.7 C505.8,106.7 506.2,108.2 507.0,109.5Z" fill="url(#pkg)" opacity="0.9"/>
<path d="M481.7,102.1 C482.5,100.9 482.8,99.5 483.4,99.5 C484.0,99.5 484.3,100.9 485.1,102.1Z" fill="url(#pkg)" opacity="0.9"/>
<path d="M475.9,110.4 C476.5,109.5 476.7,108.5 477.2,108.5 C477.6,108.5 477.9,109.5 478.4,110.4Z" fill="url(#pkg)" opacity="0.9"/>
<path d="M407.8,86.3 C408.7,84.9 409.1,83.1 409.9,83.1 C410.6,83.1 411.0,84.9 411.9,86.3Z" fill="url(#pkg)" opacity="0.9"/>
<path d="M419.5,83.2 C420.5,81.6 420.9,79.7 421.7,79.7 C422.5,79.7 422.9,81.6 423.9,83.2Z" fill="url(#pkg)" opacity="0.9"/>
<path d="M397.2,122.5 C397.7,121.6 398.0,120.5 398.4,120.5 C398.9,120.5 399.2,121.6 399.7,122.5Z" fill="url(#pkg)" opacity="0.9"/>
<path d="M390.6,143.0 C391.4,141.6 391.8,140.0 392.4,140.0 C393.1,140.0 393.4,141.6 394.3,143.0Z" fill="url(#pkg)" opacity="0.9"/>
<path d="M451.4,118.5 C451.9,117.6 452.2,116.5 452.6,116.5 C453.0,116.5 453.3,117.6 453.8,118.5Z" fill="url(#pkg)" opacity="0.9"/>
<path d="M465.1,106.8 C465.7,105.8 466.0,104.7 466.4,104.7 C466.9,104.7 467.2,105.8 467.8,106.8Z" fill="url(#pkg)" opacity="0.9"/>
<path d="M467.5,101.1 C468.1,100.1 468.4,98.9 468.9,98.9 C469.4,98.9 469.7,100.1 470.3,101.1Z" fill="url(#pkg)" opacity="0.9"/>
<path d="M516.7,104.2 C517.6,102.7 518.0,100.9 518.8,100.9 C519.5,100.9 519.9,102.7 520.8,104.2Z" fill="url(#pkg)" opacity="0.9"/>
<path d="M453.7,150.1 C454.6,148.6 455.0,146.9 455.7,146.9 C456.4,146.9 456.8,148.6 457.7,150.1Z" fill="url(#pkg)" opacity="0.9"/>
<path d="M440.9,167.8 C441.9,166.2 442.3,164.3 443.1,164.3 C443.9,164.3 444.3,166.2 445.3,167.8Z" fill="url(#pkg)" opacity="0.9"/>
<path d="M423.6,87.1 C424.5,85.7 424.9,83.9 425.6,83.9 C426.3,83.9 426.7,85.7 427.6,87.1Z" fill="url(#pkg)" opacity="0.9"/>
<path d="M456.5,138.3 C457.2,137.1 457.6,135.6 458.2,135.6 C458.8,135.6 459.2,137.1 459.9,138.3Z" fill="url(#pkg)" opacity="0.9"/>
<path d="M443.7,165.9 C444.4,165.0 444.6,163.8 445.1,163.8 C445.6,163.8 445.8,165.0 446.4,165.9Z" fill="url(#pkg)" opacity="0.9"/>
<path d="M519.5,110.7 C520.1,109.8 520.3,108.6 520.8,108.6 C521.3,108.6 521.5,109.8 522.1,110.7Z" fill="url(#pkg)" opacity="0.9"/>
<path d="M464.7,154.8 C465.7,153.2 466.2,151.1 467.0,151.1 C467.8,151.1 468.3,153.2 469.3,154.8Z" fill="url(#pkg)" opacity="0.9"/>
<path d="M437.7,168.3 C438.2,167.5 438.5,166.5 438.9,166.5 C439.3,166.5 439.5,167.5 440.0,168.3Z" fill="url(#pkg)" opacity="0.9"/>
<path d="M444.7,82.1 C445.7,80.5 446.2,78.6 446.9,78.6 C447.7,78.6 448.1,80.5 449.1,82.1Z" fill="url(#pkg)" opacity="0.9"/>
<path d="M446.3,89.6 C447.0,88.5 447.3,87.2 447.8,87.2 C448.4,87.2 448.7,88.5 449.4,89.6Z" fill="url(#pkg)" opacity="0.9"/>
<path d="M385.3,133.3 C386.4,131.6 386.8,129.5 387.7,129.5 C388.5,129.5 389.0,131.6 390.1,133.3Z" fill="url(#pkg)" opacity="0.9"/>
<path d="M462.1,134.2 C462.7,133.1 463.0,131.9 463.6,131.9 C464.1,131.9 464.4,133.1 465.0,134.2Z" fill="url(#pkg)" opacity="0.9"/>
<path d="M475.6,145.6 C476.3,144.6 476.5,143.3 477.0,143.3 C477.5,143.3 477.8,144.6 478.5,145.6Z" fill="url(#pkg)" opacity="0.9"/>
<path d="M438.5,100.6 C439.5,99.1 439.9,97.2 440.7,97.2 C441.4,97.2 441.9,99.1 442.9,100.6Z" fill="url(#pkg)" opacity="0.9"/>
<path d="M420.7,71.8 C421.6,70.4 422.0,68.6 422.7,68.6 C423.4,68.6 423.8,70.4 424.8,71.8Z" fill="url(#pkg)" opacity="0.9"/>
<path d="M405.8,77.2 C406.9,75.5 407.4,73.4 408.3,73.4 C409.1,73.4 409.6,75.5 410.7,77.2Z" fill="url(#pkg)" opacity="0.9"/>
<path d="M428.1,166.4 C428.9,165.2 429.3,163.6 429.9,163.6 C430.5,163.6 430.9,165.2 431.6,166.4Z" fill="url(#pkg)" opacity="0.9"/>
<path d="M472.1,96.2 C472.9,94.9 473.3,93.3 473.9,93.3 C474.6,93.3 474.9,94.9 475.7,96.2Z" fill="url(#pkg)" opacity="0.9"/>
<path d="M415.6,71.3 C416.7,69.6 417.2,67.5 418.0,67.5 C418.8,67.5 419.3,69.6 420.4,71.3Z" fill="url(#pkg)" opacity="0.9"/>
<path d="M390.2,148.5 C391.2,146.9 391.7,145.0 392.5,145.0 C393.3,145.0 393.7,146.9 394.7,148.5Z" fill="url(#pkg)" opacity="0.9"/>
<path d="M497.5,97.0 C498.0,96.2 498.3,95.2 498.7,95.2 C499.1,95.2 499.3,96.2 499.8,97.0Z" fill="url(#pkg)" opacity="0.9"/>
<path d="M404.5,130.7 C405.0,129.8 405.3,128.7 405.7,128.7 C406.2,128.7 406.4,129.8 407.0,130.7Z" fill="url(#pkg)" opacity="0.9"/>
<path d="M444.3,139.5 C444.8,138.7 445.1,137.7 445.5,137.7 C445.9,137.7 446.1,138.7 446.7,139.5Z" fill="url(#pkg)" opacity="0.9"/>
<path d="M412.0,82.4 C412.9,81.0 413.3,79.3 414.0,79.3 C414.6,79.3 415.0,81.0 415.9,82.4Z" fill="url(#pkg)" opacity="0.9"/>
<path d="M413.0,93.3 C413.6,92.4 413.8,91.2 414.3,91.2 C414.8,91.2 415.0,92.4 415.6,93.3Z" fill="url(#pkg)" opacity="0.9"/>
<path d="M463.2,115.6 C463.7,114.8 464.0,113.8 464.4,113.8 C464.8,113.8 465.0,114.8 465.5,115.6Z" fill="url(#pkg)" opacity="0.9"/>
<path d="M449.3,103.8 C450.2,102.3 450.7,100.5 451.4,100.5 C452.2,100.5 452.6,102.3 453.6,103.8Z" fill="url(#pkg)" opacity="0.9"/>
<path d="M485.1,101.3 C486.1,99.8 486.5,97.9 487.3,97.9 C488.0,97.9 488.5,99.8 489.4,101.3Z" fill="url(#pkg)" opacity="0.9"/>
<path d="M472.2,142.5 C472.8,141.6 473.0,140.6 473.4,140.6 C473.8,140.6 474.1,141.6 474.6,142.5Z" fill="url(#pkg)" opacity="0.9"/>
<path d="M375.2,119.6 C375.7,118.8 375.9,117.7 376.4,117.7 C376.8,117.7 377.0,118.8 377.6,119.6Z" fill="url(#pkg)" opacity="0.9"/>
<path d="M385.6,100.8 C386.3,99.8 386.6,98.5 387.1,98.5 C387.6,98.5 387.9,99.8 388.6,100.8Z" fill="url(#pkg)" opacity="0.9"/>
<path d="M424.0,93.2 C425.1,91.6 425.5,89.6 426.3,89.6 C427.1,89.6 427.6,91.6 428.6,93.2Z" fill="url(#pkg)" opacity="0.9"/>
<path d="M460.7,142.9 C461.6,141.5 462.0,139.6 462.7,139.6 C463.5,139.6 463.9,141.5 464.8,142.9Z" fill="url(#pkg)" opacity="0.9"/>
<path d="M441.9,157.5 C442.5,156.5 442.8,155.2 443.3,155.2 C443.8,155.2 444.1,156.5 444.7,157.5Z" fill="url(#pkg)" opacity="0.9"/>
<path d="M427.6,141.0 C428.2,140.0 428.5,138.8 429.0,138.8 C429.5,138.8 429.8,140.0 430.4,141.0Z" fill="url(#pkg)" opacity="0.9"/>
<path d="M373.8,146.0 C374.6,144.8 374.9,143.3 375.5,143.3 C376.1,143.3 376.5,144.8 377.2,146.0Z" fill="url(#pkg)" opacity="0.9"/>
<path d="M355.7,116.9 C356.4,115.9 356.7,114.6 357.2,114.6 C357.7,114.6 358.0,115.9 358.6,116.9Z" fill="url(#pkg)" opacity="0.9"/>
<path d="M378.4,137.0 C379.2,135.7 379.6,134.2 380.2,134.2 C380.8,134.2 381.2,135.7 381.9,137.0Z" fill="url(#pkg)" opacity="0.9"/>
<path d="M437.4,137.7 C438.5,136.0 438.9,133.9 439.8,133.9 C440.6,133.9 441.1,136.0 442.1,137.7Z" fill="url(#pkg)" opacity="0.9"/>
<path d="M455.9,147.2 C456.4,146.4 456.7,145.3 457.1,145.3 C457.5,145.3 457.8,146.4 458.3,147.2Z" fill="url(#pkg)" opacity="0.9"/>
<path d="M439.3,147.8 C440.0,146.7 440.4,145.3 440.9,145.3 C441.5,145.3 441.8,146.7 442.5,147.8Z" fill="url(#pkg)" opacity="0.9"/>
<path d="M480.5,88.2 C481.2,87.1 481.5,85.8 482.0,85.8 C482.6,85.8 482.9,87.1 483.6,88.2Z" fill="url(#pkg)" opacity="0.9"/>
<path d="M436.1,108.7 C437.1,107.3 437.5,105.5 438.2,105.5 C438.9,105.5 439.3,107.3 440.2,108.7Z" fill="url(#pkg)" opacity="0.9"/>
<path d="M403.7,100.0 C404.6,98.7 404.9,97.1 405.6,97.1 C406.2,97.1 406.6,98.7 407.5,100.0Z" fill="url(#pkg)" opacity="0.9"/>
<path d="M416.4,151.7 C417.0,150.7 417.3,149.6 417.7,149.6 C418.2,149.6 418.4,150.7 419.0,151.7Z" fill="url(#pkg)" opacity="0.9"/>
<path d="M511.2,117.1 C512.2,115.5 512.7,113.6 513.5,113.6 C514.3,113.6 514.7,115.5 515.7,117.1Z" fill="url(#pkg)" opacity="0.9"/>
<path d="M518.6,105.9 C519.3,104.7 519.7,103.2 520.2,103.2 C520.8,103.2 521.2,104.7 521.9,105.9Z" fill="url(#pkg)" opacity="0.9"/>
<path d="M470.8,119.9 C471.6,118.6 472.0,116.9 472.7,116.9 C473.3,116.9 473.7,118.6 474.6,119.9Z" fill="url(#pkg)" opacity="0.9"/>
<path d="M434.9,138.7 C435.9,137.0 436.4,135.0 437.2,135.0 C438.0,135.0 438.4,137.0 439.4,138.7Z" fill="url(#pkg)" opacity="0.9"/>
<path d="M390.0,138.7 C390.5,137.9 390.7,136.9 391.1,136.9 C391.5,136.9 391.8,137.9 392.3,138.7Z" fill="url(#pkg)" opacity="0.9"/>
<path d="M422.8,142.9 C423.8,141.2 424.3,139.1 425.2,139.1 C426.0,139.1 426.5,141.2 427.6,142.9Z" fill="url(#pkg)" opacity="0.9"/>
<path d="M377.9,118.3 C379.0,116.5 379.5,114.4 380.4,114.4 C381.2,114.4 381.7,116.5 382.8,118.3Z" fill="url(#pkg)" opacity="0.9"/>
<path d="M466.5,90.9 C467.5,89.3 467.9,87.5 468.7,87.5 C469.4,87.5 469.9,89.3 470.9,90.9Z" fill="url(#pkg)" opacity="0.9"/>
<path d="M361.5,121.9 C362.2,120.7 362.6,119.3 363.2,119.3 C363.7,119.3 364.1,120.7 364.8,121.9Z" fill="url(#pkg)" opacity="0.9"/>
<path d="M460.1,146.2 C460.9,145.0 461.3,143.5 461.9,143.5 C462.5,143.5 462.9,145.0 463.7,146.2Z" fill="url(#pkg)" opacity="0.9"/>
<path d="M412.2,129.8 C413.2,128.3 413.7,126.4 414.4,126.4 C415.2,126.4 415.6,128.3 416.6,129.8Z" fill="url(#pkg)" opacity="0.9"/>
<path d="M354.3,118.5 C355.3,116.9 355.7,114.9 356.5,114.9 C357.3,114.9 357.7,116.9 358.7,118.5Z" fill="url(#pkg)" opacity="0.9"/>
<path d="M444.2,122.9 C444.9,121.7 445.2,120.3 445.8,120.3 C446.4,120.3 446.7,121.7 447.4,122.9Z" fill="url(#pkg)" opacity="0.9"/>
<path d="M382.0,106.0 C383.1,104.2 383.6,102.1 384.5,102.1 C385.4,102.1 385.8,104.2 386.9,106.0Z" fill="url(#pkg)" opacity="0.9"/>
<path d="M446.3,117.6 C447.4,115.8 447.9,113.7 448.7,113.7 C449.6,113.7 450.1,115.8 451.2,117.6Z" fill="url(#pkg)" opacity="0.9"/>
<path d="M515.4,101.2 C516.4,99.5 516.9,97.4 517.8,97.4 C518.6,97.4 519.1,99.5 520.2,101.2Z" fill="url(#pkg)" opacity="0.9"/>
<path d="M432.6,139.1 C433.5,137.7 433.9,136.0 434.6,136.0 C435.3,136.0 435.7,137.7 436.6,139.1Z" fill="url(#pkg)" opacity="0.9"/>
<path d="M438.1,91.2 C438.7,90.2 438.9,89.1 439.4,89.1 C439.9,89.1 440.1,90.2 440.7,91.2Z" fill="url(#pkg)" opacity="0.9"/>
<path d="M453.5,94.0 C454.3,92.7 454.6,91.2 455.2,91.2 C455.8,91.2 456.2,92.7 457.0,94.0Z" fill="url(#pkg)" opacity="0.9"/>
<path d="M408.1,150.4 C408.8,149.3 409.1,148.0 409.6,148.0 C410.1,148.0 410.5,149.3 411.1,150.4Z" fill="url(#pkg)" opacity="0.9"/>
<path d="M495.7,127.4 C496.5,126.2 496.8,124.8 497.3,124.8 C497.9,124.8 498.2,126.2 499.0,127.4Z" fill="url(#pkg)" opacity="0.9"/>
<path d="M453.9,100.8 C454.9,99.2 455.3,97.3 456.1,97.3 C456.9,97.3 457.3,99.2 458.3,100.8Z" fill="url(#pkg)" opacity="0.9"/>
<path d="M450.6,147.0 C451.2,146.0 451.5,144.7 452.0,144.7 C452.5,144.7 452.8,146.0 453.5,147.0Z" fill="url(#pkg)" opacity="0.9"/>
<path d="M447.8,122.8 C448.6,121.4 449.0,119.8 449.7,119.8 C450.3,119.8 450.7,121.4 451.6,122.8Z" fill="url(#pkg)" opacity="0.9"/>
<path d="M380.7,119.0 C381.7,117.4 382.1,115.6 382.9,115.6 C383.6,115.6 384.0,117.4 385.0,119.0Z" fill="url(#pkg)" opacity="0.9"/>
<path d="M434.9,95.2 C435.5,94.4 435.7,93.3 436.1,93.3 C436.6,93.3 436.8,94.4 437.3,95.2Z" fill="url(#pkg)" opacity="0.9"/>
<path d="M457.8,157.8 C458.6,156.5 459.0,155.0 459.6,155.0 C460.2,155.0 460.6,156.5 461.4,157.8Z" fill="url(#pkg)" opacity="0.9"/>
<path d="M458.4,153.4 C459.1,152.4 459.4,151.1 459.9,151.1 C460.4,151.1 460.7,152.4 461.3,153.4Z" fill="url(#pkg)" opacity="0.9"/>
<path d="M519.7,111.9 C520.6,110.6 520.9,109.0 521.6,109.0 C522.2,109.0 522.6,110.6 523.4,111.9Z" fill="url(#pkg)" opacity="0.9"/>
<path d="M387.3,93.0 C387.9,91.9 388.2,90.6 388.7,90.6 C389.2,90.6 389.5,91.9 390.2,93.0Z" fill="url(#pkg)" opacity="0.9"/>
<path d="M431.9,77.2 C432.7,75.8 433.1,74.1 433.8,74.1 C434.5,74.1 434.9,75.8 435.8,77.2Z" fill="url(#pkg)" opacity="0.9"/>
<path d="M386.7,146.1 C387.4,144.9 387.8,143.5 388.3,143.5 C388.9,143.5 389.2,144.9 390.0,146.1Z" fill="url(#pkg)" opacity="0.9"/>
<path d="M455.7,147.6 C456.4,146.5 456.8,145.2 457.3,145.2 C457.9,145.2 458.2,146.5 458.9,147.6Z" fill="url(#pkg)" opacity="0.9"/>
<path d="M421.2,140.1 C422.1,138.8 422.4,137.2 423.1,137.2 C423.8,137.2 424.1,138.8 425.0,140.1Z" fill="url(#pkg)" opacity="0.9"/>
<path d="M443.1,144.7 C443.9,143.4 444.2,141.9 444.9,141.9 C445.5,141.9 445.8,143.4 446.6,144.7Z" fill="url(#pkg)" opacity="0.9"/>
<path d="M427.3,131.3 C428.0,130.3 428.3,129.0 428.8,129.0 C429.3,129.0 429.6,130.3 430.2,131.3Z" fill="url(#pkg)" opacity="0.9"/>
<path d="M389.3,97.9 C390.4,96.2 390.9,94.1 391.7,94.1 C392.5,94.1 393.0,96.2 394.1,97.9Z" fill="url(#pkg)" opacity="0.9"/>
<path d="M403.1,73.4 C404.2,71.7 404.7,69.6 405.5,69.6 C406.4,69.6 406.8,71.7 407.9,73.4Z" fill="url(#pkg)" opacity="0.9"/>
<path d="M473.0,88.7 C474.0,87.3 474.4,85.5 475.1,85.5 C475.8,85.5 476.3,87.3 477.2,88.7Z" fill="url(#pkg)" opacity="0.9"/>
<path d="M431.7,123.1 C432.5,121.9 432.9,120.4 433.5,120.4 C434.1,120.4 434.5,121.9 435.3,123.1Z" fill="url(#pkg)" opacity="0.9"/>
<path d="M428.3,144.5 C429.2,143.1 429.7,141.2 430.4,141.2 C431.1,141.2 431.6,143.1 432.5,144.5Z" fill="url(#pkg)" opacity="0.9"/>
<path d="M442.3,106.5 C443.4,104.8 443.9,102.7 444.7,102.7 C445.6,102.7 446.0,104.8 447.1,106.5Z" fill="url(#pkg)" opacity="0.9"/>
<path d="M390.6,114.0 C391.3,112.9 391.6,111.6 392.1,111.6 C392.6,111.6 392.9,112.9 393.6,114.0Z" fill="url(#pkg)" opacity="0.9"/>
<path d="M387.2,91.4 C388.1,90.0 388.5,88.3 389.2,88.3 C389.9,88.3 390.3,90.0 391.2,91.4Z" fill="url(#pkg)" opacity="0.9"/>
<path d="M496.3,133.1 C497.0,131.9 497.4,130.5 497.9,130.5 C498.5,130.5 498.9,131.9 499.6,133.1Z" fill="url(#pkg)" opacity="0.9"/>
<path d="M436.2,168.8 C436.9,167.7 437.2,166.3 437.7,166.3 C438.3,166.3 438.6,167.7 439.3,168.8Z" fill="url(#pkg)" opacity="0.9"/>
<path d="M430.9,152.5 C431.6,151.3 431.9,149.9 432.5,149.9 C433.1,149.9 433.4,151.3 434.1,152.5Z" fill="url(#pkg)" opacity="0.9"/>
<path d="M457.6,144.1 C458.3,143.1 458.6,141.8 459.1,141.8 C459.6,141.8 459.9,143.1 460.5,144.1Z" fill="url(#pkg)" opacity="0.9"/>
<path d="M439.4,164.1 C440.4,162.5 440.9,160.5 441.7,160.5 C442.5,160.5 442.9,162.5 444.0,164.1Z" fill="url(#pkg)" opacity="0.9"/>
<path d="M383.6,130.8 C384.4,129.5 384.8,127.9 385.4,127.9 C386.0,127.9 386.4,129.5 387.2,130.8Z" fill="url(#pkg)" opacity="0.9"/>
<path d="M465.8,86.4 C466.8,84.9 467.2,83.1 468.0,83.1 C468.7,83.1 469.2,84.9 470.1,86.4Z" fill="url(#pkg)" opacity="0.9"/>
<path d="M430.0,113.0 C430.7,111.9 431.0,110.5 431.5,110.5 C432.1,110.5 432.4,111.9 433.1,113.0Z" fill="url(#pkg)" opacity="0.9"/>
<path d="M475.8,147.0 C476.8,145.4 477.3,143.4 478.1,143.4 C478.9,143.4 479.4,145.4 480.4,147.0Z" fill="url(#pkg)" opacity="0.9"/>
<path d="M482.5,97.1 C483.2,95.9 483.5,94.5 484.1,94.5 C484.7,94.5 485.0,95.9 485.7,97.1Z" fill="url(#pkg)" opacity="0.9"/>
<path d="M408.4,124.1 C409.4,122.5 409.9,120.6 410.7,120.6 C411.4,120.6 411.9,122.5 412.9,124.1Z" fill="url(#pkg)" opacity="0.9"/>
<path d="M509.4,115.9 C510.2,114.7 510.5,113.2 511.1,113.2 C511.7,113.2 512.1,114.7 512.9,115.9Z" fill="url(#pkg)" opacity="0.9"/>
<path d="M487.0,117.1 C487.8,115.8 488.2,114.2 488.8,114.2 C489.4,114.2 489.8,115.8 490.6,117.1Z" fill="url(#pkg)" opacity="0.9"/>
<path d="M370.4,123.1 C371.4,121.6 371.8,119.8 372.5,119.8 C373.2,119.8 373.6,121.6 374.6,123.1Z" fill="url(#pkg)" opacity="0.9"/>
<path d="M398.9,101.8 C399.9,100.3 400.3,98.4 401.1,98.4 C401.9,98.4 402.3,100.3 403.3,101.8Z" fill="url(#pkg)" opacity="0.9"/>
<path d="M456.9,117.8 C457.5,116.8 457.8,115.5 458.3,115.5 C458.9,115.5 459.2,116.8 459.8,117.8Z" fill="url(#pkg)" opacity="0.9"/>
<path d="M346.9,134.3 C347.5,133.4 347.7,132.4 348.1,132.4 C348.5,132.4 348.8,133.4 349.3,134.3Z" fill="url(#pkg)" opacity="0.9"/>
<path d="M403.0,103.4 C403.8,102.2 404.1,100.7 404.7,100.7 C405.3,100.7 405.7,102.2 406.4,103.4Z" fill="url(#pkg)" opacity="0.9"/>
<path d="M378.5,119.6 C379.3,118.3 379.7,116.8 380.3,116.8 C380.9,116.8 381.3,118.3 382.1,119.6Z" fill="url(#pkg)" opacity="0.9"/>
<path d="M477.9,120.9 C478.5,120.0 478.7,119.0 479.1,119.0 C479.5,119.0 479.8,120.0 480.3,120.9Z" fill="url(#pkg)" opacity="0.9"/>
<path d="M400.7,139.3 C401.7,137.7 402.2,135.7 403.0,135.7 C403.8,135.7 404.2,137.7 405.2,139.3Z" fill="url(#pkg)" opacity="0.9"/>
<path d="M478.6,131.4 C479.6,129.9 480.0,128.0 480.7,128.0 C481.5,128.0 481.9,129.9 482.8,131.4Z" fill="url(#pkg)" opacity="0.9"/>
<path d="M477.9,105.1 C478.6,104.1 478.9,102.8 479.4,102.8 C479.9,102.8 480.2,104.1 480.9,105.1Z" fill="url(#pkg)" opacity="0.9"/>
<path d="M417.7,90.5 C418.8,88.8 419.3,86.7 420.2,86.7 C421.0,86.7 421.5,88.8 422.6,90.5Z" fill="url(#pkg)" opacity="0.9"/>
<path d="M403.5,102.7 C404.3,101.3 404.7,99.7 405.4,99.7 C406.0,99.7 406.4,101.3 407.2,102.7Z" fill="url(#pkg)" opacity="0.9"/>
<path d="M436.0,96.4 C436.6,95.4 436.9,94.3 437.3,94.3 C437.8,94.3 438.0,95.4 438.6,96.4Z" fill="url(#pkg)" opacity="0.9"/>
<path d="M408.1,118.0 C409.2,116.3 409.7,114.2 410.6,114.2 C411.4,114.2 411.9,116.3 413.0,118.0Z" fill="url(#pkg)" opacity="0.9"/>
<path d="M467.8,112.2 C469.0,110.5 469.4,108.3 470.3,108.3 C471.2,108.3 471.7,110.5 472.8,112.2Z" fill="url(#pkg)" opacity="0.9"/>
<path d="M406.7,100.1 C407.3,99.2 407.5,98.1 408.0,98.1 C408.4,98.1 408.7,99.2 409.3,100.1Z" fill="url(#pkg)" opacity="0.9"/>
<path d="M405.9,91.1 C406.9,89.5 407.4,87.5 408.2,87.5 C409.0,87.5 409.4,89.5 410.4,91.1Z" fill="url(#pkg)" opacity="0.9"/>
<path d="M451.5,119.1 C452.5,117.5 453.0,115.6 453.7,115.6 C454.5,115.6 454.9,117.5 455.9,119.1Z" fill="url(#pkg)" opacity="0.9"/>
<path d="M517.7,109.2 C518.7,107.6 519.1,105.7 519.9,105.7 C520.7,105.7 521.1,107.6 522.1,109.2Z" fill="url(#pkg)" opacity="0.9"/>
<path d="M444.0,97.8 C444.7,96.7 445.0,95.5 445.5,95.5 C446.0,95.5 446.3,96.7 446.9,97.8Z" fill="url(#pkg)" opacity="0.9"/>
<path d="M457.6,150.9 C458.7,149.2 459.2,147.0 460.1,147.0 C460.9,147.0 461.4,149.2 462.5,150.9Z" fill="url(#pkg)" opacity="0.9"/>
<path d="M386.9,126.4 C387.6,125.2 387.9,123.9 388.5,123.9 C389.0,123.9 389.4,125.2 390.1,126.4Z" fill="url(#pkg)" opacity="0.9"/>
<path d="M403.1,138.5 C403.8,137.4 404.1,136.2 404.6,136.2 C405.1,136.2 405.4,137.4 406.1,138.5Z" fill="url(#pkg)" opacity="0.9"/>
<path d="M510.6,105.8 C511.2,104.8 511.5,103.6 512.0,103.6 C512.4,103.6 512.7,104.8 513.3,105.8Z" fill="url(#pkg)" opacity="0.9"/>
<path d="M415.5,121.7 C416.5,120.1 417.0,118.2 417.7,118.2 C418.5,118.2 419.0,120.1 420.0,121.7Z" fill="url(#pkg)" opacity="0.9"/>
<path d="M440.1,131.8 C441.1,130.3 441.6,128.4 442.3,128.4 C443.1,128.4 443.5,130.3 444.5,131.8Z" fill="url(#pkg)" opacity="0.9"/>
<path d="M417.1,143.0 C418.1,141.4 418.6,139.5 419.3,139.5 C420.1,139.5 420.5,141.4 421.5,143.0Z" fill="url(#pkg)" opacity="0.9"/>
<path d="M457.4,91.0 C458.3,89.5 458.7,87.8 459.4,87.8 C460.1,87.8 460.5,89.5 461.5,91.0Z" fill="url(#pkg)" opacity="0.9"/>
<path d="M410.0,86.5 C410.8,85.1 411.2,83.4 411.9,83.4 C412.6,83.4 412.9,85.1 413.8,86.5Z" fill="url(#pkg)" opacity="0.9"/>
<path d="M427.4,126.0 C428.3,124.5 428.7,122.8 429.4,122.8 C430.1,122.8 430.5,124.5 431.4,126.0Z" fill="url(#pkg)" opacity="0.9"/>
<path d="M378.2,99.9 C379.3,98.2 379.8,96.2 380.6,96.2 C381.4,96.2 381.9,98.2 383.0,99.9Z" fill="url(#pkg)" opacity="0.9"/>
<path d="M364.9,130.9 C365.7,129.7 366.0,128.2 366.6,128.2 C367.2,128.2 367.5,129.7 368.3,130.9Z" fill="url(#pkg)" opacity="0.9"/>
<path d="M421.5,128.0 C422.3,126.7 422.6,125.2 423.3,125.2 C423.9,125.2 424.2,126.7 425.0,128.0Z" fill="url(#pkg)" opacity="0.9"/>
<path d="M474.8,106.3 C475.3,105.4 475.6,104.4 476.0,104.4 C476.4,104.4 476.7,105.4 477.2,106.3Z" fill="url(#pkg)" opacity="0.9"/>
<path d="M426.2,105.6 C426.7,104.8 427.0,103.8 427.4,103.8 C427.8,103.8 428.0,104.8 428.5,105.6Z" fill="url(#pkg)" opacity="0.9"/>
<path d="M493.6,128.3 C494.4,127.0 494.8,125.4 495.4,125.4 C496.0,125.4 496.4,127.0 497.2,128.3Z" fill="url(#pkg)" opacity="0.9"/>
<path d="M394.6,140.5 C395.2,139.7 395.4,138.6 395.9,138.6 C396.3,138.6 396.5,139.7 397.1,140.5Z" fill="url(#pkg)" opacity="0.9"/>
<path d="M485.5,97.6 C486.4,96.1 486.9,94.1 487.6,94.1 C488.4,94.1 488.9,96.1 489.8,97.6Z" fill="url(#pkg)" opacity="0.9"/>
<path d="M335.2,129.8 C336.0,128.5 336.4,126.9 337.0,126.9 C337.7,126.9 338.0,128.5 338.9,129.8Z" fill="url(#pkg)" opacity="0.9"/>
<path d="M446.3,114.6 C447.4,113.0 447.8,111.0 448.6,111.0 C449.5,111.0 449.9,113.0 451.0,114.6Z" fill="url(#pkg)" opacity="0.9"/>
<path d="M516.8,102.4 C517.5,101.3 517.8,99.9 518.4,99.9 C518.9,99.9 519.3,101.3 520.0,102.4Z" fill="url(#pkg)" opacity="0.9"/>
<path d="M466.6,83.8 C467.5,82.4 467.9,80.6 468.6,80.6 C469.4,80.6 469.8,82.4 470.7,83.8Z" fill="url(#pkg)" opacity="0.9"/>
<path d="M411.7,72.1 C412.6,70.7 413.0,69.0 413.7,69.0 C414.4,69.0 414.8,70.7 415.6,72.1Z" fill="url(#pkg)" opacity="0.9"/>
<path d="M380.9,116.1 C381.8,114.7 382.2,113.1 382.8,113.1 C383.5,113.1 383.9,114.7 384.7,116.1Z" fill="url(#pkg)" opacity="0.9"/>
<path d="M439.5,131.3 C440.5,129.8 440.9,127.9 441.7,127.9 C442.4,127.9 442.8,129.8 443.8,131.3Z" fill="url(#pkg)" opacity="0.9"/>
<path d="M472.3,87.9 C473.3,86.2 473.8,84.3 474.6,84.3 C475.4,84.3 475.8,86.2 476.9,87.9Z" fill="url(#pkg)" opacity="0.9"/>
<path d="M355.1,130.9 C356.1,129.3 356.6,127.3 357.4,127.3 C358.2,127.3 358.6,129.3 359.7,130.9Z" fill="url(#pkg)" opacity="0.9"/>
<path d="M481.7,90.9 C482.5,89.7 482.8,88.2 483.4,88.2 C484.0,88.2 484.4,89.7 485.2,90.9Z" fill="url(#pkg)" opacity="0.9"/>
<path d="M353.1,136.6 C354.1,135.1 354.5,133.2 355.3,133.2 C356.1,133.2 356.5,135.1 357.5,136.6Z" fill="url(#pkg)" opacity="0.9"/>
<path d="M392.7,91.3 C393.6,89.9 394.0,88.3 394.6,88.3 C395.3,88.3 395.7,89.9 396.5,91.3Z" fill="url(#pkg)" opacity="0.9"/>
<path d="M494.7,98.7 C495.3,97.7 495.6,96.5 496.1,96.5 C496.6,96.5 496.9,97.7 497.6,98.7Z" fill="url(#pkg)" opacity="0.9"/>
<path d="M448.7,100.9 C449.4,99.9 449.7,98.7 450.1,98.7 C450.6,98.7 450.9,99.9 451.6,100.9Z" fill="url(#pkg)" opacity="0.9"/>
<path d="M351.1,126.0 C352.2,124.3 352.7,122.3 353.5,122.3 C354.4,122.3 354.8,124.3 355.9,126.0Z" fill="url(#pkg)" opacity="0.9"/>
<path d="M438.9,151.4 C439.5,150.6 439.7,149.6 440.1,149.6 C440.5,149.6 440.7,150.6 441.3,151.4Z" fill="url(#pkg)" opacity="0.9"/>
<path d="M431.1,136.7 C431.7,135.7 432.0,134.4 432.5,134.4 C433.0,134.4 433.3,135.7 434.0,136.7Z" fill="url(#pkg)" opacity="0.9"/>
<path d="M392.3,107.9 C393.0,106.7 393.3,105.4 393.9,105.4 C394.4,105.4 394.8,106.7 395.5,107.9Z" fill="url(#pkg)" opacity="0.9"/>
<path d="M485.8,133.0 C486.8,131.3 487.3,129.3 488.1,129.3 C488.9,129.3 489.4,131.3 490.4,133.0Z" fill="url(#pkg)" opacity="0.9"/>
<path d="M512.3,109.6 C513.1,108.3 513.5,106.7 514.1,106.7 C514.7,106.7 515.1,108.3 515.9,109.6Z" fill="url(#pkg)" opacity="0.9"/>
<path d="M442.7,120.0 C443.2,119.1 443.4,118.1 443.8,118.1 C444.2,118.1 444.5,119.1 445.0,120.0Z" fill="url(#pkg)" opacity="0.9"/>
<path d="M452.4,161.4 C453.3,160.1 453.7,158.5 454.3,158.5 C455.0,158.5 455.3,160.1 456.2,161.4Z" fill="url(#pkg)" opacity="0.9"/>
<path d="M474.5,107.0 C475.4,105.7 475.7,104.1 476.4,104.1 C477.0,104.1 477.4,105.7 478.2,107.0Z" fill="url(#pkg)" opacity="0.9"/>
<path d="M472.7,102.4 C473.6,101.0 474.0,99.3 474.7,99.3 C475.4,99.3 475.8,101.0 476.7,102.4Z" fill="url(#pkg)" opacity="0.9"/>
<path d="M478.9,101.8 C479.5,100.9 479.7,99.8 480.2,99.8 C480.6,99.8 480.9,100.9 481.4,101.8Z" fill="url(#pkg)" opacity="0.9"/>
<path d="M392.7,151.7 C393.3,150.8 393.6,149.6 394.0,149.6 C394.5,149.6 394.8,150.8 395.4,151.7Z" fill="url(#pkg)" opacity="0.9"/>
<path d="M405.1,73.8 C405.8,72.7 406.1,71.3 406.7,71.3 C407.3,71.3 407.6,72.7 408.3,73.8Z" fill="url(#pkg)" opacity="0.9"/>
<path d="M455.6,100.1 C456.5,98.7 456.9,96.9 457.6,96.9 C458.3,96.9 458.7,98.7 459.7,100.1Z" fill="url(#pkg)" opacity="0.9"/>
<path d="M478.1,137.6 C479.0,136.1 479.4,134.3 480.2,134.3 C480.9,134.3 481.3,136.1 482.2,137.6Z" fill="url(#pkg)" opacity="0.9"/>
<path d="M439.7,161.1 C440.5,159.8 440.9,158.3 441.5,158.3 C442.1,158.3 442.5,159.8 443.3,161.1Z" fill="url(#pkg)" opacity="0.9"/>
<path d="M386.4,97.4 C387.1,96.3 387.4,94.9 387.9,94.9 C388.5,94.9 388.8,96.3 389.5,97.4Z" fill="url(#pkg)" opacity="0.9"/>
<path d="M467.0,135.4 C467.6,134.4 467.9,133.2 468.4,133.2 C468.8,133.2 469.1,134.4 469.7,135.4Z" fill="url(#pkg)" opacity="0.9"/>
<path d="M467.5,139.7 C468.0,138.8 468.2,137.8 468.7,137.8 C469.1,137.8 469.3,138.8 469.8,139.7Z" fill="url(#pkg)" opacity="0.9"/>
<path d="M393.4,116.9 C393.9,116.0 394.1,115.0 394.5,115.0 C394.9,115.0 395.2,116.0 395.7,116.9Z" fill="url(#pkg)" opacity="0.9"/>
<path d="M370.7,117.3 C371.4,116.2 371.8,114.8 372.3,114.8 C372.9,114.8 373.2,116.2 373.9,117.3Z" fill="url(#pkg)" opacity="0.9"/>
<path d="M405.6,129.9 C406.3,128.7 406.6,127.4 407.1,127.4 C407.7,127.4 408.0,128.7 408.7,129.9Z" fill="url(#pkg)" opacity="0.9"/>
<path d="M412.4,127.2 C413.3,125.7 413.8,123.8 414.5,123.8 C415.3,123.8 415.7,125.7 416.6,127.2Z" fill="url(#pkg)" opacity="0.9"/>
<path d="M422.6,163.5 C423.2,162.5 423.4,161.4 423.9,161.4 C424.4,161.4 424.7,162.5 425.3,163.5Z" fill="url(#pkg)" opacity="0.9"/>
<path d="M370.9,111.8 C371.7,110.7 372.0,109.3 372.5,109.3 C373.1,109.3 373.4,110.7 374.2,111.8Z" fill="url(#pkg)" opacity="0.9"/>
<path d="M477.1,113.7 C478.2,112.1 478.6,110.1 479.4,110.1 C480.2,110.1 480.7,112.1 481.8,113.7Z" fill="url(#pkg)" opacity="0.9"/>
<path d="M458.1,120.0 C459.2,118.3 459.7,116.1 460.6,116.1 C461.4,116.1 461.9,118.3 463.0,120.0Z" fill="url(#pkg)" opacity="0.9"/>
<path d="M437.1,132.3 C437.8,131.2 438.1,129.9 438.6,129.9 C439.2,129.9 439.5,131.2 440.2,132.3Z" fill="url(#pkg)" opacity="0.9"/>
<path d="M411.9,68.8 C412.8,67.3 413.3,65.4 414.0,65.4 C414.8,65.4 415.2,67.3 416.2,68.8Z" fill="url(#pkg)" opacity="0.9"/>
<path d="M446.0,88.0 C446.9,86.5 447.4,84.6 448.1,84.6 C448.9,84.6 449.3,86.5 450.3,88.0Z" fill="url(#pkg)" opacity="0.9"/>
<path d="M462.8,86.3 C463.8,84.6 464.3,82.6 465.1,82.6 C465.9,82.6 466.4,84.6 467.4,86.3Z" fill="url(#pkg)" opacity="0.9"/>
<path d="M417.5,121.4 C418.1,120.5 418.4,119.3 418.9,119.3 C419.4,119.3 419.6,120.5 420.2,121.4Z" fill="url(#pkg)" opacity="0.9"/>
<path d="M371.5,111.6 C372.2,110.5 372.5,109.3 373.0,109.3 C373.5,109.3 373.8,110.5 374.4,111.6Z" fill="url(#pkg)" opacity="0.9"/>
<path d="M398.1,84.4 C399.2,82.7 399.7,80.6 400.5,80.6 C401.3,80.6 401.8,82.7 402.9,84.4Z" fill="url(#pkg)" opacity="0.9"/>
<path d="M484.7,99.0 C485.8,97.4 486.2,95.4 487.0,95.4 C487.8,95.4 488.3,97.4 489.3,99.0Z" fill="url(#pkg)" opacity="0.9"/>
<path d="M448.6,123.4 C449.3,122.3 449.6,120.9 450.2,120.9 C450.7,120.9 451.1,122.3 451.8,123.4Z" fill="url(#pkg)" opacity="0.9"/>
<path d="M414.4,130.7 C415.0,129.7 415.3,128.5 415.8,128.5 C416.3,128.5 416.5,129.7 417.2,130.7Z" fill="url(#pkg)" opacity="0.9"/>
<path d="M442.2,107.6 C443.1,106.2 443.4,104.6 444.1,104.6 C444.8,104.6 445.2,106.2 446.0,107.6Z" fill="url(#pkg)" opacity="0.9"/>
<path d="M444.2,140.0 C444.7,139.2 445.0,138.2 445.4,138.2 C445.8,138.2 446.0,139.2 446.5,140.0Z" fill="url(#pkg)" opacity="0.9"/>
<path d="M378.3,120.8 C379.2,119.5 379.6,117.9 380.2,117.9 C380.9,117.9 381.3,119.5 382.1,120.8Z" fill="url(#pkg)" opacity="0.9"/>
<path d="M430.0,103.3 C430.7,102.3 431.0,101.1 431.5,101.1 C432.0,101.1 432.3,102.3 432.9,103.3Z" fill="url(#pkg)" opacity="0.9"/>
<path d="M384.1,151.2 C385.0,149.8 385.4,148.0 386.1,148.0 C386.8,148.0 387.2,149.8 388.2,151.2Z" fill="url(#pkg)" opacity="0.9"/>
<path d="M501.4,109.9 C502.5,108.3 502.9,106.3 503.7,106.3 C504.5,106.3 505.0,108.3 506.0,109.9Z" fill="url(#pkg)" opacity="0.9"/>
<path d="M434.0,73.1 C434.8,71.8 435.2,70.1 435.8,70.1 C436.5,70.1 436.9,71.8 437.7,73.1Z" fill="url(#pkg)" opacity="0.9"/>
<path d="M359.3,133.2 C359.9,132.3 360.1,131.2 360.5,131.2 C361.0,131.2 361.2,132.3 361.8,133.2Z" fill="url(#pkg)" opacity="0.9"/>
<path d="M455.7,115.8 C456.7,114.3 457.2,112.4 457.9,112.4 C458.7,112.4 459.1,114.3 460.1,115.8Z" fill="url(#pkg)" opacity="0.9"/>
<path d="M450.0,124.2 C450.6,123.2 450.9,122.0 451.4,122.0 C451.8,122.0 452.1,123.2 452.7,124.2Z" fill="url(#pkg)" opacity="0.9"/>
<path d="M415.3,162.4 C416.2,161.0 416.6,159.3 417.4,159.3 C418.1,159.3 418.5,161.0 419.4,162.4Z" fill="url(#pkg)" opacity="0.9"/>
<path d="M361.5,127.7 C362.5,126.1 363.0,124.0 363.8,124.0 C364.6,124.0 365.1,126.1 366.2,127.7Z" fill="url(#pkg)" opacity="0.9"/>
<path d="M498.0,121.9 C498.6,120.9 498.9,119.6 499.4,119.6 C499.9,119.6 500.2,120.9 500.9,121.9Z" fill="url(#pkg)" opacity="0.9"/>
<path d="M413.6,127.9 C414.2,127.0 414.4,125.9 414.9,125.9 C415.3,125.9 415.6,127.0 416.2,127.9Z" fill="url(#pkg)" opacity="0.9"/>
<path d="M361.3,137.6 C362.4,135.9 362.9,133.8 363.8,133.8 C364.6,133.8 365.1,135.9 366.2,137.6Z" fill="url(#pkg)" opacity="0.9"/>
<path d="M389.6,115.2 C390.3,114.2 390.6,112.9 391.1,112.9 C391.6,112.9 391.9,114.2 392.6,115.2Z" fill="url(#pkg)" opacity="0.9"/>
<path d="M451.9,120.9 C452.9,119.4 453.3,117.5 454.1,117.5 C454.9,117.5 455.3,119.4 456.3,120.9Z" fill="url(#pkg)" opacity="0.9"/>
<path d="M347.7,118.1 C348.6,116.7 349.0,115.0 349.7,115.0 C350.3,115.0 350.7,116.7 351.6,118.1Z" fill="url(#pkg)" opacity="0.9"/>
<path d="M465.9,99.9 C466.5,99.1 466.7,98.0 467.2,98.0 C467.6,98.0 467.9,99.1 468.4,99.9Z" fill="url(#pkg)" opacity="0.9"/>
<path d="M406.4,119.8 C407.2,118.5 407.6,116.9 408.2,116.9 C408.8,116.9 409.2,118.5 410.0,119.8Z" fill="url(#pkg)" opacity="0.9"/>
<path d="M432.2,96.5 C432.7,95.6 433.0,94.5 433.4,94.5 C433.9,94.5 434.1,95.6 434.7,96.5Z" fill="url(#pkg)" opacity="0.9"/>
<path d="M363.2,112.8 C363.8,111.9 364.0,110.8 364.5,110.8 C364.9,110.8 365.2,111.9 365.7,112.8Z" fill="url(#pkg)" opacity="0.9"/>
<path d="M424.0,108.8 C424.5,108.0 424.8,106.9 425.2,106.9 C425.7,106.9 425.9,108.0 426.5,108.8Z" fill="url(#pkg)" opacity="0.9"/>
<path d="M429.3,113.3 C430.1,111.9 430.5,110.3 431.2,110.3 C431.8,110.3 432.2,111.9 433.1,113.3Z" fill="url(#pkg)" opacity="0.9"/>
<path d="M397.1,80.2 C398.0,78.7 398.4,76.9 399.2,76.9 C399.9,76.9 400.3,78.7 401.3,80.2Z" fill="url(#pkg)" opacity="0.9"/>
<path d="M403.1,112.1 C404.0,110.6 404.4,108.7 405.2,108.7 C405.9,108.7 406.3,110.6 407.3,112.1Z" fill="url(#pkg)" opacity="0.9"/>
<path d="M447.1,150.1 C448.1,148.6 448.5,146.7 449.2,146.7 C450.0,146.7 450.4,148.6 451.4,150.1Z" fill="url(#pkg)" opacity="0.9"/>
<path d="M457.8,84.7 C458.8,83.1 459.3,81.1 460.1,81.1 C460.9,81.1 461.4,83.1 462.4,84.7Z" fill="url(#pkg)" opacity="0.9"/>
<path d="M401.2,122.2 C402.0,121.0 402.4,119.4 403.0,119.4 C403.6,119.4 404.0,121.0 404.8,122.2Z" fill="url(#pkg)" opacity="0.9"/>
<path d="M453.5,162.5 C454.4,161.2 454.7,159.6 455.4,159.6 C456.0,159.6 456.4,161.2 457.3,162.5Z" fill="url(#pkg)" opacity="0.9"/>
<path d="M465.6,110.1 C466.1,109.2 466.4,108.1 466.8,108.1 C467.2,108.1 467.5,109.2 468.0,110.1Z" fill="url(#pkg)" opacity="0.9"/>
<path d="M437.1,126.3 C437.8,125.2 438.2,123.8 438.7,123.8 C439.3,123.8 439.6,125.2 440.3,126.3Z" fill="url(#pkg)" opacity="0.9"/>
<path d="M451.3,165.5 C452.2,164.1 452.7,162.2 453.4,162.2 C454.1,162.2 454.5,164.1 455.5,165.5Z" fill="url(#pkg)" opacity="0.9"/>
<path d="M432.2,75.7 C433.0,74.4 433.4,72.9 434.0,72.9 C434.7,72.9 435.0,74.4 435.8,75.7Z" fill="url(#pkg)" opacity="0.9"/>
<path d="M403.0,133.9 C403.9,132.6 404.2,130.9 404.9,130.9 C405.5,130.9 405.9,132.6 406.7,133.9Z" fill="url(#pkg)" opacity="0.9"/>
<path d="M436.1,163.3 C437.1,161.9 437.5,160.2 438.2,160.2 C438.9,160.2 439.3,161.9 440.2,163.3Z" fill="url(#pkg)" opacity="0.9"/>
<path d="M364.9,122.4 C365.9,120.8 366.3,118.8 367.1,118.8 C367.9,118.8 368.4,120.8 369.4,122.4Z" fill="url(#pkg)" opacity="0.9"/>
<path d="M399.4,84.8 C399.9,84.0 400.2,82.9 400.6,82.9 C401.0,82.9 401.3,84.0 401.8,84.8Z" fill="url(#pkg)" opacity="0.9"/>
<path d="M441.3,110.8 C441.9,109.8 442.2,108.6 442.6,108.6 C443.1,108.6 443.4,109.8 444.0,110.8Z" fill="url(#pkg)" opacity="0.9"/>
<path d="M441.5,150.6 C442.3,149.3 442.7,147.8 443.3,147.8 C443.9,147.8 444.3,149.3 445.1,150.6Z" fill="url(#pkg)" opacity="0.9"/>
<path d="M421.4,89.8 C422.1,88.7 422.4,87.5 422.9,87.5 C423.4,87.5 423.7,88.7 424.3,89.8Z" fill="url(#pkg)" opacity="0.9"/>
<path d="M360.6,141.8 C361.6,140.2 362.1,138.1 362.9,138.1 C363.7,138.1 364.2,140.2 365.2,141.8Z" fill="url(#pkg)" opacity="0.9"/>
<path d="M359.4,111.5 C360.3,110.1 360.7,108.4 361.4,108.4 C362.1,108.4 362.5,110.1 363.4,111.5Z" fill="url(#pkg)" opacity="0.9"/>
<path d="M418.1,105.0 C418.8,103.8 419.2,102.4 419.7,102.4 C420.3,102.4 420.6,103.8 421.4,105.0Z" fill="url(#pkg)" opacity="0.9"/>
<path d="M446.1,158.1 C446.6,157.3 446.8,156.2 447.2,156.2 C447.6,156.2 447.9,157.3 448.4,158.1Z" fill="url(#pkg)" opacity="0.9"/>
<path d="M384.6,100.1 C385.5,98.7 385.9,97.1 386.5,97.1 C387.2,97.1 387.6,98.7 388.5,100.1Z" fill="url(#pkg)" opacity="0.9"/>
<path d="M506.4,102.0 C507.1,100.8 507.5,99.4 508.0,99.4 C508.6,99.4 509.0,100.8 509.7,102.0Z" fill="url(#pkg)" opacity="0.9"/>
<path d="M459.5,139.0 C460.2,137.8 460.6,136.4 461.1,136.4 C461.7,136.4 462.0,137.8 462.8,139.0Z" fill="url(#pkg)" opacity="0.9"/>
<path d="M417.5,78.1 C418.2,76.9 418.5,75.6 419.1,75.6 C419.6,75.6 419.9,76.9 420.6,78.1Z" fill="url(#pkg)" opacity="0.9"/>
<path d="M447.3,123.8 C448.4,122.1 448.9,119.9 449.8,119.9 C450.7,119.9 451.2,122.1 452.3,123.8Z" fill="url(#pkg)" opacity="0.9"/>
<path d="M404.8,104.9 C405.8,103.3 406.3,101.4 407.0,101.4 C407.8,101.4 408.2,103.3 409.2,104.9Z" fill="url(#pkg)" opacity="0.9"/>
<path d="M420.2,83.6 C421.1,82.3 421.4,80.7 422.1,80.7 C422.7,80.7 423.1,82.3 424.0,83.6Z" fill="url(#pkg)" opacity="0.9"/>
<path d="M422.2,70.1 C423.0,68.9 423.3,67.4 423.9,67.4 C424.5,67.4 424.9,68.9 425.6,70.1Z" fill="url(#pkg)" opacity="0.9"/>
<path d="M449.6,98.4 C450.7,96.6 451.2,94.5 452.0,94.5 C452.9,94.5 453.4,96.6 454.5,98.4Z" fill="url(#pkg)" opacity="0.9"/>
<path d="M369.2,132.7 C370.1,131.2 370.5,129.3 371.3,129.3 C372.0,129.3 372.5,131.2 373.4,132.7Z" fill="url(#pkg)" opacity="0.9"/>
<path d="M445.5,129.9 C446.4,128.5 446.8,126.8 447.5,126.8 C448.2,126.8 448.6,128.5 449.5,129.9Z" fill="url(#pkg)" opacity="0.9"/>
<path d="M509.6,114.4 C510.5,113.0 510.9,111.4 511.5,111.4 C512.2,111.4 512.6,113.0 513.4,114.4Z" fill="url(#pkg)" opacity="0.9"/>
<path d="M511.1,108.0 C512.1,106.5 512.5,104.6 513.3,104.6 C514.0,104.6 514.5,106.5 515.5,108.0Z" fill="url(#pkg)" opacity="0.9"/>
<path d="M389.9,98.3 C390.8,97.0 391.2,95.3 391.9,95.3 C392.6,95.3 392.9,97.0 393.8,98.3Z" fill="url(#pkg)" opacity="0.9"/>
<path d="M474.9,133.8 C475.8,132.4 476.2,130.7 476.9,130.7 C477.6,130.7 477.9,132.4 478.8,133.8Z" fill="url(#pkg)" opacity="0.9"/>
<path d="M420.5,156.2 C421.1,155.3 421.3,154.3 421.7,154.3 C422.2,154.3 422.4,155.3 423.0,156.2Z" fill="url(#pkg)" opacity="0.9"/>
<path d="M342.3,125.5 C342.9,124.5 343.2,123.2 343.7,123.2 C344.3,123.2 344.6,124.5 345.2,125.5Z" fill="url(#pkg)" opacity="0.9"/>
<path d="M384.7,93.0 C385.5,91.6 385.9,90.0 386.6,90.0 C387.2,90.0 387.6,91.6 388.5,93.0Z" fill="url(#pkg)" opacity="0.9"/>
<path d="M383.3,150.2 C384.2,148.9 384.5,147.4 385.2,147.4 C385.8,147.4 386.2,148.9 387.0,150.2Z" fill="url(#pkg)" opacity="0.9"/>
<path d="M344.3,136.5 C345.3,135.0 345.7,133.1 346.5,133.1 C347.2,133.1 347.7,135.0 348.7,136.5Z" fill="url(#pkg)" opacity="0.9"/>
<path d="M441.6,165.3 C442.5,163.9 442.9,162.1 443.6,162.1 C444.3,162.1 444.7,163.9 445.6,165.3Z" fill="url(#pkg)" opacity="0.9"/>
<path d="M384.0,94.2 C384.9,92.8 385.3,91.1 386.0,91.1 C386.6,91.1 387.0,92.8 387.9,94.2Z" fill="url(#pkg)" opacity="0.9"/>
<path d="M480.2,89.1 C481.1,87.7 481.5,86.0 482.2,86.0 C482.9,86.0 483.2,87.7 484.1,89.1Z" fill="url(#pkg)" opacity="0.9"/>
<path d="M426.8,75.1 C427.5,74.0 427.8,72.7 428.3,72.7 C428.8,72.7 429.1,74.0 429.8,75.1Z" fill="url(#pkg)" opacity="0.9"/>
<path d="M428.0,125.0 C429.0,123.4 429.5,121.5 430.2,121.5 C431.0,121.5 431.5,123.4 432.4,125.0Z" fill="url(#pkg)" opacity="0.9"/>
</g>
<path d="M407.4,66.3 C409.0,62.6 409.7,58.0 411.0,58.0 C412.3,58.0 413.0,62.6 414.6,66.3Z" fill="url(#pk)"/>
<path d="M395.7,78.5 C397.2,75.1 397.8,71.0 399.0,71.0 C400.2,71.0 400.8,75.1 402.3,78.5Z" fill="url(#pk)"/>
<path d="M391.8,87.9 C392.9,85.2 393.5,81.9 394.4,81.9 C395.3,81.9 395.9,85.2 397.0,87.9Z" fill="url(#pk)"/>
<path d="M418.0,77.1 C419.4,74.1 420.0,70.4 421.0,70.4 C422.0,70.4 422.6,74.1 424.0,77.1Z" fill="url(#pk)"/>
<path d="M420.0,93.7 C421.4,90.7 422.0,87.0 423.0,87.0 C424.0,87.0 424.6,90.7 426.0,93.7Z" fill="url(#pk)"/>
<path d="M378.7,92.1 C379.7,89.7 380.2,86.8 381.0,86.8 C381.8,86.8 382.3,89.7 383.3,92.1Z" fill="url(#pk)"/>
<path d="M374.1,99.1 C375.2,96.4 375.8,93.1 376.7,93.1 C377.6,93.1 378.2,96.4 379.3,99.1Z" fill="url(#pk)"/>
<path d="M380.4,105.4 C381.5,102.7 382.1,99.4 383.0,99.4 C383.9,99.4 384.5,102.7 385.6,105.4Z" fill="url(#pk)"/>
<path d="M394.4,107.7 C395.4,105.3 395.9,102.4 396.7,102.4 C397.5,102.4 398.0,105.3 399.0,107.7Z" fill="url(#pk)"/>
<path d="M397.7,108.8 C398.7,106.4 399.2,103.5 400.0,103.5 C400.8,103.5 401.3,106.4 402.3,108.8Z" fill="url(#pk)"/>
<path d="M353.7,119.4 C355.1,116.4 355.7,112.7 356.7,112.7 C357.7,112.7 358.3,116.4 359.7,119.4Z" fill="url(#pk)"/>
<path d="M360.4,124.4 C361.5,121.7 362.1,118.4 363.0,118.4 C363.9,118.4 364.5,121.7 365.6,124.4Z" fill="url(#pk)"/>
<path d="M379.7,136.0 C381.2,132.6 381.8,128.5 383.0,128.5 C384.2,128.5 384.8,132.6 386.3,136.0Z" fill="url(#pk)"/>
<path d="M393.0,125.4 C394.1,122.7 394.7,119.4 395.6,119.4 C396.5,119.4 397.1,122.7 398.2,125.4Z" fill="url(#pk)"/>
<path d="M397.7,130.8 C399.2,127.4 399.8,123.3 401.0,123.3 C402.2,123.3 402.8,127.4 404.3,130.8Z" fill="url(#pk)"/>
<path d="M405.2,112.4 C406.3,109.7 406.9,106.4 407.8,106.4 C408.7,106.4 409.3,109.7 410.4,112.4Z" fill="url(#pk)"/>
<path d="M433.0,111.9 C434.9,107.5 435.8,102.2 437.3,102.2 C438.8,102.2 439.7,107.5 441.6,111.9Z" fill="url(#pk)"/>
<path d="M421.1,93.1 C422.2,90.4 422.8,87.1 423.7,87.1 C424.6,87.1 425.2,90.4 426.3,93.1Z" fill="url(#pk)"/>
<path d="M418.6,75.9 C419.7,73.2 420.3,69.9 421.2,69.9 C422.1,69.9 422.7,73.2 423.8,75.9Z" fill="url(#pk)"/>
<path d="M441.7,137.7 C443.1,134.7 443.7,130.9 444.7,130.9 C445.7,130.9 446.3,134.7 447.7,137.7Z" fill="url(#pk)"/>
<path d="M434.7,124.0 C435.8,121.3 436.4,118.0 437.3,118.0 C438.2,118.0 438.8,121.3 439.9,124.0Z" fill="url(#pk)"/>
<path d="M491.0,129.2 C492.4,126.2 493.0,122.4 494.0,122.4 C495.0,122.4 495.6,126.2 497.0,129.2Z" fill="url(#pk)"/>
<path d="M428.0,147.7 C429.4,144.7 430.0,140.9 431.0,140.9 C432.0,140.9 432.6,144.7 434.0,147.7Z" fill="url(#pk)"/>
<path d="M464.4,147.4 C465.5,144.7 466.1,141.4 467.0,141.4 C467.9,141.4 468.5,144.7 469.6,147.4Z" fill="url(#pk)"/>
<path d="M449.4,115.4 C450.5,112.7 451.1,109.4 452.0,109.4 C452.9,109.4 453.5,112.7 454.6,115.4Z" fill="url(#pk)"/>
<path d="M505.4,102.7 C506.4,100.3 506.9,97.4 507.7,97.4 C508.5,97.4 509.0,100.3 510.0,102.7Z" fill="url(#pk)"/>
<path d="M423.6,162.6 C425.1,159.2 425.7,155.1 426.9,155.1 C428.1,155.1 428.7,159.2 430.2,162.6Z" fill="url(#pk)"/>
<path d="M436.6,168.7 C438.0,165.7 438.6,161.9 439.6,161.9 C440.6,161.9 441.2,165.7 442.6,168.7Z" fill="url(#pk)"/>
<path d="M432.8,145.7 C434.2,142.7 434.8,138.9 435.8,138.9 C436.8,138.9 437.4,142.7 438.8,145.7Z" fill="url(#pk)"/>
<path d="M398.8,141.7 C399.9,139.0 400.5,135.7 401.4,135.7 C402.3,135.7 402.9,139.0 404.0,141.7Z" fill="url(#pk)"/>
<polyline points="331.0,134.0 448.7,176.5 532.2,108.5" fill="none" stroke="#9a9a9a" stroke-width="0.6"/>
<line x1="532.2" y1="108.5" x2="532.2" y2="84.3" stroke="#555" stroke-width="0.7"/>
<line x1="530.9" y1="108.5" x2="532.2" y2="108.5" stroke="#555" stroke-width="0.5"/>
<line x1="531.4" y1="105.5" x2="532.2" y2="105.5" stroke="#555" stroke-width="0.5"/>
<line x1="530.9" y1="102.5" x2="532.2" y2="102.5" stroke="#555" stroke-width="0.5"/>
<line x1="531.4" y1="99.4" x2="532.2" y2="99.4" stroke="#555" stroke-width="0.5"/>
<line x1="530.9" y1="96.4" x2="532.2" y2="96.4" stroke="#555" stroke-width="0.5"/>
<line x1="531.4" y1="93.4" x2="532.2" y2="93.4" stroke="#555" stroke-width="0.5"/>
<line x1="530.9" y1="90.3" x2="532.2" y2="90.3" stroke="#555" stroke-width="0.5"/>
<line x1="531.4" y1="87.3" x2="532.2" y2="87.3" stroke="#555" stroke-width="0.5"/>
<line x1="530.9" y1="84.3" x2="532.2" y2="84.3" stroke="#555" stroke-width="0.5"/>
<text class="at" x="540.2" y="83.0" text-anchor="middle">nm</text>
<text class="at" x="540.2" y="87.5" text-anchor="middle">10</text>
<text class="at" x="539.2" y="93.0" text-anchor="middle">7.5</text>
<text class="at" x="541.7" y="99.5" text-anchor="middle">5</text>
<text class="at" x="540.2" y="104.5" text-anchor="middle">2.5</text>
<text class="at" transform="translate(329.0,138.5) rotate(19.85401814034002)" text-anchor="middle">1000</text>
<text class="at" transform="translate(358.4,149.1) rotate(19.85401814034002)" text-anchor="middle">750</text>
<text class="at" transform="translate(387.9,159.8) rotate(19.85401814034002)" text-anchor="middle">500</text>
<text class="at" transform="translate(387.2,163.1) rotate(19.85401814034002)" text-anchor="middle">nm</text>
<text class="at" transform="translate(417.3,170.4) rotate(19.85401814034002)" text-anchor="middle">250</text>
<text class="at" transform="translate(445.2,180.7) rotate(0)" text-anchor="middle">0</text>
<text class="at" transform="translate(453.2,180.7) rotate(0)" text-anchor="middle">0</text>
<text class="at" transform="translate(478.2,160.6) rotate(-39.15838113318109)" text-anchor="middle">250</text>
<text class="at" transform="translate(499.1,143.6) rotate(-39.15838113318109)" text-anchor="middle">500</text>
<text class="at" transform="translate(502.1,145.6) rotate(-39.15838113318109)" text-anchor="middle">nm</text>
<text class="at" transform="translate(520.0,126.6) rotate(-39.15838113318109)" text-anchor="middle">750</text>
<text class="at" transform="translate(539.7,111.0) rotate(-39.15838113318109)" text-anchor="middle">1000</text>
<clipPath id="clipC"><polygon points="41.3,330.8 42.5,328.4 43.6,328.0 44.8,326.9 46.0,326.0 47.2,326.3 48.3,324.0 49.5,323.1 50.7,322.1 51.8,322.4 53.0,320.6 54.2,318.9 55.4,317.6 56.5,317.2 57.7,317.8 58.9,314.8 60.0,314.0 61.2,314.2 62.4,312.7 63.6,312.2 64.7,310.7 65.9,310.1 67.1,309.5 68.3,308.9 69.4,308.4 70.6,306.4 71.8,304.4 72.9,303.1 74.1,302.7 75.3,303.2 76.5,302.3 77.6,297.8 78.8,300.6 80.0,298.6 81.1,297.6 82.3,296.0 83.5,295.4 84.7,293.6 85.8,293.3 87.0,294.0 88.2,290.8 89.3,292.2 90.5,291.2 91.7,285.6 92.9,288.2 94.0,288.3 95.2,286.5 96.4,286.5 97.5,285.0 98.7,283.8 99.9,282.9 101.1,279.2 102.2,280.2 103.4,280.6 104.6,278.6 105.8,276.5 106.9,271.4 108.1,275.3 109.3,275.3 110.4,274.0 111.6,271.9 112.8,271.7 114.0,271.1 115.1,269.6 116.3,270.1 117.5,267.8 118.6,267.8 119.8,266.6 121.0,266.4 122.2,263.7 123.3,263.8 124.5,261.4 125.9,261.5 127.3,263.9 128.8,264.1 130.2,265.3 131.6,264.6 133.0,264.8 134.5,266.5 135.9,266.6 137.3,265.7 138.7,266.8 140.2,268.5 141.6,268.6 143.0,268.5 144.4,270.4 145.8,269.5 147.3,269.4 148.7,270.0 150.1,268.6 151.5,267.3 153.0,272.0 154.4,273.7 155.8,270.9 157.2,275.3 158.7,275.2 160.1,274.1 161.5,275.8 162.9,277.0 164.3,277.5 165.8,276.9 167.2,276.5 168.6,277.8 170.0,275.4 171.5,278.1 172.9,280.7 174.3,280.1 175.7,279.7 177.2,282.0 178.6,282.1 180.0,283.5 181.4,283.3 182.8,281.6 184.3,284.0 185.7,284.4 187.1,284.6 188.5,285.9 190.0,286.8 191.4,286.3 192.8,287.7 194.2,288.4 195.7,287.3 197.1,289.2 198.5,289.8 199.9,290.8 201.4,290.6 202.8,290.1 204.2,288.3 205.6,292.1 207.0,291.5 208.5,292.1 209.9,293.7 211.3,295.0 212.7,295.0 214.2,295.6 215.6,295.9 217.0,296.9 218.4,296.6 219.9,297.3 221.3,298.6 222.7,297.4 224.1,298.6 225.5,299.9 227.0,298.7 228.4,300.3 229.8,300.0 231.2,300.0 232.7,301.6 234.1,302.0 235.5,302.7 236.9,303.0 238.4,303.7 239.8,303.5 241.2,303.6 240.0,304.5 238.9,306.7 237.7,308.4 236.5,307.3 235.3,308.8 234.2,309.7 233.0,310.3 231.8,311.0 230.7,314.1 229.5,315.0 228.3,315.2 227.1,317.1 226.0,316.4 224.8,317.5 223.6,319.3 222.5,319.4 221.3,321.5 220.1,321.1 218.9,323.2 217.8,323.6 216.6,323.5 215.4,324.7 214.2,326.0 213.1,326.7 211.9,327.3 210.7,330.2 209.6,331.0 208.4,330.4 207.2,331.3 206.0,333.5 204.9,333.5 203.7,336.3 202.5,337.3 201.4,337.6 200.2,337.7 199.0,338.8 197.8,338.9 196.7,339.7 195.5,341.7 194.3,341.4 193.2,343.1 192.0,344.1 190.8,345.5 189.6,346.4 188.5,348.7 187.3,347.6 186.1,349.0 185.0,350.5 183.8,352.0 182.6,352.4 181.4,353.4 180.3,353.1 179.1,356.2 177.9,355.3 176.7,354.7 175.6,357.9 174.4,359.9 173.2,359.1 172.1,360.3 170.9,363.0 169.7,364.1 168.5,364.0 167.4,364.9 166.2,366.5 165.0,363.5 163.9,367.1 162.7,369.1 161.5,369.9 160.3,370.4 159.2,370.6 158.0,373.5 156.6,372.3 155.2,372.5 153.7,370.0 152.3,369.3 150.9,370.6 149.5,369.5 148.0,368.8 146.6,367.3 145.2,366.6 143.8,366.1 142.3,366.8 140.9,367.5 139.5,366.6 138.1,366.3 136.7,363.9 135.2,365.2 133.8,364.1 132.4,362.6 131.0,363.6 129.5,361.6 128.1,360.4 126.7,362.1 125.3,361.4 123.8,358.9 122.4,360.3 121.0,358.7 119.6,358.6 118.2,357.0 116.7,354.4 115.3,357.2 113.9,355.8 112.5,356.7 111.0,354.3 109.6,353.6 108.2,354.7 106.8,353.0 105.3,352.9 103.9,352.7 102.5,351.7 101.1,351.4 99.7,351.9 98.2,349.8 96.8,346.6 95.4,350.4 94.0,348.1 92.5,349.2 91.1,348.4 89.7,346.4 88.3,348.1 86.8,346.0 85.4,346.9 84.0,346.5 82.6,344.3 81.1,343.7 79.7,344.0 78.3,344.4 76.9,342.2 75.5,343.3 74.0,340.8 72.6,341.1 71.2,341.6 69.8,339.8 68.3,340.3 66.9,338.8 65.5,338.7 64.1,337.9 62.6,337.8 61.2,336.7 59.8,337.6 58.4,335.8 57.0,334.5 55.5,335.0 54.1,332.1 52.7,333.6 51.3,334.0 49.8,332.3 48.4,331.6 47.0,331.1 45.6,330.4 44.1,329.9 42.7,330.2"/></clipPath>
<filter id="fC" x="37.3" y="253.5" width="207.9" height="124.5" filterUnits="userSpaceOnUse" color-interpolation-filters="sRGB">
<feTurbulence type="fractalNoise" baseFrequency="0.14" numOctaves="2" seed="11" result="t"/>
<feComposite in="SourceGraphic" in2="t" operator="arithmetic" k1="0" k2="1" k3="0.7" k4="-0.350" result="hs"/>
<feColorMatrix in="hs" type="matrix" values="0 0 0 0 0  0 0 0 0 0  0 0 0 0 0  1 0 0 0 0" result="h"/>
<feDiffuseLighting in="h" surfaceScale="4" diffuseConstant="1" lighting-color="#fff" result="lit"><feDistantLight azimuth="255" elevation="40"/></feDiffuseLighting>
<feColorMatrix in="hs" type="matrix" values="1 0 0 0 0  1 0 0 0 0  1 0 0 0 0  0 0 0 0 1" result="g"/>
<feComposite in="g" in2="lit" operator="arithmetic" k1="0" k2="1.3" k3="0.3" k4="-0.2" result="val"/>
<feComponentTransfer in="val"><feFuncR type="table" tableValues="0.36 0.48 0.60 0.70 0.79 0.87 0.94"/><feFuncG type="table" tableValues="0.19 0.29 0.41 0.52 0.63 0.75 0.87"/><feFuncB type="table" tableValues="0.02 0.06 0.11 0.18 0.28 0.43 0.64"/><feFuncA type="table" tableValues="1 1"/></feComponentTransfer>
</filter>
<g clip-path="url(#clipC)"><g filter="url(#fC)" style="isolation:isolate"><rect x="37.3" y="253.5" width="207.9" height="124.5" fill="#333"/><g style="mix-blend-mode:lighten" transform="scale(1,0.85)"><circle cx="167.3" cy="374.8" r="3.4" class="h4"/><circle cx="155.7" cy="359.4" r="3.7" class="h3"/><circle cx="91.5" cy="391.6" r="4.4" class="h3"/><circle cx="86.5" cy="371.4" r="3.8" class="h3"/><circle cx="143.8" cy="327.6" r="3.7" class="h4"/><circle cx="131.6" cy="412.3" r="4.3" class="h4"/><circle cx="152.8" cy="423.3" r="3.7" class="h1"/><circle cx="106.7" cy="375.5" r="3.2" class="h3"/><circle cx="151.2" cy="388.0" r="3.0" class="h5"/><circle cx="109.6" cy="345.6" r="3.7" class="h1"/><circle cx="132.1" cy="365.3" r="3.8" class="h4"/><circle cx="127.0" cy="312.3" r="3.1" class="h1"/><circle cx="127.3" cy="344.0" r="4.4" class="h0"/><circle cx="160.6" cy="339.7" r="2.9" class="h0"/><circle cx="120.4" cy="352.1" r="4.1" class="h5"/><circle cx="139.0" cy="362.8" r="3.7" class="h0"/><circle cx="189.1" cy="335.1" r="4.4" class="h2"/><circle cx="102.2" cy="370.5" r="3.0" class="h1"/><circle cx="103.2" cy="350.7" r="4.4" class="h1"/><circle cx="114.2" cy="349.1" r="3.3" class="h1"/><circle cx="45.2" cy="383.7" r="4.2" class="h5"/><circle cx="151.6" cy="389.4" r="4.0" class="h0"/><circle cx="118.6" cy="398.3" r="3.1" class="h1"/><circle cx="86.3" cy="382.0" r="3.3" class="h1"/><circle cx="155.8" cy="377.8" r="2.9" class="h0"/><circle cx="233.2" cy="360.5" r="3.3" class="h2"/><circle cx="80.4" cy="374.3" r="3.0" class="h0"/><circle cx="227.1" cy="365.5" r="3.5" class="h1"/><circle cx="165.1" cy="360.6" r="3.9" class="h3"/><circle cx="178.5" cy="379.8" r="3.0" class="h4"/><circle cx="179.3" cy="370.6" r="3.1" class="h0"/><circle cx="148.1" cy="391.9" r="4.1" class="h1"/><circle cx="128.3" cy="349.1" r="3.8" class="h2"/><circle cx="100.9" cy="375.7" r="3.3" class="h0"/><circle cx="67.3" cy="375.8" r="3.7" class="h2"/><circle cx="150.6" cy="389.4" r="3.5" class="h1"/><circle cx="130.3" cy="335.2" r="2.9" class="h2"/><circle cx="191.5" cy="342.1" r="3.7" class="h5"/><circle cx="111.4" cy="378.2" r="4.3" class="h0"/><circle cx="97.8" cy="398.6" r="3.0" class="h3"/><circle cx="126.6" cy="374.6" r="4.1" class="h0"/><circle cx="103.2" cy="403.7" r="3.2" class="h0"/><circle cx="173.6" cy="342.7" r="3.0" class="h2"/><circle cx="169.2" cy="383.6" r="2.9" class="h1"/><circle cx="204.1" cy="345.7" r="4.0" class="h4"/><circle cx="156.2" cy="402.4" r="4.1" class="h5"/><circle cx="113.6" cy="413.3" r="3.4" class="h1"/><circle cx="148.9" cy="394.2" r="3.9" class="h5"/><circle cx="133.8" cy="413.7" r="3.5" class="h3"/><circle cx="98.0" cy="350.6" r="3.0" class="h4"/><circle cx="136.9" cy="340.5" r="3.4" class="h5"/><circle cx="181.2" cy="375.5" r="3.0" class="h4"/><circle cx="168.7" cy="340.4" r="3.8" class="h3"/><circle cx="138.6" cy="377.9" r="3.6" class="h0"/><circle cx="158.3" cy="343.9" r="3.7" class="h3"/><circle cx="232.2" cy="365.5" r="4.0" class="h5"/><circle cx="38.1" cy="391.9" r="3.1" class="h4"/><circle cx="84.0" cy="395.6" r="4.3" class="h3"/><circle cx="106.0" cy="396.8" r="3.6" class="h4"/><circle cx="206.3" cy="350.8" r="3.0" class="h5"/><circle cx="156.7" cy="401.6" r="3.4" class="h2"/><circle cx="162.3" cy="348.4" r="3.3" class="h2"/><circle cx="130.6" cy="378.6" r="3.8" class="h3"/><circle cx="116.5" cy="321.0" r="3.8" class="h3"/><circle cx="97.8" cy="356.9" r="4.2" class="h4"/><circle cx="106.2" cy="392.1" r="4.3" class="h5"/><circle cx="184.7" cy="373.6" r="3.5" class="h1"/><circle cx="132.2" cy="330.9" r="4.1" class="h5"/><circle cx="132.0" cy="387.7" r="3.9" class="h1"/><circle cx="110.2" cy="390.0" r="4.1" class="h2"/><circle cx="98.0" cy="357.1" r="3.5" class="h1"/><circle cx="98.8" cy="348.8" r="3.2" class="h5"/><circle cx="164.0" cy="430.6" r="4.3" class="h4"/><circle cx="95.5" cy="365.9" r="3.2" class="h3"/><circle cx="167.1" cy="346.3" r="3.6" class="h3"/><circle cx="167.1" cy="420.9" r="3.0" class="h5"/><circle cx="151.6" cy="396.6" r="3.2" class="h3"/><circle cx="130.5" cy="398.8" r="3.7" class="h5"/><circle cx="173.9" cy="352.3" r="3.5" class="h5"/><circle cx="129.0" cy="327.0" r="4.3" class="h3"/><circle cx="102.2" cy="327.0" r="4.4" class="h1"/><circle cx="153.2" cy="415.0" r="4.4" class="h5"/><circle cx="157.1" cy="337.9" r="4.0" class="h2"/><circle cx="239.1" cy="360.9" r="3.5" class="h3"/><circle cx="173.4" cy="339.4" r="3.5" class="h5"/><circle cx="85.6" cy="381.5" r="3.4" class="h5"/><circle cx="113.5" cy="368.8" r="3.2" class="h1"/><circle cx="98.1" cy="396.0" r="3.3" class="h0"/><circle cx="167.5" cy="332.0" r="3.5" class="h1"/><circle cx="188.8" cy="402.2" r="3.2" class="h3"/><circle cx="178.2" cy="351.0" r="3.3" class="h0"/><circle cx="141.4" cy="371.6" r="3.8" class="h4"/><circle cx="109.6" cy="399.9" r="3.2" class="h0"/><circle cx="201.9" cy="382.4" r="4.3" class="h0"/><circle cx="123.9" cy="360.3" r="3.7" class="h1"/><circle cx="157.4" cy="369.0" r="3.5" class="h0"/><circle cx="99.3" cy="389.4" r="2.9" class="h4"/><circle cx="66.7" cy="394.5" r="4.4" class="h3"/><circle cx="177.3" cy="407.5" r="3.6" class="h2"/><circle cx="183.9" cy="417.7" r="4.1" class="h1"/><circle cx="129.2" cy="429.1" r="2.9" class="h5"/><circle cx="120.1" cy="314.6" r="4.4" class="h2"/><circle cx="138.1" cy="397.4" r="3.1" class="h2"/><circle cx="119.3" cy="407.6" r="3.2" class="h0"/><circle cx="201.0" cy="355.3" r="3.8" class="h2"/><circle cx="174.6" cy="397.5" r="3.4" class="h5"/><circle cx="130.5" cy="333.4" r="3.6" class="h1"/><circle cx="173.5" cy="342.9" r="4.0" class="h5"/><circle cx="170.9" cy="358.5" r="4.0" class="h5"/><circle cx="145.0" cy="424.6" r="3.7" class="h0"/><circle cx="162.6" cy="352.1" r="3.1" class="h3"/><circle cx="163.3" cy="403.5" r="3.7" class="h4"/><circle cx="153.1" cy="348.8" r="4.2" class="h0"/><circle cx="118.0" cy="313.5" r="3.7" class="h3"/><circle cx="122.2" cy="338.3" r="3.5" class="h2"/><circle cx="131.3" cy="357.3" r="3.3" class="h1"/><circle cx="57.6" cy="393.6" r="3.4" class="h2"/><circle cx="114.2" cy="374.3" r="4.1" class="h4"/><circle cx="201.1" cy="341.4" r="4.1" class="h2"/><circle cx="166.5" cy="352.3" r="4.4" class="h5"/><circle cx="78.1" cy="351.7" r="4.0" class="h5"/><circle cx="88.5" cy="351.9" r="2.9" class="h1"/><circle cx="59.3" cy="395.0" r="4.0" class="h3"/><circle cx="198.3" cy="392.3" r="3.4" class="h0"/><circle cx="88.2" cy="365.4" r="3.2" class="h2"/><circle cx="100.0" cy="416.3" r="4.3" class="h5"/><circle cx="244.9" cy="359.0" r="3.2" class="h4"/><circle cx="133.5" cy="419.5" r="3.5" class="h3"/><circle cx="151.0" cy="334.9" r="2.8" class="h4"/><circle cx="119.2" cy="313.5" r="3.5" class="h5"/><circle cx="85.8" cy="374.2" r="4.3" class="h3"/><circle cx="214.4" cy="358.6" r="3.3" class="h1"/><circle cx="153.4" cy="377.7" r="4.3" class="h5"/><circle cx="140.4" cy="354.4" r="3.0" class="h1"/><circle cx="135.3" cy="339.5" r="3.8" class="h2"/><circle cx="164.1" cy="416.3" r="4.3" class="h3"/><circle cx="156.4" cy="330.4" r="4.0" class="h5"/><circle cx="179.2" cy="357.3" r="3.3" class="h4"/><circle cx="136.5" cy="419.9" r="3.8" class="h0"/><circle cx="176.1" cy="421.2" r="4.2" class="h5"/><circle cx="147.7" cy="385.4" r="3.4" class="h1"/><circle cx="175.2" cy="334.2" r="4.0" class="h2"/><circle cx="124.1" cy="333.2" r="3.8" class="h1"/><circle cx="136.1" cy="343.2" r="3.6" class="h5"/><circle cx="73.6" cy="392.7" r="4.2" class="h1"/><circle cx="108.3" cy="364.2" r="3.3" class="h0"/><circle cx="119.4" cy="405.1" r="4.0" class="h2"/><circle cx="201.2" cy="342.4" r="3.1" class="h3"/><circle cx="106.9" cy="402.3" r="3.3" class="h1"/><circle cx="145.4" cy="415.6" r="4.1" class="h3"/><circle cx="167.3" cy="389.2" r="4.2" class="h3"/><circle cx="241.9" cy="361.1" r="3.5" class="h2"/><circle cx="221.6" cy="376.2" r="3.6" class="h4"/><circle cx="219.0" cy="352.0" r="4.2" class="h3"/><circle cx="189.1" cy="407.5" r="2.8" class="h1"/><circle cx="91.0" cy="402.9" r="3.7" class="h0"/><circle cx="76.9" cy="371.4" r="3.3" class="h1"/><circle cx="103.2" cy="406.0" r="4.0" class="h5"/><circle cx="214.1" cy="380.1" r="2.8" class="h1"/><circle cx="134.0" cy="332.6" r="4.1" class="h5"/><circle cx="126.7" cy="420.6" r="3.4" class="h1"/><circle cx="137.8" cy="426.4" r="3.5" class="h0"/><circle cx="200.2" cy="360.4" r="3.5" class="h2"/><circle cx="170.2" cy="412.3" r="3.6" class="h0"/><circle cx="62.2" cy="365.4" r="4.3" class="h1"/><circle cx="173.9" cy="380.8" r="3.0" class="h4"/><circle cx="147.0" cy="322.0" r="3.0" class="h3"/><circle cx="146.0" cy="348.7" r="3.0" class="h3"/><circle cx="96.4" cy="350.3" r="3.2" class="h2"/><circle cx="171.0" cy="432.1" r="3.2" class="h4"/><circle cx="91.3" cy="367.0" r="3.2" class="h5"/><circle cx="127.8" cy="366.7" r="4.2" class="h3"/><circle cx="157.5" cy="421.5" r="3.2" class="h2"/><circle cx="96.8" cy="413.1" r="4.0" class="h3"/><circle cx="171.4" cy="396.1" r="3.0" class="h4"/><circle cx="49.0" cy="388.9" r="3.7" class="h4"/><circle cx="176.3" cy="330.4" r="3.2" class="h2"/><circle cx="152.3" cy="333.9" r="3.9" class="h1"/><circle cx="47.2" cy="380.2" r="4.3" class="h3"/><circle cx="93.6" cy="406.5" r="3.2" class="h3"/><circle cx="112.5" cy="319.9" r="4.3" class="h1"/><circle cx="145.5" cy="421.2" r="3.2" class="h3"/><circle cx="171.8" cy="365.8" r="3.8" class="h3"/><circle cx="172.8" cy="419.1" r="3.9" class="h0"/><circle cx="153.7" cy="425.3" r="3.5" class="h1"/><circle cx="220.1" cy="383.4" r="3.5" class="h3"/><circle cx="166.8" cy="384.1" r="3.0" class="h5"/><circle cx="172.2" cy="366.8" r="3.5" class="h1"/><circle cx="72.5" cy="399.9" r="4.0" class="h3"/><circle cx="206.8" cy="349.0" r="4.1" class="h1"/><circle cx="113.3" cy="417.7" r="3.9" class="h5"/><circle cx="147.0" cy="336.0" r="3.7" class="h5"/><circle cx="196.3" cy="370.6" r="3.3" class="h0"/><circle cx="57.7" cy="385.8" r="3.3" class="h2"/><circle cx="158.4" cy="395.4" r="4.2" class="h5"/><circle cx="218.5" cy="372.5" r="3.5" class="h3"/><circle cx="91.5" cy="355.0" r="3.6" class="h2"/><circle cx="140.4" cy="315.5" r="4.1" class="h0"/><circle cx="82.3" cy="407.6" r="3.2" class="h3"/><circle cx="157.1" cy="440.2" r="3.9" class="h3"/><circle cx="238.9" cy="359.9" r="3.8" class="h3"/><circle cx="121.2" cy="425.4" r="3.2" class="h4"/><circle cx="160.6" cy="432.3" r="3.1" class="h0"/><circle cx="178.5" cy="407.1" r="3.8" class="h3"/><circle cx="230.2" cy="371.8" r="2.8" class="h1"/><circle cx="133.0" cy="315.6" r="4.0" class="h4"/><circle cx="190.6" cy="397.2" r="2.9" class="h2"/><circle cx="112.2" cy="331.3" r="4.2" class="h1"/><circle cx="165.2" cy="343.9" r="3.1" class="h2"/><circle cx="130.6" cy="371.6" r="2.8" class="h2"/><circle cx="65.7" cy="390.9" r="3.8" class="h2"/><circle cx="214.4" cy="389.7" r="3.1" class="h2"/><circle cx="108.7" cy="338.5" r="4.1" class="h4"/><circle cx="183.7" cy="337.1" r="4.2" class="h0"/><circle cx="92.9" cy="355.1" r="4.2" class="h3"/><circle cx="68.7" cy="362.3" r="3.3" class="h3"/><circle cx="163.4" cy="326.0" r="4.1" class="h3"/><circle cx="219.0" cy="350.9" r="3.5" class="h5"/><circle cx="199.3" cy="394.3" r="4.1" class="h1"/><circle cx="178.8" cy="403.7" r="4.3" class="h1"/><circle cx="108.1" cy="373.6" r="3.6" class="h0"/><circle cx="148.9" cy="407.6" r="3.6" class="h5"/><circle cx="218.7" cy="360.7" r="4.0" class="h0"/><circle cx="183.3" cy="407.1" r="4.0" class="h1"/><circle cx="195.4" cy="375.2" r="2.9" class="h3"/><circle cx="189.5" cy="377.0" r="4.2" class="h1"/><circle cx="183.0" cy="370.0" r="4.2" class="h4"/><circle cx="144.3" cy="335.4" r="4.3" class="h5"/><circle cx="89.1" cy="359.8" r="3.7" class="h5"/><circle cx="143.3" cy="436.2" r="2.9" class="h3"/><circle cx="156.4" cy="409.0" r="3.5" class="h4"/><circle cx="197.4" cy="399.9" r="2.9" class="h0"/><circle cx="199.4" cy="388.9" r="3.2" class="h3"/><circle cx="115.5" cy="319.0" r="3.0" class="h0"/><circle cx="111.4" cy="355.5" r="2.9" class="h3"/><circle cx="172.5" cy="370.1" r="3.4" class="h4"/><circle cx="138.5" cy="340.5" r="4.4" class="h1"/><circle cx="162.2" cy="425.9" r="4.0" class="h3"/><circle cx="88.9" cy="379.7" r="2.8" class="h3"/><circle cx="74.1" cy="379.6" r="3.4" class="h5"/><circle cx="160.3" cy="344.7" r="2.9" class="h5"/><circle cx="140.2" cy="328.0" r="4.1" class="h0"/><circle cx="191.3" cy="395.4" r="2.8" class="h0"/><circle cx="81.6" cy="394.5" r="3.3" class="h3"/><circle cx="176.9" cy="379.4" r="4.0" class="h1"/><circle cx="156.7" cy="375.2" r="4.0" class="h3"/><circle cx="178.8" cy="370.4" r="3.3" class="h4"/><circle cx="187.4" cy="378.3" r="4.0" class="h1"/><circle cx="76.1" cy="406.3" r="4.0" class="h2"/><circle cx="133.0" cy="426.2" r="3.0" class="h1"/><circle cx="62.4" cy="385.0" r="4.1" class="h0"/><circle cx="121.5" cy="360.6" r="3.7" class="h0"/><circle cx="166.6" cy="381.3" r="3.0" class="h4"/><circle cx="156.7" cy="407.9" r="3.0" class="h0"/><circle cx="81.9" cy="395.6" r="4.0" class="h2"/><circle cx="143.9" cy="386.8" r="3.7" class="h1"/><circle cx="193.2" cy="398.7" r="3.0" class="h0"/><circle cx="96.4" cy="384.9" r="4.1" class="h4"/><circle cx="90.1" cy="378.3" r="3.5" class="h0"/><circle cx="165.4" cy="398.7" r="2.8" class="h4"/><circle cx="45.9" cy="381.5" r="4.4" class="h1"/><circle cx="158.6" cy="358.0" r="3.6" class="h2"/><circle cx="118.1" cy="339.2" r="3.1" class="h5"/><circle cx="94.4" cy="338.1" r="4.1" class="h2"/><circle cx="81.3" cy="404.1" r="3.4" class="h1"/><circle cx="120.0" cy="346.0" r="3.8" class="h0"/><circle cx="147.5" cy="387.3" r="3.8" class="h1"/><circle cx="89.7" cy="404.0" r="4.2" class="h2"/><circle cx="155.7" cy="339.3" r="4.2" class="h2"/><circle cx="162.4" cy="381.5" r="4.1" class="h2"/><circle cx="157.7" cy="443.0" r="4.2" class="h4"/><circle cx="123.4" cy="342.3" r="3.2" class="h1"/><circle cx="108.4" cy="406.0" r="2.8" class="h0"/><circle cx="135.0" cy="322.2" r="2.8" class="h2"/><circle cx="131.9" cy="317.9" r="3.2" class="h2"/><circle cx="100.9" cy="334.0" r="3.6" class="h3"/><circle cx="198.0" cy="375.1" r="3.9" class="h4"/><circle cx="173.9" cy="355.8" r="3.4" class="h2"/><circle cx="129.5" cy="415.2" r="4.2" class="h1"/><circle cx="74.0" cy="379.8" r="3.3" class="h3"/><circle cx="87.3" cy="353.6" r="3.6" class="h0"/><circle cx="102.7" cy="395.6" r="4.0" class="h3"/><circle cx="90.2" cy="413.6" r="4.0" class="h2"/><circle cx="158.7" cy="377.4" r="4.3" class="h0"/><circle cx="178.7" cy="409.0" r="3.7" class="h3"/><circle cx="127.3" cy="393.6" r="3.5" class="h0"/><circle cx="162.4" cy="333.7" r="3.7" class="h3"/><circle cx="119.6" cy="385.2" r="4.3" class="h5"/><circle cx="79.0" cy="403.7" r="3.2" class="h1"/><circle cx="157.8" cy="347.9" r="3.9" class="h4"/><circle cx="160.6" cy="425.4" r="4.2" class="h4"/><circle cx="171.4" cy="334.4" r="3.3" class="h1"/><circle cx="138.2" cy="391.1" r="3.0" class="h0"/><circle cx="47.1" cy="390.0" r="3.5" class="h3"/><circle cx="148.4" cy="338.5" r="3.6" class="h5"/><circle cx="145.5" cy="329.0" r="4.1" class="h2"/><circle cx="117.0" cy="410.0" r="3.7" class="h0"/><circle cx="83.8" cy="365.3" r="2.9" class="h0"/><circle cx="91.0" cy="348.3" r="4.1" class="h3"/><circle cx="151.4" cy="423.1" r="3.5" class="h1"/><circle cx="148.4" cy="344.5" r="3.7" class="h4"/><circle cx="60.8" cy="379.9" r="3.2" class="h3"/><circle cx="197.2" cy="354.8" r="4.3" class="h1"/><circle cx="210.2" cy="363.6" r="3.8" class="h5"/><circle cx="51.4" cy="384.5" r="2.9" class="h2"/><circle cx="133.9" cy="414.5" r="3.2" class="h4"/><circle cx="127.0" cy="327.0" r="4.0" class="h5"/><circle cx="153.5" cy="381.0" r="3.5" class="h4"/><circle cx="96.2" cy="355.2" r="3.7" class="h4"/><circle cx="126.3" cy="317.6" r="3.9" class="h3"/><circle cx="139.0" cy="404.9" r="3.6" class="h5"/><circle cx="117.8" cy="345.5" r="3.7" class="h3"/><circle cx="178.6" cy="386.3" r="3.9" class="h3"/><circle cx="116.0" cy="425.0" r="2.9" class="h5"/><circle cx="122.2" cy="374.5" r="3.8" class="h2"/><circle cx="92.9" cy="407.7" r="4.1" class="h2"/><circle cx="179.8" cy="338.3" r="4.3" class="h5"/><circle cx="120.4" cy="420.4" r="3.4" class="h5"/><circle cx="118.7" cy="397.4" r="2.9" class="h2"/><circle cx="147.3" cy="416.8" r="2.8" class="h4"/><circle cx="184.2" cy="372.0" r="3.0" class="h5"/><circle cx="120.8" cy="348.2" r="4.2" class="h1"/><circle cx="153.2" cy="419.2" r="3.3" class="h0"/><circle cx="133.2" cy="404.1" r="3.4" class="h3"/><circle cx="165.8" cy="368.7" r="4.0" class="h3"/><circle cx="58.4" cy="372.9" r="3.7" class="h3"/><circle cx="159.4" cy="323.5" r="3.2" class="h5"/><circle cx="128.4" cy="336.6" r="3.9" class="h5"/><circle cx="217.1" cy="387.0" r="4.3" class="h5"/><circle cx="128.3" cy="363.5" r="3.0" class="h5"/><circle cx="138.9" cy="327.2" r="3.1" class="h3"/><circle cx="130.7" cy="332.0" r="3.0" class="h1"/><circle cx="124.0" cy="408.7" r="4.2" class="h0"/><circle cx="195.0" cy="341.9" r="3.9" class="h0"/><circle cx="170.7" cy="358.2" r="3.5" class="h0"/><circle cx="201.6" cy="354.8" r="3.2" class="h0"/><circle cx="166.1" cy="344.8" r="3.2" class="h3"/><circle cx="89.7" cy="396.2" r="4.2" class="h1"/><circle cx="174.0" cy="368.4" r="4.0" class="h1"/><circle cx="184.8" cy="336.4" r="2.8" class="h5"/><circle cx="80.8" cy="388.4" r="3.7" class="h0"/><circle cx="225.6" cy="351.9" r="4.3" class="h4"/><circle cx="137.3" cy="373.4" r="3.6" class="h4"/><circle cx="155.7" cy="355.6" r="2.9" class="h0"/><circle cx="83.3" cy="394.0" r="3.0" class="h3"/><circle cx="100.5" cy="404.3" r="3.8" class="h1"/><circle cx="204.6" cy="341.4" r="3.9" class="h0"/><circle cx="132.6" cy="319.9" r="3.0" class="h0"/><circle cx="102.0" cy="362.8" r="4.1" class="h3"/><circle cx="70.2" cy="361.2" r="4.3" class="h2"/><circle cx="124.0" cy="344.7" r="3.3" class="h5"/><circle cx="121.3" cy="368.6" r="4.2" class="h0"/><circle cx="135.1" cy="326.1" r="3.0" class="h3"/><circle cx="173.1" cy="332.4" r="3.4" class="h1"/><circle cx="79.8" cy="405.6" r="3.2" class="h1"/><circle cx="162.5" cy="392.9" r="4.3" class="h3"/><circle cx="95.8" cy="338.5" r="3.4" class="h2"/><circle cx="87.6" cy="396.7" r="3.0" class="h3"/><circle cx="97.0" cy="347.8" r="4.4" class="h0"/><circle cx="202.4" cy="380.9" r="3.3" class="h0"/><circle cx="70.3" cy="383.0" r="4.4" class="h0"/><circle cx="180.6" cy="421.5" r="3.0" class="h3"/><circle cx="110.7" cy="412.6" r="3.6" class="h1"/><circle cx="215.0" cy="381.7" r="2.8" class="h3"/><circle cx="40.6" cy="392.4" r="3.7" class="h5"/><circle cx="182.4" cy="345.9" r="3.1" class="h3"/><circle cx="177.3" cy="345.6" r="3.9" class="h2"/><circle cx="50.5" cy="387.2" r="4.3" class="h2"/><circle cx="55.3" cy="394.8" r="4.1" class="h0"/><circle cx="148.6" cy="359.2" r="3.2" class="h3"/><circle cx="106.3" cy="387.2" r="3.1" class="h3"/><circle cx="116.8" cy="377.9" r="3.7" class="h4"/><circle cx="184.5" cy="359.4" r="3.9" class="h0"/><circle cx="98.3" cy="343.8" r="3.1" class="h1"/><circle cx="161.8" cy="337.9" r="2.9" class="h3"/><circle cx="105.0" cy="360.3" r="3.6" class="h2"/><circle cx="149.5" cy="324.7" r="3.7" class="h5"/><circle cx="191.7" cy="376.2" r="3.4" class="h0"/><circle cx="197.1" cy="367.3" r="3.3" class="h3"/><circle cx="120.4" cy="420.4" r="3.1" class="h5"/><circle cx="93.9" cy="337.7" r="3.0" class="h0"/><circle cx="101.4" cy="412.2" r="4.4" class="h2"/><circle cx="239.0" cy="356.5" r="3.4" class="h0"/><circle cx="140.5" cy="313.6" r="4.0" class="h1"/><circle cx="52.1" cy="397.5" r="4.1" class="h5"/><circle cx="149.3" cy="344.3" r="4.1" class="h1"/><circle cx="176.9" cy="346.1" r="3.5" class="h3"/><circle cx="158.0" cy="379.1" r="3.2" class="h2"/><circle cx="186.8" cy="373.0" r="3.1" class="h1"/><circle cx="148.1" cy="371.5" r="3.7" class="h3"/><circle cx="159.8" cy="389.5" r="3.6" class="h4"/><circle cx="107.8" cy="330.7" r="2.9" class="h5"/><circle cx="114.7" cy="317.9" r="3.0" class="h5"/><circle cx="165.0" cy="406.2" r="3.5" class="h0"/><circle cx="152.3" cy="379.5" r="4.0" class="h1"/><circle cx="161.4" cy="404.8" r="3.0" class="h2"/><circle cx="214.1" cy="351.6" r="4.2" class="h5"/><circle cx="149.6" cy="361.1" r="3.7" class="h0"/><circle cx="224.3" cy="350.6" r="3.8" class="h2"/><circle cx="125.9" cy="365.3" r="4.2" class="h5"/><circle cx="112.4" cy="354.1" r="3.8" class="h0"/><circle cx="193.8" cy="366.5" r="3.8" class="h1"/><circle cx="83.3" cy="380.9" r="3.7" class="h3"/><circle cx="188.0" cy="366.2" r="2.9" class="h1"/><circle cx="173.7" cy="365.9" r="3.9" class="h2"/><circle cx="133.9" cy="413.6" r="3.2" class="h4"/><circle cx="189.0" cy="359.6" r="3.2" class="h3"/><circle cx="113.2" cy="336.6" r="4.1" class="h2"/><circle cx="113.6" cy="323.1" r="3.3" class="h4"/><circle cx="164.9" cy="336.4" r="3.4" class="h2"/><circle cx="222.2" cy="349.0" r="3.9" class="h1"/><circle cx="168.5" cy="379.4" r="2.8" class="h4"/><circle cx="113.9" cy="381.7" r="3.1" class="h4"/><circle cx="74.3" cy="384.4" r="2.9" class="h4"/><circle cx="115.3" cy="372.6" r="4.3" class="h1"/><circle cx="148.2" cy="410.8" r="4.1" class="h0"/><circle cx="138.7" cy="358.4" r="3.8" class="h2"/><circle cx="191.3" cy="389.6" r="3.7" class="h4"/><circle cx="116.9" cy="374.8" r="4.2" class="h5"/><circle cx="141.4" cy="393.6" r="4.1" class="h1"/><circle cx="96.7" cy="392.5" r="3.5" class="h5"/><circle cx="63.4" cy="394.4" r="3.3" class="h3"/><circle cx="113.2" cy="327.7" r="3.3" class="h1"/><circle cx="190.7" cy="390.8" r="4.2" class="h4"/><circle cx="104.3" cy="412.6" r="3.6" class="h2"/><circle cx="120.8" cy="370.0" r="4.2" class="h2"/><circle cx="198.5" cy="367.2" r="3.1" class="h2"/><circle cx="148.3" cy="412.4" r="4.3" class="h4"/><circle cx="158.6" cy="338.6" r="3.6" class="h4"/><circle cx="185.1" cy="361.5" r="3.2" class="h2"/><circle cx="132.2" cy="417.1" r="3.2" class="h1"/><circle cx="110.1" cy="320.6" r="3.6" class="h2"/><circle cx="113.4" cy="347.9" r="3.2" class="h5"/><circle cx="99.8" cy="390.0" r="3.2" class="h1"/><circle cx="155.3" cy="434.0" r="3.6" class="h2"/><circle cx="185.2" cy="336.6" r="2.8" class="h3"/><circle cx="138.9" cy="427.5" r="2.9" class="h5"/><circle cx="150.4" cy="373.3" r="3.3" class="h2"/><circle cx="231.8" cy="370.6" r="3.7" class="h0"/><circle cx="149.6" cy="330.9" r="3.5" class="h5"/><circle cx="118.2" cy="313.0" r="3.2" class="h3"/><circle cx="125.0" cy="340.5" r="3.9" class="h0"/><circle cx="162.6" cy="416.9" r="3.1" class="h1"/><circle cx="73.2" cy="395.1" r="4.1" class="h5"/><circle cx="113.6" cy="347.2" r="3.3" class="h0"/><circle cx="156.9" cy="342.1" r="3.2" class="h4"/><circle cx="69.6" cy="362.6" r="2.9" class="h3"/><circle cx="85.1" cy="383.1" r="3.1" class="h1"/><circle cx="133.6" cy="350.1" r="2.9" class="h5"/><circle cx="119.7" cy="332.0" r="3.9" class="h4"/><circle cx="136.0" cy="380.0" r="2.9" class="h2"/><circle cx="135.2" cy="404.7" r="3.1" class="h5"/><circle cx="204.1" cy="388.4" r="4.1" class="h1"/><circle cx="117.4" cy="318.7" r="3.9" class="h4"/><circle cx="141.1" cy="373.0" r="3.6" class="h4"/><circle cx="76.0" cy="399.7" r="3.1" class="h5"/><circle cx="157.8" cy="394.7" r="3.4" class="h4"/><circle cx="105.4" cy="412.3" r="3.4" class="h5"/><circle cx="176.6" cy="331.3" r="3.0" class="h1"/><circle cx="143.0" cy="420.6" r="4.3" class="h4"/><circle cx="75.4" cy="399.3" r="4.3" class="h0"/><circle cx="119.5" cy="398.2" r="2.9" class="h5"/><circle cx="194.9" cy="399.1" r="4.4" class="h0"/><circle cx="169.5" cy="394.5" r="3.4" class="h3"/><circle cx="111.2" cy="419.3" r="3.4" class="h1"/><circle cx="77.0" cy="387.8" r="3.3" class="h3"/><circle cx="137.2" cy="342.7" r="3.0" class="h5"/><circle cx="71.7" cy="379.7" r="3.6" class="h5"/><circle cx="101.6" cy="382.8" r="2.9" class="h5"/><circle cx="225.9" cy="351.2" r="4.3" class="h0"/><circle cx="116.1" cy="402.4" r="3.5" class="h1"/><circle cx="149.6" cy="359.7" r="3.5" class="h3"/><circle cx="205.5" cy="358.2" r="4.0" class="h2"/><circle cx="212.0" cy="385.3" r="2.9" class="h3"/><circle cx="239.8" cy="364.7" r="3.1" class="h5"/><circle cx="196.0" cy="399.6" r="4.1" class="h1"/><circle cx="206.9" cy="359.5" r="3.4" class="h4"/><circle cx="136.8" cy="388.9" r="3.5" class="h5"/><circle cx="179.2" cy="411.1" r="4.2" class="h3"/><circle cx="84.7" cy="400.9" r="4.2" class="h4"/><circle cx="129.5" cy="315.2" r="3.3" class="h5"/><circle cx="42.8" cy="387.0" r="4.2" class="h5"/><circle cx="76.9" cy="384.3" r="3.6" class="h2"/><circle cx="137.0" cy="326.1" r="2.9" class="h3"/><circle cx="138.3" cy="315.1" r="3.5" class="h3"/><circle cx="75.5" cy="368.9" r="3.4" class="h0"/><circle cx="178.9" cy="405.2" r="3.4" class="h3"/><circle cx="112.7" cy="373.5" r="4.2" class="h2"/><circle cx="193.3" cy="390.1" r="3.0" class="h1"/><circle cx="153.7" cy="336.1" r="3.9" class="h4"/><circle cx="129.0" cy="395.8" r="3.7" class="h0"/><circle cx="157.8" cy="397.8" r="3.9" class="h5"/><circle cx="95.9" cy="382.4" r="3.9" class="h3"/><circle cx="151.0" cy="402.6" r="3.1" class="h5"/><circle cx="155.1" cy="412.0" r="4.0" class="h2"/><circle cx="123.8" cy="306.3" r="4.4" class="h4"/><circle cx="91.3" cy="371.7" r="4.3" class="h4"/><circle cx="96.4" cy="402.5" r="4.2" class="h1"/><circle cx="167.2" cy="333.3" r="4.4" class="h2"/><circle cx="85.0" cy="402.8" r="4.1" class="h3"/><circle cx="160.4" cy="438.5" r="4.1" class="h3"/><circle cx="123.0" cy="384.4" r="3.7" class="h1"/><circle cx="157.0" cy="332.2" r="2.9" class="h2"/><circle cx="202.7" cy="345.1" r="3.7" class="h3"/><circle cx="105.5" cy="397.7" r="3.3" class="h3"/><circle cx="113.8" cy="317.4" r="4.1" class="h4"/><circle cx="165.9" cy="346.0" r="3.2" class="h5"/><circle cx="191.6" cy="370.2" r="3.3" class="h1"/><circle cx="133.9" cy="417.6" r="2.9" class="h2"/><circle cx="161.3" cy="352.2" r="3.7" class="h4"/><circle cx="174.2" cy="338.0" r="4.3" class="h2"/><circle cx="107.0" cy="380.2" r="4.1" class="h2"/><circle cx="115.4" cy="368.5" r="2.9" class="h0"/><circle cx="223.2" cy="357.8" r="4.4" class="h1"/><circle cx="117.5" cy="354.6" r="3.7" class="h0"/><circle cx="164.7" cy="336.4" r="3.2" class="h5"/><circle cx="103.4" cy="394.9" r="3.0" class="h0"/><circle cx="170.5" cy="394.1" r="4.1" class="h4"/><circle cx="178.9" cy="352.9" r="3.5" class="h5"/><circle cx="141.4" cy="409.6" r="4.0" class="h1"/><circle cx="154.5" cy="414.1" r="3.9" class="h3"/><circle cx="148.8" cy="430.9" r="3.1" class="h3"/><circle cx="144.1" cy="336.4" r="3.2" class="h4"/><circle cx="170.7" cy="349.0" r="4.0" class="h1"/><circle cx="79.7" cy="360.4" r="4.3" class="h3"/><circle cx="71.5" cy="390.2" r="3.5" class="h2"/><circle cx="199.3" cy="342.9" r="4.2" class="h4"/><circle cx="67.0" cy="388.6" r="3.3" class="h5"/><circle cx="161.8" cy="388.6" r="4.2" class="h3"/><circle cx="214.1" cy="388.6" r="3.4" class="h3"/><circle cx="161.3" cy="346.6" r="3.5" class="h0"/><circle cx="123.7" cy="333.8" r="3.6" class="h2"/><circle cx="92.9" cy="358.6" r="3.9" class="h4"/><circle cx="171.1" cy="424.4" r="3.7" class="h4"/><circle cx="102.7" cy="374.5" r="3.7" class="h1"/><circle cx="47.1" cy="383.8" r="4.1" class="h4"/><circle cx="85.4" cy="408.2" r="3.6" class="h2"/><circle cx="155.1" cy="329.1" r="4.1" class="h2"/><circle cx="167.2" cy="347.8" r="4.2" class="h3"/><circle cx="86.5" cy="367.4" r="3.8" class="h1"/><circle cx="215.4" cy="375.6" r="3.9" class="h0"/><circle cx="150.1" cy="398.1" r="2.8" class="h2"/><circle cx="95.9" cy="360.4" r="3.4" class="h2"/><circle cx="195.1" cy="365.7" r="3.2" class="h5"/><circle cx="139.7" cy="410.3" r="4.0" class="h3"/><circle cx="64.4" cy="393.8" r="3.6" class="h0"/><circle cx="183.9" cy="345.0" r="3.3" class="h1"/><circle cx="130.4" cy="341.9" r="3.3" class="h1"/><circle cx="173.6" cy="377.8" r="3.5" class="h3"/><circle cx="217.2" cy="355.6" r="3.3" class="h2"/><circle cx="188.4" cy="345.8" r="3.2" class="h4"/><circle cx="170.3" cy="399.5" r="3.9" class="h0"/><circle cx="184.3" cy="413.4" r="3.8" class="h2"/><circle cx="187.6" cy="407.4" r="3.5" class="h2"/><circle cx="149.7" cy="407.9" r="4.2" class="h1"/><circle cx="199.0" cy="357.6" r="2.8" class="h1"/><circle cx="135.9" cy="371.3" r="4.2" class="h5"/><circle cx="147.6" cy="411.3" r="3.5" class="h2"/><circle cx="135.9" cy="415.6" r="3.0" class="h2"/><circle cx="82.5" cy="381.1" r="3.3" class="h0"/><circle cx="110.8" cy="410.2" r="3.3" class="h2"/><circle cx="166.8" cy="373.4" r="4.1" class="h1"/><circle cx="157.0" cy="406.8" r="3.9" class="h3"/><circle cx="150.4" cy="357.8" r="3.5" class="h2"/><circle cx="146.4" cy="430.7" r="4.3" class="h2"/><circle cx="121.4" cy="417.3" r="3.4" class="h2"/><circle cx="120.8" cy="319.7" r="3.3" class="h2"/><circle cx="159.8" cy="416.3" r="2.8" class="h5"/><circle cx="63.9" cy="394.7" r="4.3" class="h4"/><circle cx="148.1" cy="427.0" r="3.6" class="h1"/><circle cx="65.3" cy="372.0" r="3.2" class="h0"/><circle cx="206.6" cy="346.3" r="4.2" class="h2"/><circle cx="143.5" cy="349.9" r="3.9" class="h2"/><circle cx="139.5" cy="351.6" r="3.5" class="h5"/><circle cx="200.7" cy="402.5" r="4.0" class="h2"/><circle cx="209.9" cy="377.7" r="3.1" class="h0"/><circle cx="143.4" cy="418.4" r="3.8" class="h0"/><circle cx="144.2" cy="367.4" r="4.1" class="h5"/><circle cx="58.0" cy="388.0" r="3.1" class="h0"/><circle cx="214.7" cy="366.1" r="3.7" class="h5"/><circle cx="173.0" cy="385.7" r="4.2" class="h3"/><circle cx="95.6" cy="364.0" r="3.8" class="h5"/><circle cx="162.7" cy="416.9" r="4.3" class="h3"/><circle cx="126.8" cy="341.3" r="4.3" class="h5"/><circle cx="228.7" cy="366.2" r="3.0" class="h4"/><circle cx="97.8" cy="401.4" r="2.9" class="h5"/><circle cx="169.4" cy="383.6" r="3.7" class="h2"/><circle cx="181.6" cy="361.6" r="3.6" class="h1"/><circle cx="57.4" cy="391.2" r="3.8" class="h2"/><circle cx="113.3" cy="322.8" r="2.8" class="h1"/><circle cx="153.6" cy="351.2" r="3.1" class="h5"/><circle cx="105.7" cy="380.7" r="2.9" class="h0"/><circle cx="192.0" cy="336.2" r="4.3" class="h4"/><circle cx="149.6" cy="331.1" r="2.9" class="h4"/><circle cx="160.9" cy="360.3" r="4.1" class="h0"/><circle cx="166.0" cy="373.9" r="4.0" class="h5"/><circle cx="161.8" cy="425.6" r="4.1" class="h3"/><circle cx="173.1" cy="342.5" r="4.2" class="h4"/><circle cx="134.9" cy="315.5" r="3.6" class="h5"/><circle cx="169.3" cy="326.4" r="3.4" class="h0"/><circle cx="200.6" cy="397.4" r="3.3" class="h5"/><circle cx="130.7" cy="345.5" r="2.9" class="h5"/><circle cx="110.2" cy="354.9" r="3.3" class="h5"/><circle cx="140.9" cy="355.4" r="4.0" class="h0"/><circle cx="150.0" cy="428.8" r="4.1" class="h0"/><circle cx="158.4" cy="399.3" r="3.4" class="h2"/><circle cx="202.6" cy="384.0" r="3.7" class="h2"/><circle cx="154.8" cy="336.5" r="3.9" class="h4"/><circle cx="220.4" cy="353.2" r="3.9" class="h4"/><circle cx="191.1" cy="380.6" r="4.2" class="h4"/><circle cx="113.5" cy="392.8" r="3.3" class="h5"/><circle cx="83.5" cy="396.4" r="3.5" class="h5"/><circle cx="175.4" cy="358.8" r="3.0" class="h4"/><circle cx="173.1" cy="393.6" r="3.2" class="h2"/><circle cx="180.3" cy="408.6" r="3.0" class="h0"/><circle cx="176.1" cy="362.9" r="3.9" class="h2"/><circle cx="162.9" cy="391.5" r="3.9" class="h0"/><circle cx="199.7" cy="371.5" r="3.2" class="h4"/><circle cx="191.1" cy="361.1" r="4.3" class="h4"/><circle cx="122.7" cy="309.2" r="3.5" class="h5"/><circle cx="112.0" cy="409.1" r="3.4" class="h5"/><circle cx="103.8" cy="389.1" r="3.1" class="h0"/><circle cx="156.2" cy="337.0" r="3.6" class="h2"/><circle cx="70.5" cy="368.6" r="4.3" class="h1"/><circle cx="226.3" cy="367.7" r="4.1" class="h0"/><circle cx="115.1" cy="314.4" r="4.2" class="h5"/><circle cx="139.9" cy="322.4" r="3.9" class="h2"/><circle cx="147.8" cy="431.6" r="3.8" class="h1"/><circle cx="137.8" cy="365.5" r="4.2" class="h3"/><circle cx="142.1" cy="420.4" r="4.3" class="h3"/><circle cx="94.8" cy="405.8" r="3.1" class="h4"/><circle cx="119.2" cy="311.2" r="4.0" class="h5"/><circle cx="155.0" cy="332.6" r="3.0" class="h1"/><circle cx="134.7" cy="343.3" r="2.9" class="h4"/><circle cx="179.6" cy="382.4" r="4.2" class="h5"/><circle cx="167.8" cy="402.6" r="4.2" class="h3"/><circle cx="152.8" cy="435.1" r="3.9" class="h0"/><circle cx="232.6" cy="358.5" r="3.9" class="h1"/><circle cx="142.7" cy="340.7" r="3.9" class="h1"/><circle cx="84.5" cy="402.1" r="3.5" class="h1"/><circle cx="96.5" cy="373.6" r="3.5" class="h5"/><circle cx="160.1" cy="411.3" r="3.1" class="h4"/><circle cx="169.3" cy="369.7" r="3.5" class="h4"/><circle cx="146.4" cy="327.2" r="3.7" class="h4"/><circle cx="153.6" cy="406.4" r="2.9" class="h4"/><circle cx="123.3" cy="371.2" r="4.0" class="h4"/><circle cx="159.4" cy="347.1" r="3.3" class="h0"/><circle cx="99.1" cy="394.7" r="3.7" class="h3"/><circle cx="152.6" cy="363.6" r="3.7" class="h0"/><circle cx="111.0" cy="357.1" r="3.6" class="h1"/><circle cx="99.8" cy="368.1" r="2.9" class="h5"/><circle cx="65.6" cy="379.2" r="3.8" class="h0"/><circle cx="191.3" cy="361.2" r="3.6" class="h5"/><circle cx="123.8" cy="409.9" r="3.3" class="h4"/><circle cx="150.5" cy="436.6" r="2.9" class="h4"/><circle cx="153.5" cy="364.7" r="3.5" class="h3"/><circle cx="158.0" cy="396.3" r="3.6" class="h5"/><circle cx="164.7" cy="421.6" r="3.5" class="h4"/><circle cx="90.3" cy="407.0" r="4.2" class="h3"/><circle cx="106.8" cy="387.5" r="3.2" class="h4"/><circle cx="116.3" cy="388.3" r="3.6" class="h3"/><circle cx="175.8" cy="351.7" r="4.0" class="h3"/><circle cx="60.9" cy="387.5" r="3.8" class="h3"/><circle cx="61.9" cy="365.5" r="3.1" class="h2"/><circle cx="121.1" cy="400.4" r="4.3" class="h4"/><circle cx="95.4" cy="334.4" r="4.2" class="h5"/><circle cx="159.1" cy="326.6" r="3.1" class="h0"/><circle cx="83.6" cy="369.7" r="3.8" class="h0"/><circle cx="141.0" cy="425.1" r="2.9" class="h5"/><circle cx="234.2" cy="354.2" r="4.0" class="h0"/><circle cx="59.3" cy="384.0" r="3.5" class="h4"/><circle cx="180.0" cy="370.0" r="3.1" class="h3"/><circle cx="210.3" cy="368.4" r="3.4" class="h4"/><circle cx="71.8" cy="373.3" r="3.1" class="h2"/><circle cx="143.9" cy="364.5" r="4.3" class="h0"/><circle cx="145.6" cy="333.8" r="3.0" class="h2"/><circle cx="124.1" cy="345.5" r="3.9" class="h3"/><circle cx="88.3" cy="394.6" r="2.9" class="h3"/><circle cx="172.5" cy="373.0" r="3.7" class="h3"/><circle cx="233.1" cy="356.1" r="3.4" class="h3"/><circle cx="81.2" cy="387.5" r="3.1" class="h4"/><circle cx="110.8" cy="399.2" r="3.1" class="h5"/><circle cx="159.1" cy="385.3" r="4.0" class="h5"/><circle cx="158.5" cy="331.0" r="3.2" class="h5"/><circle cx="151.1" cy="320.8" r="4.0" class="h2"/><circle cx="190.5" cy="398.9" r="3.6" class="h4"/><circle cx="107.5" cy="357.6" r="3.7" class="h4"/><circle cx="91.5" cy="396.0" r="3.3" class="h3"/><circle cx="49.4" cy="391.0" r="3.0" class="h2"/><circle cx="148.4" cy="431.6" r="3.2" class="h0"/><circle cx="165.1" cy="419.1" r="3.7" class="h5"/><circle cx="149.1" cy="351.5" r="3.9" class="h5"/><circle cx="134.9" cy="324.8" r="3.9" class="h5"/><circle cx="211.7" cy="368.2" r="4.2" class="h0"/><circle cx="178.0" cy="360.1" r="3.0" class="h1"/><circle cx="95.8" cy="353.9" r="3.4" class="h5"/><circle cx="198.7" cy="340.5" r="4.3" class="h5"/><circle cx="196.7" cy="365.0" r="2.8" class="h1"/><circle cx="187.1" cy="391.6" r="3.6" class="h2"/><circle cx="137.7" cy="381.8" r="2.8" class="h1"/><circle cx="134.1" cy="322.6" r="3.2" class="h2"/><circle cx="158.4" cy="358.6" r="2.8" class="h5"/><circle cx="49.9" cy="389.0" r="3.8" class="h1"/><circle cx="119.7" cy="328.5" r="3.3" class="h2"/><circle cx="161.2" cy="367.5" r="3.7" class="h4"/><circle cx="57.2" cy="373.0" r="4.0" class="h2"/><circle cx="205.5" cy="345.0" r="2.8" class="h0"/><circle cx="125.7" cy="328.5" r="3.9" class="h1"/><circle cx="160.9" cy="414.1" r="4.2" class="h3"/><circle cx="72.7" cy="373.4" r="3.9" class="h0"/><circle cx="124.8" cy="414.7" r="3.0" class="h3"/><circle cx="99.9" cy="407.0" r="2.8" class="h4"/><circle cx="65.3" cy="386.6" r="4.2" class="h4"/><circle cx="193.6" cy="398.4" r="3.9" class="h1"/><circle cx="65.8" cy="377.4" r="3.2" class="h3"/><circle cx="111.3" cy="400.8" r="3.1" class="h0"/><circle cx="136.0" cy="349.8" r="4.3" class="h3"/><circle cx="201.1" cy="395.1" r="2.9" class="h1"/><circle cx="137.9" cy="332.8" r="3.0" class="h4"/><circle cx="89.2" cy="394.2" r="3.9" class="h1"/><circle cx="121.0" cy="403.0" r="4.3" class="h2"/><circle cx="227.3" cy="355.9" r="3.4" class="h4"/><circle cx="138.6" cy="361.6" r="2.9" class="h1"/><circle cx="212.5" cy="372.0" r="3.6" class="h5"/><circle cx="203.8" cy="376.0" r="4.2" class="h2"/><circle cx="128.8" cy="373.9" r="4.0" class="h4"/><circle cx="131.9" cy="322.7" r="4.3" class="h0"/><circle cx="103.1" cy="419.1" r="4.2" class="h5"/><circle cx="62.0" cy="401.6" r="3.6" class="h2"/><circle cx="133.8" cy="402.4" r="3.0" class="h5"/><circle cx="135.1" cy="391.0" r="3.1" class="h1"/><circle cx="194.1" cy="384.3" r="3.5" class="h1"/><circle cx="92.5" cy="363.5" r="2.9" class="h5"/><circle cx="150.3" cy="402.5" r="3.5" class="h4"/><circle cx="128.9" cy="389.7" r="4.3" class="h3"/><circle cx="228.0" cy="355.1" r="3.5" class="h2"/><circle cx="107.2" cy="336.2" r="3.6" class="h1"/><circle cx="161.3" cy="433.3" r="4.3" class="h3"/><circle cx="106.7" cy="398.2" r="3.2" class="h3"/><circle cx="181.0" cy="337.8" r="3.9" class="h1"/><circle cx="177.4" cy="345.2" r="3.6" class="h4"/><circle cx="161.1" cy="327.2" r="4.0" class="h1"/><circle cx="182.7" cy="338.3" r="3.1" class="h3"/><circle cx="176.0" cy="412.6" r="3.5" class="h5"/><circle cx="67.7" cy="399.6" r="3.2" class="h0"/><circle cx="76.4" cy="368.7" r="3.5" class="h5"/><circle cx="68.5" cy="379.8" r="3.3" class="h2"/><circle cx="154.6" cy="416.3" r="3.5" class="h3"/><circle cx="126.4" cy="385.7" r="3.9" class="h0"/><circle cx="94.4" cy="375.4" r="2.9" class="h5"/><circle cx="93.2" cy="340.5" r="3.2" class="h0"/><circle cx="196.9" cy="407.3" r="3.7" class="h1"/><circle cx="154.2" cy="336.2" r="3.1" class="h2"/><circle cx="183.9" cy="337.8" r="3.4" class="h1"/><circle cx="174.9" cy="396.3" r="3.9" class="h2"/><circle cx="203.9" cy="378.8" r="3.5" class="h0"/><circle cx="164.9" cy="418.8" r="3.3" class="h0"/><circle cx="236.6" cy="357.8" r="3.6" class="h4"/><circle cx="181.4" cy="382.8" r="3.2" class="h1"/><circle cx="154.0" cy="339.9" r="3.0" class="h5"/><circle cx="65.9" cy="399.9" r="3.3" class="h4"/><circle cx="150.5" cy="363.2" r="4.3" class="h0"/><circle cx="214.5" cy="356.8" r="3.8" class="h1"/><circle cx="146.3" cy="350.7" r="3.4" class="h5"/><circle cx="153.3" cy="390.8" r="3.7" class="h2"/><circle cx="121.5" cy="415.8" r="2.9" class="h3"/><circle cx="133.9" cy="432.1" r="3.5" class="h0"/><circle cx="91.8" cy="363.6" r="3.0" class="h1"/><circle cx="102.7" cy="339.6" r="4.2" class="h4"/><circle cx="179.1" cy="404.6" r="4.1" class="h4"/><circle cx="65.0" cy="374.1" r="3.5" class="h2"/><circle cx="191.5" cy="339.9" r="4.1" class="h3"/><circle cx="132.7" cy="314.0" r="3.5" class="h5"/><circle cx="125.9" cy="316.4" r="3.5" class="h4"/><circle cx="177.2" cy="370.7" r="3.3" class="h5"/><circle cx="65.4" cy="385.6" r="4.0" class="h1"/><circle cx="169.5" cy="365.7" r="4.3" class="h4"/><circle cx="122.5" cy="331.5" r="4.2" class="h0"/><circle cx="169.2" cy="341.8" r="4.2" class="h2"/><circle cx="212.6" cy="353.2" r="4.0" class="h5"/><circle cx="77.7" cy="384.2" r="3.6" class="h0"/><circle cx="132.9" cy="311.7" r="3.2" class="h3"/><circle cx="147.3" cy="424.5" r="2.8" class="h2"/><circle cx="174.2" cy="429.2" r="2.8" class="h1"/><circle cx="181.3" cy="336.2" r="3.9" class="h4"/><circle cx="111.6" cy="341.8" r="3.6" class="h2"/><circle cx="210.3" cy="393.0" r="3.1" class="h4"/><circle cx="226.5" cy="367.7" r="3.6" class="h4"/><circle cx="194.3" cy="400.4" r="3.3" class="h2"/><circle cx="137.3" cy="314.4" r="4.1" class="h1"/><circle cx="212.7" cy="387.5" r="3.4" class="h5"/><circle cx="87.3" cy="399.7" r="3.3" class="h3"/><circle cx="111.7" cy="330.0" r="3.0" class="h4"/><circle cx="159.4" cy="359.1" r="3.3" class="h2"/><circle cx="154.9" cy="416.0" r="4.4" class="h1"/><circle cx="101.2" cy="348.2" r="3.3" class="h5"/><circle cx="98.5" cy="372.0" r="3.9" class="h2"/><circle cx="196.2" cy="400.1" r="3.4" class="h5"/><circle cx="208.0" cy="352.7" r="3.9" class="h1"/><circle cx="55.3" cy="373.9" r="2.9" class="h5"/><circle cx="169.8" cy="411.2" r="3.8" class="h3"/><circle cx="136.8" cy="387.0" r="3.1" class="h2"/><circle cx="112.5" cy="407.1" r="3.3" class="h1"/><circle cx="111.9" cy="378.8" r="4.4" class="h0"/><circle cx="207.2" cy="385.5" r="3.7" class="h3"/><circle cx="230.9" cy="370.5" r="4.1" class="h5"/><circle cx="162.2" cy="357.4" r="3.4" class="h1"/><circle cx="164.5" cy="366.6" r="3.1" class="h2"/><circle cx="106.8" cy="373.2" r="3.8" class="h5"/><circle cx="166.3" cy="337.5" r="3.4" class="h0"/><circle cx="160.5" cy="396.9" r="4.1" class="h5"/><circle cx="134.5" cy="401.5" r="3.1" class="h1"/><circle cx="168.3" cy="368.3" r="4.2" class="h4"/><circle cx="126.0" cy="334.3" r="2.8" class="h1"/><circle cx="102.5" cy="379.9" r="3.1" class="h4"/><circle cx="148.9" cy="396.3" r="4.4" class="h0"/><circle cx="132.7" cy="397.7" r="3.4" class="h1"/><circle cx="194.0" cy="383.7" r="3.0" class="h2"/><circle cx="147.7" cy="411.1" r="3.0" class="h4"/><circle cx="125.4" cy="375.7" r="4.2" class="h4"/><circle cx="70.8" cy="365.0" r="3.2" class="h5"/><circle cx="187.0" cy="372.4" r="3.4" class="h0"/><circle cx="109.0" cy="362.8" r="3.1" class="h5"/><circle cx="97.2" cy="337.9" r="3.6" class="h4"/><circle cx="77.7" cy="393.9" r="3.5" class="h4"/><circle cx="153.2" cy="349.8" r="2.9" class="h3"/><circle cx="151.8" cy="355.2" r="3.0" class="h3"/><circle cx="168.7" cy="370.9" r="3.9" class="h1"/><circle cx="120.7" cy="362.6" r="3.1" class="h0"/><circle cx="142.7" cy="316.7" r="2.8" class="h1"/><circle cx="162.8" cy="408.2" r="3.3" class="h0"/><circle cx="113.5" cy="379.0" r="3.5" class="h4"/><circle cx="98.8" cy="366.3" r="4.1" class="h3"/><circle cx="74.1" cy="394.1" r="2.9" class="h0"/><circle cx="193.2" cy="385.8" r="4.4" class="h2"/><circle cx="71.0" cy="382.2" r="3.9" class="h4"/><circle cx="106.8" cy="392.5" r="3.4" class="h4"/><circle cx="187.1" cy="402.3" r="3.0" class="h1"/><circle cx="100.3" cy="362.2" r="4.1" class="h3"/><circle cx="137.1" cy="395.4" r="3.0" class="h5"/><circle cx="107.5" cy="326.2" r="3.7" class="h2"/><circle cx="127.9" cy="364.4" r="3.5" class="h2"/><circle cx="84.5" cy="344.0" r="3.6" class="h3"/><circle cx="166.4" cy="330.5" r="3.7" class="h1"/><circle cx="137.5" cy="395.8" r="3.3" class="h4"/><circle cx="201.7" cy="386.5" r="3.8" class="h5"/><circle cx="141.6" cy="389.7" r="3.0" class="h2"/><circle cx="140.3" cy="357.8" r="3.5" class="h2"/><circle cx="53.1" cy="381.9" r="4.3" class="h4"/><circle cx="163.1" cy="429.3" r="3.3" class="h3"/><circle cx="92.3" cy="342.2" r="4.0" class="h6"/><circle cx="111.4" cy="366.2" r="3.6" class="h6"/><circle cx="110.2" cy="375.2" r="3.2" class="h6"/><circle cx="157.2" cy="351.2" r="4.3" class="h6"/><circle cx="152.0" cy="394.7" r="3.6" class="h6"/><circle cx="88.5" cy="373.5" r="3.2" class="h6"/><circle cx="55.4" cy="382.7" r="3.2" class="h6"/><circle cx="137.0" cy="416.4" r="4.0" class="h6"/><circle cx="125.0" cy="419.6" r="3.2" class="h6"/><circle cx="165.7" cy="413.1" r="3.2" class="h6"/><circle cx="211.6" cy="385.9" r="3.2" class="h6"/><circle cx="180.0" cy="354.7" r="2.9" class="h6"/><circle cx="150.0" cy="354.7" r="3.6" class="h6"/></g></g>

</g>
<polyline points="41.0,334.0 158.7,376.5 242.2,308.5" fill="none" stroke="#9a9a9a" stroke-width="0.6"/>
<line x1="242.2" y1="308.5" x2="242.2" y2="284.3" stroke="#555" stroke-width="0.7"/>
<line x1="240.9" y1="308.5" x2="242.2" y2="308.5" stroke="#555" stroke-width="0.5"/>
<line x1="241.4" y1="305.5" x2="242.2" y2="305.5" stroke="#555" stroke-width="0.5"/>
<line x1="240.9" y1="302.4" x2="242.2" y2="302.4" stroke="#555" stroke-width="0.5"/>
<line x1="241.4" y1="299.4" x2="242.2" y2="299.4" stroke="#555" stroke-width="0.5"/>
<line x1="240.9" y1="296.4" x2="242.2" y2="296.4" stroke="#555" stroke-width="0.5"/>
<line x1="241.4" y1="293.4" x2="242.2" y2="293.4" stroke="#555" stroke-width="0.5"/>
<line x1="240.9" y1="290.4" x2="242.2" y2="290.4" stroke="#555" stroke-width="0.5"/>
<line x1="241.4" y1="287.3" x2="242.2" y2="287.3" stroke="#555" stroke-width="0.5"/>
<line x1="240.9" y1="284.3" x2="242.2" y2="284.3" stroke="#555" stroke-width="0.5"/>
<text class="at" x="250.2" y="283.0" text-anchor="middle">nm</text>
<text class="at" x="250.2" y="287.5" text-anchor="middle">10</text>
<text class="at" x="249.2" y="293.0" text-anchor="middle">7.5</text>
<text class="at" x="251.7" y="299.5" text-anchor="middle">5</text>
<text class="at" x="250.2" y="304.5" text-anchor="middle">2.5</text>
<text class="at" transform="translate(39.0,338.5) rotate(19.85401814034002)" text-anchor="middle">1000</text>
<text class="at" transform="translate(68.4,349.1) rotate(19.85401814034002)" text-anchor="middle">750</text>
<text class="at" transform="translate(97.8,359.8) rotate(19.85401814034002)" text-anchor="middle">500</text>
<text class="at" transform="translate(97.2,363.1) rotate(19.85401814034002)" text-anchor="middle">nm</text>
<text class="at" transform="translate(127.3,370.4) rotate(19.85401814034002)" text-anchor="middle">250</text>
<text class="at" transform="translate(155.2,380.7) rotate(0)" text-anchor="middle">0</text>
<text class="at" transform="translate(163.2,380.7) rotate(0)" text-anchor="middle">0</text>
<text class="at" transform="translate(188.2,360.6) rotate(-39.15838113318111)" text-anchor="middle">250</text>
<text class="at" transform="translate(209.1,343.6) rotate(-39.15838113318111)" text-anchor="middle">500</text>
<text class="at" transform="translate(212.1,345.6) rotate(-39.15838113318111)" text-anchor="middle">nm</text>
<text class="at" transform="translate(230.0,326.6) rotate(-39.15838113318111)" text-anchor="middle">750</text>
<text class="at" transform="translate(249.7,311.0) rotate(-39.15838113318111)" text-anchor="middle">1000</text>
<clipPath id="clipD"><polygon points="331.3,331.3 332.5,328.5 333.6,329.3 334.8,327.4 336.0,325.8 337.2,325.7 338.3,324.6 339.5,322.9 340.7,323.1 341.8,321.1 343.0,321.9 344.2,320.2 345.4,317.7 346.5,317.8 347.7,318.0 348.9,316.2 350.0,314.5 351.2,314.7 352.4,313.5 353.6,311.4 354.7,310.2 355.9,309.6 357.1,309.3 358.3,307.2 359.4,306.3 360.6,306.3 361.8,304.8 362.9,303.4 364.1,303.2 365.3,302.1 366.5,302.3 367.6,299.9 368.8,298.5 370.0,297.7 371.1,296.4 372.3,296.4 373.5,295.0 374.7,295.9 375.8,294.9 377.0,293.6 378.2,292.9 379.3,291.0 380.5,288.8 381.7,289.8 382.9,284.5 384.0,287.4 385.2,285.7 386.4,285.1 387.5,285.0 388.7,284.2 389.9,282.2 391.1,279.3 392.2,281.2 393.4,279.7 394.6,277.4 395.8,277.9 396.9,276.6 398.1,275.5 399.3,274.5 400.4,272.5 401.6,272.1 402.8,270.9 404.0,270.9 405.1,270.5 406.3,269.4 407.5,267.7 408.6,267.1 409.8,265.5 411.0,265.9 412.2,264.4 413.3,263.6 414.5,261.1 415.9,263.6 417.3,263.7 418.8,263.7 420.2,265.2 421.6,264.4 423.0,264.0 424.5,265.7 425.9,267.5 427.3,267.7 428.7,266.2 430.2,267.3 431.6,267.5 433.0,268.5 434.4,270.1 435.8,270.5 437.3,269.8 438.7,270.3 440.1,272.4 441.5,271.1 443.0,269.8 444.4,272.4 445.8,273.4 447.2,273.1 448.7,274.5 450.1,274.7 451.5,275.2 452.9,275.5 454.3,277.9 455.8,276.3 457.2,277.4 458.6,278.6 460.0,279.9 461.5,278.3 462.9,280.8 464.3,279.3 465.7,281.5 467.2,281.0 468.6,281.9 470.0,278.2 471.4,283.1 472.9,283.3 474.3,283.0 475.7,284.4 477.1,284.7 478.5,284.5 480.0,285.7 481.4,287.3 482.8,286.5 484.2,287.7 485.7,287.7 487.1,288.2 488.5,288.6 489.9,290.1 491.4,289.1 492.8,287.8 494.2,290.0 495.6,292.4 497.0,292.0 498.5,291.9 499.9,292.3 501.3,293.0 502.7,293.3 504.2,294.6 505.6,296.2 507.0,294.8 508.4,297.7 509.9,297.4 511.3,298.4 512.7,296.8 514.1,298.8 515.5,298.1 517.0,300.7 518.4,299.1 519.8,300.1 521.2,300.7 522.7,301.5 524.1,302.9 525.5,303.9 526.9,302.2 528.4,304.8 529.8,304.6 531.2,304.6 530.0,306.3 528.9,307.5 527.7,307.7 526.5,309.5 525.3,308.7 524.2,309.3 523.0,311.4 521.8,313.3 520.7,313.2 519.5,314.7 518.3,316.1 517.1,316.4 516.0,316.3 514.8,316.8 513.6,319.3 512.5,320.7 511.3,320.4 510.1,322.2 508.9,321.8 507.8,321.2 506.6,324.5 505.4,325.1 504.2,327.5 503.1,326.2 501.9,328.4 500.7,329.1 499.6,330.2 498.4,331.2 497.2,333.0 496.0,334.1 494.9,333.5 493.7,336.0 492.5,335.0 491.4,335.8 490.2,338.3 489.0,337.9 487.8,339.4 486.7,340.7 485.5,341.7 484.3,343.8 483.2,343.1 482.0,344.0 480.8,345.9 479.6,346.9 478.5,346.6 477.3,349.2 476.1,349.7 475.0,349.1 473.8,352.1 472.6,352.3 471.4,353.6 470.3,353.7 469.1,355.8 467.9,357.0 466.7,358.1 465.6,358.4 464.4,359.1 463.2,361.1 462.1,360.0 460.9,362.1 459.7,362.2 458.5,364.1 457.4,365.0 456.2,365.5 455.0,365.6 453.9,368.8 452.7,369.8 451.5,368.7 450.3,370.3 449.2,370.6 448.0,372.9 446.6,373.1 445.2,370.0 443.7,370.8 442.3,368.9 440.9,369.3 439.5,368.9 438.0,365.2 436.6,367.2 435.2,368.3 433.8,368.2 432.3,367.3 430.9,365.2 429.5,366.0 428.1,363.9 426.7,364.6 425.2,365.1 423.8,364.7 422.4,364.1 421.0,361.9 419.5,362.3 418.1,361.8 416.7,360.2 415.3,359.9 413.8,359.4 412.4,356.4 411.0,358.0 409.6,358.8 408.2,356.9 406.7,357.3 405.3,357.7 403.9,357.0 402.5,356.2 401.0,355.0 399.6,355.9 398.2,355.1 396.8,350.2 395.3,350.0 393.9,352.7 392.5,351.2 391.1,352.9 389.6,348.5 388.2,351.1 386.8,350.0 385.4,349.2 384.0,349.1 382.5,347.7 381.1,348.0 379.7,347.1 378.3,347.2 376.8,347.0 375.4,347.0 374.0,344.5 372.6,344.4 371.1,345.6 369.7,344.0 368.3,344.4 366.9,343.8 365.5,341.8 364.0,341.4 362.6,341.3 361.2,341.4 359.8,341.1 358.3,339.4 356.9,338.0 355.5,338.9 354.1,339.2 352.6,337.3 351.2,337.3 349.8,335.8 348.4,336.6 347.0,336.5 345.5,336.3 344.1,335.4 342.7,333.0 341.3,333.7 339.8,334.0 338.4,333.0 337.0,332.2 335.6,332.0 334.1,329.2 332.7,331.0"/></clipPath>
<filter id="fD" x="327.3" y="253.5" width="207.9" height="124.5" filterUnits="userSpaceOnUse" color-interpolation-filters="sRGB">
<feTurbulence type="fractalNoise" baseFrequency="0.14" numOctaves="2" seed="21" result="t"/>
<feComposite in="SourceGraphic" in2="t" operator="arithmetic" k1="0" k2="1" k3="0.7" k4="-0.350" result="hs"/>
<feColorMatrix in="hs" type="matrix" values="0 0 0 0 0  0 0 0 0 0  0 0 0 0 0  1 0 0 0 0" result="h"/>
<feDiffuseLighting in="h" surfaceScale="4" diffuseConstant="1" lighting-color="#fff" result="lit"><feDistantLight azimuth="255" elevation="40"/></feDiffuseLighting>
<feColorMatrix in="hs" type="matrix" values="1 0 0 0 0  1 0 0 0 0  1 0 0 0 0  0 0 0 0 1" result="g"/>
<feComposite in="g" in2="lit" operator="arithmetic" k1="0" k2="1.3" k3="0.3" k4="-0.18" result="val"/>
<feComponentTransfer in="val"><feFuncR type="table" tableValues="0.36 0.48 0.60 0.70 0.79 0.87 0.94"/><feFuncG type="table" tableValues="0.19 0.29 0.41 0.52 0.63 0.75 0.87"/><feFuncB type="table" tableValues="0.02 0.06 0.11 0.18 0.28 0.43 0.64"/><feFuncA type="table" tableValues="1 1"/></feComponentTransfer>
</filter>
<g clip-path="url(#clipD)"><g filter="url(#fD)" style="isolation:isolate"><rect x="327.3" y="253.5" width="207.9" height="124.5" fill="#333"/><g style="mix-blend-mode:lighten" transform="scale(1,0.85)"><circle cx="435.6" cy="368.5" r="2.9" class="h2"/><circle cx="411.0" cy="336.2" r="3.9" class="h1"/><circle cx="440.3" cy="332.8" r="3.0" class="h0"/><circle cx="430.4" cy="354.0" r="4.3" class="h0"/><circle cx="400.3" cy="406.3" r="3.8" class="h0"/><circle cx="454.9" cy="406.9" r="3.0" class="h0"/><circle cx="416.8" cy="328.5" r="4.3" class="h5"/><circle cx="524.6" cy="370.8" r="3.3" class="h1"/><circle cx="345.0" cy="380.8" r="3.5" class="h5"/><circle cx="371.9" cy="377.4" r="4.2" class="h1"/><circle cx="411.2" cy="314.6" r="3.5" class="h0"/><circle cx="472.0" cy="337.9" r="3.1" class="h4"/><circle cx="401.7" cy="361.3" r="3.6" class="h5"/><circle cx="370.9" cy="399.5" r="3.6" class="h1"/><circle cx="504.5" cy="361.4" r="3.5" class="h0"/><circle cx="473.1" cy="415.1" r="3.0" class="h5"/><circle cx="511.7" cy="355.4" r="3.8" class="h4"/><circle cx="430.6" cy="371.8" r="2.9" class="h5"/><circle cx="452.6" cy="332.1" r="3.0" class="h2"/><circle cx="373.1" cy="350.6" r="3.8" class="h0"/><circle cx="468.7" cy="344.6" r="3.9" class="h3"/><circle cx="444.5" cy="379.9" r="2.9" class="h3"/><circle cx="394.1" cy="341.4" r="3.1" class="h2"/><circle cx="458.3" cy="374.4" r="3.2" class="h2"/><circle cx="370.8" cy="393.1" r="3.9" class="h2"/><circle cx="365.5" cy="374.9" r="3.0" class="h4"/><circle cx="427.1" cy="398.2" r="4.2" class="h4"/><circle cx="461.1" cy="371.1" r="4.3" class="h1"/><circle cx="497.0" cy="350.1" r="3.7" class="h3"/><circle cx="431.0" cy="345.4" r="3.3" class="h0"/><circle cx="417.1" cy="415.8" r="3.8" class="h4"/><circle cx="448.6" cy="435.0" r="3.4" class="h2"/><circle cx="454.8" cy="398.3" r="3.5" class="h1"/><circle cx="365.6" cy="368.9" r="4.2" class="h2"/><circle cx="447.5" cy="405.3" r="3.9" class="h5"/><circle cx="428.8" cy="428.5" r="3.1" class="h4"/><circle cx="468.3" cy="417.8" r="4.0" class="h5"/><circle cx="440.1" cy="430.5" r="4.3" class="h3"/><circle cx="454.7" cy="417.1" r="3.9" class="h3"/><circle cx="468.9" cy="401.6" r="4.0" class="h0"/><circle cx="426.0" cy="430.8" r="4.2" class="h1"/><circle cx="384.7" cy="360.4" r="3.2" class="h0"/><circle cx="422.3" cy="409.1" r="3.8" class="h2"/><circle cx="479.7" cy="408.1" r="3.3" class="h4"/><circle cx="454.2" cy="366.3" r="4.3" class="h4"/><circle cx="405.8" cy="388.9" r="4.0" class="h3"/><circle cx="410.5" cy="418.6" r="3.3" class="h0"/><circle cx="420.2" cy="384.8" r="3.1" class="h1"/><circle cx="449.0" cy="363.1" r="3.3" class="h2"/><circle cx="342.9" cy="391.4" r="3.9" class="h5"/><circle cx="461.3" cy="357.0" r="4.3" class="h2"/><circle cx="483.5" cy="379.3" r="3.6" class="h3"/><circle cx="475.0" cy="333.5" r="3.4" class="h5"/><circle cx="440.4" cy="361.8" r="2.9" class="h2"/><circle cx="409.3" cy="422.2" r="3.4" class="h4"/><circle cx="445.7" cy="372.4" r="3.8" class="h2"/><circle cx="357.3" cy="364.3" r="4.0" class="h1"/><circle cx="475.5" cy="388.6" r="3.7" class="h2"/><circle cx="495.7" cy="343.4" r="2.8" class="h0"/><circle cx="354.5" cy="378.1" r="2.8" class="h0"/><circle cx="460.7" cy="430.5" r="3.6" class="h3"/><circle cx="405.7" cy="395.1" r="3.3" class="h5"/><circle cx="404.6" cy="387.2" r="3.6" class="h2"/><circle cx="412.5" cy="321.1" r="4.4" class="h2"/><circle cx="403.2" cy="412.7" r="4.3" class="h2"/><circle cx="395.0" cy="389.5" r="4.3" class="h2"/><circle cx="437.4" cy="402.1" r="3.4" class="h5"/><circle cx="431.7" cy="354.1" r="4.3" class="h2"/><circle cx="405.4" cy="321.3" r="4.2" class="h4"/><circle cx="523.6" cy="368.5" r="4.0" class="h1"/><circle cx="378.0" cy="358.6" r="4.0" class="h4"/><circle cx="399.9" cy="329.2" r="3.5" class="h3"/><circle cx="383.2" cy="373.1" r="3.0" class="h1"/><circle cx="415.3" cy="307.1" r="3.0" class="h2"/><circle cx="393.8" cy="383.4" r="3.5" class="h5"/><circle cx="451.6" cy="422.1" r="4.4" class="h2"/><circle cx="460.5" cy="328.4" r="3.3" class="h4"/><circle cx="442.4" cy="421.6" r="4.0" class="h0"/><circle cx="453.4" cy="419.1" r="3.3" class="h2"/><circle cx="508.2" cy="364.4" r="3.6" class="h3"/><circle cx="466.2" cy="352.8" r="3.0" class="h0"/><circle cx="452.8" cy="416.9" r="3.8" class="h5"/><circle cx="473.0" cy="374.8" r="2.9" class="h2"/><circle cx="362.1" cy="393.8" r="3.6" class="h0"/><circle cx="467.3" cy="381.1" r="4.2" class="h4"/><circle cx="392.1" cy="403.9" r="4.3" class="h2"/><circle cx="495.0" cy="343.4" r="4.3" class="h0"/><circle cx="442.9" cy="381.6" r="4.0" class="h0"/><circle cx="389.0" cy="337.4" r="3.8" class="h0"/><circle cx="401.3" cy="339.4" r="2.9" class="h2"/><circle cx="369.5" cy="406.5" r="3.3" class="h2"/><circle cx="462.2" cy="365.7" r="3.9" class="h1"/><circle cx="442.6" cy="348.7" r="3.9" class="h1"/><circle cx="507.4" cy="349.8" r="3.6" class="h3"/><circle cx="499.2" cy="389.0" r="3.4" class="h2"/><circle cx="434.2" cy="398.9" r="4.3" class="h2"/><circle cx="428.1" cy="358.4" r="4.2" class="h1"/><circle cx="471.6" cy="366.0" r="4.0" class="h4"/><circle cx="436.1" cy="385.3" r="4.2" class="h5"/><circle cx="368.8" cy="371.2" r="3.2" class="h0"/><circle cx="492.5" cy="397.5" r="4.2" class="h5"/><circle cx="429.3" cy="328.2" r="4.2" class="h3"/><circle cx="408.2" cy="332.5" r="3.7" class="h0"/><circle cx="431.8" cy="346.5" r="3.1" class="h1"/><circle cx="447.4" cy="377.9" r="3.6" class="h4"/><circle cx="475.1" cy="388.8" r="3.9" class="h1"/><circle cx="431.2" cy="397.0" r="4.0" class="h3"/><circle cx="479.8" cy="401.0" r="3.1" class="h2"/><circle cx="417.5" cy="382.1" r="4.3" class="h3"/><circle cx="437.6" cy="435.9" r="3.0" class="h1"/><circle cx="427.1" cy="343.7" r="3.8" class="h5"/><circle cx="450.7" cy="341.5" r="3.1" class="h2"/><circle cx="455.6" cy="401.0" r="3.9" class="h2"/><circle cx="395.6" cy="397.2" r="3.2" class="h4"/><circle cx="364.3" cy="395.8" r="3.5" class="h1"/><circle cx="457.6" cy="330.3" r="4.3" class="h3"/><circle cx="491.4" cy="364.8" r="3.3" class="h1"/><circle cx="333.6" cy="392.0" r="2.9" class="h4"/><circle cx="428.7" cy="346.1" r="2.9" class="h1"/><circle cx="473.7" cy="350.7" r="3.7" class="h2"/><circle cx="363.3" cy="396.6" r="3.6" class="h5"/><circle cx="482.9" cy="382.4" r="3.1" class="h4"/><circle cx="338.8" cy="390.8" r="3.2" class="h2"/><circle cx="398.5" cy="346.2" r="3.3" class="h3"/><circle cx="469.8" cy="387.8" r="4.0" class="h2"/><circle cx="474.0" cy="345.9" r="2.8" class="h1"/><circle cx="492.9" cy="390.2" r="4.4" class="h3"/><circle cx="446.2" cy="358.9" r="3.8" class="h1"/><circle cx="478.4" cy="350.5" r="3.1" class="h2"/><circle cx="460.9" cy="337.1" r="4.3" class="h4"/><circle cx="411.8" cy="384.1" r="4.2" class="h1"/><circle cx="500.7" cy="355.2" r="4.3" class="h5"/><circle cx="417.0" cy="386.1" r="2.9" class="h0"/><circle cx="416.1" cy="340.9" r="3.8" class="h2"/><circle cx="501.9" cy="382.1" r="3.2" class="h4"/><circle cx="434.6" cy="371.9" r="4.3" class="h2"/><circle cx="432.3" cy="396.8" r="3.2" class="h2"/><circle cx="376.3" cy="356.6" r="4.2" class="h3"/><circle cx="488.3" cy="392.0" r="3.7" class="h0"/><circle cx="438.4" cy="383.3" r="3.8" class="h1"/><circle cx="509.8" cy="377.4" r="3.0" class="h4"/><circle cx="496.6" cy="344.8" r="3.8" class="h1"/><circle cx="453.5" cy="411.7" r="3.2" class="h4"/><circle cx="473.5" cy="399.3" r="4.1" class="h5"/><circle cx="473.6" cy="358.8" r="3.7" class="h4"/><circle cx="479.9" cy="404.4" r="4.0" class="h4"/><circle cx="447.7" cy="438.3" r="3.2" class="h0"/><circle cx="436.4" cy="382.7" r="4.3" class="h2"/><circle cx="375.9" cy="375.1" r="2.9" class="h0"/><circle cx="403.5" cy="418.0" r="4.3" class="h1"/><circle cx="426.8" cy="423.9" r="4.1" class="h3"/><circle cx="408.2" cy="400.1" r="3.1" class="h0"/><circle cx="469.2" cy="344.2" r="2.9" class="h2"/><circle cx="469.6" cy="335.6" r="3.4" class="h1"/><circle cx="480.7" cy="391.1" r="3.5" class="h3"/><circle cx="395.9" cy="356.6" r="2.9" class="h4"/><circle cx="478.0" cy="334.2" r="2.9" class="h0"/><circle cx="478.4" cy="342.2" r="3.7" class="h0"/><circle cx="472.4" cy="414.9" r="4.4" class="h5"/><circle cx="450.5" cy="403.4" r="4.1" class="h1"/><circle cx="357.2" cy="366.3" r="4.3" class="h1"/><circle cx="418.6" cy="384.6" r="4.3" class="h4"/><circle cx="366.3" cy="385.0" r="2.9" class="h3"/><circle cx="449.8" cy="428.4" r="4.0" class="h4"/><circle cx="438.1" cy="414.2" r="3.6" class="h1"/><circle cx="415.6" cy="313.7" r="3.0" class="h3"/><circle cx="405.8" cy="339.2" r="3.6" class="h0"/><circle cx="413.4" cy="417.0" r="3.5" class="h4"/><circle cx="473.4" cy="416.8" r="3.1" class="h5"/><circle cx="371.8" cy="360.8" r="4.4" class="h5"/><circle cx="443.5" cy="425.3" r="2.9" class="h4"/><circle cx="481.6" cy="358.4" r="3.1" class="h2"/><circle cx="417.9" cy="375.1" r="3.3" class="h4"/><circle cx="428.6" cy="384.2" r="4.0" class="h4"/><circle cx="415.3" cy="355.6" r="4.1" class="h3"/><circle cx="329.4" cy="392.5" r="4.1" class="h2"/><circle cx="488.8" cy="373.5" r="2.8" class="h2"/><circle cx="492.0" cy="393.8" r="3.5" class="h1"/><circle cx="530.9" cy="360.2" r="3.2" class="h3"/><circle cx="501.5" cy="361.9" r="4.3" class="h4"/><circle cx="424.3" cy="425.0" r="3.3" class="h5"/><circle cx="452.2" cy="378.3" r="4.4" class="h1"/><circle cx="365.9" cy="392.9" r="2.8" class="h1"/><circle cx="490.1" cy="386.1" r="3.2" class="h1"/><circle cx="453.8" cy="366.4" r="3.3" class="h2"/><circle cx="463.4" cy="378.8" r="2.9" class="h0"/><circle cx="400.2" cy="405.2" r="3.5" class="h2"/><circle cx="429.2" cy="394.9" r="4.0" class="h4"/><circle cx="414.1" cy="349.1" r="3.3" class="h5"/><circle cx="449.5" cy="370.3" r="4.2" class="h3"/><circle cx="512.3" cy="350.9" r="3.2" class="h3"/><circle cx="421.1" cy="413.8" r="2.8" class="h5"/><circle cx="394.8" cy="365.2" r="3.8" class="h5"/><circle cx="510.2" cy="357.3" r="4.2" class="h5"/><circle cx="519.7" cy="353.7" r="4.0" class="h1"/><circle cx="436.0" cy="383.3" r="3.9" class="h0"/><circle cx="442.5" cy="327.8" r="3.3" class="h4"/><circle cx="427.5" cy="322.1" r="4.2" class="h2"/><circle cx="462.1" cy="422.7" r="3.3" class="h4"/><circle cx="444.3" cy="427.9" r="3.5" class="h5"/><circle cx="405.4" cy="323.6" r="4.1" class="h1"/><circle cx="463.1" cy="398.1" r="3.4" class="h5"/><circle cx="444.1" cy="389.9" r="4.3" class="h3"/><circle cx="468.0" cy="332.5" r="3.2" class="h2"/><circle cx="372.6" cy="401.8" r="4.3" class="h1"/><circle cx="459.0" cy="338.9" r="4.3" class="h3"/><circle cx="362.1" cy="391.3" r="4.2" class="h2"/><circle cx="456.7" cy="357.9" r="2.8" class="h5"/><circle cx="393.1" cy="410.1" r="3.0" class="h1"/><circle cx="442.4" cy="370.6" r="3.5" class="h0"/><circle cx="421.2" cy="421.8" r="3.2" class="h4"/><circle cx="457.8" cy="350.8" r="3.1" class="h1"/><circle cx="467.6" cy="408.9" r="3.1" class="h3"/><circle cx="420.9" cy="430.9" r="3.5" class="h1"/><circle cx="408.2" cy="361.2" r="3.4" class="h2"/><circle cx="429.0" cy="317.4" r="3.7" class="h0"/><circle cx="523.2" cy="358.7" r="3.8" class="h4"/><circle cx="403.5" cy="388.0" r="4.1" class="h5"/><circle cx="389.3" cy="385.9" r="3.6" class="h0"/><circle cx="523.1" cy="365.4" r="4.0" class="h2"/><circle cx="458.1" cy="417.0" r="3.2" class="h0"/><circle cx="401.2" cy="420.4" r="3.0" class="h2"/><circle cx="365.0" cy="396.1" r="3.2" class="h5"/><circle cx="400.4" cy="369.7" r="3.7" class="h0"/><circle cx="450.4" cy="408.9" r="3.4" class="h5"/><circle cx="372.9" cy="348.3" r="3.0" class="h5"/><circle cx="405.1" cy="316.4" r="3.9" class="h2"/><circle cx="509.8" cy="352.8" r="3.7" class="h2"/><circle cx="381.8" cy="415.0" r="4.3" class="h1"/><circle cx="377.8" cy="358.6" r="3.2" class="h4"/><circle cx="469.2" cy="415.4" r="3.0" class="h2"/><circle cx="374.3" cy="396.0" r="2.9" class="h5"/><circle cx="383.7" cy="362.7" r="3.2" class="h0"/><circle cx="448.3" cy="425.6" r="2.9" class="h4"/><circle cx="477.8" cy="375.0" r="4.2" class="h2"/><circle cx="436.6" cy="404.0" r="3.1" class="h0"/><circle cx="447.2" cy="339.0" r="4.1" class="h0"/><circle cx="395.5" cy="365.6" r="3.1" class="h5"/><circle cx="427.1" cy="331.2" r="3.0" class="h0"/><circle cx="483.2" cy="404.8" r="3.8" class="h5"/><circle cx="508.1" cy="380.8" r="4.1" class="h3"/><circle cx="401.3" cy="327.4" r="3.9" class="h4"/><circle cx="371.2" cy="405.2" r="3.4" class="h2"/><circle cx="421.2" cy="360.7" r="3.4" class="h3"/><circle cx="493.9" cy="348.4" r="2.8" class="h3"/><circle cx="427.7" cy="431.8" r="3.5" class="h3"/><circle cx="485.4" cy="375.6" r="3.4" class="h2"/><circle cx="373.5" cy="350.2" r="4.1" class="h2"/><circle cx="490.3" cy="374.1" r="3.6" class="h1"/><circle cx="375.4" cy="391.2" r="3.3" class="h1"/><circle cx="366.1" cy="352.7" r="4.1" class="h2"/><circle cx="480.1" cy="389.0" r="4.1" class="h1"/><circle cx="457.8" cy="434.8" r="3.4" class="h5"/><circle cx="405.1" cy="337.3" r="2.8" class="h0"/><circle cx="479.6" cy="344.7" r="3.5" class="h5"/><circle cx="408.0" cy="334.0" r="4.0" class="h4"/><circle cx="478.6" cy="344.2" r="3.7" class="h5"/><circle cx="399.8" cy="322.1" r="3.4" class="h3"/><circle cx="454.4" cy="385.9" r="3.0" class="h4"/><circle cx="498.3" cy="384.8" r="3.0" class="h2"/><circle cx="471.8" cy="342.9" r="2.8" class="h5"/><circle cx="479.0" cy="384.1" r="4.0" class="h0"/><circle cx="415.0" cy="360.3" r="3.0" class="h3"/><circle cx="468.7" cy="348.1" r="3.7" class="h0"/><circle cx="327.7" cy="391.5" r="4.0" class="h5"/><circle cx="372.5" cy="379.4" r="4.3" class="h2"/><circle cx="396.8" cy="404.6" r="3.1" class="h1"/><circle cx="482.7" cy="402.4" r="3.5" class="h0"/><circle cx="356.9" cy="370.6" r="4.1" class="h3"/><circle cx="405.5" cy="390.9" r="4.3" class="h5"/><circle cx="389.3" cy="384.8" r="3.0" class="h0"/><circle cx="475.1" cy="391.4" r="4.1" class="h2"/><circle cx="425.9" cy="349.9" r="3.1" class="h2"/><circle cx="389.9" cy="381.8" r="4.0" class="h2"/><circle cx="396.7" cy="359.6" r="3.4" class="h3"/><circle cx="384.4" cy="373.6" r="3.9" class="h5"/><circle cx="426.4" cy="344.5" r="4.4" class="h4"/><circle cx="393.6" cy="417.6" r="4.1" class="h2"/><circle cx="425.4" cy="359.1" r="3.1" class="h5"/><circle cx="474.5" cy="333.1" r="4.3" class="h4"/><circle cx="411.0" cy="406.6" r="3.3" class="h2"/><circle cx="503.0" cy="357.8" r="4.2" class="h3"/><circle cx="461.8" cy="393.5" r="3.7" class="h4"/><circle cx="427.3" cy="388.6" r="3.7" class="h1"/><circle cx="338.0" cy="385.0" r="3.9" class="h5"/><circle cx="438.2" cy="320.6" r="2.8" class="h2"/><circle cx="515.8" cy="369.1" r="2.8" class="h5"/><circle cx="433.4" cy="410.2" r="3.9" class="h5"/><circle cx="446.9" cy="435.1" r="3.3" class="h2"/><circle cx="444.1" cy="426.3" r="3.0" class="h0"/><circle cx="410.7" cy="324.9" r="3.1" class="h5"/><circle cx="370.0" cy="354.0" r="3.0" class="h5"/><circle cx="363.8" cy="385.1" r="3.7" class="h5"/><circle cx="443.5" cy="335.8" r="3.8" class="h1"/><circle cx="349.5" cy="368.7" r="3.8" class="h5"/><circle cx="345.7" cy="387.1" r="3.4" class="h1"/><circle cx="443.5" cy="383.8" r="3.2" class="h4"/><circle cx="440.4" cy="332.4" r="2.9" class="h0"/><circle cx="341.9" cy="387.4" r="3.7" class="h5"/><circle cx="389.9" cy="381.4" r="3.5" class="h0"/><circle cx="452.8" cy="342.7" r="3.3" class="h2"/><circle cx="442.2" cy="413.7" r="3.0" class="h0"/><circle cx="412.2" cy="310.7" r="3.9" class="h1"/><circle cx="410.0" cy="324.9" r="2.9" class="h3"/><circle cx="484.5" cy="357.3" r="3.5" class="h3"/><circle cx="449.8" cy="438.9" r="3.2" class="h1"/><circle cx="457.1" cy="369.8" r="3.1" class="h3"/><circle cx="461.3" cy="329.3" r="4.4" class="h1"/><circle cx="413.0" cy="323.8" r="3.4" class="h5"/><circle cx="384.1" cy="409.5" r="4.0" class="h1"/><circle cx="433.8" cy="407.0" r="2.9" class="h5"/><circle cx="457.8" cy="431.7" r="4.4" class="h4"/><circle cx="414.6" cy="400.5" r="4.0" class="h3"/><circle cx="419.6" cy="361.1" r="3.1" class="h4"/><circle cx="415.4" cy="405.4" r="3.4" class="h3"/><circle cx="482.3" cy="376.6" r="4.3" class="h4"/><circle cx="474.4" cy="381.2" r="3.9" class="h3"/><circle cx="352.2" cy="372.5" r="4.0" class="h0"/><circle cx="466.5" cy="424.7" r="4.4" class="h5"/><circle cx="393.0" cy="353.9" r="3.2" class="h4"/><circle cx="449.0" cy="400.4" r="3.4" class="h2"/><circle cx="431.7" cy="339.4" r="3.8" class="h3"/><circle cx="381.9" cy="345.7" r="3.5" class="h3"/><circle cx="448.7" cy="436.4" r="4.0" class="h5"/><circle cx="446.1" cy="381.2" r="3.0" class="h2"/><circle cx="460.5" cy="371.6" r="4.3" class="h5"/><circle cx="373.9" cy="364.5" r="2.9" class="h0"/><circle cx="482.5" cy="411.5" r="4.1" class="h1"/><circle cx="479.6" cy="390.8" r="4.1" class="h4"/><circle cx="352.8" cy="377.6" r="3.0" class="h1"/><circle cx="341.5" cy="392.1" r="2.9" class="h3"/><circle cx="419.6" cy="394.4" r="4.4" class="h0"/><circle cx="485.7" cy="344.8" r="4.0" class="h3"/><circle cx="476.4" cy="407.9" r="3.2" class="h5"/><circle cx="420.3" cy="313.4" r="3.2" class="h1"/><circle cx="487.1" cy="360.4" r="2.9" class="h5"/><circle cx="445.4" cy="432.2" r="4.1" class="h5"/><circle cx="447.9" cy="436.4" r="3.1" class="h0"/><circle cx="396.6" cy="400.1" r="3.0" class="h4"/><circle cx="383.5" cy="344.9" r="4.0" class="h2"/><circle cx="437.0" cy="369.3" r="3.2" class="h0"/><circle cx="485.0" cy="344.9" r="3.6" class="h2"/><circle cx="482.0" cy="409.2" r="3.8" class="h0"/><circle cx="411.6" cy="325.7" r="4.1" class="h4"/><circle cx="397.8" cy="341.3" r="3.5" class="h5"/><circle cx="364.3" cy="390.6" r="4.3" class="h1"/><circle cx="492.2" cy="372.0" r="3.1" class="h4"/><circle cx="403.2" cy="361.8" r="2.8" class="h4"/><circle cx="468.8" cy="410.1" r="3.9" class="h4"/><circle cx="416.5" cy="336.9" r="3.9" class="h0"/><circle cx="435.0" cy="389.9" r="3.8" class="h4"/><circle cx="496.9" cy="367.6" r="3.5" class="h5"/><circle cx="460.4" cy="338.4" r="3.2" class="h5"/><circle cx="391.4" cy="364.4" r="3.2" class="h3"/><circle cx="513.9" cy="360.8" r="3.4" class="h2"/><circle cx="501.6" cy="358.9" r="4.0" class="h4"/><circle cx="409.1" cy="348.6" r="3.2" class="h4"/><circle cx="334.0" cy="392.3" r="4.3" class="h2"/><circle cx="425.8" cy="373.5" r="3.8" class="h4"/><circle cx="469.7" cy="364.1" r="2.9" class="h0"/><circle cx="471.2" cy="391.0" r="3.6" class="h0"/><circle cx="350.4" cy="376.5" r="3.1" class="h1"/><circle cx="478.2" cy="380.0" r="4.3" class="h2"/><circle cx="482.3" cy="375.3" r="3.5" class="h1"/><circle cx="429.2" cy="414.4" r="4.0" class="h3"/><circle cx="450.2" cy="362.8" r="3.2" class="h1"/><circle cx="455.5" cy="432.0" r="4.2" class="h0"/><circle cx="465.3" cy="395.8" r="4.1" class="h5"/><circle cx="490.3" cy="340.8" r="3.9" class="h2"/><circle cx="399.7" cy="413.1" r="3.6" class="h0"/><circle cx="382.6" cy="355.9" r="4.1" class="h1"/><circle cx="374.3" cy="404.1" r="3.3" class="h0"/><circle cx="373.0" cy="409.6" r="3.3" class="h1"/><circle cx="393.5" cy="405.1" r="3.5" class="h4"/><circle cx="340.4" cy="379.7" r="3.5" class="h4"/><circle cx="403.9" cy="409.7" r="4.0" class="h0"/><circle cx="501.7" cy="364.9" r="4.0" class="h3"/><circle cx="442.9" cy="426.8" r="2.9" class="h3"/><circle cx="452.5" cy="326.2" r="3.5" class="h2"/><circle cx="406.6" cy="357.5" r="4.0" class="h3"/><circle cx="399.1" cy="417.4" r="3.4" class="h1"/><circle cx="343.2" cy="394.0" r="3.9" class="h2"/><circle cx="352.3" cy="367.3" r="3.8" class="h4"/><circle cx="365.0" cy="398.8" r="4.3" class="h4"/><circle cx="475.5" cy="361.8" r="3.9" class="h5"/><circle cx="345.5" cy="383.8" r="4.2" class="h4"/><circle cx="416.4" cy="354.5" r="3.9" class="h0"/><circle cx="383.7" cy="345.3" r="3.6" class="h3"/><circle cx="401.4" cy="368.5" r="3.7" class="h0"/><circle cx="390.8" cy="394.0" r="3.6" class="h0"/><circle cx="385.2" cy="363.7" r="3.5" class="h0"/><circle cx="405.9" cy="355.3" r="3.8" class="h0"/><circle cx="494.8" cy="386.5" r="3.7" class="h2"/><circle cx="492.2" cy="398.6" r="3.6" class="h5"/><circle cx="473.8" cy="410.4" r="4.1" class="h5"/><circle cx="372.7" cy="375.7" r="3.6" class="h1"/><circle cx="389.8" cy="392.6" r="2.9" class="h1"/><circle cx="506.9" cy="371.5" r="4.1" class="h0"/><circle cx="453.7" cy="376.5" r="3.5" class="h4"/><circle cx="455.7" cy="339.5" r="3.2" class="h4"/><circle cx="450.5" cy="349.4" r="3.7" class="h3"/><circle cx="450.0" cy="398.1" r="3.5" class="h4"/><circle cx="366.5" cy="361.3" r="4.3" class="h4"/><circle cx="515.3" cy="366.5" r="4.0" class="h0"/><circle cx="419.7" cy="328.0" r="4.4" class="h3"/><circle cx="356.6" cy="384.7" r="3.2" class="h1"/><circle cx="363.6" cy="398.0" r="3.1" class="h5"/><circle cx="505.6" cy="346.5" r="2.8" class="h2"/><circle cx="517.2" cy="363.3" r="4.4" class="h0"/><circle cx="392.2" cy="392.5" r="3.3" class="h3"/><circle cx="380.0" cy="382.1" r="3.5" class="h4"/><circle cx="380.0" cy="361.0" r="2.8" class="h0"/><circle cx="492.5" cy="374.8" r="3.2" class="h5"/><circle cx="515.4" cy="375.6" r="3.3" class="h4"/><circle cx="463.9" cy="362.4" r="4.2" class="h1"/><circle cx="392.7" cy="370.6" r="2.9" class="h2"/><circle cx="491.2" cy="379.8" r="3.7" class="h1"/><circle cx="447.2" cy="438.9" r="4.3" class="h3"/><circle cx="406.4" cy="364.1" r="3.5" class="h4"/><circle cx="422.3" cy="362.5" r="3.3" class="h1"/><circle cx="353.5" cy="402.3" r="3.3" class="h0"/><circle cx="336.0" cy="389.4" r="4.2" class="h3"/><circle cx="334.5" cy="383.6" r="3.4" class="h5"/><circle cx="456.5" cy="379.3" r="3.5" class="h4"/><circle cx="377.7" cy="408.2" r="4.0" class="h0"/><circle cx="473.0" cy="420.1" r="3.5" class="h5"/><circle cx="420.4" cy="343.6" r="4.0" class="h5"/><circle cx="432.8" cy="324.5" r="3.8" class="h1"/><circle cx="378.3" cy="369.8" r="3.5" class="h3"/><circle cx="498.7" cy="366.1" r="3.0" class="h4"/><circle cx="392.6" cy="340.0" r="3.9" class="h2"/><circle cx="461.0" cy="349.3" r="4.0" class="h0"/><circle cx="479.9" cy="390.4" r="3.5" class="h1"/><circle cx="435.3" cy="407.5" r="4.0" class="h3"/><circle cx="458.4" cy="325.6" r="3.2" class="h3"/><circle cx="500.9" cy="370.9" r="3.8" class="h4"/><circle cx="438.5" cy="433.2" r="3.4" class="h2"/><circle cx="420.9" cy="388.6" r="3.2" class="h5"/><circle cx="363.3" cy="405.1" r="3.9" class="h2"/><circle cx="421.0" cy="427.2" r="3.0" class="h0"/><circle cx="386.6" cy="407.3" r="2.9" class="h2"/><circle cx="499.9" cy="385.1" r="3.9" class="h5"/><circle cx="346.9" cy="395.2" r="3.2" class="h4"/><circle cx="459.7" cy="392.7" r="3.4" class="h2"/><circle cx="349.0" cy="380.6" r="3.5" class="h4"/><circle cx="432.0" cy="360.9" r="3.2" class="h1"/><circle cx="491.6" cy="395.7" r="4.3" class="h0"/><circle cx="483.9" cy="338.1" r="3.4" class="h2"/><circle cx="481.9" cy="362.7" r="3.2" class="h5"/><circle cx="381.7" cy="399.7" r="3.3" class="h2"/><circle cx="431.3" cy="338.7" r="4.4" class="h1"/><circle cx="462.6" cy="369.2" r="3.2" class="h0"/><circle cx="461.7" cy="400.4" r="2.9" class="h1"/><circle cx="495.0" cy="344.8" r="3.7" class="h0"/><circle cx="463.3" cy="423.4" r="3.1" class="h4"/><circle cx="426.7" cy="351.1" r="3.7" class="h5"/><circle cx="438.5" cy="352.1" r="3.9" class="h0"/><circle cx="497.9" cy="377.8" r="3.4" class="h5"/><circle cx="425.0" cy="401.9" r="4.3" class="h5"/><circle cx="418.0" cy="331.6" r="4.0" class="h3"/><circle cx="531.6" cy="357.9" r="3.6" class="h4"/><circle cx="344.6" cy="396.6" r="3.0" class="h0"/><circle cx="417.2" cy="430.3" r="3.5" class="h1"/><circle cx="403.6" cy="348.3" r="3.9" class="h4"/><circle cx="395.0" cy="418.1" r="3.8" class="h4"/><circle cx="406.4" cy="319.6" r="4.2" class="h0"/><circle cx="447.9" cy="431.1" r="3.3" class="h4"/><circle cx="377.8" cy="397.1" r="3.7" class="h1"/><circle cx="509.8" cy="352.3" r="4.1" class="h3"/><circle cx="399.2" cy="382.0" r="3.8" class="h2"/><circle cx="440.4" cy="396.4" r="3.8" class="h0"/><circle cx="402.5" cy="326.4" r="3.1" class="h0"/><circle cx="515.7" cy="356.8" r="3.1" class="h2"/><circle cx="421.7" cy="396.2" r="2.9" class="h1"/><circle cx="403.6" cy="408.0" r="3.7" class="h2"/><circle cx="476.3" cy="356.3" r="3.0" class="h1"/><circle cx="501.6" cy="381.5" r="3.9" class="h2"/><circle cx="365.1" cy="399.7" r="3.9" class="h3"/><circle cx="450.0" cy="336.3" r="3.2" class="h2"/><circle cx="479.5" cy="368.3" r="3.8" class="h4"/><circle cx="443.2" cy="324.5" r="3.3" class="h0"/><circle cx="512.9" cy="357.8" r="3.5" class="h1"/><circle cx="378.4" cy="344.2" r="4.2" class="h2"/><circle cx="430.3" cy="335.7" r="4.0" class="h5"/><circle cx="505.4" cy="366.2" r="3.9" class="h3"/><circle cx="435.8" cy="354.9" r="3.2" class="h2"/><circle cx="404.6" cy="413.9" r="3.3" class="h2"/><circle cx="341.1" cy="387.8" r="2.9" class="h0"/><circle cx="360.1" cy="387.4" r="4.2" class="h2"/><circle cx="346.7" cy="378.5" r="4.1" class="h3"/><circle cx="429.4" cy="398.5" r="2.8" class="h2"/><circle cx="390.6" cy="383.8" r="4.3" class="h2"/><circle cx="495.5" cy="369.0" r="3.7" class="h1"/><circle cx="485.7" cy="388.5" r="3.5" class="h5"/><circle cx="406.8" cy="360.1" r="3.1" class="h0"/><circle cx="436.8" cy="423.2" r="3.3" class="h1"/><circle cx="499.5" cy="379.0" r="3.8" class="h1"/><circle cx="340.3" cy="389.6" r="3.1" class="h0"/><circle cx="355.5" cy="391.8" r="2.9" class="h4"/><circle cx="503.7" cy="385.2" r="4.0" class="h5"/><circle cx="401.9" cy="370.6" r="3.4" class="h5"/><circle cx="379.3" cy="379.6" r="3.0" class="h4"/><circle cx="488.1" cy="344.4" r="3.8" class="h4"/><circle cx="407.7" cy="351.2" r="3.7" class="h0"/><circle cx="372.5" cy="410.9" r="3.0" class="h1"/><circle cx="463.4" cy="360.1" r="4.1" class="h1"/><circle cx="444.3" cy="414.6" r="4.1" class="h5"/><circle cx="380.4" cy="384.1" r="3.2" class="h1"/><circle cx="435.1" cy="352.9" r="3.1" class="h4"/><circle cx="438.7" cy="386.6" r="4.4" class="h1"/><circle cx="338.3" cy="385.6" r="3.6" class="h5"/><circle cx="456.2" cy="390.4" r="3.6" class="h0"/><circle cx="460.8" cy="365.5" r="3.6" class="h1"/><circle cx="419.7" cy="416.2" r="3.3" class="h1"/><circle cx="433.2" cy="391.5" r="3.9" class="h3"/><circle cx="471.0" cy="379.8" r="3.3" class="h4"/><circle cx="440.3" cy="356.2" r="4.2" class="h0"/><circle cx="470.8" cy="364.7" r="2.9" class="h5"/><circle cx="458.8" cy="331.7" r="3.9" class="h5"/><circle cx="461.5" cy="410.0" r="2.9" class="h4"/><circle cx="444.1" cy="390.2" r="3.4" class="h5"/><circle cx="418.5" cy="337.8" r="4.3" class="h0"/><circle cx="382.8" cy="343.5" r="3.2" class="h4"/><circle cx="433.1" cy="324.6" r="3.4" class="h3"/><circle cx="441.9" cy="389.2" r="3.9" class="h0"/><circle cx="365.5" cy="406.5" r="2.8" class="h4"/><circle cx="425.8" cy="341.0" r="3.7" class="h1"/><circle cx="358.5" cy="366.6" r="3.6" class="h2"/><circle cx="477.3" cy="365.4" r="3.4" class="h2"/><circle cx="368.4" cy="354.8" r="3.9" class="h4"/><circle cx="513.2" cy="355.3" r="3.9" class="h5"/><circle cx="420.7" cy="375.3" r="3.3" class="h4"/><circle cx="470.9" cy="409.1" r="3.2" class="h2"/><circle cx="425.4" cy="380.5" r="4.3" class="h4"/><circle cx="341.9" cy="386.5" r="3.7" class="h2"/><circle cx="519.8" cy="356.6" r="3.3" class="h0"/><circle cx="473.2" cy="397.9" r="3.7" class="h2"/><circle cx="464.9" cy="411.2" r="4.3" class="h2"/><circle cx="388.9" cy="387.5" r="4.4" class="h1"/><circle cx="396.0" cy="346.9" r="4.3" class="h0"/><circle cx="493.8" cy="375.9" r="2.8" class="h4"/><circle cx="493.4" cy="365.7" r="4.4" class="h0"/><circle cx="418.4" cy="363.1" r="3.2" class="h0"/><circle cx="472.2" cy="368.6" r="2.9" class="h0"/><circle cx="471.3" cy="349.2" r="4.0" class="h2"/><circle cx="347.4" cy="371.4" r="3.0" class="h1"/><circle cx="413.9" cy="370.5" r="3.6" class="h4"/><circle cx="386.7" cy="389.6" r="4.2" class="h0"/><circle cx="506.6" cy="353.5" r="3.4" class="h3"/><circle cx="380.3" cy="371.2" r="3.4" class="h4"/><circle cx="379.8" cy="389.5" r="4.3" class="h5"/><circle cx="432.2" cy="410.5" r="3.9" class="h2"/><circle cx="491.0" cy="351.2" r="3.2" class="h3"/><circle cx="444.2" cy="422.9" r="3.4" class="h5"/><circle cx="460.1" cy="326.3" r="3.9" class="h4"/><circle cx="453.1" cy="352.1" r="2.9" class="h0"/><circle cx="476.0" cy="372.7" r="4.0" class="h1"/><circle cx="477.1" cy="408.3" r="3.9" class="h0"/><circle cx="358.8" cy="400.7" r="2.9" class="h4"/><circle cx="496.4" cy="381.3" r="2.9" class="h3"/><circle cx="414.4" cy="308.5" r="3.5" class="h3"/><circle cx="483.5" cy="368.9" r="4.1" class="h5"/><circle cx="398.8" cy="384.8" r="2.9" class="h4"/><circle cx="412.9" cy="322.1" r="2.9" class="h5"/><circle cx="477.8" cy="348.5" r="3.7" class="h3"/><circle cx="398.3" cy="410.8" r="4.3" class="h3"/><circle cx="494.1" cy="347.6" r="4.2" class="h4"/><circle cx="468.0" cy="385.6" r="3.1" class="h1"/><circle cx="482.6" cy="338.8" r="2.9" class="h0"/><circle cx="420.5" cy="370.8" r="3.9" class="h3"/><circle cx="353.9" cy="397.4" r="3.0" class="h0"/><circle cx="448.4" cy="384.4" r="4.1" class="h2"/><circle cx="368.7" cy="395.4" r="3.7" class="h5"/><circle cx="390.0" cy="411.7" r="3.5" class="h4"/><circle cx="443.3" cy="397.2" r="4.1" class="h2"/><circle cx="443.7" cy="392.7" r="3.0" class="h1"/><circle cx="369.7" cy="393.3" r="3.7" class="h4"/><circle cx="474.3" cy="377.1" r="2.9" class="h5"/><circle cx="469.3" cy="357.6" r="3.3" class="h4"/><circle cx="423.7" cy="372.8" r="2.9" class="h2"/><circle cx="412.6" cy="395.4" r="3.7" class="h1"/><circle cx="372.4" cy="398.0" r="4.0" class="h0"/><circle cx="504.3" cy="379.8" r="3.4" class="h0"/><circle cx="418.4" cy="405.2" r="2.8" class="h2"/><circle cx="473.3" cy="395.4" r="3.9" class="h3"/><circle cx="360.9" cy="402.0" r="3.8" class="h2"/><circle cx="391.8" cy="418.3" r="3.0" class="h0"/><circle cx="433.3" cy="410.0" r="3.4" class="h5"/><circle cx="481.3" cy="354.9" r="3.0" class="h2"/><circle cx="458.3" cy="361.2" r="3.0" class="h3"/><circle cx="429.0" cy="355.8" r="3.2" class="h2"/><circle cx="425.8" cy="367.3" r="4.1" class="h3"/><circle cx="427.1" cy="422.3" r="3.9" class="h3"/><circle cx="430.1" cy="346.5" r="4.0" class="h0"/><circle cx="471.3" cy="420.4" r="3.6" class="h3"/><circle cx="500.1" cy="358.3" r="3.3" class="h3"/><circle cx="366.6" cy="379.1" r="4.0" class="h4"/><circle cx="429.3" cy="332.9" r="4.3" class="h0"/><circle cx="448.4" cy="348.9" r="3.4" class="h2"/><circle cx="405.7" cy="410.9" r="3.5" class="h1"/><circle cx="491.6" cy="345.0" r="4.2" class="h0"/><circle cx="382.9" cy="408.8" r="2.9" class="h1"/><circle cx="463.6" cy="428.3" r="3.4" class="h2"/><circle cx="389.0" cy="367.5" r="3.0" class="h4"/><circle cx="453.7" cy="404.3" r="3.1" class="h2"/><circle cx="436.2" cy="384.7" r="3.3" class="h1"/><circle cx="392.1" cy="377.0" r="3.6" class="h5"/><circle cx="439.5" cy="397.7" r="3.0" class="h2"/><circle cx="365.4" cy="363.9" r="4.4" class="h2"/><circle cx="377.0" cy="408.6" r="3.6" class="h2"/><circle cx="348.8" cy="372.7" r="3.1" class="h0"/><circle cx="361.1" cy="383.4" r="2.8" class="h2"/><circle cx="407.5" cy="394.0" r="4.1" class="h2"/><circle cx="461.1" cy="339.0" r="3.3" class="h4"/><circle cx="408.2" cy="321.9" r="4.3" class="h1"/><circle cx="376.0" cy="409.5" r="3.8" class="h0"/><circle cx="434.8" cy="426.7" r="4.0" class="h0"/><circle cx="367.0" cy="378.6" r="3.1" class="h3"/><circle cx="398.2" cy="356.2" r="2.9" class="h3"/><circle cx="407.2" cy="376.5" r="4.0" class="h5"/><circle cx="352.8" cy="377.1" r="3.9" class="h0"/><circle cx="448.4" cy="355.0" r="3.8" class="h3"/><circle cx="486.2" cy="357.3" r="3.9" class="h2"/><circle cx="451.3" cy="344.5" r="4.0" class="h5"/><circle cx="372.8" cy="346.9" r="4.2" class="h0"/><circle cx="402.6" cy="379.7" r="4.1" class="h2"/><circle cx="387.3" cy="391.9" r="3.9" class="h3"/><circle cx="404.1" cy="420.8" r="3.0" class="h5"/><circle cx="427.4" cy="345.3" r="4.2" class="h1"/><circle cx="398.5" cy="338.9" r="4.0" class="h4"/><circle cx="401.3" cy="396.6" r="3.6" class="h2"/><circle cx="370.0" cy="408.0" r="3.2" class="h2"/><circle cx="445.5" cy="403.5" r="3.9" class="h4"/><circle cx="417.9" cy="339.9" r="4.3" class="h2"/><circle cx="480.2" cy="366.2" r="3.4" class="h0"/><circle cx="499.3" cy="392.2" r="4.0" class="h5"/><circle cx="344.0" cy="391.3" r="3.9" class="h4"/><circle cx="414.1" cy="355.3" r="2.9" class="h2"/><circle cx="456.6" cy="361.7" r="4.0" class="h5"/><circle cx="404.0" cy="327.0" r="4.2" class="h0"/><circle cx="483.6" cy="391.7" r="3.3" class="h1"/><circle cx="453.4" cy="330.6" r="3.6" class="h4"/><circle cx="329.3" cy="389.7" r="4.2" class="h2"/><circle cx="354.3" cy="395.5" r="3.3" class="h1"/><circle cx="442.7" cy="440.4" r="4.1" class="h0"/><circle cx="495.9" cy="360.4" r="4.3" class="h2"/><circle cx="411.8" cy="340.3" r="3.0" class="h2"/><circle cx="438.1" cy="319.8" r="4.2" class="h1"/><circle cx="435.5" cy="413.7" r="3.0" class="h0"/><circle cx="464.9" cy="349.2" r="3.9" class="h4"/><circle cx="416.3" cy="363.7" r="4.1" class="h5"/><circle cx="366.6" cy="356.6" r="4.0" class="h2"/><circle cx="469.9" cy="351.7" r="4.0" class="h3"/><circle cx="436.3" cy="409.1" r="3.1" class="h3"/><circle cx="377.8" cy="361.0" r="3.5" class="h1"/><circle cx="443.4" cy="414.8" r="2.9" class="h1"/><circle cx="413.9" cy="383.5" r="2.8" class="h0"/><circle cx="460.6" cy="339.5" r="3.8" class="h2"/><circle cx="439.8" cy="322.5" r="4.2" class="h4"/><circle cx="393.5" cy="391.9" r="4.2" class="h5"/><circle cx="483.4" cy="378.1" r="2.9" class="h5"/><circle cx="423.5" cy="316.7" r="3.2" class="h2"/><circle cx="498.9" cy="373.6" r="3.7" class="h2"/><circle cx="365.1" cy="401.6" r="4.1" class="h4"/><circle cx="379.7" cy="409.5" r="3.5" class="h4"/><circle cx="492.1" cy="364.7" r="3.1" class="h4"/><circle cx="407.9" cy="314.9" r="3.6" class="h3"/><circle cx="415.3" cy="325.9" r="2.9" class="h1"/><circle cx="489.2" cy="375.7" r="3.1" class="h2"/><circle cx="446.5" cy="431.5" r="3.6" class="h5"/><circle cx="424.3" cy="382.3" r="4.3" class="h2"/><circle cx="490.2" cy="349.8" r="4.2" class="h2"/><circle cx="483.0" cy="342.2" r="3.5" class="h2"/><circle cx="368.3" cy="361.1" r="3.3" class="h4"/><circle cx="402.2" cy="416.3" r="3.0" class="h4"/><circle cx="526.4" cy="363.6" r="3.7" class="h3"/><circle cx="414.7" cy="341.3" r="3.3" class="h4"/><circle cx="392.5" cy="411.3" r="3.0" class="h1"/><circle cx="447.8" cy="407.6" r="3.0" class="h3"/><circle cx="438.0" cy="317.5" r="3.6" class="h2"/><circle cx="487.0" cy="350.7" r="3.6" class="h5"/><circle cx="454.1" cy="343.5" r="3.6" class="h4"/><circle cx="460.5" cy="336.5" r="3.5" class="h2"/><circle cx="485.7" cy="387.2" r="3.9" class="h1"/><circle cx="425.4" cy="376.3" r="4.2" class="h1"/><circle cx="495.8" cy="389.8" r="4.0" class="h0"/><circle cx="515.7" cy="379.6" r="2.8" class="h5"/><circle cx="505.9" cy="352.7" r="3.2" class="h4"/><circle cx="494.4" cy="369.2" r="3.8" class="h5"/><circle cx="396.2" cy="365.7" r="3.7" class="h4"/><circle cx="504.1" cy="379.6" r="2.9" class="h2"/><circle cx="489.9" cy="360.7" r="4.1" class="h5"/><circle cx="460.8" cy="378.7" r="3.0" class="h4"/><circle cx="515.8" cy="354.6" r="3.1" class="h3"/><circle cx="438.6" cy="400.8" r="3.8" class="h4"/><circle cx="403.6" cy="351.2" r="3.4" class="h2"/><circle cx="454.6" cy="338.5" r="3.8" class="h5"/><circle cx="406.3" cy="359.8" r="2.9" class="h1"/><circle cx="492.5" cy="372.1" r="2.9" class="h4"/><circle cx="375.6" cy="353.1" r="3.2" class="h0"/><circle cx="428.9" cy="372.7" r="4.1" class="h0"/><circle cx="355.7" cy="368.5" r="4.1" class="h3"/><circle cx="492.5" cy="364.0" r="3.9" class="h1"/><circle cx="387.3" cy="375.2" r="3.2" class="h1"/><circle cx="420.7" cy="397.7" r="4.0" class="h1"/><circle cx="429.9" cy="406.1" r="4.1" class="h0"/><circle cx="484.8" cy="391.0" r="2.9" class="h4"/><circle cx="439.6" cy="409.1" r="3.6" class="h0"/><circle cx="497.9" cy="365.3" r="4.4" class="h2"/><circle cx="416.0" cy="365.1" r="3.6" class="h3"/><circle cx="460.7" cy="326.3" r="4.2" class="h4"/><circle cx="530.2" cy="358.0" r="3.6" class="h2"/><circle cx="441.4" cy="381.7" r="3.7" class="h1"/><circle cx="422.4" cy="423.8" r="2.8" class="h4"/><circle cx="426.0" cy="398.4" r="4.1" class="h0"/><circle cx="409.0" cy="355.0" r="4.0" class="h0"/><circle cx="418.5" cy="367.4" r="3.4" class="h4"/><circle cx="433.4" cy="351.1" r="3.8" class="h1"/><circle cx="390.1" cy="345.0" r="4.2" class="h0"/><circle cx="492.1" cy="372.2" r="3.6" class="h2"/><circle cx="384.1" cy="348.8" r="3.3" class="h2"/><circle cx="478.5" cy="389.5" r="3.9" class="h5"/><circle cx="505.1" cy="353.6" r="3.9" class="h0"/><circle cx="418.1" cy="331.0" r="3.0" class="h2"/><circle cx="399.6" cy="326.6" r="4.0" class="h5"/><circle cx="508.7" cy="359.3" r="3.5" class="h2"/><circle cx="341.9" cy="380.6" r="3.5" class="h1"/><circle cx="374.0" cy="363.5" r="3.5" class="h1"/><circle cx="481.5" cy="358.0" r="3.7" class="h1"/><circle cx="398.9" cy="360.1" r="3.3" class="h5"/><circle cx="381.0" cy="403.1" r="3.7" class="h1"/><circle cx="356.7" cy="390.3" r="2.9" class="h3"/><circle cx="463.7" cy="338.8" r="2.8" class="h2"/><circle cx="454.5" cy="406.2" r="3.6" class="h0"/><circle cx="442.3" cy="407.2" r="4.4" class="h0"/><circle cx="471.9" cy="333.6" r="3.7" class="h2"/><circle cx="373.7" cy="379.6" r="4.1" class="h2"/><circle cx="368.1" cy="407.8" r="2.8" class="h2"/><circle cx="367.3" cy="373.7" r="4.4" class="h1"/><circle cx="376.6" cy="348.8" r="3.3" class="h3"/><circle cx="521.7" cy="353.9" r="3.7" class="h2"/><circle cx="385.8" cy="393.6" r="3.9" class="h4"/><circle cx="378.9" cy="351.6" r="4.1" class="h5"/><circle cx="434.8" cy="410.6" r="3.9" class="h1"/><circle cx="392.6" cy="364.0" r="3.4" class="h3"/><circle cx="409.6" cy="417.8" r="3.8" class="h0"/><circle cx="460.0" cy="345.4" r="3.5" class="h0"/><circle cx="429.2" cy="349.4" r="2.9" class="h0"/><circle cx="357.6" cy="391.7" r="4.1" class="h5"/><circle cx="400.3" cy="343.2" r="3.2" class="h1"/><circle cx="466.0" cy="356.4" r="3.8" class="h0"/><circle cx="419.8" cy="341.4" r="3.8" class="h4"/><circle cx="431.5" cy="357.3" r="3.8" class="h5"/><circle cx="406.1" cy="358.2" r="3.1" class="h0"/><circle cx="414.0" cy="382.8" r="3.7" class="h3"/><circle cx="466.0" cy="362.1" r="3.6" class="h1"/><circle cx="383.3" cy="391.7" r="4.2" class="h4"/><circle cx="449.8" cy="405.0" r="4.1" class="h5"/><circle cx="395.4" cy="394.2" r="3.5" class="h1"/><circle cx="386.4" cy="347.9" r="4.3" class="h0"/><circle cx="504.3" cy="384.6" r="3.2" class="h0"/><circle cx="430.6" cy="430.9" r="4.0" class="h0"/><circle cx="425.9" cy="421.6" r="4.0" class="h1"/><circle cx="432.6" cy="338.7" r="3.2" class="h3"/><circle cx="416.6" cy="413.6" r="4.3" class="h0"/><circle cx="389.0" cy="404.6" r="4.4" class="h4"/><circle cx="465.6" cy="338.1" r="4.4" class="h4"/><circle cx="404.7" cy="391.1" r="3.6" class="h3"/><circle cx="387.3" cy="401.9" r="3.1" class="h4"/><circle cx="477.4" cy="397.6" r="4.4" class="h4"/><circle cx="428.3" cy="397.6" r="4.0" class="h3"/><circle cx="507.3" cy="348.0" r="3.3" class="h4"/><circle cx="398.5" cy="350.8" r="3.3" class="h3"/><circle cx="450.9" cy="410.7" r="3.7" class="h3"/><circle cx="502.3" cy="367.7" r="2.9" class="h1"/><circle cx="428.5" cy="361.1" r="3.5" class="h1"/><circle cx="405.0" cy="374.9" r="3.8" class="h4"/><circle cx="462.1" cy="337.3" r="3.8" class="h0"/><circle cx="486.3" cy="363.7" r="4.2" class="h0"/><circle cx="348.1" cy="380.7" r="3.3" class="h0"/><circle cx="387.5" cy="340.9" r="4.0" class="h3"/><circle cx="420.4" cy="378.7" r="3.2" class="h4"/><circle cx="515.0" cy="373.2" r="4.1" class="h5"/><circle cx="343.7" cy="385.9" r="2.9" class="h3"/><circle cx="451.3" cy="432.9" r="3.7" class="h4"/><circle cx="473.1" cy="390.0" r="3.8" class="h4"/><circle cx="447.8" cy="341.2" r="3.0" class="h1"/><circle cx="418.7" cy="355.7" r="3.3" class="h1"/><circle cx="411.9" cy="321.9" r="3.0" class="h1"/><circle cx="504.9" cy="377.0" r="3.8" class="h1"/><circle cx="439.4" cy="403.1" r="3.9" class="h4"/><circle cx="427.5" cy="358.0" r="3.6" class="h2"/><circle cx="462.5" cy="415.6" r="3.2" class="h0"/><circle cx="346.2" cy="377.5" r="4.0" class="h4"/><circle cx="338.6" cy="383.7" r="3.9" class="h0"/><circle cx="342.8" cy="380.7" r="4.0" class="h2"/><circle cx="426.0" cy="355.7" r="4.2" class="h2"/><circle cx="446.3" cy="398.7" r="3.9" class="h5"/><circle cx="514.0" cy="368.4" r="3.6" class="h1"/><circle cx="472.8" cy="403.8" r="3.7" class="h5"/><circle cx="393.2" cy="396.4" r="4.3" class="h3"/><circle cx="356.3" cy="381.0" r="4.1" class="h5"/><circle cx="354.3" cy="370.1" r="3.7" class="h0"/><circle cx="455.9" cy="413.4" r="3.3" class="h3"/><circle cx="367.7" cy="374.6" r="3.9" class="h2"/><circle cx="459.6" cy="366.6" r="3.8" class="h2"/><circle cx="420.1" cy="370.4" r="4.2" class="h3"/><circle cx="368.9" cy="382.8" r="3.3" class="h2"/><circle cx="431.3" cy="316.0" r="3.0" class="h2"/><circle cx="484.6" cy="336.9" r="3.2" class="h4"/><circle cx="444.8" cy="426.9" r="3.2" class="h3"/><circle cx="486.1" cy="383.9" r="4.0" class="h2"/><circle cx="391.9" cy="412.0" r="3.0" class="h3"/><circle cx="426.3" cy="317.5" r="3.6" class="h1"/><circle cx="519.1" cy="353.2" r="4.3" class="h1"/><circle cx="391.6" cy="333.0" r="3.4" class="h0"/><circle cx="461.0" cy="342.2" r="3.8" class="h4"/><circle cx="458.0" cy="390.4" r="3.4" class="h4"/><circle cx="487.1" cy="348.3" r="4.2" class="h1"/><circle cx="374.8" cy="388.7" r="3.9" class="h5"/><circle cx="472.9" cy="334.5" r="3.1" class="h2"/><circle cx="443.3" cy="440.0" r="3.1" class="h5"/><circle cx="468.9" cy="382.9" r="3.1" class="h3"/><circle cx="466.9" cy="388.9" r="3.4" class="h5"/><circle cx="464.4" cy="411.5" r="3.8" class="h3"/><circle cx="408.6" cy="338.1" r="3.3" class="h3"/><circle cx="398.0" cy="391.3" r="3.1" class="h1"/><circle cx="386.2" cy="345.0" r="3.9" class="h4"/><circle cx="444.5" cy="408.2" r="2.9" class="h1"/><circle cx="412.3" cy="315.7" r="2.8" class="h3"/><circle cx="469.1" cy="394.0" r="3.5" class="h3"/><circle cx="383.5" cy="339.5" r="3.6" class="h2"/><circle cx="436.2" cy="378.5" r="4.2" class="h1"/><circle cx="436.9" cy="436.4" r="3.4" class="h2"/><circle cx="394.8" cy="420.5" r="3.7" class="h1"/><circle cx="515.9" cy="375.4" r="3.8" class="h0"/><circle cx="483.3" cy="357.2" r="3.8" class="h4"/><circle cx="383.7" cy="343.8" r="2.9" class="h5"/><circle cx="426.8" cy="358.5" r="3.9" class="h4"/><circle cx="460.7" cy="371.9" r="2.8" class="h0"/><circle cx="382.3" cy="356.5" r="4.1" class="h4"/><circle cx="422.9" cy="421.0" r="4.2" class="h2"/><circle cx="428.7" cy="411.5" r="3.0" class="h3"/><circle cx="478.9" cy="388.2" r="2.8" class="h3"/><circle cx="401.0" cy="367.1" r="2.8" class="h5"/><circle cx="389.5" cy="402.1" r="4.1" class="h0"/><circle cx="449.1" cy="339.0" r="3.4" class="h5"/><circle cx="467.9" cy="377.2" r="3.6" class="h2"/><circle cx="358.8" cy="387.5" r="4.3" class="h5"/><circle cx="458.6" cy="425.6" r="3.8" class="h2"/><circle cx="390.0" cy="337.1" r="3.4" class="h6"/><circle cx="372.0" cy="387.6" r="3.4" class="h6"/><circle cx="430.0" cy="354.7" r="3.1" class="h6"/><circle cx="470.0" cy="378.2" r="3.1" class="h6"/><circle cx="350.0" cy="378.2" r="3.1" class="h6"/><circle cx="500.0" cy="354.7" r="2.7" class="h6"/><circle cx="410.0" cy="319.4" r="3.1" class="h6"/><circle cx="440.0" cy="401.8" r="3.1" class="h6"/></g></g>

</g>
<polyline points="331.0,334.0 448.7,376.5 532.2,308.5" fill="none" stroke="#9a9a9a" stroke-width="0.6"/>
<line x1="532.2" y1="308.5" x2="532.2" y2="284.3" stroke="#555" stroke-width="0.7"/>
<line x1="530.9" y1="308.5" x2="532.2" y2="308.5" stroke="#555" stroke-width="0.5"/>
<line x1="531.4" y1="305.5" x2="532.2" y2="305.5" stroke="#555" stroke-width="0.5"/>
<line x1="530.9" y1="302.4" x2="532.2" y2="302.4" stroke="#555" stroke-width="0.5"/>
<line x1="531.4" y1="299.4" x2="532.2" y2="299.4" stroke="#555" stroke-width="0.5"/>
<line x1="530.9" y1="296.4" x2="532.2" y2="296.4" stroke="#555" stroke-width="0.5"/>
<line x1="531.4" y1="293.4" x2="532.2" y2="293.4" stroke="#555" stroke-width="0.5"/>
<line x1="530.9" y1="290.4" x2="532.2" y2="290.4" stroke="#555" stroke-width="0.5"/>
<line x1="531.4" y1="287.3" x2="532.2" y2="287.3" stroke="#555" stroke-width="0.5"/>
<line x1="530.9" y1="284.3" x2="532.2" y2="284.3" stroke="#555" stroke-width="0.5"/>
<text class="at" x="540.2" y="283.0" text-anchor="middle">nm</text>
<text class="at" x="540.2" y="287.5" text-anchor="middle">10</text>
<text class="at" x="539.2" y="293.0" text-anchor="middle">7.5</text>
<text class="at" x="541.7" y="299.5" text-anchor="middle">5</text>
<text class="at" x="540.2" y="304.5" text-anchor="middle">2.5</text>
<text class="at" transform="translate(329.0,338.5) rotate(19.85401814034002)" text-anchor="middle">1000</text>
<text class="at" transform="translate(358.4,349.1) rotate(19.85401814034002)" text-anchor="middle">750</text>
<text class="at" transform="translate(387.9,359.8) rotate(19.85401814034002)" text-anchor="middle">500</text>
<text class="at" transform="translate(387.2,363.1) rotate(19.85401814034002)" text-anchor="middle">nm</text>
<text class="at" transform="translate(417.3,370.4) rotate(19.85401814034002)" text-anchor="middle">250</text>
<text class="at" transform="translate(445.2,380.7) rotate(0)" text-anchor="middle">0</text>
<text class="at" transform="translate(453.2,380.7) rotate(0)" text-anchor="middle">0</text>
<text class="at" transform="translate(478.2,360.6) rotate(-39.15838113318109)" text-anchor="middle">250</text>
<text class="at" transform="translate(499.1,343.6) rotate(-39.15838113318109)" text-anchor="middle">500</text>
<text class="at" transform="translate(502.1,345.6) rotate(-39.15838113318109)" text-anchor="middle">nm</text>
<text class="at" transform="translate(520.0,326.6) rotate(-39.15838113318109)" text-anchor="middle">750</text>
<text class="at" transform="translate(539.7,311.0) rotate(-39.15838113318109)" text-anchor="middle">1000</text>
<rect x="303.2" y="46.3" width="5.4" height="148.3" fill="#fff" stroke="#c8c8c8" stroke-width="0.6"/><rect x="303.5" y="144.4" width="4.8" height="50.19999999999999" fill="url(#cbg)"/><line x1="303.2" y1="144.4" x2="308.59999999999997" y2="144.4" stroke="#bbb" stroke-width="0.6"/><line x1="303.5" y1="122.2" x2="308.3" y2="122.2" stroke="#6a78c8" stroke-width="0.7"/><line x1="303.5" y1="180.5" x2="308.3" y2="180.5" stroke="#c83a14" stroke-width="0.9" opacity="0.8"/><line x1="301.9" y1="46.3" x2="303.2" y2="46.3" stroke="#aaa" stroke-width="0.5"/><text x="301.4" y="47.6" text-anchor="end" class="cb">10</text><line x1="301.9" y1="83.4" x2="303.2" y2="83.4" stroke="#aaa" stroke-width="0.5"/><text x="301.4" y="84.7" text-anchor="end" class="cb">7.5</text><line x1="301.9" y1="120.5" x2="303.2" y2="120.5" stroke="#aaa" stroke-width="0.5"/><text x="301.4" y="121.8" text-anchor="end" class="cb">5</text><line x1="301.9" y1="157.5" x2="303.2" y2="157.5" stroke="#aaa" stroke-width="0.5"/><text x="301.4" y="158.8" text-anchor="end" class="cb">2.5</text><line x1="301.9" y1="194.6" x2="303.2" y2="194.6" stroke="#aaa" stroke-width="0.5"/><text x="301.4" y="195.9" text-anchor="end" class="cb">0</text><text x="301.7" y="43.099999999999994" text-anchor="end" class="cb">nm</text><rect x="13" y="246.4" width="5.4" height="149.6" fill="#fff" stroke="#c8c8c8" stroke-width="0.6"/><rect x="13.3" y="348.7" width="4.8" height="47.30000000000001" fill="url(#cbg)"/><line x1="13" y1="348.7" x2="18.4" y2="348.7" stroke="#bbb" stroke-width="0.6"/><line x1="13.3" y1="330.6" x2="18.1" y2="330.6" stroke="#6a78c8" stroke-width="0.7"/><line x1="13.3" y1="377.7" x2="18.1" y2="377.7" stroke="#c83a14" stroke-width="0.9" opacity="0.8"/><line x1="11.7" y1="246.4" x2="13" y2="246.4" stroke="#aaa" stroke-width="0.5"/><text x="11.2" y="247.7" text-anchor="end" class="cb">10</text><line x1="11.7" y1="283.8" x2="13" y2="283.8" stroke="#aaa" stroke-width="0.5"/><text x="11.2" y="285.1" text-anchor="end" class="cb">7.5</text><line x1="11.7" y1="321.2" x2="13" y2="321.2" stroke="#aaa" stroke-width="0.5"/><text x="11.2" y="322.5" text-anchor="end" class="cb">5</text><line x1="11.7" y1="358.6" x2="13" y2="358.6" stroke="#aaa" stroke-width="0.5"/><text x="11.2" y="359.9" text-anchor="end" class="cb">2.5</text><line x1="11.7" y1="396.0" x2="13" y2="396.0" stroke="#aaa" stroke-width="0.5"/><text x="11.2" y="397.3" text-anchor="end" class="cb">0</text><text x="11.5" y="243.20000000000002" text-anchor="end" class="cb">nm</text><rect x="302.6" y="247.5" width="5.4" height="149.0" fill="#fff" stroke="#c8c8c8" stroke-width="0.6"/><rect x="302.90000000000003" y="343.8" width="4.8" height="52.69999999999999" fill="url(#cbg)"/><line x1="302.6" y1="343.8" x2="308.0" y2="343.8" stroke="#bbb" stroke-width="0.6"/><line x1="302.90000000000003" y1="334" x2="307.70000000000005" y2="334" stroke="#6a78c8" stroke-width="0.7"/><line x1="302.90000000000003" y1="377.3" x2="307.70000000000005" y2="377.3" stroke="#c83a14" stroke-width="0.9" opacity="0.8"/><line x1="301.3" y1="247.5" x2="302.6" y2="247.5" stroke="#aaa" stroke-width="0.5"/><text x="300.8" y="248.8" text-anchor="end" class="cb">10</text><line x1="301.3" y1="284.8" x2="302.6" y2="284.8" stroke="#aaa" stroke-width="0.5"/><text x="300.8" y="286.1" text-anchor="end" class="cb">7.5</text><line x1="301.3" y1="322.0" x2="302.6" y2="322.0" stroke="#aaa" stroke-width="0.5"/><text x="300.8" y="323.3" text-anchor="end" class="cb">5</text><line x1="301.3" y1="359.2" x2="302.6" y2="359.2" stroke="#aaa" stroke-width="0.5"/><text x="300.8" y="360.6" text-anchor="end" class="cb">2.5</text><line x1="301.3" y1="396.5" x2="302.6" y2="396.5" stroke="#aaa" stroke-width="0.5"/><text x="300.8" y="397.8" text-anchor="end" class="cb">0</text><text x="301.1" y="244.3" text-anchor="end" class="cb">nm</text>
<text x="302.8" y="31.2" class="pl">(B)</text>
<text x="13.6" y="231.6" class="pl">(C)</text>
<text x="303.6" y="232.4" class="pl">(D)</text>
<text x="320.5" y="52.2" class="t1">CuO, R.T.</text>
<text x="320.5" y="68.5" class="t2">RMS: 0.448 nm</text>
<text x="29" y="253" class="t1">CuO, 100 ℃</text>
<text x="29" y="269.4" class="t2">RMS: 0.544 nm</text>
<text x="317.6" y="253.4" class="t1">CuO, 200 ℃</text>
<text x="317.6" y="269.6" class="t2">RMS: 0.560 nm</text>
</svg>
</body></html>
